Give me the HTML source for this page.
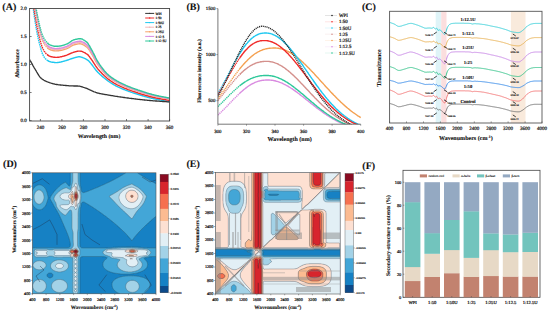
<!DOCTYPE html><html><head><meta charset="utf-8"><style>html,body{margin:0;padding:0;background:#fff;}svg{display:block;}</style></head><body>
<svg width="550" height="313" viewBox="0 0 550 313" text-rendering="geometricPrecision" font-family='"Liberation Serif", serif'>
<rect width="550" height="313" fill="#fff"/>
<svg x="0" y="0" width="550" height="313" overflow="visible">
<defs><clipPath id="clipA"><rect x="29.6" y="8.5" width="140.0" height="112.5"/></clipPath></defs>
<g clip-path="url(#clipA)" fill="none" stroke-width="1.4" stroke-linejoin="round">
<path d="M29.6 -16.7L30.1 -12.6L30.7 -8.7L31.2 -5.1L31.8 -1.5L32.3 2L32.8 5.5L33.4 9.3L33.9 13.2L34.4 17.2L35 20.8L35.5 24.2L36.1 27.4L36.6 30.4L37.1 33.3L37.7 36L38.2 38.5L38.8 40.9L39.3 43.1L39.8 45.2L40.4 47.1L40.9 49L41.4 50.9L42 52.6L42.5 54L43.1 55.2L43.6 56.1L44.1 57L44.7 57.8L45.2 58.5L45.8 59.1L46.3 59.6L46.8 60L47.4 60.4L47.9 60.7" stroke="#1ec8f0" stroke-dasharray="1.5 0.7"/>
<path d="M47.4 60.4L47.9 60.7L48.4 61L49 61.3L49.5 61.5L50.1 61.7L50.6 61.9L51.1 62L51.7 62.1L52.2 62.2L52.8 62.3L53.3 62.3L53.8 62.4L54.4 62.5L54.9 62.5L55.4 62.6L56 62.6L56.5 62.6L57.1 62.6L57.6 62.5L58.1 62.5L58.7 62.4L59.2 62.3L59.8 62.2L60.3 62.1L60.8 62L61.4 61.8L61.9 61.7L62.4 61.6L63 61.4L63.5 61.3L64.1 61.1L64.6 61L65.1 60.9L65.7 60.7L66.2 60.5L66.8 60.3L67.3 60.2L67.8 60L68.4 59.8L68.9 59.6L69.4 59.4L70 59.2L70.5 59L71.1 58.8L71.6 58.7L72.1 58.5L72.7 58.3L73.2 58.2L73.8 58L74.3 57.9L74.8 57.7L75.4 57.5L75.9 57.4L76.4 57.2L77 57.1L77.5 57L78.1 56.9L78.6 56.8L79.1 56.8L79.7 56.8L80.2 56.9L80.8 57L81.3 57.1L81.8 57.3L82.4 57.5L82.9 57.7L83.4 57.9L84 58.1L84.5 58.4L85.1 58.6L85.6 58.9L86.1 59.2L86.7 59.5L87.2 59.8L87.8 60.2L88.3 60.6L88.8 61.1L89.4 61.7L89.9 62.3L90.4 62.9L91 63.6L91.5 64.3L92.1 65L92.6 65.7L93.1 66.4L93.7 67.2L94.2 67.9L94.8 68.6L95.3 69.4L95.8 70L96.4 70.7L96.9 71.3L97.4 71.9L98 72.4L98.5 73L99.1 73.5L99.6 74L100.1 74.5L100.7 75L101.2 75.4L101.8 75.9L102.3 76.4L102.8 76.9L103.4 77.3L103.9 77.8L104.4 78.2L105 78.6L105.5 79.1L106.1 79.5L106.6 79.9L107.1 80.3L107.7 80.7L108.2 81.1L108.8 81.5L109.3 81.8L109.8 82.2L110.4 82.6L110.9 82.9L111.4 83.3L112 83.6L112.5 83.9L113.1 84.3L113.6 84.6L114.1 84.9L114.7 85.2L115.2 85.5L115.8 85.8L116.3 86.1L116.8 86.3L117.4 86.6L117.9 86.9L118.4 87.1L119 87.4L119.5 87.6L120.1 87.9L120.6 88.1L121.1 88.4L121.7 88.6L122.2 88.8L122.8 89L123.3 89.3L123.8 89.5L124.4 89.7L124.9 89.9L125.4 90.1L126 90.3L126.5 90.5L127.1 90.7L127.6 90.9L128.1 91.1L128.7 91.3L129.2 91.5L129.8 91.7L130.3 91.9L130.8 92.1L131.4 92.3L131.9 92.4L132.4 92.6L133 92.8L133.5 93L134.1 93.2L134.6 93.3L135.1 93.5L135.7 93.7L136.2 93.8L136.8 94L137.3 94.2L137.8 94.3L138.4 94.5L138.9 94.7L139.4 94.8L140 95L140.5 95.2L141.1 95.3L141.6 95.5L142.1 95.7L142.7 95.8L143.2 96L143.8 96.1L144.3 96.3L144.8 96.5L145.4 96.6L145.9 96.8L146.4 96.9L147 97.1L147.5 97.2L148.1 97.4L148.6 97.5L149.1 97.6L149.7 97.8L150.2 97.9L150.8 98L151.3 98.2L151.8 98.3L152.4 98.4L152.9 98.5L153.4 98.7L154 98.8L154.5 98.9L155.1 99L155.6 99.1L156.1 99.2L156.7 99.3L157.2 99.4L157.8 99.5L158.3 99.6L158.8 99.7L159.4 99.8L159.9 99.9L160.4 100L161 100.1L161.5 100.2L162.1 100.3L162.6 100.4L163.1 100.5L163.7 100.6L164.2 100.7L164.8 100.8L165.3 100.9L165.8 100.9L166.4 101L166.9 101.1L167.4 101.2L168 101.2L168.5 101.3L169.1 101.4L169.6 101.5" stroke="#1ec8f0"/>
<path d="M29.6 -22.1L30.1 -17.7L30.7 -13.6L31.2 -9.8L31.8 -6.1L32.3 -2.4L32.8 1.1L33.4 4.7L33.9 8.3L34.4 11.9L35 15.2L35.5 18.3L36.1 21.3L36.6 24.3L37.1 27.1L37.7 29.8L38.2 32.3L38.8 34.8L39.3 37.1L39.8 39.2L40.4 41.2L40.9 43.1L41.4 44.9L42 46.6L42.5 48.1L43.1 49.2L43.6 50.2L44.1 51.1L44.7 51.9L45.2 52.7L45.8 53.3L46.3 53.9L46.8 54.3L47.4 54.8L47.9 55.2" stroke="#f02a2a" stroke-dasharray="1.5 0.7"/>
<path d="M47.4 54.8L47.9 55.2L48.4 55.5L49 55.8L49.5 56.1L50.1 56.3L50.6 56.5L51.1 56.7L51.7 56.8L52.2 56.9L52.8 57L53.3 57.1L53.8 57.2L54.4 57.3L54.9 57.3L55.4 57.4L56 57.4L56.5 57.4L57.1 57.4L57.6 57.3L58.1 57.3L58.7 57.2L59.2 57.1L59.8 57L60.3 56.9L60.8 56.8L61.4 56.7L61.9 56.6L62.4 56.4L63 56.3L63.5 56.1L64.1 56L64.6 55.8L65.1 55.7L65.7 55.5L66.2 55.3L66.8 55.1L67.3 54.9L67.8 54.7L68.4 54.5L68.9 54.2L69.4 54L70 53.7L70.5 53.5L71.1 53.2L71.6 53L72.1 52.8L72.7 52.6L73.2 52.4L73.8 52.2L74.3 52.1L74.8 51.9L75.4 51.7L75.9 51.6L76.4 51.5L77 51.3L77.5 51.2L78.1 51.1L78.6 51.1L79.1 51.1L79.7 51.1L80.2 51.1L80.8 51.2L81.3 51.3L81.8 51.4L82.4 51.6L82.9 51.8L83.4 52.1L84 52.4L84.5 52.6L85.1 52.9L85.6 53.3L86.1 53.6L86.7 53.9L87.2 54.3L87.8 54.7L88.3 55.3L88.8 55.9L89.4 56.5L89.9 57.3L90.4 58L91 58.8L91.5 59.6L92.1 60.3L92.6 61.1L93.1 62L93.7 62.8L94.2 63.7L94.8 64.5L95.3 65.4L95.8 66.2L96.4 67L96.9 67.7L97.4 68.4L98 69.1L98.5 69.7L99.1 70.3L99.6 70.9L100.1 71.5L100.7 72.1L101.2 72.6L101.8 73.2L102.3 73.7L102.8 74.3L103.4 74.8L103.9 75.3L104.4 75.8L105 76.3L105.5 76.8L106.1 77.3L106.6 77.8L107.1 78.2L107.7 78.7L108.2 79.1L108.8 79.5L109.3 79.9L109.8 80.3L110.4 80.7L110.9 81L111.4 81.4L112 81.7L112.5 82.1L113.1 82.4L113.6 82.8L114.1 83.1L114.7 83.4L115.2 83.7L115.8 84L116.3 84.3L116.8 84.6L117.4 84.9L117.9 85.1L118.4 85.4L119 85.7L119.5 85.9L120.1 86.2L120.6 86.4L121.1 86.7L121.7 86.9L122.2 87.2L122.8 87.4L123.3 87.6L123.8 87.9L124.4 88.1L124.9 88.3L125.4 88.5L126 88.7L126.5 89L127.1 89.2L127.6 89.4L128.1 89.6L128.7 89.8L129.2 90L129.8 90.2L130.3 90.4L130.8 90.6L131.4 90.8L131.9 90.9L132.4 91.1L133 91.3L133.5 91.5L134.1 91.7L134.6 91.9L135.1 92L135.7 92.2L136.2 92.4L136.8 92.6L137.3 92.7L137.8 92.9L138.4 93.1L138.9 93.3L139.4 93.4L140 93.6L140.5 93.8L141.1 94L141.6 94.1L142.1 94.3L142.7 94.5L143.2 94.6L143.8 94.8L144.3 94.9L144.8 95.1L145.4 95.3L145.9 95.4L146.4 95.6L147 95.7L147.5 95.9L148.1 96L148.6 96.2L149.1 96.3L149.7 96.5L150.2 96.6L150.8 96.8L151.3 96.9L151.8 97L152.4 97.2L152.9 97.3L153.4 97.4L154 97.5L154.5 97.6L155.1 97.8L155.6 97.9L156.1 98L156.7 98.1L157.2 98.2L157.8 98.3L158.3 98.4L158.8 98.5L159.4 98.6L159.9 98.7L160.4 98.8L161 98.9L161.5 99L162.1 99.1L162.6 99.2L163.1 99.3L163.7 99.4L164.2 99.5L164.8 99.6L165.3 99.7L165.8 99.8L166.4 99.9L166.9 100L167.4 100.1L168 100.1L168.5 100.2L169.1 100.3L169.6 100.4" stroke="#f02a2a"/>
<path d="M29.6 -28.8L30.1 -24.2L30.7 -19.8L31.2 -15.6L31.8 -11.7L32.3 -8L32.8 -4.4L33.4 -1.1L33.9 2.2L34.4 5.2L35 8.2L35.5 11L36.1 13.8L36.6 16.6L37.1 19.4L37.7 22.1L38.2 24.7L38.8 27.2L39.3 29.5L39.8 31.7L40.4 33.7L40.9 35.7L41.4 37.5L42 39.2L42.5 40.6L43.1 41.8L43.6 42.8L44.1 43.8L44.7 44.6L45.2 45.4L45.8 46.1L46.3 46.7L46.8 47.2L47.4 47.7L47.9 48.2" stroke="#f7a36a" stroke-dasharray="1.5 0.7"/>
<path d="M47.4 47.7L47.9 48.2L48.4 48.7L49 49L49.5 49.4L50.1 49.6L50.6 49.8L51.1 50L51.7 50.2L52.2 50.3L52.8 50.5L53.3 50.6L53.8 50.7L54.4 50.8L54.9 50.8L55.4 50.9L56 50.9L56.5 50.8L57.1 50.8L57.6 50.8L58.1 50.7L58.7 50.7L59.2 50.6L59.8 50.6L60.3 50.5L60.8 50.4L61.4 50.3L61.9 50.1L62.4 50L63 49.8L63.5 49.7L64.1 49.5L64.6 49.4L65.1 49.2L65.7 49L66.2 48.8L66.8 48.6L67.3 48.4L67.8 48.1L68.4 47.9L68.9 47.6L69.4 47.2L70 46.9L70.5 46.6L71.1 46.2L71.6 45.9L72.1 45.6L72.7 45.3L73.2 45.1L73.8 44.9L74.3 44.8L74.8 44.6L75.4 44.5L75.9 44.4L76.4 44.2L77 44.1L77.5 44L78.1 43.9L78.6 43.9L79.1 43.8L79.7 43.8L80.2 43.8L80.8 43.9L81.3 44L81.8 44.1L82.4 44.3L82.9 44.6L83.4 44.8L84 45.2L84.5 45.5L85.1 45.8L85.6 46.2L86.1 46.6L86.7 47L87.2 47.4L87.8 48L88.3 48.6L88.8 49.4L89.4 50.2L89.9 51L90.4 51.9L91 52.8L91.5 53.7L92.1 54.6L92.6 55.5L93.1 56.4L93.7 57.4L94.2 58.4L94.8 59.4L95.3 60.4L95.8 61.4L96.4 62.3L96.9 63.2L97.4 64.1L98 64.8L98.5 65.6L99.1 66.3L99.6 67L100.1 67.7L100.7 68.4L101.2 69.1L101.8 69.8L102.3 70.4L102.8 71.1L103.4 71.7L103.9 72.3L104.4 72.9L105 73.5L105.5 74.1L106.1 74.6L106.6 75.1L107.1 75.6L107.7 76.1L108.2 76.6L108.8 77L109.3 77.5L109.8 77.9L110.4 78.3L110.9 78.7L111.4 79.1L112 79.4L112.5 79.8L113.1 80.1L113.6 80.5L114.1 80.8L114.7 81.1L115.2 81.4L115.8 81.7L116.3 82.1L116.8 82.4L117.4 82.7L117.9 82.9L118.4 83.2L119 83.5L119.5 83.8L120.1 84.1L120.6 84.3L121.1 84.6L121.7 84.8L122.2 85.1L122.8 85.4L123.3 85.6L123.8 85.8L124.4 86.1L124.9 86.3L125.4 86.5L126 86.8L126.5 87L127.1 87.2L127.6 87.4L128.1 87.6L128.7 87.8L129.2 88.1L129.8 88.3L130.3 88.5L130.8 88.7L131.4 88.9L131.9 89.1L132.4 89.3L133 89.5L133.5 89.7L134.1 89.8L134.6 90L135.1 90.2L135.7 90.4L136.2 90.6L136.8 90.8L137.3 91L137.8 91.1L138.4 91.3L138.9 91.5L139.4 91.7L140 91.9L140.5 92L141.1 92.2L141.6 92.4L142.1 92.6L142.7 92.7L143.2 92.9L143.8 93.1L144.3 93.3L144.8 93.4L145.4 93.6L145.9 93.8L146.4 93.9L147 94.1L147.5 94.2L148.1 94.4L148.6 94.6L149.1 94.7L149.7 94.9L150.2 95L150.8 95.2L151.3 95.3L151.8 95.4L152.4 95.6L152.9 95.7L153.4 95.8L154 96L154.5 96.1L155.1 96.2L155.6 96.3L156.1 96.5L156.7 96.6L157.2 96.7L157.8 96.8L158.3 96.9L158.8 97L159.4 97.1L159.9 97.2L160.4 97.3L161 97.4L161.5 97.5L162.1 97.7L162.6 97.8L163.1 97.9L163.7 98L164.2 98.1L164.8 98.2L165.3 98.3L165.8 98.4L166.4 98.4L166.9 98.5L167.4 98.6L168 98.7L168.5 98.8L169.1 98.9L169.6 99" stroke="#f7a36a"/>
<path d="M29.6 -30L30.1 -25.3L30.7 -20.9L31.2 -16.7L31.8 -12.7L32.3 -8.9L32.8 -5.4L33.4 -2.1L33.9 1.1L34.4 4.1L35 6.9L35.5 9.7L36.1 12.5L36.6 15.2L37.1 18L37.7 20.7L38.2 23.3L38.8 25.8L39.3 28.2L39.8 30.4L40.4 32.4L40.9 34.4L41.4 36.2L42 37.9L42.5 39.3L43.1 40.5L43.6 41.5L44.1 42.5L44.7 43.3L45.2 44.1L45.8 44.8L46.3 45.4L46.8 46L47.4 46.5L47.9 47" stroke="#f3b9b9" stroke-dasharray="1.5 0.7"/>
<path d="M47.4 46.5L47.9 47L48.4 47.5L49 47.8L49.5 48.2L50.1 48.4L50.6 48.6L51.1 48.8L51.7 49L52.2 49.2L52.8 49.3L53.3 49.4L53.8 49.6L54.4 49.6L54.9 49.7L55.4 49.7L56 49.7L56.5 49.7L57.1 49.7L57.6 49.6L58.1 49.6L58.7 49.5L59.2 49.5L59.8 49.4L60.3 49.3L60.8 49.2L61.4 49.1L61.9 49L62.4 48.9L63 48.7L63.5 48.6L64.1 48.4L64.6 48.2L65.1 48L65.7 47.8L66.2 47.6L66.8 47.4L67.3 47.2L67.8 47L68.4 46.7L68.9 46.4L69.4 46.1L70 45.7L70.5 45.3L71.1 45L71.6 44.7L72.1 44.4L72.7 44.1L73.2 43.9L73.8 43.7L74.3 43.5L74.8 43.4L75.4 43.2L75.9 43.1L76.4 43L77 42.9L77.5 42.8L78.1 42.7L78.6 42.6L79.1 42.6L79.7 42.6L80.2 42.6L80.8 42.6L81.3 42.7L81.8 42.9L82.4 43.1L82.9 43.3L83.4 43.6L84 43.9L84.5 44.2L85.1 44.6L85.6 45L86.1 45.4L86.7 45.7L87.2 46.2L87.8 46.8L88.3 47.5L88.8 48.2L89.4 49L89.9 49.9L90.4 50.8L91 51.7L91.5 52.6L92.1 53.5L92.6 54.5L93.1 55.4L93.7 56.4L94.2 57.4L94.8 58.5L95.3 59.5L95.8 60.5L96.4 61.5L96.9 62.4L97.4 63.3L98 64.1L98.5 64.9L99.1 65.6L99.6 66.3L100.1 67.1L100.7 67.8L101.2 68.5L101.8 69.2L102.3 69.9L102.8 70.5L103.4 71.2L103.9 71.8L104.4 72.4L105 73L105.5 73.6L106.1 74.1L106.6 74.7L107.1 75.2L107.7 75.7L108.2 76.2L108.8 76.6L109.3 77.1L109.8 77.5L110.4 77.9L110.9 78.3L111.4 78.7L112 79L112.5 79.4L113.1 79.7L113.6 80.1L114.1 80.4L114.7 80.7L115.2 81L115.8 81.4L116.3 81.7L116.8 82L117.4 82.3L117.9 82.6L118.4 82.9L119 83.1L119.5 83.4L120.1 83.7L120.6 84L121.1 84.2L121.7 84.5L122.2 84.7L122.8 85L123.3 85.2L123.8 85.5L124.4 85.7L124.9 86L125.4 86.2L126 86.4L126.5 86.6L127.1 86.9L127.6 87.1L128.1 87.3L128.7 87.5L129.2 87.7L129.8 87.9L130.3 88.1L130.8 88.3L131.4 88.5L131.9 88.7L132.4 88.9L133 89.1L133.5 89.3L134.1 89.5L134.6 89.7L135.1 89.9L135.7 90.1L136.2 90.3L136.8 90.5L137.3 90.6L137.8 90.8L138.4 91L138.9 91.2L139.4 91.4L140 91.6L140.5 91.7L141.1 91.9L141.6 92.1L142.1 92.3L142.7 92.4L143.2 92.6L143.8 92.8L144.3 93L144.8 93.1L145.4 93.3L145.9 93.5L146.4 93.6L147 93.8L147.5 94L148.1 94.1L148.6 94.3L149.1 94.4L149.7 94.6L150.2 94.7L150.8 94.9L151.3 95L151.8 95.2L152.4 95.3L152.9 95.4L153.4 95.6L154 95.7L154.5 95.8L155.1 95.9L155.6 96.1L156.1 96.2L156.7 96.3L157.2 96.4L157.8 96.5L158.3 96.6L158.8 96.8L159.4 96.9L159.9 97L160.4 97.1L161 97.2L161.5 97.3L162.1 97.4L162.6 97.5L163.1 97.6L163.7 97.7L164.2 97.8L164.8 97.9L165.3 98L165.8 98.1L166.4 98.2L166.9 98.3L167.4 98.4L168 98.5L168.5 98.6L169.1 98.7L169.6 98.8" stroke="#f3b9b9"/>
<path d="M29.6 -31.1L30.1 -26.4L30.7 -22L31.2 -17.7L31.8 -13.7L32.3 -9.9L32.8 -6.4L33.4 -3.1L33.9 0L34.4 2.9L35 5.7L35.5 8.4L36.1 11.1L36.6 13.9L37.1 16.6L37.7 19.4L38.2 22L38.8 24.5L39.3 26.9L39.8 29L40.4 31.1L40.9 33.1L41.4 34.9L42 36.6L42.5 38L43.1 39.2L43.6 40.2L44.1 41.2L44.7 42.1L45.2 42.8L45.8 43.5L46.3 44.1L46.8 44.7L47.4 45.3L47.9 45.8" stroke="#d98be0" stroke-dasharray="1.5 0.7"/>
<path d="M47.4 45.3L47.9 45.8L48.4 46.3L49 46.7L49.5 47L50.1 47.3L50.6 47.5L51.1 47.7L51.7 47.8L52.2 48L52.8 48.2L53.3 48.3L53.8 48.4L54.4 48.5L54.9 48.6L55.4 48.6L56 48.6L56.5 48.6L57.1 48.5L57.6 48.5L58.1 48.5L58.7 48.4L59.2 48.3L59.8 48.3L60.3 48.2L60.8 48.1L61.4 48L61.9 47.9L62.4 47.8L63 47.6L63.5 47.4L64.1 47.3L64.6 47.1L65.1 46.9L65.7 46.7L66.2 46.5L66.8 46.3L67.3 46.1L67.8 45.8L68.4 45.5L68.9 45.2L69.4 44.9L70 44.5L70.5 44.1L71.1 43.8L71.6 43.4L72.1 43.1L72.7 42.8L73.2 42.6L73.8 42.4L74.3 42.3L74.8 42.1L75.4 42L75.9 41.8L76.4 41.7L77 41.6L77.5 41.5L78.1 41.4L78.6 41.4L79.1 41.3L79.7 41.3L80.2 41.3L80.8 41.3L81.3 41.4L81.8 41.6L82.4 41.8L82.9 42L83.4 42.3L84 42.6L84.5 43L85.1 43.3L85.6 43.7L86.1 44.1L86.7 44.5L87.2 45L87.8 45.6L88.3 46.3L88.8 47.1L89.4 47.9L89.9 48.8L90.4 49.7L91 50.7L91.5 51.6L92.1 52.5L92.6 53.5L93.1 54.4L93.7 55.5L94.2 56.5L94.8 57.6L95.3 58.6L95.8 59.7L96.4 60.7L96.9 61.6L97.4 62.5L98 63.3L98.5 64.1L99.1 64.9L99.6 65.7L100.1 66.4L100.7 67.2L101.2 67.9L101.8 68.6L102.3 69.3L102.8 70L103.4 70.6L103.9 71.3L104.4 71.9L105 72.5L105.5 73.1L106.1 73.6L106.6 74.2L107.1 74.7L107.7 75.2L108.2 75.7L108.8 76.2L109.3 76.6L109.8 77.1L110.4 77.5L110.9 77.9L111.4 78.2L112 78.6L112.5 79L113.1 79.3L113.6 79.7L114.1 80L114.7 80.3L115.2 80.6L115.8 81L116.3 81.3L116.8 81.6L117.4 81.9L117.9 82.2L118.4 82.5L119 82.8L119.5 83L120.1 83.3L120.6 83.6L121.1 83.9L121.7 84.1L122.2 84.4L122.8 84.6L123.3 84.9L123.8 85.1L124.4 85.4L124.9 85.6L125.4 85.8L126 86.1L126.5 86.3L127.1 86.5L127.6 86.7L128.1 87L128.7 87.2L129.2 87.4L129.8 87.6L130.3 87.8L130.8 88L131.4 88.2L131.9 88.4L132.4 88.6L133 88.8L133.5 89L134.1 89.2L134.6 89.4L135.1 89.6L135.7 89.8L136.2 90L136.8 90.1L137.3 90.3L137.8 90.5L138.4 90.7L138.9 90.9L139.4 91.1L140 91.2L140.5 91.4L141.1 91.6L141.6 91.8L142.1 92L142.7 92.1L143.2 92.3L143.8 92.5L144.3 92.7L144.8 92.8L145.4 93L145.9 93.2L146.4 93.3L147 93.5L147.5 93.7L148.1 93.8L148.6 94L149.1 94.1L149.7 94.3L150.2 94.4L150.8 94.6L151.3 94.7L151.8 94.9L152.4 95L152.9 95.2L153.4 95.3L154 95.4L154.5 95.5L155.1 95.7L155.6 95.8L156.1 95.9L156.7 96L157.2 96.2L157.8 96.3L158.3 96.4L158.8 96.5L159.4 96.6L159.9 96.7L160.4 96.8L161 96.9L161.5 97L162.1 97.1L162.6 97.2L163.1 97.3L163.7 97.4L164.2 97.5L164.8 97.6L165.3 97.7L165.8 97.8L166.4 97.9L166.9 98.1L167.4 98.2L168 98.3L168.5 98.4L169.1 98.5L169.6 98.6" stroke="#d98be0"/>
<path d="M29.6 -33.5L30.1 -28.7L30.7 -24.1L31.2 -19.8L31.8 -15.6L32.3 -11.8L32.8 -8.3L33.4 -5.1L33.9 -2.1L34.4 0.6L35 3.3L35.5 5.9L36.1 8.5L36.6 11.2L37.1 13.9L37.7 16.6L38.2 19.3L38.8 21.8L39.3 24.2L39.8 26.4L40.4 28.5L40.9 30.5L41.4 32.3L42 34L42.5 35.4L43.1 36.6L43.6 37.6L44.1 38.6L44.7 39.5L45.2 40.3L45.8 41L46.3 41.6L46.8 42.2L47.4 42.8L47.9 43.4" stroke="#2ec89a" stroke-dasharray="1.5 0.7"/>
<path d="M47.4 42.8L47.9 43.4L48.4 43.9L49 44.3L49.5 44.6L50.1 44.9L50.6 45.1L51.1 45.3L51.7 45.5L52.2 45.7L52.8 45.9L53.3 46L53.8 46.1L54.4 46.2L54.9 46.3L55.4 46.3L56 46.3L56.5 46.3L57.1 46.2L57.6 46.2L58.1 46.2L58.7 46.1L59.2 46.1L59.8 46L60.3 46L60.8 45.9L61.4 45.8L61.9 45.6L62.4 45.5L63 45.4L63.5 45.2L64.1 45L64.6 44.8L65.1 44.6L65.7 44.4L66.2 44.2L66.8 44L67.3 43.8L67.8 43.5L68.4 43.2L68.9 42.9L69.4 42.5L70 42.1L70.5 41.7L71.1 41.3L71.6 40.9L72.1 40.6L72.7 40.3L73.2 40L73.8 39.9L74.3 39.7L74.8 39.6L75.4 39.4L75.9 39.3L76.4 39.2L77 39.1L77.5 39L78.1 38.9L78.6 38.8L79.1 38.8L79.7 38.8L80.2 38.7L80.8 38.8L81.3 38.9L81.8 39L82.4 39.2L82.9 39.5L83.4 39.8L84 40.1L84.5 40.5L85.1 40.9L85.6 41.3L86.1 41.7L86.7 42.1L87.2 42.6L87.8 43.2L88.3 44L88.8 44.8L89.4 45.7L89.9 46.6L90.4 47.6L91 48.6L91.5 49.6L92.1 50.5L92.6 51.5L93.1 52.5L93.7 53.6L94.2 54.7L94.8 55.8L95.3 56.9L95.8 58L96.4 59L96.9 60.1L97.4 61L98 61.9L98.5 62.7L99.1 63.5L99.6 64.3L100.1 65.1L100.7 65.9L101.2 66.6L101.8 67.4L102.3 68.1L102.8 68.8L103.4 69.5L103.9 70.2L104.4 70.9L105 71.5L105.5 72.1L106.1 72.7L106.6 73.3L107.1 73.8L107.7 74.3L108.2 74.9L108.8 75.3L109.3 75.8L109.8 76.2L110.4 76.6L110.9 77L111.4 77.4L112 77.8L112.5 78.2L113.1 78.5L113.6 78.9L114.1 79.2L114.7 79.5L115.2 79.9L115.8 80.2L116.3 80.5L116.8 80.8L117.4 81.1L117.9 81.4L118.4 81.7L119 82L119.5 82.3L120.1 82.6L120.6 82.9L121.1 83.1L121.7 83.4L122.2 83.7L122.8 83.9L123.3 84.2L123.8 84.4L124.4 84.7L124.9 84.9L125.4 85.1L126 85.4L126.5 85.6L127.1 85.8L127.6 86.1L128.1 86.3L128.7 86.5L129.2 86.7L129.8 86.9L130.3 87.1L130.8 87.3L131.4 87.6L131.9 87.8L132.4 88L133 88.2L133.5 88.4L134.1 88.6L134.6 88.7L135.1 88.9L135.7 89.1L136.2 89.3L136.8 89.5L137.3 89.7L137.8 89.9L138.4 90.1L138.9 90.3L139.4 90.4L140 90.6L140.5 90.8L141.1 91L141.6 91.2L142.1 91.4L142.7 91.5L143.2 91.7L143.8 91.9L144.3 92.1L144.8 92.2L145.4 92.4L145.9 92.6L146.4 92.8L147 92.9L147.5 93.1L148.1 93.3L148.6 93.4L149.1 93.6L149.7 93.7L150.2 93.9L150.8 94L151.3 94.2L151.8 94.3L152.4 94.5L152.9 94.6L153.4 94.7L154 94.9L154.5 95L155.1 95.1L155.6 95.3L156.1 95.4L156.7 95.5L157.2 95.6L157.8 95.7L158.3 95.8L158.8 96L159.4 96.1L159.9 96.2L160.4 96.3L161 96.4L161.5 96.5L162.1 96.6L162.6 96.7L163.1 96.8L163.7 96.9L164.2 97L164.8 97.1L165.3 97.2L165.8 97.3L166.4 97.4L166.9 97.6L167.4 97.7L168 97.8L168.5 97.9L169.1 98L169.6 98.1" stroke="#2ec89a"/>
<path d="M29.6 59.6L30.1 60.5L30.7 61.4L31.2 62.4L31.8 63.4L32.3 64.3L32.8 65.3L33.4 66.3L33.9 67.2L34.4 68.1L35 69L35.5 69.9L36.1 70.8L36.6 71.8L37.1 72.7L37.7 73.6L38.2 74.5L38.8 75.3L39.3 76.1L39.8 76.8L40.4 77.5L40.9 78L41.4 78.5L42 78.9L42.5 79.3L43.1 79.6L43.6 80L44.1 80.3L44.7 80.6L45.2 80.9L45.8 81.2L46.3 81.4L46.8 81.6L47.4 81.8L47.9 82L48.4 82.3L49 82.4L49.5 82.6L50.1 82.8L50.6 83L51.1 83.2L51.7 83.3L52.2 83.5L52.8 83.6L53.3 83.8L53.8 83.9L54.4 84L54.9 84.2L55.4 84.3L56 84.4L56.5 84.5L57.1 84.5L57.6 84.6L58.1 84.7L58.7 84.8L59.2 84.8L59.8 84.9L60.3 85L60.8 85L61.4 85.1L61.9 85.1L62.4 85.2L63 85.2L63.5 85.3L64.1 85.3L64.6 85.4L65.1 85.4L65.7 85.5L66.2 85.5L66.8 85.6L67.3 85.6L67.8 85.7L68.4 85.7L68.9 85.8L69.4 85.8L70 85.8L70.5 85.9L71.1 85.9L71.6 85.9L72.1 85.9L72.7 85.9L73.2 85.9L73.8 86L74.3 86L74.8 86L75.4 86L75.9 86L76.4 86L77 86L77.5 86L78.1 86.1L78.6 86.1L79.1 86.1L79.7 86.2L80.2 86.3L80.8 86.5L81.3 86.6L81.8 86.8L82.4 86.9L82.9 87.1L83.4 87.3L84 87.5L84.5 87.7L85.1 87.9L85.6 88.1L86.1 88.2L86.7 88.4L87.2 88.6L87.8 88.9L88.3 89.1L88.8 89.3L89.4 89.6L89.9 89.8L90.4 90.1L91 90.3L91.5 90.6L92.1 90.8L92.6 91.1L93.1 91.3L93.7 91.6L94.2 91.8L94.8 92L95.3 92.2L95.8 92.4L96.4 92.6L96.9 92.8L97.4 93L98 93.1L98.5 93.2L99.1 93.4L99.6 93.5L100.1 93.6L100.7 93.7L101.2 93.8L101.8 93.9L102.3 94L102.8 94.1L103.4 94.2L103.9 94.3L104.4 94.4L105 94.5L105.5 94.6L106.1 94.6L106.6 94.7L107.1 94.8L107.7 94.9L108.2 95L108.8 95.1L109.3 95.2L109.8 95.3L110.4 95.4L110.9 95.5L111.4 95.6L112 95.7L112.5 95.7L113.1 95.8L113.6 95.9L114.1 96L114.7 96.1L115.2 96.2L115.8 96.3L116.3 96.4L116.8 96.4L117.4 96.5L117.9 96.6L118.4 96.7L119 96.8L119.5 96.8L120.1 96.9L120.6 97L121.1 97.1L121.7 97.2L122.2 97.2L122.8 97.3L123.3 97.4L123.8 97.5L124.4 97.5L124.9 97.6L125.4 97.7L126 97.8L126.5 97.8L127.1 97.9L127.6 98L128.1 98L128.7 98.1L129.2 98.2L129.8 98.3L130.3 98.3L130.8 98.4L131.4 98.5L131.9 98.5L132.4 98.6L133 98.7L133.5 98.7L134.1 98.8L134.6 98.9L135.1 98.9L135.7 99L136.2 99.1L136.8 99.1L137.3 99.2L137.8 99.3L138.4 99.3L138.9 99.4L139.4 99.4L140 99.5L140.5 99.6L141.1 99.6L141.6 99.7L142.1 99.7L142.7 99.8L143.2 99.9L143.8 99.9L144.3 100L144.8 100L145.4 100.1L145.9 100.1L146.4 100.2L147 100.2L147.5 100.3L148.1 100.3L148.6 100.4L149.1 100.4L149.7 100.5L150.2 100.5L150.8 100.6L151.3 100.6L151.8 100.7L152.4 100.7L152.9 100.8L153.4 100.8L154 100.8L154.5 100.9L155.1 100.9L155.6 101L156.1 101L156.7 101L157.2 101.1L157.8 101.1L158.3 101.1L158.8 101.2L159.4 101.2L159.9 101.3L160.4 101.3L161 101.3L161.5 101.4L162.1 101.4L162.6 101.5L163.1 101.5L163.7 101.5L164.2 101.6L164.8 101.6L165.3 101.7L165.8 101.7L166.4 101.7L166.9 101.8L167.4 101.8L168 101.9L168.5 101.9L169.1 102L169.6 102" stroke="#333" stroke-width="1.3"/>
</g>
<rect x="29.6" y="8.5" width="140.0" height="112.5" fill="none" stroke="#444" stroke-width="0.9"/>
<line x1="40.4" y1="121.0" x2="40.4" y2="119.0" stroke="#444" stroke-width="0.7"/>
<text x="40.4" y="128.6" font-size="5.0" text-anchor="middle" stroke="#111" stroke-width="0.2" fill="#111" >240</text>
<line x1="61.9" y1="121.0" x2="61.9" y2="119.0" stroke="#444" stroke-width="0.7"/>
<text x="61.9" y="128.6" font-size="5.0" text-anchor="middle" stroke="#111" stroke-width="0.2" fill="#111" >260</text>
<line x1="83.4" y1="121.0" x2="83.4" y2="119.0" stroke="#444" stroke-width="0.7"/>
<text x="83.4" y="128.6" font-size="5.0" text-anchor="middle" stroke="#111" stroke-width="0.2" fill="#111" >280</text>
<line x1="105" y1="121.0" x2="105" y2="119.0" stroke="#444" stroke-width="0.7"/>
<text x="105" y="128.6" font-size="5.0" text-anchor="middle" stroke="#111" stroke-width="0.2" fill="#111" >300</text>
<line x1="126.5" y1="121.0" x2="126.5" y2="119.0" stroke="#444" stroke-width="0.7"/>
<text x="126.5" y="128.6" font-size="5.0" text-anchor="middle" stroke="#111" stroke-width="0.2" fill="#111" >320</text>
<line x1="148.1" y1="121.0" x2="148.1" y2="119.0" stroke="#444" stroke-width="0.7"/>
<text x="148.1" y="128.6" font-size="5.0" text-anchor="middle" stroke="#111" stroke-width="0.2" fill="#111" >340</text>
<line x1="169.6" y1="121.0" x2="169.6" y2="119.0" stroke="#444" stroke-width="0.7"/>
<text x="169.6" y="128.6" font-size="5.0" text-anchor="middle" stroke="#111" stroke-width="0.2" fill="#111" >360</text>
<line x1="29.6" y1="120.5" x2="31.6" y2="120.5" stroke="#444" stroke-width="0.7"/>
<text x="26.8" y="122.2" font-size="5.0" text-anchor="end" stroke="#111" stroke-width="0.2" fill="#111" >0.0</text>
<line x1="29.6" y1="92.5" x2="31.6" y2="92.5" stroke="#444" stroke-width="0.7"/>
<text x="26.8" y="94.2" font-size="5.0" text-anchor="end" stroke="#111" stroke-width="0.2" fill="#111" >0.5</text>
<line x1="29.6" y1="64.5" x2="31.6" y2="64.5" stroke="#444" stroke-width="0.7"/>
<text x="26.8" y="66.2" font-size="5.0" text-anchor="end" stroke="#111" stroke-width="0.2" fill="#111" >1.0</text>
<line x1="29.6" y1="36.5" x2="31.6" y2="36.5" stroke="#444" stroke-width="0.7"/>
<text x="26.8" y="38.2" font-size="5.0" text-anchor="end" stroke="#111" stroke-width="0.2" fill="#111" >1.5</text>
<line x1="29.6" y1="8.5" x2="31.6" y2="8.5" stroke="#444" stroke-width="0.7"/>
<text x="26.8" y="10.2" font-size="5.0" text-anchor="end" stroke="#111" stroke-width="0.2" fill="#111" >2.0</text>
<text x="99" y="138.3" font-size="5.8" text-anchor="middle" font-weight="bold" stroke="#111" stroke-width="0.12" fill="#111" >Wavelength (nm)</text>
<text x="19.3" y="63.5" font-size="5.6" text-anchor="middle" font-weight="bold" stroke="#111" stroke-width="0.12" transform="rotate(-90 19.3 63.5)" fill="#111" >Absorbance</text>
<text x="9.3" y="10.4" font-size="10.0" text-anchor="middle" font-weight="bold" stroke="#111" stroke-width="0.12" fill="#111" >(A)</text>
<line x1="145.2" y1="13.4" x2="154.2" y2="13.4" stroke="#333" stroke-width="1.0"/>
<circle cx="149.7" cy="13.4" r="0.7" fill="#333"/>
<text x="155.5" y="14.6" font-size="3.4" text-anchor="start" stroke="#111" stroke-width="0.2" fill="#111" >WPI</text>
<line x1="145.2" y1="18" x2="154.2" y2="18" stroke="#f02a2a" stroke-width="1.0"/>
<circle cx="149.7" cy="18" r="0.7" fill="#f02a2a"/>
<text x="155.5" y="19.2" font-size="3.4" text-anchor="start" stroke="#111" stroke-width="0.2" fill="#111" >1:50</text>
<line x1="145.2" y1="22.6" x2="154.2" y2="22.6" stroke="#1ec8f0" stroke-width="1.0"/>
<circle cx="149.7" cy="22.6" r="0.7" fill="#1ec8f0"/>
<text x="155.5" y="23.8" font-size="3.4" text-anchor="start" stroke="#111" stroke-width="0.2" fill="#111" >1:50U</text>
<line x1="145.2" y1="27.2" x2="154.2" y2="27.2" stroke="#f3b9b9" stroke-width="1.0"/>
<circle cx="149.7" cy="27.2" r="0.7" fill="#f3b9b9"/>
<text x="155.5" y="28.4" font-size="3.4" text-anchor="start" stroke="#111" stroke-width="0.2" fill="#111" >1:25</text>
<line x1="145.2" y1="31.8" x2="154.2" y2="31.8" stroke="#f7a36a" stroke-width="1.0"/>
<circle cx="149.7" cy="31.8" r="0.7" fill="#f7a36a"/>
<text x="155.5" y="33" font-size="3.4" text-anchor="start" stroke="#111" stroke-width="0.2" fill="#111" >1:25U</text>
<line x1="145.2" y1="36.4" x2="154.2" y2="36.4" stroke="#d98be0" stroke-width="1.0"/>
<circle cx="149.7" cy="36.4" r="0.7" fill="#d98be0"/>
<text x="155.5" y="37.6" font-size="3.4" text-anchor="start" stroke="#111" stroke-width="0.2" fill="#111" >1:12.5</text>
<line x1="145.2" y1="41" x2="154.2" y2="41" stroke="#2ec89a" stroke-width="1.0"/>
<circle cx="149.7" cy="41" r="0.7" fill="#2ec89a"/>
<text x="155.5" y="42.2" font-size="3.4" text-anchor="start" stroke="#111" stroke-width="0.2" fill="#111" >1:12.5U</text>
</svg>
<defs><clipPath id="clipB"><rect x="217.9" y="0" width="144.79999999999998" height="124.2"/></clipPath></defs>
<g clip-path="url(#clipB)" fill="none" stroke-width="1.4">
<path d="M217.9 98.6L218.6 97.6L219.3 96.7L220 95.7L220.8 94.8L221.5 93.8L222.2 92.8L222.9 91.8L223.6 90.8L224.3 89.8L225 88.8L225.8 87.8L226.5 86.8L227.2 85.8L227.9 84.8L228.6 83.8L229.3 82.8L230 81.8L230.8 80.8L231.5 79.8L232.2 78.9L232.9 77.9L233.6 76.9L234.3 75.9L235 75L235.8 74L236.5 73.1L237.2 72.1L237.9 71.2L238.6 70.3L239.3 69.4L240 68.5L240.7 67.6" stroke="#f4a050" stroke-dasharray="1.3 0.7"/>
<path d="M240 68.5L240.7 67.6L241.5 66.8L242.2 65.9L242.9 65.1L243.6 64.3L244.3 63.5L245 62.7L245.7 61.9L246.5 61.2L247.2 60.5L247.9 59.7L248.6 59.1L249.3 58.4L250 57.7L250.7 57.1L251.5 56.5L252.2 55.9L252.9 55.4L253.6 54.8L254.3 54.3L255 53.8L255.7 53.3L256.5 52.9L257.2 52.4L257.9 52L258.6 51.6L259.3 51.3L260 50.9L260.7 50.6L261.5 50.3L262.2 50L262.9 49.7L263.6 49.5L264.3 49.3L265 49.1L265.7 48.9L266.5 48.7L267.2 48.6L267.9 48.5L268.6 48.4L269.3 48.3L270 48.2L270.7 48.1L271.4 48.1L272.2 48.1L272.9 48L273.6 48L274.3 48L275 48L275.7 48L276.4 48.1L277.2 48.1L277.9 48.2L278.6 48.3L279.3 48.5L280 48.6L280.7 48.8L281.4 48.9L282.2 49.1L282.9 49.4L283.6 49.6L284.3 49.8L285 50.1L285.7 50.4L286.4 50.7L287.2 51.1L287.9 51.4L288.6 51.8L289.3 52.2L290 52.6L290.7 53L291.4 53.4L292.2 53.9L292.9 54.3L293.6 54.8L294.3 55.3L295 55.8L295.7 56.3L296.4 56.9L297.2 57.4L297.9 58L298.6 58.6L299.3 59.2L300 59.8L300.7 60.4L301.4 61L302.2 61.7L302.9 62.3L303.6 63L304.3 63.7L305 64.3L305.7 65L306.4 65.7L307.1 66.4L307.9 67.2L308.6 67.9L309.3 68.6L310 69.4L310.7 70.1L311.4 70.9L312.1 71.6L312.9 72.4L313.6 73.1L314.3 73.9L315 74.7L315.7 75.5L316.4 76.2L317.1 77L317.9 77.8L318.6 78.6L319.3 79.4L320 80.2L320.7 81L321.4 81.7L322.1 82.5L322.9 83.3L323.6 84.1L324.3 84.9L325 85.7L325.7 86.5L326.4 87.3L327.1 88L327.9 88.8L328.6 89.6L329.3 90.3L330 91.1L330.7 91.9L331.4 92.6L332.1 93.4L332.9 94.1L333.6 94.9L334.3 95.6L335 96.3L335.7 97.1L336.4 97.8L337.1 98.5L337.9 99.2L338.6 99.9L339.3 100.6L340 101.3L340.7 102L341.4 102.6L342.1 103.3L342.9 104L343.6 104.6L344.3 105.2L345 105.9L345.7 106.5L346.4 107.1L347.1 107.7L347.8 108.3L348.6 108.9L349.3 109.5L350 110.1L350.7 110.6L351.4 111.2L352.1 111.7L352.8 112.3L353.6 112.8L354.3 113.3L355 113.8L355.7 114.3L356.4 114.8L357.1 115.3L357.8 115.8L358.6 116.2L359.3 116.7L360 117.1L360.7 117.6" stroke="#f4a050"/>
<path d="M217.9 93.8L218.6 92.5L219.3 91.2L220 89.9L220.8 88.6L221.5 87.3L222.2 86L222.9 84.6L223.6 83.3L224.3 81.9L225 80.5L225.8 79.2L226.5 77.8L227.2 76.4L227.9 75.1L228.6 73.7L229.3 72.3L230 71L230.8 69.6L231.5 68.2L232.2 66.9L232.9 65.6L233.6 64.3L234.3 62.9L235 61.6L235.8 60.4L236.5 59.1L237.2 57.9L237.9 56.6L238.6 55.4L239.3 54.3L240 53.1L240.7 52" stroke="#1ec8f0" stroke-dasharray="1.3 0.7"/>
<path d="M240 53.1L240.7 52L241.5 50.9L242.2 49.8L242.9 48.7L243.6 47.7L244.3 46.7L245 45.8L245.7 44.8L246.5 43.9L247.2 43.1L247.9 42.2L248.6 41.5L249.3 40.7L250 40L250.7 39.3L251.5 38.6L252.2 38L252.9 37.5L253.6 36.9L254.3 36.4L255 36L255.7 35.5L256.5 35.1L257.2 34.8L257.9 34.5L258.6 34.2L259.3 33.9L260 33.7L260.7 33.5L261.5 33.4L262.2 33.2L262.9 33.1L263.6 33.1L264.3 33L265 33L265.7 33L266.5 33L267.2 33.1L267.9 33.1L268.6 33.2L269.3 33.4L270 33.5L270.7 33.7L271.4 33.9L272.2 34.2L272.9 34.5L273.6 34.8L274.3 35.1L275 35.4L275.7 35.8L276.4 36.2L277.2 36.7L277.9 37.1L278.6 37.6L279.3 38.1L280 38.7L280.7 39.2L281.4 39.8L282.2 40.4L282.9 41L283.6 41.7L284.3 42.4L285 43.1L285.7 43.8L286.4 44.5L287.2 45.3L287.9 46.1L288.6 46.8L289.3 47.7L290 48.5L290.7 49.3L291.4 50.2L292.2 51.1L292.9 52L293.6 52.9L294.3 53.8L295 54.7L295.7 55.6L296.4 56.6L297.2 57.6L297.9 58.5L298.6 59.5L299.3 60.5L300 61.5L300.7 62.5L301.4 63.5L302.2 64.5L302.9 65.5L303.6 66.6L304.3 67.6L305 68.6L305.7 69.6L306.4 70.7L307.1 71.7L307.9 72.7L308.6 73.8L309.3 74.8L310 75.8L310.7 76.9L311.4 77.9L312.1 78.9L312.9 79.9L313.6 81L314.3 82L315 83L315.7 84L316.4 85L317.1 86L317.9 86.9L318.6 87.9L319.3 88.9L320 89.8L320.7 90.8L321.4 91.7L322.1 92.7L322.9 93.6L323.6 94.5L324.3 95.4L325 96.3L325.7 97.2L326.4 98L327.1 98.9L327.9 99.7L328.6 100.6L329.3 101.4L330 102.2L330.7 103L331.4 103.8L332.1 104.6L332.9 105.3L333.6 106.1L334.3 106.8L335 107.5L335.7 108.3L336.4 109L337.1 109.6L337.9 110.3L338.6 111L339.3 111.6L340 112.2L340.7 112.9L341.4 113.5L342.1 114.1L342.9 114.6L343.6 115.2L344.3 115.8L345 116.3L345.7 116.8L346.4 117.4L347.1 117.9L347.8 118.4L348.6 118.8L349.3 119.3L350 119.8L350.7 120.2L351.4 120.7L352.1 121.1L352.8 121.5L353.6 121.9L354.3 122.3L355 122.7L355.7 123L356.4 123.4L357.1 123.7L357.8 124.1L358.6 124.4L359.3 124.7L360 125L360.7 125.3" stroke="#1ec8f0"/>
<path d="M217.9 94.8L218.6 93.7L219.3 92.4L220 91.2L220.8 90L221.5 88.8L222.2 87.5L222.9 86.3L223.6 85L224.3 83.7L225 82.5L225.8 81.2L226.5 79.9L227.2 78.7L227.9 77.4L228.6 76.1L229.3 74.9L230 73.6L230.8 72.4L231.5 71.2L232.2 69.9L232.9 68.7L233.6 67.5L234.3 66.3L235 65.1L235.8 64L236.5 62.9L237.2 61.7L237.9 60.6L238.6 59.6L239.3 58.5L240 57.5L240.7 56.5" stroke="#f02a2a" stroke-dasharray="1.3 0.7"/>
<path d="M240 57.5L240.7 56.5L241.5 55.5L242.2 54.5L242.9 53.6L243.6 52.7L244.3 51.8L245 51L245.7 50.2L246.5 49.4L247.2 48.7L247.9 47.9L248.6 47.3L249.3 46.6L250 46L250.7 45.4L251.5 44.9L252.2 44.4L252.9 43.9L253.6 43.5L254.3 43L255 42.7L255.7 42.3L256.5 42L257.2 41.7L257.9 41.5L258.6 41.3L259.3 41.1L260 40.9L260.7 40.8L261.5 40.7L262.2 40.6L262.9 40.6L263.6 40.6L264.3 40.6L265 40.6L265.7 40.6L266.5 40.6L267.2 40.7L267.9 40.8L268.6 41L269.3 41.1L270 41.3L270.7 41.5L271.4 41.8L272.2 42L272.9 42.3L273.6 42.6L274.3 43L275 43.3L275.7 43.7L276.4 44.1L277.2 44.6L277.9 45L278.6 45.5L279.3 46L280 46.5L280.7 47.1L281.4 47.7L282.2 48.2L282.9 48.9L283.6 49.5L284.3 50.1L285 50.8L285.7 51.5L286.4 52.2L287.2 52.9L287.9 53.6L288.6 54.4L289.3 55.2L290 55.9L290.7 56.7L291.4 57.5L292.2 58.4L292.9 59.2L293.6 60L294.3 60.9L295 61.8L295.7 62.6L296.4 63.5L297.2 64.4L297.9 65.3L298.6 66.2L299.3 67.1L300 68.1L300.7 69L301.4 69.9L302.2 70.9L302.9 71.8L303.6 72.7L304.3 73.7L305 74.6L305.7 75.6L306.4 76.5L307.1 77.5L307.9 78.4L308.6 79.4L309.3 80.3L310 81.3L310.7 82.2L311.4 83.1L312.1 84.1L312.9 85L313.6 85.9L314.3 86.9L315 87.8L315.7 88.7L316.4 89.6L317.1 90.5L317.9 91.4L318.6 92.3L319.3 93.2L320 94L320.7 94.9L321.4 95.8L322.1 96.6L322.9 97.4L323.6 98.3L324.3 99.1L325 99.9L325.7 100.7L326.4 101.5L327.1 102.3L327.9 103L328.6 103.8L329.3 104.5L330 105.3L330.7 106L331.4 106.7L332.1 107.4L332.9 108.1L333.6 108.8L334.3 109.4L335 110.1L335.7 110.7L336.4 111.3L337.1 112L337.9 112.6L338.6 113.2L339.3 113.7L340 114.3L340.7 114.9L341.4 115.4L342.1 116L342.9 116.5L343.6 117L344.3 117.5L345 118L345.7 118.5L346.4 118.9L347.1 119.4L347.8 119.8L348.6 120.3L349.3 120.7L350 121.1L350.7 121.5L351.4 121.9L352.1 122.3L352.8 122.6L353.6 123L354.3 123.4L355 123.7L355.7 124L356.4 124.3L357.1 124.7L357.8 125L358.6 125.3L359.3 125.5L360 125.8L360.7 126.1" stroke="#f02a2a"/>
<path d="M217.9 100.5L218.6 99.7L219.3 98.8L220 97.9L220.8 97L221.5 96.1L222.2 95.3L222.9 94.4L223.6 93.5L224.3 92.6L225 91.7L225.8 90.8L226.5 89.9L227.2 89L227.9 88.1L228.6 87.2L229.3 86.3L230 85.5L230.8 84.6L231.5 83.7L232.2 82.9L232.9 82L233.6 81.2L234.3 80.4L235 79.6L235.8 78.8L236.5 78L237.2 77.2L237.9 76.4L238.6 75.7L239.3 74.9L240 74.2L240.7 73.5" stroke="#d4908c" stroke-dasharray="1.3 0.7"/>
<path d="M240 74.2L240.7 73.5L241.5 72.8L242.2 72.1L242.9 71.5L243.6 70.8L244.3 70.2L245 69.6L245.7 69.1L246.5 68.5L247.2 68L247.9 67.4L248.6 67L249.3 66.5L250 66L250.7 65.6L251.5 65.2L252.2 64.8L252.9 64.4L253.6 64.1L254.3 63.8L255 63.5L255.7 63.2L256.5 62.9L257.2 62.7L257.9 62.5L258.6 62.3L259.3 62.1L260 62L260.7 61.8L261.5 61.7L262.2 61.6L262.9 61.5L263.6 61.5L264.3 61.4L265 61.4L265.7 61.4L266.5 61.4L267.2 61.4L267.9 61.4L268.6 61.4L269.3 61.5L270 61.6L270.7 61.7L271.4 61.9L272.2 62L272.9 62.2L273.6 62.4L274.3 62.6L275 62.9L275.7 63.1L276.4 63.4L277.2 63.7L277.9 64L278.6 64.4L279.3 64.8L280 65.1L280.7 65.5L281.4 66L282.2 66.4L282.9 66.9L283.6 67.3L284.3 67.8L285 68.3L285.7 68.9L286.4 69.4L287.2 70L287.9 70.5L288.6 71.1L289.3 71.7L290 72.3L290.7 72.9L291.4 73.6L292.2 74.2L292.9 74.9L293.6 75.5L294.3 76.2L295 76.9L295.7 77.6L296.4 78.3L297.2 79L297.9 79.7L298.6 80.5L299.3 81.2L300 81.9L300.7 82.7L301.4 83.4L302.2 84.2L302.9 84.9L303.6 85.7L304.3 86.5L305 87.2L305.7 88L306.4 88.8L307.1 89.5L307.9 90.3L308.6 91.1L309.3 91.8L310 92.6L310.7 93.4L311.4 94.1L312.1 94.9L312.9 95.6L313.6 96.4L314.3 97.1L315 97.9L315.7 98.6L316.4 99.3L317.1 100.1L317.9 100.8L318.6 101.5L319.3 102.2L320 102.9L320.7 103.6L321.4 104.3L322.1 105L322.9 105.7L323.6 106.3L324.3 107L325 107.6L325.7 108.3L326.4 108.9L327.1 109.5L327.9 110.1L328.6 110.7L329.3 111.3L330 111.9L330.7 112.5L331.4 113.1L332.1 113.6L332.9 114.2L333.6 114.7L334.3 115.2L335 115.7L335.7 116.3L336.4 116.8L337.1 117.2L337.9 117.7L338.6 118.2L339.3 118.6L340 119.1L340.7 119.5L341.4 120L342.1 120.4L342.9 120.8L343.6 121.2L344.3 121.6L345 122L345.7 122.3L346.4 122.7L347.1 123L347.8 123.4L348.6 123.7L349.3 124L350 124.4L350.7 124.7L351.4 125L352.1 125.3L352.8 125.5L353.6 125.8L354.3 126.1L355 126.3L355.7 126.6L356.4 126.8L357.1 127.1L357.8 127.3L358.6 127.5L359.3 127.7L360 127.9L360.7 128.1" stroke="#d4908c"/>
<path d="M217.9 115L218.6 114.4L219.3 113.7L220 113.1L220.8 112.4L221.5 111.7L222.2 111L222.9 110.3L223.6 109.6L224.3 108.9L225 108.2L225.8 107.5L226.5 106.7L227.2 106L227.9 105.3L228.6 104.5L229.3 103.8L230 103L230.8 102.3L231.5 101.6L232.2 100.8L232.9 100.1L233.6 99.3L234.3 98.6L235 97.9L235.8 97.2L236.5 96.5L237.2 95.7L237.9 95L238.6 94.4L239.3 93.7L240 93L240.7 92.3" stroke="#d98be0" stroke-dasharray="1.3 0.7"/>
<path d="M240 93L240.7 92.3L241.5 91.7L242.2 91.1L242.9 90.4L243.6 89.8L244.3 89.2L245 88.7L245.7 88.1L246.5 87.6L247.2 87L247.9 86.5L248.6 86L249.3 85.5L250 85.1L250.7 84.7L251.5 84.2L252.2 83.8L252.9 83.5L253.6 83.1L254.3 82.8L255 82.4L255.7 82.1L256.5 81.9L257.2 81.6L257.9 81.4L258.6 81.2L259.3 81L260 80.8L260.7 80.6L261.5 80.5L262.2 80.4L262.9 80.3L263.6 80.2L264.3 80.1L265 80.1L265.7 80L266.5 80L267.2 80L267.9 80L268.6 80L269.3 80L270 80.1L270.7 80.1L271.4 80.2L272.2 80.3L272.9 80.4L273.6 80.5L274.3 80.7L275 80.8L275.7 81L276.4 81.2L277.2 81.4L277.9 81.6L278.6 81.8L279.3 82.1L280 82.4L280.7 82.6L281.4 82.9L282.2 83.2L282.9 83.6L283.6 83.9L284.3 84.3L285 84.6L285.7 85L286.4 85.4L287.2 85.8L287.9 86.2L288.6 86.6L289.3 87.1L290 87.5L290.7 88L291.4 88.4L292.2 88.9L292.9 89.4L293.6 89.9L294.3 90.4L295 90.9L295.7 91.4L296.4 91.9L297.2 92.4L297.9 93L298.6 93.5L299.3 94L300 94.6L300.7 95.1L301.4 95.7L302.2 96.3L302.9 96.8L303.6 97.4L304.3 98L305 98.5L305.7 99.1L306.4 99.7L307.1 100.2L307.9 100.8L308.6 101.4L309.3 102L310 102.5L310.7 103.1L311.4 103.7L312.1 104.2L312.9 104.8L313.6 105.4L314.3 105.9L315 106.5L315.7 107L316.4 107.6L317.1 108.1L317.9 108.7L318.6 109.2L319.3 109.8L320 110.3L320.7 110.8L321.4 111.3L322.1 111.8L322.9 112.4L323.6 112.9L324.3 113.4L325 113.8L325.7 114.3L326.4 114.8L327.1 115.3L327.9 115.7L328.6 116.2L329.3 116.6L330 117.1L330.7 117.5L331.4 118L332.1 118.4L332.9 118.8L333.6 119.2L334.3 119.6L335 120L335.7 120.4L336.4 120.8L337.1 121.1L337.9 121.5L338.6 121.8L339.3 122.2L340 122.5L340.7 122.9L341.4 123.2L342.1 123.5L342.9 123.8L343.6 124.1L344.3 124.4L345 124.7L345.7 125L346.4 125.2L347.1 125.5L347.8 125.8L348.6 126L349.3 126.3L350 126.5L350.7 126.7L351.4 127L352.1 127.2L352.8 127.4L353.6 127.6L354.3 127.8L355 128L355.7 128.2L356.4 128.4L357.1 128.5L357.8 128.7L358.6 128.9L359.3 129L360 129.2L360.7 129.4" stroke="#d98be0"/>
<path d="M217.9 106.6L218.6 105.9L219.3 105.2L220 104.5L220.8 103.8L221.5 103.1L222.2 102.4L222.9 101.7L223.6 100.9L224.3 100.2L225 99.5L225.8 98.8L226.5 98.1L227.2 97.4L227.9 96.7L228.6 95.9L229.3 95.2L230 94.5L230.8 93.8L231.5 93.2L232.2 92.5L232.9 91.8L233.6 91.1L234.3 90.5L235 89.8L235.8 89.2L236.5 88.5L237.2 87.9L237.9 87.3L238.6 86.7L239.3 86.1L240 85.5L240.7 85" stroke="#2ec89a" stroke-dasharray="1.3 0.7"/>
<path d="M240 85.5L240.7 85L241.5 84.4L242.2 83.9L242.9 83.4L243.6 82.9L244.3 82.4L245 81.9L245.7 81.5L246.5 81L247.2 80.6L247.9 80.2L248.6 79.8L249.3 79.4L250 79.1L250.7 78.7L251.5 78.4L252.2 78.1L252.9 77.8L253.6 77.5L254.3 77.3L255 77.1L255.7 76.8L256.5 76.6L257.2 76.5L257.9 76.3L258.6 76.1L259.3 76L260 75.9L260.7 75.8L261.5 75.7L262.2 75.6L262.9 75.6L263.6 75.5L264.3 75.5L265 75.5L265.7 75.5L266.5 75.5L267.2 75.5L267.9 75.5L268.6 75.5L269.3 75.6L270 75.7L270.7 75.8L271.4 75.9L272.2 76L272.9 76.2L273.6 76.3L274.3 76.5L275 76.7L275.7 76.9L276.4 77.2L277.2 77.4L277.9 77.7L278.6 78L279.3 78.3L280 78.6L280.7 78.9L281.4 79.2L282.2 79.6L282.9 80L283.6 80.3L284.3 80.7L285 81.1L285.7 81.6L286.4 82L287.2 82.4L287.9 82.9L288.6 83.4L289.3 83.8L290 84.3L290.7 84.8L291.4 85.3L292.2 85.9L292.9 86.4L293.6 86.9L294.3 87.5L295 88L295.7 88.6L296.4 89.1L297.2 89.7L297.9 90.3L298.6 90.9L299.3 91.4L300 92L300.7 92.6L301.4 93.2L302.2 93.8L302.9 94.4L303.6 95L304.3 95.6L305 96.2L305.7 96.9L306.4 97.5L307.1 98.1L307.9 98.7L308.6 99.3L309.3 99.9L310 100.5L310.7 101.1L311.4 101.7L312.1 102.3L312.9 102.9L313.6 103.5L314.3 104.1L315 104.7L315.7 105.3L316.4 105.9L317.1 106.5L317.9 107.1L318.6 107.6L319.3 108.2L320 108.8L320.7 109.3L321.4 109.9L322.1 110.4L322.9 110.9L323.6 111.5L324.3 112L325 112.5L325.7 113L326.4 113.5L327.1 114L327.9 114.5L328.6 115L329.3 115.5L330 116L330.7 116.4L331.4 116.9L332.1 117.3L332.9 117.8L333.6 118.2L334.3 118.6L335 119L335.7 119.4L336.4 119.8L337.1 120.2L337.9 120.6L338.6 121L339.3 121.3L340 121.7L340.7 122.1L341.4 122.4L342.1 122.7L342.9 123.1L343.6 123.4L344.3 123.7L345 124L345.7 124.3L346.4 124.6L347.1 124.9L347.8 125.2L348.6 125.4L349.3 125.7L350 125.9L350.7 126.2L351.4 126.4L352.1 126.7L352.8 126.9L353.6 127.1L354.3 127.3L355 127.5L355.7 127.7L356.4 127.9L357.1 128.1L357.8 128.3L358.6 128.5L359.3 128.7L360 128.8L360.7 129" stroke="#2ec89a"/>
<path d="M217.9 96.3L218.6 95L219.3 93.7L220 92.4L220.8 91.1L221.5 89.7L222.2 88.4L222.9 87L223.6 85.5L224.3 84.1L225 82.7L225.8 81.2L226.5 79.7L227.2 78.2L227.9 76.7L228.6 75.2L229.3 73.7L230 72.2L230.8 70.7L231.5 69.2L232.2 67.6L232.9 66.1L233.6 64.6L234.3 63.1L235 61.6L235.8 60.1L236.5 58.6L237.2 57.1L237.9 55.6L238.6 54.2L239.3 52.7L240 51.3L240.7 49.9L241.5 48.5L242.2 47.2L242.9 45.9L243.6 44.6L244.3 43.3L245 42.1L245.7 40.9L246.5 39.7L247.2 38.6L247.9 37.5L248.6 36.5L249.3 35.5L250 34.5L250.7 33.6L251.5 32.8L252.2 31.9L252.9 31.2L253.6 30.5L254.3 29.8L255 29.2L255.7 28.7L256.5 28.2L257.2 27.7L257.9 27.3L258.6 27L259.3 26.8L260 26.5L260.7 26.4L261.5 26.3L262.2 26.3L262.9 26.3L263.6 26.4L264.3 26.4L265 26.6L265.7 26.7L266.5 26.9L267.2 27.1L267.9 27.4L268.6 27.7L269.3 28L270 28.4L270.7 28.8L271.4 29.2L272.2 29.6L272.9 30.1L273.6 30.6L274.3 31.2L275 31.8L275.7 32.4L276.4 33L277.2 33.7L277.9 34.4L278.6 35.1L279.3 35.8L280 36.6L280.7 37.4L281.4 38.2L282.2 39.1L282.9 39.9L283.6 40.8L284.3 41.7L285 42.7L285.7 43.6L286.4 44.6L287.2 45.6L287.9 46.6L288.6 47.6L289.3 48.6L290 49.7L290.7 50.8L291.4 51.8L292.2 52.9L292.9 54L293.6 55.1L294.3 56.3L295 57.4L295.7 58.5L296.4 59.7L297.2 60.8L297.9 62L298.6 63.1L299.3 64.3L300 65.4L300.7 66.6L301.4 67.8L302.2 68.9L302.9 70.1L303.6 71.3L304.3 72.4L305 73.6L305.7 74.8L306.4 75.9L307.1 77.1L307.9 78.2L308.6 79.3L309.3 80.5L310 81.6L310.7 82.7L311.4 83.8L312.1 84.9L312.9 86L313.6 87.1L314.3 88.2L315 89.2L315.7 90.3L316.4 91.3L317.1 92.3L317.9 93.4L318.6 94.4L319.3 95.3L320 96.3L320.7 97.3L321.4 98.2L322.1 99.1L322.9 100.1L323.6 101L324.3 101.9L325 102.7L325.7 103.6L326.4 104.4L327.1 105.3L327.9 106.1L328.6 106.9L329.3 107.7L330 108.4L330.7 109.2L331.4 109.9L332.1 110.6L332.9 111.3L333.6 112L334.3 112.7L335 113.4L335.7 114L336.4 114.6L337.1 115.2L337.9 115.8L338.6 116.4L339.3 117L340 117.5L340.7 118.1L341.4 118.6L342.1 119.1L342.9 119.6L343.6 120.1L344.3 120.6L345 121L345.7 121.5L346.4 121.9L347.1 122.3L347.8 122.7L348.6 123.1L349.3 123.5L350 123.9L350.7 124.2L351.4 124.6L352.1 124.9L352.8 125.2L353.6 125.5L354.3 125.8L355 126.1L355.7 126.4L356.4 126.7L357.1 127L357.8 127.2L358.6 127.5L359.3 127.7L360 127.9L360.7 128.1" stroke="#222" stroke-dasharray="1.1 0.8"/>
</g>
<path d="M217.9 8.6 L217.9 124.2 L360.7 124.2" fill="none" stroke="#555" stroke-width="0.8"/>
<line x1="217.9" y1="124.2" x2="217.9" y2="125.7" stroke="#555" stroke-width="0.6"/>
<text x="217.9" y="132.6" font-size="4.8" text-anchor="middle" stroke="#111" stroke-width="0.2" fill="#111" >300</text>
<line x1="246.5" y1="124.2" x2="246.5" y2="125.7" stroke="#555" stroke-width="0.6"/>
<text x="246.5" y="132.6" font-size="4.8" text-anchor="middle" stroke="#111" stroke-width="0.2" fill="#111" >320</text>
<line x1="275" y1="124.2" x2="275" y2="125.7" stroke="#555" stroke-width="0.6"/>
<text x="275" y="132.6" font-size="4.8" text-anchor="middle" stroke="#111" stroke-width="0.2" fill="#111" >340</text>
<line x1="303.6" y1="124.2" x2="303.6" y2="125.7" stroke="#555" stroke-width="0.6"/>
<text x="303.6" y="132.6" font-size="4.8" text-anchor="middle" stroke="#111" stroke-width="0.2" fill="#111" >360</text>
<line x1="332.1" y1="124.2" x2="332.1" y2="125.7" stroke="#555" stroke-width="0.6"/>
<text x="332.1" y="132.6" font-size="4.8" text-anchor="middle" stroke="#111" stroke-width="0.2" fill="#111" >380</text>
<line x1="360.7" y1="124.2" x2="360.7" y2="125.7" stroke="#555" stroke-width="0.6"/>
<text x="360.7" y="132.6" font-size="4.8" text-anchor="middle" stroke="#111" stroke-width="0.2" fill="#111" >400</text>
<line x1="216.4" y1="100.7" x2="217.9" y2="100.7" stroke="#555" stroke-width="0.6"/>
<text x="215.4" y="102.4" font-size="4.8" text-anchor="end" stroke="#111" stroke-width="0.2" fill="#111" >500</text>
<line x1="216.4" y1="54.6" x2="217.9" y2="54.6" stroke="#555" stroke-width="0.6"/>
<text x="215.4" y="56.4" font-size="4.8" text-anchor="end" stroke="#111" stroke-width="0.2" fill="#111" >1000</text>
<line x1="216.4" y1="8.6" x2="217.9" y2="8.6" stroke="#555" stroke-width="0.6"/>
<text x="215.4" y="10.3" font-size="4.8" text-anchor="end" stroke="#111" stroke-width="0.2" fill="#111" >1500</text>
<text x="289.6" y="140.6" font-size="6.0" text-anchor="middle" font-weight="bold" stroke="#111" stroke-width="0.12" fill="#111" >Wavelength (nm)</text>
<text x="201.4" y="71" font-size="5.35" text-anchor="middle" font-weight="bold" stroke="#111" stroke-width="0.12" transform="rotate(-90 201.4 71)" fill="#111" >Fluorescence intensity (a.u.)</text>
<text x="193.2" y="10.4" font-size="10.0" text-anchor="middle" font-weight="bold" stroke="#111" stroke-width="0.12" fill="#111" >(B)</text>
<line x1="325" y1="15.5" x2="337" y2="15.5" stroke="#222" stroke-width="0.5" stroke-opacity="0.25"/>
<circle cx="332" cy="15.5" r="0.8" fill="#222"/>
<text x="339" y="17.1" font-size="4.9" text-anchor="start" stroke="#111" stroke-width="0.2" fill="#111" >WPI</text>
<line x1="325" y1="21.8" x2="337" y2="21.8" stroke="#f02a2a" stroke-width="0.5" stroke-opacity="0.25"/>
<circle cx="332" cy="21.8" r="0.8" fill="#f02a2a"/>
<text x="339" y="23.4" font-size="4.9" text-anchor="start" stroke="#111" stroke-width="0.2" fill="#111" >1:50</text>
<line x1="325" y1="28" x2="337" y2="28" stroke="#1ec8f0" stroke-width="0.5" stroke-opacity="0.25"/>
<circle cx="332" cy="28" r="0.8" fill="#1ec8f0"/>
<text x="339" y="29.6" font-size="4.9" text-anchor="start" stroke="#111" stroke-width="0.2" fill="#111" >1:50U</text>
<line x1="325" y1="34.2" x2="337" y2="34.2" stroke="#d4908c" stroke-width="0.5" stroke-opacity="0.25"/>
<circle cx="332" cy="34.2" r="0.8" fill="#d4908c"/>
<text x="339" y="35.9" font-size="4.9" text-anchor="start" stroke="#111" stroke-width="0.2" fill="#111" >1:25</text>
<line x1="325" y1="40.5" x2="337" y2="40.5" stroke="#f4a050" stroke-width="0.5" stroke-opacity="0.25"/>
<circle cx="332" cy="40.5" r="0.8" fill="#f4a050"/>
<text x="339" y="42.1" font-size="4.9" text-anchor="start" stroke="#111" stroke-width="0.2" fill="#111" >1:25U</text>
<line x1="325" y1="46.8" x2="337" y2="46.8" stroke="#d98be0" stroke-width="0.5" stroke-opacity="0.25"/>
<circle cx="332" cy="46.8" r="0.8" fill="#d98be0"/>
<text x="339" y="48.4" font-size="4.9" text-anchor="start" stroke="#111" stroke-width="0.2" fill="#111" >1:12.5</text>
<line x1="325" y1="53" x2="337" y2="53" stroke="#2ec89a" stroke-width="0.5" stroke-opacity="0.25"/>
<circle cx="332" cy="53" r="0.8" fill="#2ec89a"/>
<text x="339" y="54.6" font-size="4.9" text-anchor="start" stroke="#111" stroke-width="0.2" fill="#111" >1:12.5U</text>
<defs><clipPath id="clipC"><rect x="389.6" y="11.3" width="152.39999999999998" height="111.7"/></clipPath></defs>
<rect x="435.7" y="11.3" width="5.3" height="111.7" fill="#dff4f8"/>
<rect x="441.2" y="11.3" width="5.3" height="111.7" fill="#fbdede"/>
<rect x="510.9" y="11.3" width="14.6" height="111.7" fill="#f9eadc"/>
<g clip-path="url(#clipC)" fill="none" stroke-width="1.0">
<path d="M389.6 22.4L389.9 22.5L390.3 22.6L390.6 22.7L391 22.8L391.3 22.9L391.6 23.1L392 23.2L392.3 23.3L392.6 23.4L393 23.6L393.3 23.7L393.7 23.8L394 24L394.3 24.1L394.7 24.3L395 24.5L395.4 24.7L395.7 25L396 25.2L396.4 25.4L396.7 25.6L397.1 25.8L397.4 26L397.7 26.1L398.1 26.3L398.4 26.3L398.7 26.4L399.1 26.4L399.4 26.4L399.8 26.3L400.1 26.3L400.4 26.2L400.8 26.2L401.1 26.1L401.5 26L401.8 25.9L402.1 25.8L402.5 25.6L402.8 25.5L403.1 25.4L403.5 25.3L403.8 25.2L404.2 25.1L404.5 25L404.8 24.9L405.2 24.8L405.5 24.7L405.9 24.6L406.2 24.5L406.5 24.4L406.9 24.3L407.2 24.2L407.5 24L407.9 23.9L408.2 23.8L408.6 23.7L408.9 23.6L409.2 23.6L409.6 23.5L409.9 23.5L410.3 23.4L410.6 23.4L410.9 23.4L411.3 23.4L411.6 23.4L412 23.5L412.3 23.5L412.6 23.6L413 23.7L413.3 23.8L413.6 23.9L414 24L414.3 24.1L414.7 24.2L415 24.3L415.3 24.4L415.7 24.5L416 24.6L416.4 24.8L416.7 24.9L417 25L417.4 25.1L417.7 25.2L418 25.3L418.4 25.4L418.7 25.6L419.1 25.7L419.4 25.9L419.7 26L420.1 26.2L420.4 26.3L420.8 26.4L421.1 26.6L421.4 26.7L421.8 26.9L422.1 27L422.5 27.1L422.8 27.3L423.1 27.4L423.5 27.6L423.8 27.7L424.1 27.9L424.5 28L424.8 28.1L425.2 28.2L425.5 28.2L425.8 28.2L426.2 28.2L426.5 28.2L426.9 28.2L427.2 28.1L427.5 28.1L427.9 28.1L428.2 28.1L428.5 28L428.9 28L429.2 28L429.6 28L429.9 28L430.2 28L430.6 28.1L430.9 28.1L431.3 28.2L431.6 28.2L431.9 28.2L432.3 28.1L432.6 27.9L432.9 27.7L433.3 27.5L433.6 27.4L434 27.6L434.3 27.9L434.6 28.4L435 28.7L435.3 28.9L435.7 28.8L436 28.5L436.3 28.3L436.7 28.2L437 28.6L437.4 29.3L437.7 30L438 30.4L438.4 30.3L438.7 30.2L439 30L439.4 29.9L439.7 29.9L440.1 30L440.4 30.2L440.7 30.5L441.1 30.8L441.4 31L441.8 31.4L442.1 31.9L442.4 32.3L442.8 32.7L443.1 33.1L443.4 33.5L443.8 33.9L444.1 34.2L444.5 34.4L444.8 34.3L445.1 33.8L445.5 33L445.8 32.1L446.2 31.2L446.5 30.1L446.8 29L447.2 27.9L447.5 27.1L447.9 26.5L448.2 26L448.5 25.5L448.9 25.1L449.2 24.8L449.5 24.5L449.9 24.3L450.2 24.1L450.6 24L450.9 23.8L451.2 23.7L451.6 23.6L451.9 23.5L452.3 23.5L452.6 23.4L452.9 23.4L453.3 23.4L453.6 23.3L453.9 23.3L454.3 23.3L454.6 23.3L455 23.3L455.3 23.2L455.6 23.2L456 23.2L456.3 23.2L456.7 23.2L457 23.2L457.3 23.2L457.7 23.2L458 23.2L458.3 23.2L458.7 23.2L459 23.2L459.4 23.2L459.7 23.2L460 23.2L460.4 23.2L460.7 23.2L461.1 23.2L461.4 23.2L461.7 23.2L462.1 23.2L462.4 23.2L462.8 23.2L463.1 23.2L463.4 23.2L463.8 23.2L464.1 23.2L464.4 23.3L464.8 23.3L465.1 23.3L465.5 23.3L465.8 23.3L466.1 23.3L466.5 23.3L466.8 23.3L467.2 23.3L467.5 23.3L467.8 23.3L468.2 23.3L468.5 23.3L468.8 23.4L469.2 23.4L469.5 23.4L469.9 23.4L470.2 23.4L470.5 23.5L470.9 23.6L471.2 23.7L471.6 23.8L471.9 23.9L472.2 24L472.6 24L472.9 24L473.3 23.9L473.6 23.8L473.9 23.7L474.3 23.7L474.6 23.7L474.9 23.7L475.3 23.7L475.6 23.7L476 23.7L476.3 23.8L476.6 23.8L477 23.8L477.3 23.8L477.7 23.9L478 23.9L478.3 23.9L478.7 23.9L479 24L479.3 24L479.7 24L480 24.1L480.4 24.1L480.7 24.2L481 24.2L481.4 24.2L481.7 24.3L482.1 24.3L482.4 24.4L482.7 24.4L483.1 24.4L483.4 24.5L483.7 24.5L484.1 24.6L484.4 24.6L484.8 24.7L485.1 24.8L485.4 24.8L485.8 24.9L486.1 24.9L486.5 25L486.8 25.1L487.1 25.1L487.5 25.2L487.8 25.3L488.2 25.4L488.5 25.4L488.8 25.5L489.2 25.6L489.5 25.6L489.8 25.7L490.2 25.8L490.5 25.9L490.9 25.9L491.2 26L491.5 26.1L491.9 26.1L492.2 26.2L492.6 26.3L492.9 26.3L493.2 26.4L493.6 26.5L493.9 26.5L494.2 26.6L494.6 26.7L494.9 26.7L495.3 26.8L495.6 26.9L495.9 27L496.3 27L496.6 27.1L497 27.2L497.3 27.2L497.6 27.3L498 27.4L498.3 27.5L498.7 27.6L499 27.6L499.3 27.7L499.7 27.8L500 27.9L500.3 28L500.7 28.1L501 28.2L501.4 28.3L501.7 28.4L502 28.5L502.4 28.6L502.7 28.7L503.1 28.8L503.4 28.9L503.7 29L504.1 29.1L504.4 29.2L504.7 29.3L505.1 29.4L505.4 29.5L505.8 29.6L506.1 29.7L506.4 29.8L506.8 30L507.1 30.1L507.5 30.2L507.8 30.4L508.1 30.5L508.5 30.6L508.8 30.8L509.1 30.9L509.5 31L509.8 31.2L510.2 31.3L510.5 31.4L510.8 31.5L511.2 31.6L511.5 31.7L511.9 31.8L512.2 31.9L512.5 31.9L512.9 32L513.2 32L513.6 32.1L513.9 32.1L514.2 32.2L514.6 32.3L514.9 32.3L515.2 32.3L515.6 32.4L515.9 32.4L516.3 32.5L516.6 32.5L516.9 32.5L517.3 32.6L517.6 32.6L518 32.6L518.3 32.6L518.6 32.6L519 32.6L519.3 32.5L519.6 32.4L520 32.3L520.3 32.1L520.7 31.9L521 31.7L521.3 31.5L521.7 31.2L522 31L522.4 30.7L522.7 30.4L523 30.2L523.4 29.9L523.7 29.6L524.1 29.3L524.4 29L524.7 28.6L525.1 28.3L525.4 27.9L525.7 27.5L526.1 27.2L526.4 26.8L526.8 26.5L527.1 26.3L527.4 26L527.8 25.8L528.1 25.6L528.5 25.4L528.8 25.2L529.1 25L529.5 24.8L529.8 24.6L530.1 24.4L530.5 24.3L530.8 24.2L531.2 24.1L531.5 24L531.8 23.9L532.2 23.8L532.5 23.8L532.9 23.7L533.2 23.6L533.5 23.6L533.9 23.5L534.2 23.5L534.5 23.5L534.9 23.4L535.2 23.4L535.6 23.4L535.9 23.4L536.2 23.4L536.6 23.4L536.9 23.4L537.3 23.4L537.6 23.4L537.9 23.4L538.3 23.4L538.6 23.4L539 23.4L539.3 23.4L539.6 23.4L540 23.4L540.3 23.4L540.6 23.4L541 23.4L541.3 23.4L541.7 23.4L542 23.4" stroke="#3ccfd8"/>
<path d="M389.6 36.7L389.9 36.8L390.3 36.9L390.6 37L391 37.1L391.3 37.2L391.6 37.3L392 37.4L392.3 37.5L392.6 37.6L393 37.7L393.3 37.9L393.7 38L394 38.1L394.3 38.3L394.7 38.4L395 38.6L395.4 38.8L395.7 39L396 39.2L396.4 39.4L396.7 39.6L397.1 39.8L397.4 39.9L397.7 40.1L398.1 40.2L398.4 40.3L398.7 40.3L399.1 40.3L399.4 40.3L399.8 40.2L400.1 40.2L400.4 40.1L400.8 40.1L401.1 40L401.5 39.9L401.8 39.8L402.1 39.7L402.5 39.6L402.8 39.5L403.1 39.4L403.5 39.3L403.8 39.2L404.2 39.1L404.5 39L404.8 39L405.2 38.9L405.5 38.8L405.9 38.7L406.2 38.6L406.5 38.5L406.9 38.4L407.2 38.3L407.5 38.2L407.9 38.1L408.2 38L408.6 37.9L408.9 37.8L409.2 37.8L409.6 37.7L409.9 37.7L410.3 37.6L410.6 37.6L410.9 37.6L411.3 37.6L411.6 37.6L412 37.7L412.3 37.7L412.6 37.8L413 37.9L413.3 37.9L413.6 38L414 38.1L414.3 38.2L414.7 38.3L415 38.4L415.3 38.5L415.7 38.6L416 38.7L416.4 38.8L416.7 38.9L417 39L417.4 39.1L417.7 39.2L418 39.3L418.4 39.4L418.7 39.6L419.1 39.7L419.4 39.8L419.7 39.9L420.1 40.1L420.4 40.2L420.8 40.3L421.1 40.5L421.4 40.6L421.8 40.7L422.1 40.8L422.5 41L422.8 41.1L423.1 41.2L423.5 41.3L423.8 41.5L424.1 41.6L424.5 41.7L424.8 41.8L425.2 41.9L425.5 41.9L425.8 41.9L426.2 41.9L426.5 41.9L426.9 41.9L427.2 41.9L427.5 41.8L427.9 41.8L428.2 41.8L428.5 41.8L428.9 41.8L429.2 41.7L429.6 41.7L429.9 41.7L430.2 41.8L430.6 41.8L430.9 41.8L431.3 41.9L431.6 41.9L431.9 41.9L432.3 41.8L432.6 41.7L432.9 41.5L433.3 41.3L433.6 41.2L434 41.3L434.3 41.7L434.6 42.1L435 42.4L435.3 42.6L435.7 42.4L436 42.2L436.3 42L436.7 41.9L437 42.3L437.4 43L437.7 43.6L438 43.9L438.4 43.9L438.7 43.7L439 43.6L439.4 43.5L439.7 43.5L440.1 43.6L440.4 43.8L440.7 44L441.1 44.2L441.4 44.5L441.8 44.8L442.1 45.2L442.4 45.6L442.8 46L443.1 46.3L443.4 46.7L443.8 47L444.1 47.3L444.5 47.5L444.8 47.4L445.1 47L445.5 46.2L445.8 45.4L446.2 44.6L446.5 43.7L446.8 42.6L447.2 41.7L447.5 40.9L447.9 40.4L448.2 39.9L448.5 39.5L448.9 39.1L449.2 38.8L449.5 38.6L449.9 38.4L450.2 38.3L450.6 38.1L450.9 38L451.2 37.9L451.6 37.8L451.9 37.7L452.3 37.6L452.6 37.6L452.9 37.6L453.3 37.6L453.6 37.5L453.9 37.5L454.3 37.5L454.6 37.5L455 37.5L455.3 37.5L455.6 37.4L456 37.4L456.3 37.4L456.7 37.4L457 37.4L457.3 37.4L457.7 37.4L458 37.4L458.3 37.4L458.7 37.4L459 37.4L459.4 37.4L459.7 37.4L460 37.4L460.4 37.4L460.7 37.4L461.1 37.4L461.4 37.4L461.7 37.4L462.1 37.4L462.4 37.4L462.8 37.4L463.1 37.5L463.4 37.5L463.8 37.5L464.1 37.5L464.4 37.5L464.8 37.5L465.1 37.5L465.5 37.5L465.8 37.5L466.1 37.5L466.5 37.5L466.8 37.5L467.2 37.5L467.5 37.5L467.8 37.5L468.2 37.5L468.5 37.6L468.8 37.6L469.2 37.6L469.5 37.6L469.9 37.6L470.2 37.6L470.5 37.7L470.9 37.8L471.2 37.9L471.6 38L471.9 38L472.2 38.1L472.6 38.1L472.9 38.1L473.3 38L473.6 38L473.9 37.9L474.3 37.9L474.6 37.9L474.9 37.9L475.3 37.9L475.6 37.9L476 37.9L476.3 37.9L476.6 37.9L477 38L477.3 38L477.7 38L478 38L478.3 38.1L478.7 38.1L479 38.1L479.3 38.2L479.7 38.2L480 38.2L480.4 38.3L480.7 38.3L481 38.3L481.4 38.4L481.7 38.4L482.1 38.4L482.4 38.5L482.7 38.5L483.1 38.5L483.4 38.6L483.7 38.6L484.1 38.7L484.4 38.7L484.8 38.8L485.1 38.8L485.4 38.9L485.8 38.9L486.1 39L486.5 39L486.8 39.1L487.1 39.2L487.5 39.2L487.8 39.3L488.2 39.4L488.5 39.4L488.8 39.5L489.2 39.6L489.5 39.6L489.8 39.7L490.2 39.8L490.5 39.8L490.9 39.9L491.2 39.9L491.5 40L491.9 40.1L492.2 40.1L492.6 40.2L492.9 40.2L493.2 40.3L493.6 40.4L493.9 40.4L494.2 40.5L494.6 40.5L494.9 40.6L495.3 40.7L495.6 40.7L495.9 40.8L496.3 40.9L496.6 40.9L497 41L497.3 41.1L497.6 41.1L498 41.2L498.3 41.3L498.7 41.3L499 41.4L499.3 41.5L499.7 41.6L500 41.6L500.3 41.7L500.7 41.8L501 41.9L501.4 42L501.7 42.1L502 42.1L502.4 42.2L502.7 42.3L503.1 42.4L503.4 42.5L503.7 42.6L504.1 42.7L504.4 42.8L504.7 42.9L505.1 43L505.4 43.1L505.8 43.2L506.1 43.3L506.4 43.4L506.8 43.5L507.1 43.6L507.5 43.7L507.8 43.9L508.1 44L508.5 44.1L508.8 44.2L509.1 44.4L509.5 44.5L509.8 44.6L510.2 44.7L510.5 44.8L510.8 44.9L511.2 45L511.5 45.1L511.9 45.2L512.2 45.2L512.5 45.3L512.9 45.3L513.2 45.4L513.6 45.4L513.9 45.5L514.2 45.5L514.6 45.6L514.9 45.6L515.2 45.7L515.6 45.7L515.9 45.7L516.3 45.8L516.6 45.8L516.9 45.8L517.3 45.8L517.6 45.9L518 45.9L518.3 45.9L518.6 45.9L519 45.9L519.3 45.8L519.6 45.7L520 45.6L520.3 45.5L520.7 45.3L521 45.1L521.3 44.9L521.7 44.6L522 44.4L522.4 44.2L522.7 43.9L523 43.7L523.4 43.5L523.7 43.2L524.1 42.9L524.4 42.6L524.7 42.3L525.1 42L525.4 41.6L525.7 41.3L526.1 41L526.4 40.7L526.8 40.4L527.1 40.2L527.4 40L527.8 39.8L528.1 39.6L528.5 39.4L528.8 39.2L529.1 39L529.5 38.8L529.8 38.7L530.1 38.5L530.5 38.4L530.8 38.3L531.2 38.2L531.5 38.1L531.8 38.1L532.2 38L532.5 37.9L532.9 37.9L533.2 37.8L533.5 37.8L533.9 37.7L534.2 37.7L534.5 37.6L534.9 37.6L535.2 37.6L535.6 37.6L535.9 37.6L536.2 37.6L536.6 37.6L536.9 37.6L537.3 37.6L537.6 37.6L537.9 37.6L538.3 37.6L538.6 37.6L539 37.6L539.3 37.6L539.6 37.6L540 37.6L540.3 37.6L540.6 37.6L541 37.6L541.3 37.6L541.7 37.6L542 37.6" stroke="#e8b45a"/>
<path d="M389.6 50.9L389.9 51L390.3 51.1L390.6 51.3L391 51.4L391.3 51.5L391.6 51.6L392 51.8L392.3 51.9L392.6 52L393 52.2L393.3 52.3L393.7 52.5L394 52.6L394.3 52.8L394.7 53L395 53.2L395.4 53.5L395.7 53.7L396 53.9L396.4 54.2L396.7 54.4L397.1 54.6L397.4 54.8L397.7 55L398.1 55.1L398.4 55.2L398.7 55.2L399.1 55.2L399.4 55.2L399.8 55.2L400.1 55.1L400.4 55.1L400.8 55L401.1 54.9L401.5 54.8L401.8 54.7L402.1 54.5L402.5 54.4L402.8 54.3L403.1 54.2L403.5 54.1L403.8 53.9L404.2 53.8L404.5 53.7L404.8 53.6L405.2 53.5L405.5 53.4L405.9 53.3L406.2 53.2L406.5 53.1L406.9 52.9L407.2 52.8L407.5 52.7L407.9 52.6L408.2 52.5L408.6 52.4L408.9 52.3L409.2 52.2L409.6 52.1L409.9 52.1L410.3 52L410.6 52L410.9 52L411.3 52L411.6 52.1L412 52.1L412.3 52.2L412.6 52.2L413 52.3L413.3 52.4L413.6 52.5L414 52.6L414.3 52.7L414.7 52.8L415 53L415.3 53.1L415.7 53.2L416 53.3L416.4 53.5L416.7 53.6L417 53.7L417.4 53.8L417.7 53.9L418 54.1L418.4 54.2L418.7 54.4L419.1 54.5L419.4 54.7L419.7 54.8L420.1 55L420.4 55.1L420.8 55.3L421.1 55.4L421.4 55.6L421.8 55.8L422.1 55.9L422.5 56L422.8 56.2L423.1 56.3L423.5 56.5L423.8 56.7L424.1 56.8L424.5 56.9L424.8 57.1L425.2 57.1L425.5 57.2L425.8 57.2L426.2 57.2L426.5 57.2L426.9 57.1L427.2 57.1L427.5 57.1L427.9 57.1L428.2 57L428.5 57L428.9 57L429.2 57L429.6 57L429.9 57L430.2 57L430.6 57L430.9 57.1L431.3 57.1L431.6 57.2L431.9 57.2L432.3 57.1L432.6 56.9L432.9 56.6L433.3 56.4L433.6 56.3L434 56.5L434.3 56.9L434.6 57.4L435 57.8L435.3 57.9L435.7 57.8L436 57.5L436.3 57.3L436.7 57.2L437 57.7L437.4 58.4L437.7 59.2L438 59.6L438.4 59.5L438.7 59.3L439 59.2L439.4 59L439.7 59L440.1 59.2L440.4 59.4L440.7 59.7L441.1 60L441.4 60.3L441.8 60.7L442.1 61.1L442.4 61.6L442.8 62.1L443.1 62.5L443.4 62.9L443.8 63.3L444.1 63.6L444.5 63.9L444.8 63.8L445.1 63.2L445.5 62.4L445.8 61.4L446.2 60.4L446.5 59.3L446.8 58L447.2 56.9L447.5 56L447.9 55.3L448.2 54.8L448.5 54.3L448.9 53.8L449.2 53.5L449.5 53.2L449.9 53L450.2 52.8L450.6 52.6L450.9 52.5L451.2 52.3L451.6 52.2L451.9 52.1L452.3 52.1L452.6 52L452.9 52L453.3 52L453.6 51.9L453.9 51.9L454.3 51.9L454.6 51.9L455 51.8L455.3 51.8L455.6 51.8L456 51.8L456.3 51.8L456.7 51.8L457 51.8L457.3 51.8L457.7 51.8L458 51.8L458.3 51.8L458.7 51.8L459 51.8L459.4 51.8L459.7 51.8L460 51.8L460.4 51.8L460.7 51.8L461.1 51.8L461.4 51.8L461.7 51.8L462.1 51.8L462.4 51.8L462.8 51.8L463.1 51.8L463.4 51.8L463.8 51.8L464.1 51.8L464.4 51.8L464.8 51.8L465.1 51.9L465.5 51.9L465.8 51.9L466.1 51.9L466.5 51.9L466.8 51.9L467.2 51.9L467.5 51.9L467.8 51.9L468.2 51.9L468.5 51.9L468.8 52L469.2 52L469.5 52L469.9 52L470.2 52L470.5 52.1L470.9 52.2L471.2 52.3L471.6 52.4L471.9 52.5L472.2 52.6L472.6 52.6L472.9 52.6L473.3 52.5L473.6 52.4L473.9 52.4L474.3 52.3L474.6 52.3L474.9 52.3L475.3 52.3L475.6 52.4L476 52.4L476.3 52.4L476.6 52.4L477 52.4L477.3 52.5L477.7 52.5L478 52.5L478.3 52.6L478.7 52.6L479 52.6L479.3 52.7L479.7 52.7L480 52.7L480.4 52.8L480.7 52.8L481 52.9L481.4 52.9L481.7 53L482.1 53L482.4 53L482.7 53.1L483.1 53.1L483.4 53.2L483.7 53.2L484.1 53.3L484.4 53.3L484.8 53.4L485.1 53.5L485.4 53.5L485.8 53.6L486.1 53.7L486.5 53.7L486.8 53.8L487.1 53.9L487.5 54L487.8 54L488.2 54.1L488.5 54.2L488.8 54.3L489.2 54.3L489.5 54.4L489.8 54.5L490.2 54.6L490.5 54.7L490.9 54.7L491.2 54.8L491.5 54.9L491.9 55L492.2 55L492.6 55.1L492.9 55.2L493.2 55.2L493.6 55.3L493.9 55.4L494.2 55.5L494.6 55.5L494.9 55.6L495.3 55.7L495.6 55.8L495.9 55.8L496.3 55.9L496.6 56L497 56.1L497.3 56.2L497.6 56.2L498 56.3L498.3 56.4L498.7 56.5L499 56.6L499.3 56.7L499.7 56.8L500 56.8L500.3 56.9L500.7 57L501 57.1L501.4 57.2L501.7 57.3L502 57.5L502.4 57.6L502.7 57.7L503.1 57.8L503.4 57.9L503.7 58L504.1 58.1L504.4 58.2L504.7 58.4L505.1 58.5L505.4 58.6L505.8 58.7L506.1 58.8L506.4 59L506.8 59.1L507.1 59.2L507.5 59.4L507.8 59.5L508.1 59.7L508.5 59.8L508.8 60L509.1 60.1L509.5 60.2L509.8 60.4L510.2 60.5L510.5 60.7L510.8 60.8L511.2 60.9L511.5 61L511.9 61.1L512.2 61.1L512.5 61.2L512.9 61.3L513.2 61.3L513.6 61.4L513.9 61.4L514.2 61.5L514.6 61.6L514.9 61.6L515.2 61.7L515.6 61.7L515.9 61.8L516.3 61.8L516.6 61.8L516.9 61.9L517.3 61.9L517.6 61.9L518 61.9L518.3 61.9L518.6 61.9L519 61.9L519.3 61.9L519.6 61.8L520 61.6L520.3 61.4L520.7 61.2L521 61L521.3 60.7L521.7 60.4L522 60.2L522.4 59.9L522.7 59.6L523 59.3L523.4 59L523.7 58.7L524.1 58.4L524.4 58L524.7 57.6L525.1 57.2L525.4 56.8L525.7 56.4L526.1 56.1L526.4 55.7L526.8 55.4L527.1 55.1L527.4 54.8L527.8 54.6L528.1 54.4L528.5 54.1L528.8 53.9L529.1 53.7L529.5 53.5L529.8 53.3L530.1 53.1L530.5 53L530.8 52.8L531.2 52.7L531.5 52.6L531.8 52.5L532.2 52.5L532.5 52.4L532.9 52.3L533.2 52.3L533.5 52.2L533.9 52.1L534.2 52.1L534.5 52.1L534.9 52L535.2 52L535.6 52L535.9 52L536.2 52L536.6 52L536.9 52L537.3 52L537.6 52L537.9 52L538.3 52L538.6 52L539 52L539.3 52L539.6 52L540 52L540.3 52L540.6 52L541 52L541.3 52L541.7 52L542 52" stroke="#c98ae6"/>
<path d="M389.6 66.5L389.9 66.6L390.3 66.7L390.6 66.8L391 66.9L391.3 67L391.6 67.2L392 67.3L392.3 67.4L392.6 67.5L393 67.7L393.3 67.8L393.7 67.9L394 68.1L394.3 68.2L394.7 68.4L395 68.6L395.4 68.8L395.7 69L396 69.3L396.4 69.5L396.7 69.7L397.1 69.9L397.4 70L397.7 70.2L398.1 70.3L398.4 70.4L398.7 70.4L399.1 70.4L399.4 70.4L399.8 70.4L400.1 70.3L400.4 70.3L400.8 70.2L401.1 70.1L401.5 70L401.8 69.9L402.1 69.8L402.5 69.7L402.8 69.6L403.1 69.5L403.5 69.4L403.8 69.3L404.2 69.2L404.5 69.1L404.8 69L405.2 68.9L405.5 68.8L405.9 68.7L406.2 68.6L406.5 68.5L406.9 68.4L407.2 68.2L407.5 68.1L407.9 68L408.2 67.9L408.6 67.8L408.9 67.7L409.2 67.7L409.6 67.6L409.9 67.6L410.3 67.5L410.6 67.5L410.9 67.5L411.3 67.5L411.6 67.5L412 67.6L412.3 67.6L412.6 67.7L413 67.8L413.3 67.9L413.6 68L414 68.1L414.3 68.2L414.7 68.3L415 68.4L415.3 68.5L415.7 68.6L416 68.7L416.4 68.8L416.7 68.9L417 69L417.4 69.1L417.7 69.3L418 69.4L418.4 69.5L418.7 69.6L419.1 69.8L419.4 69.9L419.7 70.1L420.1 70.2L420.4 70.3L420.8 70.5L421.1 70.6L421.4 70.8L421.8 70.9L422.1 71L422.5 71.2L422.8 71.3L423.1 71.4L423.5 71.6L423.8 71.7L424.1 71.9L424.5 72L424.8 72.1L425.2 72.2L425.5 72.2L425.8 72.2L426.2 72.2L426.5 72.2L426.9 72.2L427.2 72.1L427.5 72.1L427.9 72.1L428.2 72.1L428.5 72.1L428.9 72L429.2 72L429.6 72L429.9 72L430.2 72L430.6 72.1L430.9 72.1L431.3 72.2L431.6 72.2L431.9 72.2L432.3 72.1L432.6 71.9L432.9 71.7L433.3 71.5L433.6 71.4L434 71.6L434.3 71.9L434.6 72.4L435 72.7L435.3 72.9L435.7 72.8L436 72.5L436.3 72.3L436.7 72.2L437 72.6L437.4 73.3L437.7 74L438 74.4L438.4 74.3L438.7 74.2L439 74L439.4 73.9L439.7 73.9L440.1 74L440.4 74.2L440.7 74.4L441.1 74.7L441.4 75L441.8 75.4L442.1 75.8L442.4 76.2L442.8 76.6L443.1 77L443.4 77.4L443.8 77.8L444.1 78.1L444.5 78.3L444.8 78.2L445.1 77.7L445.5 76.9L445.8 76L446.2 75.2L446.5 74.1L446.8 73L447.2 71.9L447.5 71.1L447.9 70.5L448.2 70L448.5 69.6L448.9 69.2L449.2 68.8L449.5 68.6L449.9 68.4L450.2 68.2L450.6 68.1L450.9 67.9L451.2 67.8L451.6 67.7L451.9 67.6L452.3 67.6L452.6 67.5L452.9 67.5L453.3 67.5L453.6 67.4L453.9 67.4L454.3 67.4L454.6 67.4L455 67.4L455.3 67.3L455.6 67.3L456 67.3L456.3 67.3L456.7 67.3L457 67.3L457.3 67.3L457.7 67.3L458 67.3L458.3 67.3L458.7 67.3L459 67.3L459.4 67.3L459.7 67.3L460 67.3L460.4 67.3L460.7 67.3L461.1 67.3L461.4 67.3L461.7 67.3L462.1 67.3L462.4 67.3L462.8 67.3L463.1 67.3L463.4 67.3L463.8 67.3L464.1 67.4L464.4 67.4L464.8 67.4L465.1 67.4L465.5 67.4L465.8 67.4L466.1 67.4L466.5 67.4L466.8 67.4L467.2 67.4L467.5 67.4L467.8 67.4L468.2 67.4L468.5 67.4L468.8 67.5L469.2 67.5L469.5 67.5L469.9 67.5L470.2 67.5L470.5 67.6L470.9 67.7L471.2 67.8L471.6 67.9L471.9 68L472.2 68.1L472.6 68.1L472.9 68.1L473.3 68L473.6 67.9L473.9 67.8L474.3 67.8L474.6 67.8L474.9 67.8L475.3 67.8L475.6 67.8L476 67.8L476.3 67.9L476.6 67.9L477 67.9L477.3 67.9L477.7 67.9L478 68L478.3 68L478.7 68L479 68.1L479.3 68.1L479.7 68.1L480 68.2L480.4 68.2L480.7 68.2L481 68.3L481.4 68.3L481.7 68.4L482.1 68.4L482.4 68.4L482.7 68.5L483.1 68.5L483.4 68.6L483.7 68.6L484.1 68.7L484.4 68.7L484.8 68.8L485.1 68.8L485.4 68.9L485.8 68.9L486.1 69L486.5 69.1L486.8 69.1L487.1 69.2L487.5 69.3L487.8 69.3L488.2 69.4L488.5 69.5L488.8 69.6L489.2 69.6L489.5 69.7L489.8 69.8L490.2 69.8L490.5 69.9L490.9 70L491.2 70L491.5 70.1L491.9 70.2L492.2 70.2L492.6 70.3L492.9 70.4L493.2 70.4L493.6 70.5L493.9 70.6L494.2 70.6L494.6 70.7L494.9 70.8L495.3 70.8L495.6 70.9L495.9 71L496.3 71.1L496.6 71.1L497 71.2L497.3 71.3L497.6 71.3L498 71.4L498.3 71.5L498.7 71.6L499 71.6L499.3 71.7L499.7 71.8L500 71.9L500.3 72L500.7 72.1L501 72.2L501.4 72.3L501.7 72.4L502 72.5L502.4 72.5L502.7 72.7L503.1 72.8L503.4 72.9L503.7 73L504.1 73.1L504.4 73.2L504.7 73.3L505.1 73.4L505.4 73.5L505.8 73.6L506.1 73.7L506.4 73.8L506.8 73.9L507.1 74.1L507.5 74.2L507.8 74.3L508.1 74.5L508.5 74.6L508.8 74.7L509.1 74.9L509.5 75L509.8 75.1L510.2 75.2L510.5 75.4L510.8 75.5L511.2 75.6L511.5 75.7L511.9 75.7L512.2 75.8L512.5 75.9L512.9 75.9L513.2 76L513.6 76L513.9 76.1L514.2 76.1L514.6 76.2L514.9 76.2L515.2 76.3L515.6 76.3L515.9 76.3L516.3 76.4L516.6 76.4L516.9 76.4L517.3 76.5L517.6 76.5L518 76.5L518.3 76.5L518.6 76.5L519 76.5L519.3 76.4L519.6 76.3L520 76.2L520.3 76L520.7 75.9L521 75.6L521.3 75.4L521.7 75.2L522 74.9L522.4 74.6L522.7 74.4L523 74.1L523.4 73.9L523.7 73.6L524.1 73.3L524.4 73L524.7 72.6L525.1 72.3L525.4 71.9L525.7 71.5L526.1 71.2L526.4 70.9L526.8 70.6L527.1 70.3L527.4 70.1L527.8 69.9L528.1 69.6L528.5 69.4L528.8 69.2L529.1 69L529.5 68.8L529.8 68.7L530.1 68.5L530.5 68.4L530.8 68.3L531.2 68.1L531.5 68.1L531.8 68L532.2 67.9L532.5 67.9L532.9 67.8L533.2 67.7L533.5 67.7L533.9 67.6L534.2 67.6L534.5 67.6L534.9 67.5L535.2 67.5L535.6 67.5L535.9 67.5L536.2 67.5L536.6 67.5L536.9 67.5L537.3 67.5L537.6 67.5L537.9 67.5L538.3 67.5L538.6 67.5L539 67.5L539.3 67.5L539.6 67.5L540 67.5L540.3 67.5L540.6 67.5L541 67.5L541.3 67.5L541.7 67.5L542 67.5" stroke="#3cc48e"/>
<path d="M389.6 80.3L389.9 80.4L390.3 80.4L390.6 80.5L391 80.6L391.3 80.7L391.6 80.8L392 80.8L392.3 80.9L392.6 81L393 81.1L393.3 81.2L393.7 81.3L394 81.4L394.3 81.5L394.7 81.7L395 81.8L395.4 82L395.7 82.1L396 82.3L396.4 82.4L396.7 82.6L397.1 82.7L397.4 82.9L397.7 83L398.1 83.1L398.4 83.1L398.7 83.2L399.1 83.2L399.4 83.1L399.8 83.1L400.1 83.1L400.4 83L400.8 83L401.1 82.9L401.5 82.8L401.8 82.8L402.1 82.7L402.5 82.6L402.8 82.5L403.1 82.5L403.5 82.4L403.8 82.3L404.2 82.2L404.5 82.1L404.8 82.1L405.2 82L405.5 81.9L405.9 81.9L406.2 81.8L406.5 81.7L406.9 81.6L407.2 81.5L407.5 81.5L407.9 81.4L408.2 81.3L408.6 81.2L408.9 81.2L409.2 81.1L409.6 81.1L409.9 81L410.3 81L410.6 81L410.9 81L411.3 81L411.6 81L412 81.1L412.3 81.1L412.6 81.2L413 81.2L413.3 81.3L413.6 81.3L414 81.4L414.3 81.5L414.7 81.6L415 81.6L415.3 81.7L415.7 81.8L416 81.9L416.4 82L416.7 82.1L417 82.1L417.4 82.2L417.7 82.3L418 82.4L418.4 82.5L418.7 82.6L419.1 82.7L419.4 82.8L419.7 82.9L420.1 83L420.4 83.1L420.8 83.2L421.1 83.3L421.4 83.4L421.8 83.5L422.1 83.6L422.5 83.7L422.8 83.8L423.1 83.9L423.5 84L423.8 84.1L424.1 84.2L424.5 84.3L424.8 84.4L425.2 84.4L425.5 84.5L425.8 84.5L426.2 84.4L426.5 84.4L426.9 84.4L427.2 84.4L427.5 84.4L427.9 84.4L428.2 84.4L428.5 84.3L428.9 84.3L429.2 84.3L429.6 84.3L429.9 84.3L430.2 84.3L430.6 84.4L430.9 84.4L431.3 84.4L431.6 84.4L431.9 84.5L432.3 84.4L432.6 84.3L432.9 84.1L433.3 83.9L433.6 83.9L434 84L434.3 84.3L434.6 84.6L435 84.8L435.3 85L435.7 84.9L436 84.7L436.3 84.5L436.7 84.5L437 84.8L437.4 85.3L437.7 85.8L438 86L438.4 86L438.7 85.9L439 85.8L439.4 85.7L439.7 85.7L440.1 85.8L440.4 85.9L440.7 86.1L441.1 86.3L441.4 86.5L441.8 86.8L442.1 87.1L442.4 87.4L442.8 87.7L443.1 88L443.4 88.3L443.8 88.5L444.1 88.8L444.5 88.9L444.8 88.9L445.1 88.5L445.5 87.9L445.8 87.3L446.2 86.6L446.5 85.9L446.8 85L447.2 84.2L447.5 83.6L447.9 83.2L448.2 82.8L448.5 82.5L448.9 82.2L449.2 82L449.5 81.8L449.9 81.7L450.2 81.5L450.6 81.4L450.9 81.3L451.2 81.2L451.6 81.1L451.9 81.1L452.3 81L452.6 81L452.9 81L453.3 81L453.6 81L453.9 80.9L454.3 80.9L454.6 80.9L455 80.9L455.3 80.9L455.6 80.9L456 80.9L456.3 80.9L456.7 80.9L457 80.9L457.3 80.9L457.7 80.9L458 80.9L458.3 80.9L458.7 80.9L459 80.9L459.4 80.9L459.7 80.9L460 80.9L460.4 80.9L460.7 80.9L461.1 80.9L461.4 80.9L461.7 80.9L462.1 80.9L462.4 80.9L462.8 80.9L463.1 80.9L463.4 80.9L463.8 80.9L464.1 80.9L464.4 80.9L464.8 80.9L465.1 80.9L465.5 80.9L465.8 80.9L466.1 80.9L466.5 80.9L466.8 80.9L467.2 80.9L467.5 80.9L467.8 80.9L468.2 81L468.5 81L468.8 81L469.2 81L469.5 81L469.9 81L470.2 81L470.5 81.1L470.9 81.1L471.2 81.2L471.6 81.3L471.9 81.4L472.2 81.4L472.6 81.4L472.9 81.4L473.3 81.4L473.6 81.3L473.9 81.2L474.3 81.2L474.6 81.2L474.9 81.2L475.3 81.2L475.6 81.2L476 81.2L476.3 81.3L476.6 81.3L477 81.3L477.3 81.3L477.7 81.3L478 81.3L478.3 81.4L478.7 81.4L479 81.4L479.3 81.4L479.7 81.5L480 81.5L480.4 81.5L480.7 81.5L481 81.6L481.4 81.6L481.7 81.6L482.1 81.7L482.4 81.7L482.7 81.7L483.1 81.7L483.4 81.8L483.7 81.8L484.1 81.9L484.4 81.9L484.8 81.9L485.1 82L485.4 82L485.8 82.1L486.1 82.1L486.5 82.2L486.8 82.2L487.1 82.3L487.5 82.3L487.8 82.4L488.2 82.4L488.5 82.5L488.8 82.5L489.2 82.6L489.5 82.6L489.8 82.7L490.2 82.7L490.5 82.8L490.9 82.8L491.2 82.9L491.5 82.9L491.9 83L492.2 83L492.6 83.1L492.9 83.1L493.2 83.2L493.6 83.2L493.9 83.3L494.2 83.3L494.6 83.4L494.9 83.4L495.3 83.5L495.6 83.5L495.9 83.6L496.3 83.6L496.6 83.7L497 83.7L497.3 83.8L497.6 83.8L498 83.9L498.3 83.9L498.7 84L499 84L499.3 84.1L499.7 84.2L500 84.2L500.3 84.3L500.7 84.4L501 84.4L501.4 84.5L501.7 84.6L502 84.6L502.4 84.7L502.7 84.8L503.1 84.9L503.4 84.9L503.7 85L504.1 85.1L504.4 85.2L504.7 85.2L505.1 85.3L505.4 85.4L505.8 85.5L506.1 85.6L506.4 85.6L506.8 85.7L507.1 85.8L507.5 85.9L507.8 86L508.1 86.1L508.5 86.2L508.8 86.3L509.1 86.4L509.5 86.5L509.8 86.6L510.2 86.7L510.5 86.8L510.8 86.8L511.2 86.9L511.5 87L511.9 87L512.2 87.1L512.5 87.1L512.9 87.2L513.2 87.2L513.6 87.3L513.9 87.3L514.2 87.3L514.6 87.4L514.9 87.4L515.2 87.4L515.6 87.5L515.9 87.5L516.3 87.5L516.6 87.5L516.9 87.6L517.3 87.6L517.6 87.6L518 87.6L518.3 87.6L518.6 87.6L519 87.6L519.3 87.6L519.6 87.5L520 87.4L520.3 87.3L520.7 87.1L521 87L521.3 86.8L521.7 86.6L522 86.4L522.4 86.2L522.7 86.1L523 85.9L523.4 85.7L523.7 85.5L524.1 85.3L524.4 85L524.7 84.8L525.1 84.5L525.4 84.2L525.7 84L526.1 83.7L526.4 83.5L526.8 83.2L527.1 83.1L527.4 82.9L527.8 82.7L528.1 82.6L528.5 82.4L528.8 82.3L529.1 82.1L529.5 82L529.8 81.9L530.1 81.7L530.5 81.6L530.8 81.6L531.2 81.5L531.5 81.4L531.8 81.4L532.2 81.3L532.5 81.3L532.9 81.2L533.2 81.2L533.5 81.1L533.9 81.1L534.2 81.1L534.5 81L534.9 81L535.2 81L535.6 81L535.9 81L536.2 81L536.6 81L536.9 81L537.3 81L537.6 81L537.9 81L538.3 81L538.6 81L539 81L539.3 81L539.6 81L540 81L540.3 81L540.6 81L541 81L541.3 81L541.7 81L542 81" stroke="#3f8fe8"/>
<path d="M389.6 89.9L389.9 90L390.3 90.1L390.6 90.2L391 90.4L391.3 90.5L391.6 90.6L392 90.8L392.3 90.9L392.6 91L393 91.2L393.3 91.3L393.7 91.5L394 91.6L394.3 91.8L394.7 92L395 92.2L395.4 92.5L395.7 92.7L396 93L396.4 93.2L396.7 93.4L397.1 93.7L397.4 93.9L397.7 94L398.1 94.1L398.4 94.2L398.7 94.3L399.1 94.3L399.4 94.3L399.8 94.2L400.1 94.2L400.4 94.1L400.8 94L401.1 93.9L401.5 93.8L401.8 93.7L402.1 93.6L402.5 93.5L402.8 93.3L403.1 93.2L403.5 93.1L403.8 93L404.2 92.9L404.5 92.7L404.8 92.7L405.2 92.6L405.5 92.4L405.9 92.3L406.2 92.2L406.5 92.1L406.9 92L407.2 91.8L407.5 91.7L407.9 91.6L408.2 91.5L408.6 91.4L408.9 91.3L409.2 91.2L409.6 91.1L409.9 91.1L410.3 91L410.6 91L410.9 91L411.3 91L411.6 91.1L412 91.1L412.3 91.2L412.6 91.2L413 91.3L413.3 91.4L413.6 91.5L414 91.6L414.3 91.7L414.7 91.9L415 92L415.3 92.1L415.7 92.2L416 92.4L416.4 92.5L416.7 92.6L417 92.7L417.4 92.8L417.7 93L418 93.1L418.4 93.3L418.7 93.4L419.1 93.6L419.4 93.7L419.7 93.9L420.1 94L420.4 94.2L420.8 94.4L421.1 94.5L421.4 94.7L421.8 94.8L422.1 95L422.5 95.1L422.8 95.3L423.1 95.4L423.5 95.6L423.8 95.7L424.1 95.9L424.5 96L424.8 96.2L425.2 96.2L425.5 96.3L425.8 96.3L426.2 96.3L426.5 96.3L426.9 96.2L427.2 96.2L427.5 96.2L427.9 96.2L428.2 96.1L428.5 96.1L428.9 96.1L429.2 96.1L429.6 96.1L429.9 96.1L430.2 96.1L430.6 96.1L430.9 96.2L431.3 96.2L431.6 96.3L431.9 96.3L432.3 96.2L432.6 96L432.9 95.7L433.3 95.5L433.6 95.4L434 95.6L434.3 96L434.6 96.5L435 96.9L435.3 97L435.7 96.9L436 96.6L436.3 96.4L436.7 96.3L437 96.8L437.4 97.5L437.7 98.3L438 98.7L438.4 98.6L438.7 98.5L439 98.3L439.4 98.2L439.7 98.2L440.1 98.3L440.4 98.5L440.7 98.8L441.1 99.1L441.4 99.4L441.8 99.8L442.1 100.3L442.4 100.8L442.8 101.2L443.1 101.6L443.4 102.1L443.8 102.5L444.1 102.9L444.5 103.1L444.8 103L445.1 102.4L445.5 101.5L445.8 100.6L446.2 99.6L446.5 98.4L446.8 97.1L447.2 96L447.5 95L447.9 94.4L448.2 93.8L448.5 93.3L448.9 92.9L449.2 92.5L449.5 92.2L449.9 92L450.2 91.8L450.6 91.6L450.9 91.5L451.2 91.3L451.6 91.2L451.9 91.1L452.3 91.1L452.6 91L452.9 91L453.3 91L453.6 90.9L453.9 90.9L454.3 90.9L454.6 90.9L455 90.8L455.3 90.8L455.6 90.8L456 90.8L456.3 90.8L456.7 90.8L457 90.8L457.3 90.8L457.7 90.8L458 90.8L458.3 90.8L458.7 90.8L459 90.8L459.4 90.8L459.7 90.8L460 90.8L460.4 90.8L460.7 90.8L461.1 90.8L461.4 90.8L461.7 90.8L462.1 90.8L462.4 90.8L462.8 90.8L463.1 90.8L463.4 90.8L463.8 90.8L464.1 90.8L464.4 90.8L464.8 90.8L465.1 90.9L465.5 90.9L465.8 90.9L466.1 90.9L466.5 90.9L466.8 90.9L467.2 90.9L467.5 90.9L467.8 90.9L468.2 90.9L468.5 90.9L468.8 91L469.2 91L469.5 91L469.9 91L470.2 91L470.5 91.1L470.9 91.2L471.2 91.3L471.6 91.4L471.9 91.5L472.2 91.6L472.6 91.7L472.9 91.6L473.3 91.5L473.6 91.4L473.9 91.4L474.3 91.3L474.6 91.3L474.9 91.3L475.3 91.3L475.6 91.4L476 91.4L476.3 91.4L476.6 91.4L477 91.4L477.3 91.5L477.7 91.5L478 91.5L478.3 91.6L478.7 91.6L479 91.6L479.3 91.7L479.7 91.7L480 91.8L480.4 91.8L480.7 91.8L481 91.9L481.4 91.9L481.7 92L482.1 92L482.4 92.1L482.7 92.1L483.1 92.1L483.4 92.2L483.7 92.2L484.1 92.3L484.4 92.4L484.8 92.4L485.1 92.5L485.4 92.6L485.8 92.6L486.1 92.7L486.5 92.8L486.8 92.8L487.1 92.9L487.5 93L487.8 93.1L488.2 93.2L488.5 93.2L488.8 93.3L489.2 93.4L489.5 93.5L489.8 93.6L490.2 93.6L490.5 93.7L490.9 93.8L491.2 93.9L491.5 93.9L491.9 94L492.2 94.1L492.6 94.2L492.9 94.2L493.2 94.3L493.6 94.4L493.9 94.5L494.2 94.5L494.6 94.6L494.9 94.7L495.3 94.8L495.6 94.8L495.9 94.9L496.3 95L496.6 95.1L497 95.1L497.3 95.2L497.6 95.3L498 95.4L498.3 95.5L498.7 95.6L499 95.7L499.3 95.7L499.7 95.8L500 95.9L500.3 96L500.7 96.1L501 96.2L501.4 96.3L501.7 96.4L502 96.6L502.4 96.7L502.7 96.8L503.1 96.9L503.4 97L503.7 97.1L504.1 97.2L504.4 97.4L504.7 97.5L505.1 97.6L505.4 97.7L505.8 97.8L506.1 98L506.4 98.1L506.8 98.2L507.1 98.4L507.5 98.5L507.8 98.7L508.1 98.8L508.5 99L508.8 99.1L509.1 99.3L509.5 99.4L509.8 99.5L510.2 99.7L510.5 99.8L510.8 99.9L511.2 100L511.5 100.1L511.9 100.2L512.2 100.3L512.5 100.4L512.9 100.4L513.2 100.5L513.6 100.6L513.9 100.6L514.2 100.7L514.6 100.7L514.9 100.8L515.2 100.8L515.6 100.9L515.9 100.9L516.3 101L516.6 101L516.9 101L517.3 101.1L517.6 101.1L518 101.1L518.3 101.1L518.6 101.1L519 101.1L519.3 101L519.6 100.9L520 100.8L520.3 100.6L520.7 100.4L521 100.1L521.3 99.9L521.7 99.6L522 99.3L522.4 99L522.7 98.7L523 98.4L523.4 98.2L523.7 97.9L524.1 97.5L524.4 97.1L524.7 96.8L525.1 96.3L525.4 95.9L525.7 95.5L526.1 95.1L526.4 94.8L526.8 94.4L527.1 94.1L527.4 93.9L527.8 93.6L528.1 93.4L528.5 93.2L528.8 92.9L529.1 92.7L529.5 92.5L529.8 92.3L530.1 92.1L530.5 92L530.8 91.8L531.2 91.7L531.5 91.6L531.8 91.6L532.2 91.5L532.5 91.4L532.9 91.3L533.2 91.3L533.5 91.2L533.9 91.1L534.2 91.1L534.5 91.1L534.9 91L535.2 91L535.6 91L535.9 91L536.2 91L536.6 91L536.9 91L537.3 91L537.6 91L537.9 91L538.3 91L538.6 91L539 91L539.3 91L539.6 91L540 91L540.3 91L540.6 91L541 91L541.3 91L541.7 91L542 91" stroke="#f27a7a"/>
<path d="M389.6 103.5L389.9 103.6L390.3 103.6L390.6 103.7L391 103.8L391.3 103.9L391.6 104L392 104.1L392.3 104.2L392.6 104.3L393 104.4L393.3 104.5L393.7 104.7L394 104.8L394.3 104.9L394.7 105.1L395 105.2L395.4 105.4L395.7 105.6L396 105.8L396.4 105.9L396.7 106.1L397.1 106.3L397.4 106.4L397.7 106.5L398.1 106.6L398.4 106.7L398.7 106.8L399.1 106.8L399.4 106.7L399.8 106.7L400.1 106.7L400.4 106.6L400.8 106.6L401.1 106.5L401.5 106.4L401.8 106.3L402.1 106.2L402.5 106.1L402.8 106L403.1 106L403.5 105.9L403.8 105.8L404.2 105.7L404.5 105.6L404.8 105.5L405.2 105.5L405.5 105.4L405.9 105.3L406.2 105.2L406.5 105.1L406.9 105L407.2 104.9L407.5 104.8L407.9 104.7L408.2 104.7L408.6 104.6L408.9 104.5L409.2 104.4L409.6 104.4L409.9 104.3L410.3 104.3L410.6 104.3L410.9 104.3L411.3 104.3L411.6 104.3L412 104.4L412.3 104.4L412.6 104.5L413 104.5L413.3 104.6L413.6 104.7L414 104.8L414.3 104.9L414.7 104.9L415 105L415.3 105.1L415.7 105.2L416 105.3L416.4 105.4L416.7 105.5L417 105.6L417.4 105.7L417.7 105.8L418 105.9L418.4 106L418.7 106.1L419.1 106.2L419.4 106.3L419.7 106.4L420.1 106.6L420.4 106.7L420.8 106.8L421.1 106.9L421.4 107L421.8 107.1L422.1 107.3L422.5 107.4L422.8 107.5L423.1 107.6L423.5 107.7L423.8 107.8L424.1 108L424.5 108.1L424.8 108.1L425.2 108.2L425.5 108.2L425.8 108.2L426.2 108.2L426.5 108.2L426.9 108.2L427.2 108.2L427.5 108.2L427.9 108.1L428.2 108.1L428.5 108.1L428.9 108.1L429.2 108.1L429.6 108.1L429.9 108.1L430.2 108.1L430.6 108.1L430.9 108.2L431.3 108.2L431.6 108.2L431.9 108.2L432.3 108.2L432.6 108L432.9 107.8L433.3 107.6L433.6 107.6L434 107.7L434.3 108L434.6 108.4L435 108.7L435.3 108.8L435.7 108.7L436 108.5L436.3 108.3L436.7 108.3L437 108.6L437.4 109.2L437.7 109.7L438 110L438.4 110L438.7 109.9L439 109.7L439.4 109.6L439.7 109.6L440.1 109.7L440.4 109.9L440.7 110.1L441.1 110.3L441.4 110.6L441.8 110.9L442.1 111.2L442.4 111.6L442.8 111.9L443.1 112.2L443.4 112.6L443.8 112.9L444.1 113.1L444.5 113.3L444.8 113.3L445.1 112.8L445.5 112.2L445.8 111.4L446.2 110.7L446.5 109.8L446.8 108.9L447.2 108L447.5 107.3L447.9 106.8L448.2 106.4L448.5 106L448.9 105.7L449.2 105.4L449.5 105.2L449.9 105L450.2 104.9L450.6 104.8L450.9 104.7L451.2 104.6L451.6 104.5L451.9 104.4L452.3 104.3L452.6 104.3L452.9 104.3L453.3 104.3L453.6 104.2L453.9 104.2L454.3 104.2L454.6 104.2L455 104.2L455.3 104.2L455.6 104.2L456 104.2L456.3 104.1L456.7 104.1L457 104.1L457.3 104.1L457.7 104.1L458 104.1L458.3 104.1L458.7 104.1L459 104.1L459.4 104.1L459.7 104.1L460 104.1L460.4 104.1L460.7 104.1L461.1 104.1L461.4 104.1L461.7 104.2L462.1 104.2L462.4 104.2L462.8 104.2L463.1 104.2L463.4 104.2L463.8 104.2L464.1 104.2L464.4 104.2L464.8 104.2L465.1 104.2L465.5 104.2L465.8 104.2L466.1 104.2L466.5 104.2L466.8 104.2L467.2 104.2L467.5 104.2L467.8 104.2L468.2 104.2L468.5 104.3L468.8 104.3L469.2 104.3L469.5 104.3L469.9 104.3L470.2 104.3L470.5 104.4L470.9 104.4L471.2 104.5L471.6 104.6L471.9 104.7L472.2 104.8L472.6 104.8L472.9 104.8L473.3 104.7L473.6 104.6L473.9 104.6L474.3 104.5L474.6 104.5L474.9 104.6L475.3 104.6L475.6 104.6L476 104.6L476.3 104.6L476.6 104.6L477 104.6L477.3 104.6L477.7 104.7L478 104.7L478.3 104.7L478.7 104.7L479 104.8L479.3 104.8L479.7 104.8L480 104.9L480.4 104.9L480.7 104.9L481 105L481.4 105L481.7 105L482.1 105.1L482.4 105.1L482.7 105.1L483.1 105.2L483.4 105.2L483.7 105.2L484.1 105.3L484.4 105.3L484.8 105.4L485.1 105.4L485.4 105.5L485.8 105.5L486.1 105.6L486.5 105.6L486.8 105.7L487.1 105.7L487.5 105.8L487.8 105.8L488.2 105.9L488.5 106L488.8 106L489.2 106.1L489.5 106.1L489.8 106.2L490.2 106.3L490.5 106.3L490.9 106.4L491.2 106.4L491.5 106.5L491.9 106.5L492.2 106.6L492.6 106.7L492.9 106.7L493.2 106.8L493.6 106.8L493.9 106.9L494.2 106.9L494.6 107L494.9 107L495.3 107.1L495.6 107.2L495.9 107.2L496.3 107.3L496.6 107.3L497 107.4L497.3 107.5L497.6 107.5L498 107.6L498.3 107.6L498.7 107.7L499 107.8L499.3 107.8L499.7 107.9L500 108L500.3 108.1L500.7 108.1L501 108.2L501.4 108.3L501.7 108.4L502 108.4L502.4 108.5L502.7 108.6L503.1 108.7L503.4 108.8L503.7 108.9L504.1 109L504.4 109L504.7 109.1L505.1 109.2L505.4 109.3L505.8 109.4L506.1 109.5L506.4 109.6L506.8 109.7L507.1 109.8L507.5 109.9L507.8 110L508.1 110.1L508.5 110.2L508.8 110.3L509.1 110.5L509.5 110.6L509.8 110.7L510.2 110.8L510.5 110.9L510.8 111L511.2 111L511.5 111.1L511.9 111.2L512.2 111.2L512.5 111.3L512.9 111.3L513.2 111.4L513.6 111.4L513.9 111.5L514.2 111.5L514.6 111.6L514.9 111.6L515.2 111.6L515.6 111.7L515.9 111.7L516.3 111.7L516.6 111.8L516.9 111.8L517.3 111.8L517.6 111.8L518 111.8L518.3 111.8L518.6 111.8L519 111.8L519.3 111.8L519.6 111.7L520 111.6L520.3 111.5L520.7 111.3L521 111.1L521.3 110.9L521.7 110.7L522 110.5L522.4 110.3L522.7 110.1L523 109.8L523.4 109.6L523.7 109.4L524.1 109.2L524.4 108.9L524.7 108.6L525.1 108.3L525.4 108L525.7 107.7L526.1 107.4L526.4 107.1L526.8 106.9L527.1 106.6L527.4 106.5L527.8 106.3L528.1 106.1L528.5 105.9L528.8 105.7L529.1 105.6L529.5 105.4L529.8 105.3L530.1 105.1L530.5 105L530.8 104.9L531.2 104.8L531.5 104.8L531.8 104.7L532.2 104.7L532.5 104.6L532.9 104.5L533.2 104.5L533.5 104.4L533.9 104.4L534.2 104.4L534.5 104.3L534.9 104.3L535.2 104.3L535.6 104.3L535.9 104.3L536.2 104.3L536.6 104.3L536.9 104.3L537.3 104.3L537.6 104.3L537.9 104.3L538.3 104.3L538.6 104.3L539 104.3L539.3 104.3L539.6 104.3L540 104.3L540.3 104.3L540.6 104.3L541 104.3L541.3 104.3L541.7 104.3L542 104.3" stroke="#7a7a7a"/>
</g>
<rect x="389.6" y="11.3" width="152.39999999999998" height="111.7" fill="none" stroke="#555" stroke-width="0.9"/>
<line x1="389.6" y1="123.0" x2="389.6" y2="121.4" stroke="#555" stroke-width="0.6"/>
<text x="389.6" y="129.9" font-size="5.0" text-anchor="middle" stroke="#111" stroke-width="0.2" fill="#111" >400</text>
<line x1="406.5" y1="123.0" x2="406.5" y2="121.4" stroke="#555" stroke-width="0.6"/>
<text x="406.5" y="129.9" font-size="5.0" text-anchor="middle" stroke="#111" stroke-width="0.2" fill="#111" >800</text>
<line x1="423.5" y1="123.0" x2="423.5" y2="121.4" stroke="#555" stroke-width="0.6"/>
<text x="423.5" y="129.9" font-size="5.0" text-anchor="middle" stroke="#111" stroke-width="0.2" fill="#111" >1200</text>
<line x1="440.4" y1="123.0" x2="440.4" y2="121.4" stroke="#555" stroke-width="0.6"/>
<text x="440.4" y="129.9" font-size="5.0" text-anchor="middle" stroke="#111" stroke-width="0.2" fill="#111" >1600</text>
<line x1="457.3" y1="123.0" x2="457.3" y2="121.4" stroke="#555" stroke-width="0.6"/>
<text x="457.3" y="129.9" font-size="5.0" text-anchor="middle" stroke="#111" stroke-width="0.2" fill="#111" >2000</text>
<line x1="474.3" y1="123.0" x2="474.3" y2="121.4" stroke="#555" stroke-width="0.6"/>
<text x="474.3" y="129.9" font-size="5.0" text-anchor="middle" stroke="#111" stroke-width="0.2" fill="#111" >2400</text>
<line x1="491.2" y1="123.0" x2="491.2" y2="121.4" stroke="#555" stroke-width="0.6"/>
<text x="491.2" y="129.9" font-size="5.0" text-anchor="middle" stroke="#111" stroke-width="0.2" fill="#111" >2800</text>
<line x1="508.1" y1="123.0" x2="508.1" y2="121.4" stroke="#555" stroke-width="0.6"/>
<text x="508.1" y="129.9" font-size="5.0" text-anchor="middle" stroke="#111" stroke-width="0.2" fill="#111" >3200</text>
<line x1="525.1" y1="123.0" x2="525.1" y2="121.4" stroke="#555" stroke-width="0.6"/>
<text x="525.1" y="129.9" font-size="5.0" text-anchor="middle" stroke="#111" stroke-width="0.2" fill="#111" >3600</text>
<line x1="542" y1="123.0" x2="542" y2="121.4" stroke="#555" stroke-width="0.6"/>
<text x="542" y="129.9" font-size="5.0" text-anchor="middle" stroke="#111" stroke-width="0.2" fill="#111" >4000</text>
<text x="465.8" y="140.4" font-size="6.05" text-anchor="middle" font-weight="bold" stroke="#111" stroke-width="0.12" fill="#111" >Wavenumbers (cm<tspan font-size="3.8" dy="-2">-1</tspan><tspan dy="2">)</tspan></text>
<text x="380.6" y="68" font-size="6.0" text-anchor="middle" font-weight="bold" stroke="#111" stroke-width="0.12" transform="rotate(-90 380.6 68)" fill="#111" >Transmittance</text>
<text x="368.9" y="10.4" font-size="10.0" text-anchor="middle" font-weight="bold" stroke="#111" stroke-width="0.12" fill="#111" >(C)</text>
<text x="468" y="21.4" font-size="4.6" text-anchor="middle" font-weight="bold" stroke="#111" stroke-width="0.12" fill="#111" >1:12.5U</text>
<text x="468" y="35.4" font-size="4.6" text-anchor="middle" font-weight="bold" stroke="#111" stroke-width="0.12" fill="#111" >1:12.5</text>
<text x="468" y="49.4" font-size="4.6" text-anchor="middle" font-weight="bold" stroke="#111" stroke-width="0.12" fill="#111" >1:25U</text>
<text x="468" y="64.4" font-size="4.6" text-anchor="middle" font-weight="bold" stroke="#111" stroke-width="0.12" fill="#111" >1:25</text>
<text x="468" y="79.2" font-size="4.6" text-anchor="middle" font-weight="bold" stroke="#111" stroke-width="0.12" fill="#111" >1:50U</text>
<text x="468" y="87.6" font-size="4.6" text-anchor="middle" font-weight="bold" stroke="#111" stroke-width="0.12" fill="#111" >1:50</text>
<text x="468" y="103.4" font-size="4.6" text-anchor="middle" font-weight="bold" stroke="#111" stroke-width="0.12" fill="#111" >Control</text>
<text x="433.4" y="36.3" font-size="2.6" fill="#111" stroke="#111" stroke-width="0.12" text-anchor="end">1538.11</text>
<line x1="433.6" y1="34.2" x2="436.8" y2="32" stroke="#111" stroke-width="0.8"/>
<text x="447.2" y="36.1" font-size="2.6" fill="#111" stroke="#111" stroke-width="0.12" text-anchor="start">1654.72</text>
<line x1="447.2" y1="34.2" x2="444.0" y2="32.2" stroke="#111" stroke-width="0.8"/>
<text x="514.6" y="38.7" font-size="2.6" fill="#111" stroke="#111" stroke-width="0.12" text-anchor="middle">3276.87</text>
<line x1="512.8" y1="34" x2="515.8" y2="36" stroke="#111" stroke-width="0.8"/>
<text x="433.4" y="50.5" font-size="2.6" fill="#111" stroke="#111" stroke-width="0.12" text-anchor="end">1538.11</text>
<line x1="433.6" y1="48.4" x2="436.8" y2="46.2" stroke="#111" stroke-width="0.8"/>
<text x="447.2" y="50.3" font-size="2.6" fill="#111" stroke="#111" stroke-width="0.12" text-anchor="start">1658.72</text>
<line x1="447.2" y1="48.4" x2="444.0" y2="46.4" stroke="#111" stroke-width="0.8"/>
<text x="514.6" y="52.9" font-size="2.6" fill="#111" stroke="#111" stroke-width="0.12" text-anchor="middle">3295.36</text>
<line x1="512.8" y1="48.2" x2="515.8" y2="50.2" stroke="#111" stroke-width="0.8"/>
<text x="433.4" y="64.9" font-size="2.6" fill="#111" stroke="#111" stroke-width="0.12" text-anchor="end">1535.08</text>
<line x1="433.6" y1="62.8" x2="436.8" y2="60.6" stroke="#111" stroke-width="0.8"/>
<text x="447.2" y="64.7" font-size="2.6" fill="#111" stroke="#111" stroke-width="0.12" text-anchor="start">1654.72</text>
<line x1="447.2" y1="62.8" x2="444.0" y2="60.8" stroke="#111" stroke-width="0.8"/>
<text x="514.6" y="67.3" font-size="2.6" fill="#111" stroke="#111" stroke-width="0.12" text-anchor="middle">3290.62</text>
<line x1="512.8" y1="62.6" x2="515.8" y2="64.6" stroke="#111" stroke-width="0.8"/>
<text x="433.4" y="80.4" font-size="2.6" fill="#111" stroke="#111" stroke-width="0.12" text-anchor="end">1537.32</text>
<line x1="433.6" y1="78.3" x2="436.8" y2="76.1" stroke="#111" stroke-width="0.8"/>
<text x="447.2" y="80.2" font-size="2.6" fill="#111" stroke="#111" stroke-width="0.12" text-anchor="start">1657.47</text>
<line x1="447.2" y1="78.3" x2="444.0" y2="76.3" stroke="#111" stroke-width="0.8"/>
<text x="514.6" y="82.8" font-size="2.6" fill="#111" stroke="#111" stroke-width="0.12" text-anchor="middle">3290.39</text>
<line x1="512.8" y1="78.1" x2="515.8" y2="80.1" stroke="#111" stroke-width="0.8"/>
<text x="433.4" y="93.9" font-size="2.6" fill="#111" stroke="#111" stroke-width="0.12" text-anchor="end">1535.84</text>
<line x1="433.6" y1="91.8" x2="436.8" y2="89.6" stroke="#111" stroke-width="0.8"/>
<text x="447.2" y="93.7" font-size="2.6" fill="#111" stroke="#111" stroke-width="0.12" text-anchor="start">1655.39</text>
<line x1="447.2" y1="91.8" x2="444.0" y2="89.8" stroke="#111" stroke-width="0.8"/>
<text x="514.6" y="96.3" font-size="2.6" fill="#111" stroke="#111" stroke-width="0.12" text-anchor="middle">3258.92</text>
<line x1="512.8" y1="91.6" x2="515.8" y2="93.6" stroke="#111" stroke-width="0.8"/>
<text x="433.4" y="103.9" font-size="2.6" fill="#111" stroke="#111" stroke-width="0.12" text-anchor="end">1538.86</text>
<line x1="433.6" y1="101.8" x2="436.8" y2="99.6" stroke="#111" stroke-width="0.8"/>
<text x="447.2" y="103.7" font-size="2.6" fill="#111" stroke="#111" stroke-width="0.12" text-anchor="start">1656.72</text>
<line x1="447.2" y1="101.8" x2="444.0" y2="99.8" stroke="#111" stroke-width="0.8"/>
<text x="514.6" y="106.3" font-size="2.6" fill="#111" stroke="#111" stroke-width="0.12" text-anchor="middle">3300.34</text>
<line x1="512.8" y1="101.6" x2="515.8" y2="103.6" stroke="#111" stroke-width="0.8"/>
<text x="433.4" y="117.2" font-size="2.6" fill="#111" stroke="#111" stroke-width="0.12" text-anchor="end">1537.03</text>
<line x1="433.6" y1="115.1" x2="436.8" y2="112.9" stroke="#111" stroke-width="0.8"/>
<text x="447.2" y="117" font-size="2.6" fill="#111" stroke="#111" stroke-width="0.12" text-anchor="start">1648.65</text>
<line x1="447.2" y1="115.1" x2="444.0" y2="113.1" stroke="#111" stroke-width="0.8"/>
<text x="514.6" y="119.6" font-size="2.6" fill="#111" stroke="#111" stroke-width="0.12" text-anchor="middle">3305.21</text>
<line x1="512.8" y1="114.9" x2="515.8" y2="116.9" stroke="#111" stroke-width="0.8"/>
<defs><clipPath id="clipD"><rect x="32.4" y="172.8" width="123.6" height="121.0"/></clipPath></defs>
<g clip-path="url(#clipD)">
<rect x="32.4" y="172.8" width="123.6" height="121.0" fill="#1681c4"/>
<path d="M33.4 172.8L34.4 172.8L35.4 172.8L36.4 172.8L37.4 172.8L38.4 172.8L39.4 172.8L40.4 172.8L41.4 172.8L42.4 172.8L43.4 172.8L44.4 172.8L45.4 172.8L46.4 172.8L47.4 172.8L48.4 172.8L49.4 172.8L50.4 172.8L51.4 172.8L52.4 172.8L53.4 172.8L54.4 172.8L55.4 172.8L56.4 172.8L57.4 172.8L58.4 172.8L59.4 172.8L60.4 172.8L61.4 172.8L62.4 172.8L63.4 172.8L64.4 172.8L65.4 172.8L66.4 172.8L67.4 172.8L68.4 172.8L69.4 172.8L70.4 172.8L70.4 173.8L70.4 174.8L70.4 175.8L70.4 176.8L70.4 177.8L70.4 178.8L70.4 179.8L70.4 180.8L70.4 181.8L70.3 182.8L70.3 183.8L70.2 184.8L69.8 185.8L69.4 186.2L68.9 185.8L68.4 185.5L67.9 184.8L67.4 184.3L67 183.8L66.4 183.1L66 182.8L65.4 182.3L64.4 182.7L64.1 182.8L63.4 183.2L62.4 183.8L62.4 183.8L61.4 184.5L61.1 184.8L60.4 185.3L59.8 185.8L59.4 186.2L58.7 186.8L58.4 187.1L57.6 187.8L57.4 188L56.7 188.8L56.4 189.1L55.7 189.8L55.4 190.2L54.9 190.8L54.4 191.3L54 191.8L53.4 192.6L53.3 192.8L52.5 193.8L52.4 194L51.8 194.8L51.4 195.4L51.1 195.8L50.6 196.8L50.4 197.3L50.1 197.8L50.2 198.8L50.4 199.2L50.6 199.8L51.2 200.8L51.4 201.2L51.7 201.8L52.3 202.8L52.4 202.9L52.9 203.8L53.4 204.7L53.4 204.8L53.9 205.8L54.4 206.6L54.5 206.8L55.1 207.8L55.4 208.3L55.7 208.8L56.3 209.8L56.4 209.9L56.9 210.8L57.4 211.6L57.5 211.8L58 212.8L58.4 213.4L58.6 213.8L59.1 214.8L59.4 215.4L59.6 215.8L60.1 216.8L60.4 217.5L60.5 217.8L61 218.8L61.4 219.7L61.4 219.8L61.9 220.8L62.3 221.8L62.4 222L62.7 222.8L63.2 223.8L63.4 224.3L63.6 224.8L64 225.8L64.4 226.7L64.5 226.8L64.9 227.8L65.3 228.8L65.4 229L65.8 229.8L66.2 230.8L66.4 231.3L66.6 231.8L67 232.8L67.4 233.7L67.4 233.8L67.8 234.8L68.2 235.8L68.4 236.2L68.6 236.8L68.9 237.8L69.2 238.8L69.4 239.4L69.5 239.8L69.7 240.8L70 241.8L70.2 242.8L70.4 243.8L70.4 244.3L70.4 244.8L70.4 245L70.3 245.8L69.9 246.8L69.4 247.3L68.4 247.6L67.4 247.7L66.4 247.8L65.4 247.8L64.4 247.8L63.4 247.8L62.4 247.8L61.4 247.8L60.4 247.8L59.4 247.8L58.4 247.8L57.4 247.8L56.4 247.8L55.4 247.8L54.4 247.8L54 247.8L53.4 247.8L52.4 247.8L51.4 247.8L50.4 247.8L49.4 247.8L48.4 247.8L47.4 247.8L47.4 247.8L46.4 247.8L45.4 247.8L44.4 247.8L43.4 247.8L42.4 247.8L41.4 247.8L40.4 247.8L39.4 247.8L38.4 247.8L37.4 247.8L36.4 247.8L36.2 247.8L35.4 247.8L34.4 247.9L33.4 248L32.4 248L32.4 247.8L32.4 246.8L32.4 245.8L32.4 244.8L32.4 243.8L32.4 242.8L32.4 241.8L32.4 240.8L32.4 239.8L32.4 238.8L32.4 237.8L32.4 236.8L32.4 235.8L32.4 234.8L32.4 233.8L32.4 232.8L32.4 231.8L32.4 230.8L32.4 229.8L32.4 228.8L32.4 227.8L32.4 226.8L32.4 225.8L32.4 224.8L32.4 223.8L32.4 222.8L32.4 221.8L32.4 220.8L32.4 219.8L32.4 218.8L32.4 217.8L32.4 216.8L32.4 215.8L32.4 214.8L32.4 213.8L32.4 212.8L32.4 211.8L32.4 210.8L32.4 209.8L32.4 208.8L32.4 207.8L32.4 206.8L32.4 205.8L32.4 204.8L32.4 203.8L32.8 204.8L33.4 205.8L33.4 205.8L34.1 206.8L34.4 207.2L35 207.8L35.4 208.2L36.2 208.8L36.4 208.9L37.4 209.4L38.4 209.7L39.4 209.8L39.4 209.8L39.4 209.8L40.4 209.7L41.4 209.4L42.4 208.9L42.6 208.8L43.4 208.2L43.8 207.8L44.4 207.2L44.7 206.8L45.4 205.8L45.4 205.8L46 204.8L46.4 203.9L46.4 203.8L46.8 202.8L47.1 201.8L47.4 200.8L47.4 200.8L47.7 199.8L48 198.8L48.1 197.8L48 196.8L47.8 195.8L47.6 194.8L47.4 194.1L47.3 193.8L47.1 192.8L46.8 191.8L46.4 190.8L46.4 190.8L46 189.8L45.4 188.8L45.4 188.8L44.7 187.8L44.4 187.4L43.8 186.8L43.4 186.4L42.6 185.8L42.4 185.7L41.4 185.2L40.4 184.9L39.4 184.8L39.4 184.8L39.4 184.8L38.4 184.9L37.4 185.2L36.4 185.7L36.2 185.8L35.4 186.4L35 186.8L34.4 187.4L34.1 187.8L33.4 188.8L33.4 188.8L32.8 189.8L32.4 190.8L32.4 189.8L32.4 188.8L32.4 187.8L32.4 186.8L32.4 185.8L32.4 184.8L32.4 183.8L32.4 182.8L32.4 181.8L32.4 180.8L32.4 179.8L32.4 178.8L32.4 177.8L32.4 176.8L32.4 175.8L32.4 174.8L32.4 173.8L32.4 172.8ZM80.4 172.8L81.4 172.8L82.4 172.8L83.4 172.8L84.4 172.8L85.4 172.8L86.4 172.8L87.4 172.8L88.4 172.8L89.4 172.8L90.4 172.8L91.4 172.8L92.4 172.8L93.4 172.8L94.4 172.8L95.4 172.8L96.4 172.8L97.4 172.8L98.4 172.8L99.4 172.8L100.4 172.8L101.4 172.8L102.4 172.8L103.4 172.8L104.4 172.8L105.4 172.8L106.4 172.8L107.4 172.8L108.4 172.8L109.4 172.8L110.4 172.8L111.4 172.8L112.4 172.8L113.4 172.8L114.4 172.8L115.4 172.8L116.4 172.8L117.4 172.8L118.4 172.8L119.4 172.8L120.4 172.8L121.4 172.8L122.4 172.8L123.4 172.8L124.4 172.8L125.4 172.8L125.9 172.8L125.4 173.1L124.4 173.7L124.3 173.8L123.4 174.3L122.6 174.8L122.4 174.9L121.4 175.5L120.9 175.8L120.4 176.1L119.4 176.7L119.2 176.8L118.4 177.2L117.4 177.8L117.3 177.8L116.4 178.3L115.5 178.8L115.4 178.8L114.4 179.4L113.5 179.8L113.4 179.9L112.4 180.4L111.6 180.8L111.4 180.9L110.4 181.4L109.6 181.8L109.4 181.9L108.4 182.4L107.5 182.8L107.4 182.8L106.4 183.3L105.4 183.8L105.4 183.8L104.4 184.3L103.4 184.7L103.2 184.8L102.4 185.2L101.4 185.6L101 185.8L100.4 186.1L99.4 186.5L98.7 186.8L98.4 186.9L97.4 187.4L96.4 187.8L96.4 187.8L95.4 188.2L94.4 188.6L94 188.8L93.4 189L92.4 189.4L91.5 189.8L91.4 189.8L90.4 190.2L89.4 190.6L88.9 190.8L88.4 191L87.4 191.4L86.4 191.7L86.3 191.8L85.4 192.1L84.4 192.4L83.4 192.6L82.4 192.2L82 191.8L81.4 191.1L81.4 190.8L81.2 189.8L81.1 188.8L80.9 187.8L80.7 186.8L80.4 185.8L80.4 185.6L80.3 184.8L80.2 183.8L80.2 182.8L80.1 181.8L80.1 180.8L80.1 179.8L80.1 178.8L80.1 177.8L80.1 176.8L80.1 175.8L80.1 174.8L80.1 173.8L80.1 172.8ZM138.4 172.8L139.4 172.8L140.4 172.8L141.4 172.8L142.4 172.8L143.4 172.8L144.4 172.8L145.4 172.8L146.4 172.8L147.4 172.8L148.4 172.8L149.4 172.8L150.4 172.8L151.4 172.8L152.4 172.8L153.4 172.8L154.4 172.8L155.4 172.8L156.4 172.8L156.4 173.8L156.4 174.8L156.4 175.8L156.4 176.8L156.4 177.8L156.4 178.8L156.4 179.8L156.4 180.8L156.4 181.8L156.4 182.8L156.4 183.8L156.4 183.9L156.2 183.8L155.4 183.4L154.4 182.9L154.3 182.8L153.4 182.3L152.4 181.8L152.4 181.8L151.4 181.3L150.5 180.8L150.4 180.7L149.4 180.2L148.7 179.8L148.4 179.6L147.4 179.1L147 178.8L146.4 178.5L145.4 177.9L145.2 177.8L144.4 177.3L143.6 176.8L143.4 176.7L142.4 176.1L142 175.8L141.4 175.4L140.4 174.8L140.4 174.8L139.4 174.2L138.9 173.8L138.4 173.5L137.4 172.8ZM82.4 202.2L83.4 201.9L84.4 202.2L85.4 202.8L85.4 202.8L86.4 203.4L87.1 203.8L87.4 204L88.4 204.6L88.8 204.8L89.4 205.2L90.4 205.8L90.4 205.8L91.4 206.4L92 206.8L92.4 207.1L93.4 207.7L93.5 207.8L94.4 208.4L95 208.8L95.4 209L96.4 209.7L96.5 209.8L97.4 210.4L98 210.8L98.4 211.1L99.4 211.8L99.4 211.8L100.4 212.5L100.8 212.8L101.4 213.2L102.2 213.8L102.4 213.9L103.4 214.7L103.6 214.8L104.4 215.4L104.9 215.8L105.4 216.1L106.3 216.8L106.4 216.9L107.4 217.7L107.6 217.8L108.4 218.4L108.9 218.8L109.4 219.2L110.1 219.8L110.4 220L111.4 220.8L111.4 220.8L112.4 221.6L112.6 221.8L113.4 222.4L113.8 222.8L114.4 223.3L115 223.8L115.4 224.1L116.2 224.8L116.4 225L117.4 225.8L117.4 225.8L118.4 226.7L118.5 226.8L119.4 227.6L119.6 227.8L120.4 228.5L120.7 228.8L121.4 229.4L121.8 229.8L122.4 230.4L122.9 230.8L123.4 231.3L123.9 231.8L124.4 232.3L124.9 232.8L125.4 233.3L125.9 233.8L126.4 234.3L126.8 234.8L127.4 235.4L127.8 235.8L128.4 236.5L128.6 236.8L129.4 237.7L129.5 237.8L130.3 238.8L130.4 238.9L131 239.8L131.4 240.3L132.4 240.2L132.7 239.8L133.4 238.8L133.4 238.7L134.1 237.8L134.4 237.4L134.9 236.8L135.4 236.2L135.7 235.8L136.4 235L136.5 234.8L137.4 233.8L137.4 233.8L138.3 232.8L138.4 232.7L139.2 231.8L139.4 231.6L140.2 230.8L140.4 230.6L141.2 229.8L141.4 229.6L142.1 228.8L142.4 228.5L143.2 227.8L143.4 227.6L144.2 226.8L144.4 226.6L145.2 225.8L145.4 225.6L146.3 224.8L146.4 224.7L147.4 223.8L147.4 223.8L148.4 222.8L148.5 222.8L149.4 222L149.6 221.8L150.4 221.1L150.7 220.8L151.4 220.2L151.8 219.8L152.4 219.3L153 218.8L153.4 218.5L154.2 217.8L154.4 217.6L155.4 216.8L155.4 216.8L156.4 216L156.4 216.8L156.4 217.8L156.4 218.8L156.4 219.8L156.4 220.8L156.4 221.8L156.4 222.8L156.4 223.8L156.4 224.8L156.4 225.8L156.4 226.8L156.4 227.8L156.4 228.8L156.4 229.8L156.4 230.8L156.4 231.8L156.4 232.8L156.4 233.8L156.4 234.8L156.4 235.8L156.4 236.8L156.4 237.8L156.4 238.8L156.4 239.8L156.4 240.8L156.4 241.8L156.4 242.8L156.4 243.8L156.4 244.8L156.4 245.8L156.4 246.8L156.4 247.8L156.4 248L155.4 248L154.4 248L153.4 248L152.4 248L151.4 248L150.4 248L149.4 248L148.4 247.9L147.4 247.9L146.4 247.8L145.4 247.8L144.6 247.8L144.4 247.8L143.4 247.7L142.4 247.6L141.4 247.5L140.4 247.4L139.4 247.3L138.4 247.2L137.4 247.1L136.4 247.1L135.4 247L134.4 247L133.4 246.9L132.4 246.9L131.4 246.8L130.4 246.9L129.4 246.9L128.4 246.9L127.4 246.9L126.4 246.9L125.4 247L124.4 247L123.4 247L122.4 247L121.4 247L120.4 247.1L119.4 247.1L118.4 247.1L117.4 247.2L116.4 247.2L115.4 247.3L114.4 247.3L113.4 247.4L112.4 247.6L111.4 247.7L110.4 247.8L109.8 247.8L109.4 247.8L108.4 247.8L107.4 247.9L106.4 247.9L105.4 247.9L104.4 248L103.4 248L102.4 248L101.4 248L100.4 248L99.4 248L98.4 248L97.4 248L96.4 248L95.4 248L94.4 248L93.4 248L92.4 248L91.4 248L90.4 248L89.4 248L88.4 248L87.4 248L86.4 248L85.4 248L84.4 248L83.4 248L82.4 247.9L81.8 247.8L81.4 247.7L80.4 246.9L80.3 246.8L80 245.8L80 244.8L79.9 243.8L79.9 242.8L79.9 241.8L79.9 240.8L79.9 239.8L79.9 238.8L79.9 237.8L79.9 236.8L79.9 235.8L79.9 234.8L79.9 233.8L79.9 232.8L80 231.8L80 230.8L80 229.8L80.1 228.8L80.1 227.8L80.1 226.8L80.1 225.8L80.1 224.8L80.1 223.8L80.1 222.8L80.1 221.8L80.1 220.8L80.1 219.8L80.1 218.8L80.1 217.8L80.1 216.8L80.1 215.8L80.1 214.8L80.1 213.8L80.2 212.8L80.2 211.8L80.2 210.8L80.3 209.8L80.4 208.8L80.4 208.6L80.5 207.8L80.8 206.8L81 205.8L81.2 204.8L81.3 203.8L81.4 203.3L81.9 202.8ZM81.4 256.8L82.4 256.6L83.4 256.5L84.4 256.5L85.4 256.5L86.4 256.5L87.4 256.5L88.4 256.5L89.4 256.5L90.4 256.5L91.4 256.5L92.4 256.5L93.4 256.5L94.4 256.5L95.4 256.5L96.4 256.5L97.4 256.5L98.4 256.5L99.4 256.5L100.4 256.5L101.4 256.5L102.4 256.6L103.4 256.6L104.4 256.7L105.1 256.8L105.4 256.9L106.4 257.3L107.3 257.8L106.4 258.7L106.4 258.8L105.4 259.6L105.2 259.8L104.4 260.6L104.2 260.8L103.6 261.8L103.4 262.1L103.1 262.8L102.9 263.8L102.9 264.8L103 265.8L103.4 266.8L103.4 266.9L103.9 267.8L104.4 268.4L104.8 268.8L105.4 269.3L106 269.8L106.4 270.1L107.4 270.7L107.6 270.8L108.4 271.2L109.4 271.6L109.9 271.8L110.4 272L111.4 272.3L112.4 272.6L113.2 272.8L113.4 272.9L114.4 273.1L115.4 273.3L116.4 273.4L117.4 273.5L118.4 273.7L119.4 273.8L119.6 273.8L120.4 273.9L121.4 274L122.4 274L123.4 274.1L124.4 274.1L125.4 274.1L126.4 274.1L127.4 274.1L128.4 274.1L129.4 274.1L130.4 274L131.4 273.9L132 273.8L132.4 273.8L133.4 273.6L134.4 273.5L135.4 273.4L136.4 273.2L137.4 272.9L137.7 272.8L138.4 272.6L139.4 272.3L140.4 272L140.8 271.8L141.4 271.5L142.4 271.1L143 270.8L143.4 270.5L144.4 269.9L144.6 269.8L145.4 269.1L145.7 268.8L146.4 268L146.6 267.8L147.1 266.8L147.4 265.9L147.4 265.8L147.6 264.8L147.5 263.8L147.4 263.2L147.3 262.8L146.9 261.8L146.4 261L146.2 260.8L145.4 259.9L145.3 259.8L144.4 258.9L144.3 258.8L144.4 258.5L144.8 257.8L145.4 257.7L146.4 257.6L147.4 257.5L148.4 257.2L149.3 256.8L149.4 256.8L150.4 256.6L151.4 256.6L152.4 256.5L153.4 256.5L154.4 256.5L155.4 256.5L156.4 256.5L156.4 256.8L156.4 257.8L156.4 258.8L156.4 259.8L156.4 260.8L156.4 261.8L156.4 262.8L156.4 263.8L156.4 264.8L156.4 265.8L156.4 266.8L156.4 267.8L156.4 268.8L156.4 269.8L156.4 270.8L156.4 271.8L156.4 272.8L156.4 273.8L156.4 274.8L156.4 275.8L156.4 276.8L156.4 277.8L156.4 278.8L156.4 279.8L156.4 280.8L156.4 281.8L156.4 282.8L156.4 283.8L156.4 284.8L156.4 285.8L156.4 286.8L156.4 287.8L156.4 288.8L156.4 289.8L156.4 290.8L156.4 291.8L156.4 292.8L156.4 293.8L155.4 293.8L154.4 293.8L153.4 293.8L152.4 293.8L151.4 293.8L150.4 293.8L149.4 293.8L148.4 293.8L147.4 293.8L146.4 293.8L145.4 293.8L144.4 293.8L143.4 293.8L142.4 293.8L142.1 293.8L142.4 293.7L143.4 293.3L144.4 292.8L144.4 292.8L145.4 292.2L146 291.8L146.4 291.5L147.2 290.8L147.4 290.6L148.1 289.8L148.4 289.5L148.9 288.8L149.4 287.8L149.4 287.7L149.7 286.8L149.9 285.8L150 284.8L150 283.8L149.8 282.8L149.4 282L149.3 281.8L148.6 280.8L148.4 280.6L147.6 279.8L147.4 279.7L146.4 279L146.1 278.8L145.4 278.4L144.4 278L144 277.8L143.4 277.5L142.4 277.3L141.4 277L140.8 276.8L140.4 276.7L139.4 276.5L138.4 276.3L137.4 276.2L136.4 276.1L135.4 276L134.4 275.9L133.4 275.8L132.5 275.8L132.4 275.8L131.4 275.8L130.4 275.8L129.4 275.8L129.3 275.8L128.4 275.8L127.4 275.9L126.4 276L125.4 276.1L124.4 276.2L123.4 276.3L122.4 276.5L121.4 276.7L121.2 276.8L120.4 277L119.4 277.3L118.4 277.6L118 277.8L117.4 278.1L116.4 278.5L115.9 278.8L115.4 279.1L114.4 279.8L114.4 279.8L113.4 280.8L113.4 280.8L112.7 281.8L112.4 282.4L112.2 282.8L112 283.8L112 284.8L112.1 285.8L112.3 286.8L112.4 287.2L112.6 287.8L113.1 288.8L113.4 289.2L113.8 289.8L114.4 290.4L114.8 290.8L115.4 291.3L116 291.8L116.4 292.1L117.4 292.7L117.6 292.8L118.4 293.2L119.4 293.6L119.9 293.8L119.4 293.8L118.4 293.8L117.4 293.8L116.4 293.8L115.4 293.8L114.4 293.8L113.4 293.8L112.4 293.8L111.4 293.8L110.4 293.8L109.4 293.8L108.4 293.8L107.4 293.8L106.4 293.8L105.4 293.8L104.4 293.8L103.4 293.8L102.4 293.8L101.4 293.8L100.4 293.8L99.4 293.8L98.4 293.8L97.4 293.8L96.4 293.8L95.4 293.8L94.4 293.8L93.4 293.8L92.4 293.8L91.4 293.8L90.4 293.8L89.4 293.8L88.4 293.8L87.4 293.8L86.4 293.8L85.4 293.8L84.4 293.8L83.4 293.8L82.4 293.8L81.4 293.8L80.4 293.8L79.9 293.8L79.9 292.8L80 291.8L80 290.8L80 289.8L80 288.8L80 287.8L80 286.8L80 285.8L80 284.8L80 283.8L80 282.8L80 281.8L80 280.8L80 279.8L80 278.8L80 277.8L80 276.8L80 275.8L80 274.8L80 273.8L80 272.8L80 271.8L80 270.8L80 269.8L80 268.8L80 267.8L80 266.8L80 265.8L80 264.8L80 263.8L80 262.8L80 261.8L80 260.8L80 259.8L80.1 258.8L80.3 257.8L80.4 257.6L81.4 256.8ZM48.4 273.3L49.4 273L50.4 273L51.4 273.2L52.3 273.8L52.4 274L52.9 274.8L52.9 275.8L52.5 276.8L52.4 276.9L51.4 277.5L50.7 277.8L50.4 277.9L49.4 277.9L49.2 277.8L48.4 277.4L47.6 276.8L47.4 276.6L47 275.8L47 274.8L47.4 274.2L47.8 273.8Z" fill="#1681c4" stroke="#1681c4" stroke-width="0.25" fill-rule="evenodd"/>
<path d="M70.4 172.8L71.4 172.8L72.4 172.8L72.8 172.8L72.8 173.8L72.8 174.8L72.8 175.8L72.8 176.8L72.8 177.8L72.8 178.8L72.8 179.8L72.8 180.8L72.7 181.8L72.5 182.8L72.4 183.1L72.2 183.8L72 184.8L71.7 185.8L71.5 186.8L71.4 187.4L71.3 187.8L70.9 188.8L70.4 189.7L69.4 189.3L68.4 188.8L68.4 188.8L67.4 188.2L66.4 187.8L65.4 188L64.4 188.3L63.4 188.7L63.2 188.8L62.4 189.2L61.4 189.8L61.4 189.8L60.4 190.4L59.9 190.8L59.4 191.2L58.7 191.8L58.4 192.1L57.6 192.8L57.4 193L56.7 193.8L56.4 194.1L55.8 194.8L55.4 195.3L55.1 195.8L54.5 196.8L54.4 197.1L54.1 197.8L54 198.8L54.2 199.8L54.4 200.2L54.7 200.8L55.2 201.8L55.4 202.1L55.8 202.8L56.1 203.8L56.3 204.8L56.4 205.8L56.4 205.8L56.8 206.8L57.3 207.8L57.4 207.9L58 208.8L58.4 209.4L58.7 209.8L59.4 210.7L59.5 210.8L60.4 211.8L60.4 211.8L61.4 212.8L61.4 212.8L62.4 213.6L62.7 213.8L63.4 214.3L64.2 214.8L64.4 214.9L65.4 215.3L66 214.8L66.4 214.4L66.9 213.8L67.4 213.2L67.7 212.8L68.4 211.8L68.4 211.8L69.3 210.8L69.4 210.6L70.4 210L71.4 210.5L71.5 210.8L71.7 211.8L71.8 212.8L71.9 213.8L71.9 214.8L71.9 215.8L72 216.8L72 217.8L72 218.8L72 219.8L72 220.8L72 221.8L72 222.8L72 223.8L72 224.8L72 225.8L72 226.8L72 227.8L72.1 228.8L72.3 229.8L72.4 230.1L72.6 230.8L72.9 231.8L73.1 232.8L73.1 233.8L73.1 234.8L73.1 235.8L73.1 236.8L73.1 237.8L73.1 238.8L73.1 239.8L73.2 240.8L73.2 241.8L73.3 242.8L73.4 243.8L73.4 244L73.4 244.8L73.4 244.9L73.3 245.8L73 246.8L72.4 247.6L72.2 247.8L71.4 248.4L70.7 248.8L70.4 248.9L69.4 249.1L68.4 249.2L67.4 249.2L66.4 249.2L65.4 249.2L64.4 249.2L63.4 249.2L62.4 249.2L61.4 249.2L60.4 249.2L59.4 249.2L58.4 249.2L57.4 249.2L56.4 249.2L55.4 249.2L54.4 249.3L53.4 249.6L52.6 249.8L52.4 249.9L51.4 250L50.4 250L49.4 249.9L48.9 249.8L48.4 249.7L47.4 249.4L46.4 249.2L45.4 249.2L44.4 249.2L43.4 249.2L42.4 249.2L41.4 249.2L40.4 249.2L39.4 249.2L38.4 249.2L37.4 249.2L36.4 249.3L35.4 249.5L34.9 249.8L34.4 250.7L34.3 250.8L34.2 251.8L34.4 252.7L34.4 252.8L34.4 253.1L34.3 253.8L34.2 254.8L34.4 255.6L34.4 255.8L35.4 256.8L35.4 256.8L36.4 257.1L37.4 257.1L38.4 257.1L39.4 257.1L40.4 257.1L41.4 257.1L42.4 257.1L43.4 257.1L44.4 257.1L45.4 257.1L46.4 257.1L47.4 256.8L47.5 256.8L48.4 256.4L49.4 256.1L50.4 256.1L51.4 256.1L52.4 256.2L53.4 256.6L53.9 256.8L54.4 257L55.4 257.1L56.4 257.1L57.4 257.2L58.4 257.2L59.4 257.2L60.4 257.2L61.4 257.2L62.4 257.2L63.4 257.1L64.4 257.1L65.4 257.1L66.4 257.1L67.4 257.1L68.4 257.1L69.4 257.1L70.4 257.2L71.4 257.6L72.4 257.7L72.6 257.8L72.8 258.8L72.9 259.8L72.8 260.8L72.7 261.8L72.7 262.8L72.9 263.8L72.8 264.8L72.7 265.8L72.7 266.8L72.9 267.8L72.9 268.8L72.7 269.8L72.7 270.8L72.9 271.8L72.9 272.8L72.7 273.8L72.7 274.8L72.8 275.8L73 276.8L72.8 277.8L72.7 278.8L72.8 279.8L73 280.8L72.8 281.8L72.7 282.8L72.7 283.8L72.9 284.8L72.8 285.8L72.7 286.8L72.7 287.8L72.9 288.8L72.9 289.8L72.8 290.8L72.9 291.8L73.3 292.8L73.3 293.8L72.4 293.8L71.4 293.8L70.4 293.8L69.4 293.8L68.4 293.8L67.4 293.8L66.4 293.8L65.4 293.8L64.4 293.8L63.4 293.8L62.4 293.8L61.4 293.8L60.4 293.8L59.4 293.8L58.4 293.8L57.4 293.8L56.4 293.8L55.4 293.8L54.4 293.8L53.4 293.8L52.4 293.8L51.4 293.8L50.4 293.8L49.4 293.8L48.4 293.8L47.4 293.8L46.4 293.8L45.4 293.8L44.4 293.8L43.4 293.8L42.4 293.8L41.4 293.8L40.4 293.8L39.4 293.8L38.4 293.8L37.4 293.8L36.4 293.8L35.4 293.8L34.4 293.8L33.4 293.8L32.4 293.8L32.4 292.8L32.4 291.8L32.4 290.8L32.4 289.8L32.4 288.8L32.4 287.8L32.4 286.8L32.4 285.8L32.4 284.8L32.4 283.8L32.4 282.8L32.4 281.8L32.4 280.8L32.4 279.8L32.4 278.8L32.4 277.8L32.4 276.8L32.4 275.8L32.4 274.8L32.4 273.8L32.4 272.8L32.4 271.8L32.4 270.8L32.4 269.8L32.4 268.8L32.4 267.8L32.4 266.8L32.4 265.8L32.4 264.8L32.4 263.8L32.4 262.8L32.4 261.8L32.4 260.8L32.4 259.8L32.4 258.8L32.4 257.8L32.4 256.8L32.4 255.8L32.4 254.8L32.4 253.8L32.4 252.8L32.4 251.8L32.4 250.8L32.4 249.8L32.4 248.8L32.4 248L33.4 248L34.4 247.9L35.4 247.8L36.2 247.8L36.4 247.8L37.4 247.8L38.4 247.8L39.4 247.8L40.4 247.8L41.4 247.8L42.4 247.8L43.4 247.8L44.4 247.8L45.4 247.8L46.4 247.8L47.4 247.8L47.4 247.8L48.4 247.8L49.4 247.8L50.4 247.8L51.4 247.8L52.4 247.8L53.4 247.8L54 247.8L54.4 247.8L55.4 247.8L56.4 247.8L57.4 247.8L58.4 247.8L59.4 247.8L60.4 247.8L61.4 247.8L62.4 247.8L63.4 247.8L64.4 247.8L65.4 247.8L66.4 247.8L67.4 247.7L68.4 247.6L69.4 247.3L69.9 246.8L70.3 245.8L70.4 245L70.4 244.8L70.4 244.3L70.4 243.8L70.2 242.8L70 241.8L69.7 240.8L69.5 239.8L69.4 239.4L69.2 238.8L68.9 237.8L68.6 236.8L68.4 236.2L68.2 235.8L67.8 234.8L67.4 233.8L67.4 233.7L67 232.8L66.6 231.8L66.4 231.3L66.2 230.8L65.8 229.8L65.4 229L65.3 228.8L64.9 227.8L64.5 226.8L64.4 226.7L64 225.8L63.6 224.8L63.4 224.3L63.2 223.8L62.7 222.8L62.4 222L62.3 221.8L61.9 220.8L61.4 219.8L61.4 219.7L61 218.8L60.5 217.8L60.4 217.5L60.1 216.8L59.6 215.8L59.4 215.4L59.1 214.8L58.6 213.8L58.4 213.4L58 212.8L57.5 211.8L57.4 211.6L56.9 210.8L56.4 209.9L56.3 209.8L55.7 208.8L55.4 208.3L55.1 207.8L54.5 206.8L54.4 206.6L53.9 205.8L53.4 204.8L53.4 204.7L52.9 203.8L52.4 202.9L52.3 202.8L51.7 201.8L51.4 201.2L51.2 200.8L50.6 199.8L50.4 199.2L50.2 198.8L50.1 197.8L50.4 197.3L50.6 196.8L51.1 195.8L51.4 195.4L51.8 194.8L52.4 194L52.5 193.8L53.3 192.8L53.4 192.6L54 191.8L54.4 191.3L54.9 190.8L55.4 190.2L55.7 189.8L56.4 189.1L56.7 188.8L57.4 188L57.6 187.8L58.4 187.1L58.7 186.8L59.4 186.2L59.8 185.8L60.4 185.3L61.1 184.8L61.4 184.5L62.4 183.8L62.4 183.8L63.4 183.2L64.1 182.8L64.4 182.7L65.4 182.3L66 182.8L66.4 183.1L67 183.8L67.4 184.3L67.9 184.8L68.4 185.5L68.9 185.8L69.4 186.2L69.8 185.8L70.2 184.8L70.3 183.8L70.3 182.8L70.4 181.8L70.4 180.8L70.4 179.8L70.4 178.8L70.4 177.8L70.4 176.8L70.4 175.8L70.4 174.8L70.4 173.8L70.4 172.8ZM54.8 260.8L54.4 261L53.4 261.5L52.9 261.8L52.4 262.2L51.8 262.8L51.4 263.3L51.1 263.8L50.7 264.8L50.5 265.8L50.6 266.8L51 267.8L51.4 268.5L51.6 268.8L52.4 269.6L52.7 269.8L53.4 270.3L54.3 270.8L54.4 270.8L55.4 271.2L56.4 271.5L57.4 271.7L57.9 271.8L58.4 271.9L59.4 271.9L60.4 271.9L61.1 271.8L61.4 271.8L62.4 271.6L63.4 271.3L64.4 270.9L64.7 270.8L65.4 270.4L66.3 269.8L66.4 269.7L67.3 268.8L67.4 268.7L68 267.8L68.3 266.8L68.4 266.1L68.4 265.8L68.4 265.6L68.3 264.8L67.9 263.8L67.4 263.1L67.2 262.8L66.4 262.1L66 261.8L65.4 261.4L64.4 260.9L64.2 260.8L63.4 260.5L62.4 260.2L61.4 260.1L60.4 260L59.4 259.9L58.4 260L57.4 260.1L56.4 260.3L55.4 260.5ZM35.4 261.8L35.4 261.8L34.4 262.5L34.1 262.8L33.4 263.8L33.4 263.8L33 264.8L33 265.8L33.4 266.8L33.4 266.8L34.1 267.8L34.4 268.1L35.4 268.8L35.4 268.8L36.4 269.3L37.4 269.5L38.4 269.7L39.4 269.8L40.4 269.7L41.4 269.6L42.4 269.3L43.4 268.9L43.6 268.8L44.4 268.2L44.9 267.8L45.4 267.2L45.7 266.8L46 265.8L46 264.8L45.7 263.8L45.4 263.4L44.9 262.8L44.4 262.4L43.6 261.8L43.4 261.7L42.4 261.3L41.4 261L40.4 260.9L39.4 260.8L38.4 260.9L37.4 261.1L36.4 261.3ZM47.8 273.8L47.4 274.2L47 274.8L47 275.8L47.4 276.6L47.6 276.8L48.4 277.4L49.2 277.8L49.4 277.9L50.4 277.9L50.7 277.8L51.4 277.5L52.4 276.9L52.5 276.8L52.9 275.8L52.9 274.8L52.4 274L52.3 273.8L51.4 273.2L50.4 273L49.4 273L48.4 273.3ZM37.5 279.8L37.4 279.8L36.4 280.2L35.4 280.8L35.4 280.8L34.4 281.7L34.3 281.8L33.6 282.8L33.4 283.2L33.1 283.8L32.8 284.8L32.7 285.8L32.8 286.8L33 287.8L33.4 288.8L33.4 288.9L34 289.8L34.4 290.3L34.9 290.8L35.4 291.2L36.4 291.8L36.4 291.8L37.4 292.2L38.4 292.4L39.4 292.5L40.4 292.4L41.4 292.2L42.4 291.9L42.6 291.8L43.4 291.3L44.1 290.8L44.4 290.5L45 289.8L45.4 289.2L45.6 288.8L46 287.8L46.2 286.8L46.3 285.8L46.2 284.8L45.9 283.8L45.4 282.8L45.4 282.8L44.7 281.8L44.4 281.5L43.6 280.8L43.4 280.7L42.4 280.1L41.5 279.8L41.4 279.8L40.4 279.5L39.4 279.5L38.4 279.6ZM57.1 279.8L56.4 280L55.4 280.4L54.7 280.8L54.4 281L53.4 281.8L53.4 281.8L52.5 282.8L52.4 283L52 283.8L51.6 284.8L51.5 285.8L51.6 286.8L51.8 287.8L52.3 288.8L52.4 289L53 289.8L53.4 290.2L54.1 290.8L54.4 291L55.4 291.6L55.9 291.8L56.4 292L57.4 292.3L58.4 292.4L59.4 292.5L60.4 292.4L61.4 292.3L62.4 292.1L63.1 291.8L63.4 291.7L64.4 291.1L64.9 290.8L65.4 290.4L66 289.8L66.4 289.2L66.7 288.8L67.2 287.8L67.4 286.9L67.4 286.8L67.5 285.8L67.4 285.3L67.3 284.8L67 283.8L66.5 282.8L66.4 282.7L65.6 281.8L65.4 281.6L64.4 280.9L64.3 280.8L63.4 280.3L62.4 280L61.9 279.8L61.4 279.7L60.4 279.5L59.4 279.5L58.4 279.5L57.4 279.7ZM78.4 172.8L79.4 172.8L80.1 172.8L80.1 173.8L80.1 174.8L80.1 175.8L80.1 176.8L80.1 177.8L80.1 178.8L80.1 179.8L80.1 180.8L80.1 181.8L80.2 182.8L80.2 183.8L80.3 184.8L80.4 185.6L80.4 185.8L80.7 186.8L80.9 187.8L81.1 188.8L81.2 189.8L81.4 190.8L81.4 191.1L82 191.8L82.4 192.2L83.4 192.6L84.4 192.4L85.4 192.1L86.3 191.8L86.4 191.7L87.4 191.4L88.4 191L88.9 190.8L89.4 190.6L90.4 190.2L91.4 189.8L91.5 189.8L92.4 189.4L93.4 189L94 188.8L94.4 188.6L95.4 188.2L96.4 187.8L96.4 187.8L97.4 187.4L98.4 186.9L98.7 186.8L99.4 186.5L100.4 186.1L101 185.8L101.4 185.6L102.4 185.2L103.2 184.8L103.4 184.7L104.4 184.3L105.4 183.8L105.4 183.8L106.4 183.3L107.4 182.8L107.5 182.8L108.4 182.4L109.4 181.9L109.6 181.8L110.4 181.4L111.4 180.9L111.6 180.8L112.4 180.4L113.4 179.9L113.5 179.8L114.4 179.4L115.4 178.8L115.5 178.8L116.4 178.3L117.3 177.8L117.4 177.8L118.4 177.2L119.2 176.8L119.4 176.7L120.4 176.1L120.9 175.8L121.4 175.5L122.4 174.9L122.6 174.8L123.4 174.3L124.3 173.8L124.4 173.7L125.4 173.1L125.9 172.8L126.4 172.8L127.4 172.8L128.4 172.8L129.4 172.8L130.4 172.8L131.4 172.8L132.4 172.8L133.4 172.8L134.4 172.8L135.4 172.8L136.4 172.8L137.4 172.8L137.4 172.8L138.4 173.5L138.9 173.8L139.4 174.2L140.4 174.8L140.4 174.8L141.4 175.4L142 175.8L142.4 176.1L143.4 176.7L143.6 176.8L144.4 177.3L145.2 177.8L145.4 177.9L146.4 178.5L147 178.8L147.4 179.1L148.4 179.6L148.7 179.8L149.4 180.2L150.4 180.7L150.5 180.8L151.4 181.3L152.4 181.8L152.4 181.8L153.4 182.3L154.3 182.8L154.4 182.9L155.4 183.4L156.2 183.8L156.4 183.9L156.4 184.8L156.4 185.8L156.4 186.8L156.4 187.8L156.4 188.8L156.4 189.8L156.4 190.8L156.4 191.8L156.4 192.8L156.4 193.8L156.4 194.8L156.4 195.8L156.4 196.8L156.4 197.8L156.4 198.8L156.4 199.8L156.4 200.8L156.4 201.8L156.4 202.8L156.4 203.8L156.4 204.8L156.4 205.8L156.4 206.8L156.4 207.8L156.4 208.8L156.4 209.8L156.4 210.8L156.4 211.8L156.4 212.8L156.4 213.8L156.4 214.8L156.4 215.8L156.4 216L155.4 216.8L155.4 216.8L154.4 217.6L154.2 217.8L153.4 218.5L153 218.8L152.4 219.3L151.8 219.8L151.4 220.2L150.7 220.8L150.4 221.1L149.6 221.8L149.4 222L148.5 222.8L148.4 222.8L147.4 223.8L147.4 223.8L146.4 224.7L146.3 224.8L145.4 225.6L145.2 225.8L144.4 226.6L144.2 226.8L143.4 227.6L143.2 227.8L142.4 228.5L142.1 228.8L141.4 229.6L141.2 229.8L140.4 230.6L140.2 230.8L139.4 231.6L139.2 231.8L138.4 232.7L138.3 232.8L137.4 233.8L137.4 233.8L136.5 234.8L136.4 235L135.7 235.8L135.4 236.2L134.9 236.8L134.4 237.4L134.1 237.8L133.4 238.7L133.4 238.8L132.7 239.8L132.4 240.2L131.4 240.3L131 239.8L130.4 238.9L130.3 238.8L129.5 237.8L129.4 237.7L128.6 236.8L128.4 236.5L127.8 235.8L127.4 235.4L126.8 234.8L126.4 234.3L125.9 233.8L125.4 233.3L124.9 232.8L124.4 232.3L123.9 231.8L123.4 231.3L122.9 230.8L122.4 230.4L121.8 229.8L121.4 229.4L120.7 228.8L120.4 228.5L119.6 227.8L119.4 227.6L118.5 226.8L118.4 226.7L117.4 225.8L117.4 225.8L116.4 225L116.2 224.8L115.4 224.1L115 223.8L114.4 223.3L113.8 222.8L113.4 222.4L112.6 221.8L112.4 221.6L111.4 220.8L111.4 220.8L110.4 220L110.1 219.8L109.4 219.2L108.9 218.8L108.4 218.4L107.6 217.8L107.4 217.7L106.4 216.9L106.3 216.8L105.4 216.1L104.9 215.8L104.4 215.4L103.6 214.8L103.4 214.7L102.4 213.9L102.2 213.8L101.4 213.2L100.8 212.8L100.4 212.5L99.4 211.8L99.4 211.8L98.4 211.1L98 210.8L97.4 210.4L96.5 209.8L96.4 209.7L95.4 209L95 208.8L94.4 208.4L93.5 207.8L93.4 207.7L92.4 207.1L92 206.8L91.4 206.4L90.4 205.8L90.4 205.8L89.4 205.2L88.8 204.8L88.4 204.6L87.4 204L87.1 203.8L86.4 203.4L85.4 202.8L85.4 202.8L84.4 202.2L83.4 201.9L82.4 202.2L81.9 202.8L81.4 203.3L81.3 203.8L81.2 204.8L81 205.8L80.8 206.8L80.5 207.8L80.4 208.6L80.4 208.8L80.3 209.8L80.2 210.8L80.2 211.8L80.2 212.8L80.1 213.8L80.1 214.8L80.1 215.8L80.1 216.8L80.1 217.8L80.1 218.8L80.1 219.8L80.1 220.8L80.1 221.8L80.1 222.8L80.1 223.8L80.1 224.8L80.1 225.8L80.1 226.8L80.1 227.8L80.1 228.8L80 229.8L80 230.8L80 231.8L79.9 232.8L79.9 233.8L79.9 234.8L79.9 235.8L79.9 236.8L79.9 237.8L79.9 238.8L79.9 239.8L79.9 240.8L79.9 241.8L79.9 242.8L79.9 243.8L80 244.8L80 245.8L80.3 246.8L80.4 246.9L81.4 247.7L81.8 247.8L82.4 247.9L83.4 248L84.4 248L85.4 248L86.4 248L87.4 248L88.4 248L89.4 248L90.4 248L91.4 248L92.4 248L93.4 248L94.4 248L95.4 248L96.4 248L97.4 248L98.4 248L99.4 248L100.4 248L101.4 248L102.4 248L103.4 248L104.4 248L105.4 247.9L106.4 247.9L107.4 247.9L108.4 247.8L109.4 247.8L109.8 247.8L110.4 247.8L111.4 247.7L112.4 247.6L113.4 247.4L114.4 247.3L115.4 247.3L116.4 247.2L117.4 247.2L118.4 247.1L119.4 247.1L120.4 247.1L121.4 247L122.4 247L123.4 247L124.4 247L125.4 247L126.4 246.9L127.4 246.9L128.4 246.9L129.4 246.9L130.4 246.9L131.4 246.8L132.4 246.9L133.4 246.9L134.4 247L135.4 247L136.4 247.1L137.4 247.1L138.4 247.2L139.4 247.3L140.4 247.4L141.4 247.5L142.4 247.6L143.4 247.7L144.4 247.8L144.6 247.8L145.4 247.8L146.4 247.8L147.4 247.9L148.4 247.9L149.4 248L150.4 248L151.4 248L152.4 248L153.4 248L154.4 248L155.4 248L156.4 248L156.4 248.8L156.4 249.8L156.4 250.8L156.4 251.8L156.4 252.8L156.4 253.8L156.4 254.8L156.4 255.8L156.4 256.5L155.4 256.5L154.4 256.5L153.4 256.5L152.4 256.5L151.4 256.6L150.4 256.6L149.4 256.8L149.3 256.8L148.4 257.2L147.4 257.5L146.4 257.6L145.4 257.7L144.8 257.8L144.4 258.5L144.3 258.8L144.4 258.9L145.3 259.8L145.4 259.9L146.2 260.8L146.4 261L146.9 261.8L147.3 262.8L147.4 263.2L147.5 263.8L147.6 264.8L147.4 265.8L147.4 265.9L147.1 266.8L146.6 267.8L146.4 268L145.7 268.8L145.4 269.1L144.6 269.8L144.4 269.9L143.4 270.5L143 270.8L142.4 271.1L141.4 271.5L140.8 271.8L140.4 272L139.4 272.3L138.4 272.6L137.7 272.8L137.4 272.9L136.4 273.2L135.4 273.4L134.4 273.5L133.4 273.6L132.4 273.8L132 273.8L131.4 273.9L130.4 274L129.4 274.1L128.4 274.1L127.4 274.1L126.4 274.1L125.4 274.1L124.4 274.1L123.4 274.1L122.4 274L121.4 274L120.4 273.9L119.6 273.8L119.4 273.8L118.4 273.7L117.4 273.5L116.4 273.4L115.4 273.3L114.4 273.1L113.4 272.9L113.2 272.8L112.4 272.6L111.4 272.3L110.4 272L109.9 271.8L109.4 271.6L108.4 271.2L107.6 270.8L107.4 270.7L106.4 270.1L106 269.8L105.4 269.3L104.8 268.8L104.4 268.4L103.9 267.8L103.4 266.9L103.4 266.8L103 265.8L102.9 264.8L102.9 263.8L103.1 262.8L103.4 262.1L103.6 261.8L104.2 260.8L104.4 260.6L105.2 259.8L105.4 259.6L106.4 258.8L106.4 258.7L107.3 257.8L106.4 257.3L105.4 256.9L105.1 256.8L104.4 256.7L103.4 256.6L102.4 256.6L101.4 256.5L100.4 256.5L99.4 256.5L98.4 256.5L97.4 256.5L96.4 256.5L95.4 256.5L94.4 256.5L93.4 256.5L92.4 256.5L91.4 256.5L90.4 256.5L89.4 256.5L88.4 256.5L87.4 256.5L86.4 256.5L85.4 256.5L84.4 256.5L83.4 256.5L82.4 256.6L81.4 256.8L81.4 256.8L80.4 257.6L80.3 257.8L80.1 258.8L80 259.8L80 260.8L80 261.8L80 262.8L80 263.8L80 264.8L80 265.8L80 266.8L80 267.8L80 268.8L80 269.8L80 270.8L80 271.8L80 272.8L80 273.8L80 274.8L80 275.8L80 276.8L80 277.8L80 278.8L80 279.8L80 280.8L80 281.8L80 282.8L80 283.8L80 284.8L80 285.8L80 286.8L80 287.8L80 288.8L80 289.8L80 290.8L80 291.8L79.9 292.8L79.9 293.8L79.4 293.8L78.4 293.8L77.5 293.8L77.6 292.8L77.9 291.8L78.1 290.8L77.9 289.8L77.9 288.8L78.1 287.8L78.2 286.8L78 285.8L77.9 284.8L78.1 283.8L78.2 282.8L78 281.8L77.9 280.8L78.1 279.8L78.2 278.8L78.1 277.8L77.9 276.8L78 275.8L78.2 274.8L78.1 273.8L77.9 272.8L78 271.8L78.1 270.8L78.1 269.8L77.9 268.8L77.9 267.8L78.1 266.8L78.2 265.8L78 264.8L77.9 263.8L78.1 262.8L78.2 261.8L78 260.8L77.9 259.8L78.1 258.8L78.2 257.8L78.4 257L78.5 256.8L79.3 255.8L79.4 255.5L79.7 254.8L79.9 253.8L79.9 252.8L79.9 251.8L79.9 250.8L79.8 249.8L79.4 249L79.3 248.8L78.5 247.8L78.4 247.6L77.9 246.8L77.6 245.8L77.5 244.8L77.5 243.8L77.5 242.8L77.5 241.8L77.5 240.8L77.5 239.8L77.5 238.8L77.5 237.8L77.5 236.8L77.5 235.8L77.5 234.8L77.5 233.8L77.5 232.8L77.6 231.8L77.8 230.8L77.9 229.8L78 228.8L78 227.8L78 226.8L78 225.8L78 224.8L78 223.8L78 222.8L78 221.8L78 220.8L78 219.8L78 218.8L78 217.8L78.1 216.8L78.1 215.8L78.1 214.8L78.1 213.8L78.1 212.8L78.2 211.8L78.3 210.8L78.4 209.8L78.4 209.7L78.6 208.8L78.8 207.8L79.2 206.8L79.4 206.5L79.6 205.8L79.9 204.8L80.1 203.8L80.2 202.8L80.4 201.8L80.4 201.8L80.6 200.8L80.7 199.8L80.9 198.8L80.9 197.8L81 196.8L81 195.8L80.9 194.8L80.8 193.8L80.6 192.8L80.4 191.8L80.4 191.6L80.3 190.8L80.1 189.8L80 188.8L79.8 187.8L79.5 186.8L79.4 186.4L79.1 185.8L78.7 184.8L78.5 183.8L78.4 183.5L78.3 182.8L78.1 181.8L78.1 180.8L78.1 179.8L78 178.8L78 177.8L78 176.8L78 175.8L78 174.8L78 173.8L78 172.8ZM129.6 184.8L129.4 184.9L128.4 185.2L127.4 185.6L127.1 185.8L126.4 186.1L125.4 186.5L124.9 186.8L124.4 187L123.4 187.5L123 187.8L122.4 188.1L121.4 188.8L121.4 188.8L120.4 189.4L119.8 189.8L119.4 190.1L118.4 190.8L118.4 190.8L117.4 191.5L116.9 191.8L116.4 192.1L115.4 192.7L115.2 192.8L114.4 193.3L113.5 193.8L113.4 193.8L112.4 194.4L111.6 194.8L111.4 194.9L110.4 195.4L109.7 195.8L109.5 196.8L110.4 197.7L110.5 197.8L111.4 198.7L111.5 198.8L112.4 199.7L112.5 199.8L113.4 200.7L113.5 200.8L114.4 201.8L114.4 201.8L115.3 202.8L115.4 202.9L116.2 203.8L116.4 204L117.2 204.8L117.4 205L118.1 205.8L118.4 206.1L119.1 206.8L119.4 207.1L120.1 207.8L120.4 208.1L121.1 208.8L121.4 209L122.2 209.8L122.4 210L123.3 210.8L123.4 210.8L124.4 211.8L124.4 211.8L125.4 212.7L125.5 212.8L126.4 213.6L126.6 213.8L127.4 214.6L127.6 214.8L128.4 215.6L128.6 215.8L129.4 216.6L129.6 216.8L130.4 217.6L130.6 217.8L131.4 218.6L132.4 218.3L132.7 217.8L133.3 216.8L133.4 216.6L133.9 215.8L134.4 215L134.5 214.8L135.2 213.8L135.4 213.5L135.8 212.8L136.4 212L136.5 211.8L137.3 210.8L137.4 210.7L138.2 209.8L138.4 209.6L139.1 208.8L139.4 208.5L140 207.8L140.4 207.4L140.9 206.8L141.4 206.2L141.7 205.8L142.4 204.9L142.5 204.8L143.2 203.8L143.4 203.4L143.8 202.8L144.3 201.8L144.4 201.5L144.8 200.8L145.2 199.8L145.4 199.2L145.6 198.8L145.9 197.8L146.3 196.8L146.2 195.8L145.4 194.9L145.3 194.8L144.6 193.8L144.4 193.6L143.8 192.8L143.4 192.3L143 191.8L142.4 191.2L142 190.8L141.4 190.2L141 189.8L140.4 189.3L139.8 188.8L139.4 188.5L138.4 187.8L138.4 187.8L137.4 187.1L136.8 186.8L136.4 186.6L135.4 186L135 185.8L134.4 185.4L133.4 184.9L133.3 184.8L132.4 184.2L131.4 184.1L130.4 184.5ZM110.2 248.8L109.4 248.9L108.4 249L107.4 249.2L106.4 249.3L105.4 249.7L105.3 249.8L104.4 250.5L103.9 250.8L103.4 251.4L103 251.8L103 252.8L103.4 253.5L103.6 253.8L104.4 254.4L104.9 254.8L105.4 255L106.4 255.3L107.4 255.7L107.7 255.8L108.4 256L109.4 256.3L110 256.8L110.4 257.1L111.4 257.7L111.5 257.8L112.4 258.1L113.4 258.3L114.4 258.5L115.4 258.6L116.4 258.7L116.9 258.8L117.4 258.9L118.4 259.2L119.4 259.5L120.1 259.8L119.4 260.7L119.4 260.8L118.4 261.8L118.4 261.8L117.8 262.8L117.4 263.8L117.4 263.9L117.3 264.8L117.4 265.6L117.4 265.8L117.8 266.8L118.4 267.7L118.4 267.8L119.4 268.8L119.4 268.8L120.4 269.5L120.8 269.8L121.4 270.1L122.4 270.6L122.9 270.8L123.4 271L124.4 271.3L125.4 271.5L126.4 271.7L127.2 271.8L127.4 271.8L128.4 271.9L129.4 271.9L130.4 271.9L131.4 271.9L132.2 271.8L132.4 271.8L133.4 271.6L134.4 271.4L135.4 271.1L136.4 270.8L136.5 270.8L137.4 270.4L138.4 269.9L138.7 269.8L139.4 269.3L140.1 268.8L140.4 268.5L141.1 267.8L141.4 267.3L141.7 266.8L142.1 265.8L142.2 264.8L142.1 263.8L141.8 262.8L141.4 262.2L141.2 261.8L140.4 260.9L140.3 260.8L139.4 259.9L139.3 259.8L139.2 258.8L139.4 258.7L140.4 258.2L141.1 257.8L141.4 257.7L142.4 257.2L143.4 257L144.4 256.8L144.5 256.8L145.4 256.7L146.4 256.5L147.4 256.3L148.3 255.8L148.4 255.7L149.4 254.8L149.4 254.7L150.3 253.8L150.4 253.6L150.8 252.8L150.8 251.8L150.4 251.4L149.9 250.8L149.4 250.5L148.5 249.8L148.4 249.7L147.4 249.3L146.4 249.1L145.4 249L144.4 248.9L143.6 248.8L143.4 248.8L142.4 248.6L141.4 248.6L140.4 248.5L139.4 248.4L138.4 248.4L137.4 248.3L136.4 248.2L135.4 248.2L134.4 248.1L133.4 248L132.4 247.9L131.4 247.8L130.4 247.9L129.4 247.9L128.4 247.9L127.4 247.9L126.4 248L125.4 248L124.4 248L123.4 248.1L122.4 248.1L121.4 248.1L120.4 248.2L119.4 248.2L118.4 248.3L117.4 248.3L116.4 248.4L115.4 248.4L114.4 248.5L113.4 248.5L112.4 248.6L111.4 248.7L110.4 248.8ZM39.4 184.8L39.4 184.8L40.4 184.9L41.4 185.2L42.4 185.7L42.6 185.8L43.4 186.4L43.8 186.8L44.4 187.4L44.7 187.8L45.4 188.8L45.4 188.8L46 189.8L46.4 190.8L46.4 190.8L46.8 191.8L47.1 192.8L47.3 193.8L47.4 194.1L47.6 194.8L47.8 195.8L48 196.8L48.1 197.8L48 198.8L47.7 199.8L47.4 200.8L47.4 200.8L47.1 201.8L46.8 202.8L46.4 203.8L46.4 203.9L46 204.8L45.4 205.8L45.4 205.8L44.7 206.8L44.4 207.2L43.8 207.8L43.4 208.2L42.6 208.8L42.4 208.9L41.4 209.4L40.4 209.7L39.4 209.8L39.4 209.8L39.4 209.8L38.4 209.7L37.4 209.4L36.4 208.9L36.2 208.8L35.4 208.2L35 207.8L34.4 207.2L34.1 206.8L33.4 205.8L33.4 205.8L32.8 204.8L32.4 203.8L32.4 203.8L32.4 202.8L32.4 201.8L32.4 200.8L32.4 199.8L32.4 198.8L32.4 197.8L32.4 196.8L32.4 195.8L32.4 194.8L32.4 193.8L32.4 192.8L32.4 191.8L32.4 190.8L32.4 190.8L32.8 189.8L33.4 188.8L33.4 188.8L34.1 187.8L34.4 187.4L35 186.8L35.4 186.4L36.2 185.8L36.4 185.7L37.4 185.2L38.4 184.9L39.4 184.8ZM36.8 190.8L36.4 191.1L35.8 191.8L35.4 192.3L35.1 192.8L34.7 193.8L34.4 194.5L34.3 194.8L34.1 195.8L34.1 196.8L34.1 197.8L34.2 198.8L34.4 199.7L34.4 199.8L34.8 200.8L35.3 201.8L35.4 201.9L36.1 202.8L36.4 203.1L37.4 203.8L37.4 203.8L38.4 204.1L39.4 204.2L40.4 203.9L40.6 203.8L41.4 203.3L41.9 202.8L42.4 202.3L42.7 201.8L43.2 200.8L43.4 200.4L43.6 199.8L43.9 198.8L44 197.8L44 196.8L43.9 195.8L43.7 194.8L43.4 193.8L43.4 193.8L42.9 192.8L42.4 191.9L42.3 191.8L41.4 190.9L41.2 190.8L40.4 190.3L39.4 190.1L38.4 190.1L37.4 190.4ZM129.4 275.8L130.4 275.8L131.4 275.8L132.4 275.8L132.5 275.8L133.4 275.8L134.4 275.9L135.4 276L136.4 276.1L137.4 276.2L138.4 276.3L139.4 276.5L140.4 276.7L140.8 276.8L141.4 277L142.4 277.3L143.4 277.5L144 277.8L144.4 278L145.4 278.4L146.1 278.8L146.4 279L147.4 279.7L147.6 279.8L148.4 280.6L148.6 280.8L149.3 281.8L149.4 282L149.8 282.8L150 283.8L150 284.8L149.9 285.8L149.7 286.8L149.4 287.7L149.4 287.8L148.9 288.8L148.4 289.5L148.1 289.8L147.4 290.6L147.2 290.8L146.4 291.5L146 291.8L145.4 292.2L144.4 292.8L144.4 292.8L143.4 293.3L142.4 293.7L142.1 293.8L141.4 293.8L140.4 293.8L139.4 293.8L138.4 293.8L137.4 293.8L136.4 293.8L135.4 293.8L134.4 293.8L133.4 293.8L132.4 293.8L131.4 293.8L130.4 293.8L129.4 293.8L128.4 293.8L127.4 293.8L126.4 293.8L125.4 293.8L124.4 293.8L123.4 293.8L122.4 293.8L121.4 293.8L120.4 293.8L119.9 293.8L119.4 293.6L118.4 293.2L117.6 292.8L117.4 292.7L116.4 292.1L116 291.8L115.4 291.3L114.8 290.8L114.4 290.4L113.8 289.8L113.4 289.2L113.1 288.8L112.6 287.8L112.4 287.2L112.3 286.8L112.1 285.8L112 284.8L112 283.8L112.2 282.8L112.4 282.4L112.7 281.8L113.4 280.8L113.4 280.8L114.4 279.8L114.4 279.8L115.4 279.1L115.9 278.8L116.4 278.5L117.4 278.1L118 277.8L118.4 277.6L119.4 277.3L120.4 277L121.2 276.8L121.4 276.7L122.4 276.5L123.4 276.3L124.4 276.2L125.4 276.1L126.4 276L127.4 275.9L128.4 275.8L129.3 275.8ZM130 280.8L129.4 281L128.4 281.5L128 281.8L127.4 282.3L127 282.8L126.4 283.6L126.3 283.8L125.9 284.8L125.7 285.8L125.6 286.8L125.8 287.8L126.2 288.8L126.4 289.2L126.8 289.8L127.4 290.4L127.8 290.8L128.4 291.2L129.4 291.8L129.5 291.8L130.4 292.1L131.4 292.3L132.4 292.4L133.4 292.3L134.4 292.1L135.3 291.8L135.4 291.8L136.4 291.2L137 290.8L137.4 290.4L138 289.8L138.4 289.2L138.6 288.8L139 287.8L139.2 286.8L139.1 285.8L138.9 284.8L138.5 283.8L138.4 283.6L137.8 282.8L137.4 282.3L136.8 281.8L136.4 281.5L135.4 281L134.8 280.8L134.4 280.6L133.4 280.4L132.4 280.4L131.4 280.4L130.4 280.6Z" fill="#43a6d7" stroke="#43a6d7" stroke-width="0.25" fill-rule="evenodd"/>
<path d="M73.4 172.8L74.4 172.8L75.4 172.8L76.4 172.8L77.4 172.8L78 172.8L78 173.8L78 174.8L78 175.8L78 176.8L78 177.8L78 178.8L78.1 179.8L78.1 180.8L78.1 181.8L78.3 182.8L78.4 183.5L78.5 183.8L78.7 184.8L79.1 185.8L79.4 186.4L79.5 186.8L79.8 187.8L80 188.8L80.1 189.8L80.3 190.8L80.4 191.6L80.4 191.8L80.6 192.8L80.8 193.8L80.9 194.8L81 195.8L81 196.8L80.9 197.8L80.9 198.8L80.7 199.8L80.6 200.8L80.4 201.8L80.4 201.8L80.2 202.8L80.1 203.8L79.9 204.8L79.6 205.8L79.4 206.5L79.2 206.8L78.8 207.8L78.6 208.8L78.4 209.7L78.4 209.8L78.3 210.8L78.2 211.8L78.1 212.8L78.1 213.8L78.1 214.8L78.1 215.8L78.1 216.8L78 217.8L78 218.8L78 219.8L78 220.8L78 221.8L78 222.8L78 223.8L78 224.8L78 225.8L78 226.8L78 227.8L78 228.8L77.9 229.8L77.8 230.8L77.6 231.8L77.5 232.8L77.5 233.8L77.5 234.8L77.5 235.8L77.5 236.8L77.5 237.8L77.5 238.8L77.5 239.8L77.5 240.8L77.5 241.8L77.5 242.8L77.5 243.8L77.5 244.8L77.6 245.8L77.9 246.8L78.4 247.6L78.5 247.8L79.3 248.8L79.4 249L79.8 249.8L79.9 250.8L79.9 251.8L79.9 252.8L79.9 253.8L79.7 254.8L79.4 255.5L79.3 255.8L78.5 256.8L78.4 257L78.2 257.8L78.1 258.8L77.9 259.8L78 260.8L78.2 261.8L78.1 262.8L77.9 263.8L78 264.8L78.2 265.8L78.1 266.8L77.9 267.8L77.9 268.8L78.1 269.8L78.1 270.8L78 271.8L77.9 272.8L78.1 273.8L78.2 274.8L78 275.8L77.9 276.8L78.1 277.8L78.2 278.8L78.1 279.8L77.9 280.8L78 281.8L78.2 282.8L78.1 283.8L77.9 284.8L78 285.8L78.2 286.8L78.1 287.8L77.9 288.8L77.9 289.8L78.1 290.8L77.9 291.8L77.6 292.8L77.5 293.8L77.4 293.8L76.4 293.8L75.4 293.8L74.4 293.8L73.4 293.8L73.3 293.8L73.3 292.8L72.9 291.8L72.8 290.8L72.9 289.8L72.9 288.8L72.7 287.8L72.7 286.8L72.8 285.8L72.9 284.8L72.7 283.8L72.7 282.8L72.8 281.8L73 280.8L72.8 279.8L72.7 278.8L72.8 277.8L73 276.8L72.8 275.8L72.7 274.8L72.7 273.8L72.9 272.8L72.9 271.8L72.7 270.8L72.7 269.8L72.9 268.8L72.9 267.8L72.7 266.8L72.7 265.8L72.8 264.8L72.9 263.8L72.7 262.8L72.7 261.8L72.8 260.8L72.9 259.8L72.8 258.8L72.6 257.8L72.4 257.7L71.4 257.6L70.4 257.2L69.4 257.1L68.4 257.1L67.4 257.1L66.4 257.1L65.4 257.1L64.4 257.1L63.4 257.1L62.4 257.2L61.4 257.2L60.4 257.2L59.4 257.2L58.4 257.2L57.4 257.2L56.4 257.1L55.4 257.1L54.4 257L53.9 256.8L53.4 256.6L52.4 256.2L51.4 256.1L50.4 256.1L49.4 256.1L48.4 256.4L47.5 256.8L47.4 256.8L46.4 257.1L45.4 257.1L44.4 257.1L43.4 257.1L42.4 257.1L41.4 257.1L40.4 257.1L39.4 257.1L38.4 257.1L37.4 257.1L36.4 257.1L35.4 256.8L35.4 256.8L34.4 255.8L34.4 255.6L34.2 254.8L34.3 253.8L34.4 253.1L34.4 252.8L34.4 252.7L34.2 251.8L34.3 250.8L34.4 250.7L34.9 249.8L35.4 249.5L36.4 249.3L37.4 249.2L38.4 249.2L39.4 249.2L40.4 249.2L41.4 249.2L42.4 249.2L43.4 249.2L44.4 249.2L45.4 249.2L46.4 249.2L47.4 249.4L48.4 249.7L48.9 249.8L49.4 249.9L50.4 250L51.4 250L52.4 249.9L52.6 249.8L53.4 249.6L54.4 249.3L55.4 249.2L56.4 249.2L57.4 249.2L58.4 249.2L59.4 249.2L60.4 249.2L61.4 249.2L62.4 249.2L63.4 249.2L64.4 249.2L65.4 249.2L66.4 249.2L67.4 249.2L68.4 249.2L69.4 249.1L70.4 248.9L70.7 248.8L71.4 248.4L72.2 247.8L72.4 247.6L73 246.8L73.3 245.8L73.4 244.9L73.4 244.8L73.4 244L73.4 243.8L73.3 242.8L73.2 241.8L73.2 240.8L73.1 239.8L73.1 238.8L73.1 237.8L73.1 236.8L73.1 235.8L73.1 234.8L73.1 233.8L73.1 232.8L72.9 231.8L72.6 230.8L72.4 230.1L72.3 229.8L72.1 228.8L72 227.8L72 226.8L72 225.8L72 224.8L72 223.8L72 222.8L72 221.8L72 220.8L72 219.8L72 218.8L72 217.8L72 216.8L71.9 215.8L71.9 214.8L71.9 213.8L71.8 212.8L71.7 211.8L71.5 210.8L71.4 210.5L70.4 210L69.4 210.6L69.3 210.8L68.4 211.8L68.4 211.8L67.7 212.8L67.4 213.2L66.9 213.8L66.4 214.4L66 214.8L65.4 215.3L64.4 214.9L64.2 214.8L63.4 214.3L62.7 213.8L62.4 213.6L61.4 212.8L61.4 212.8L60.4 211.8L60.4 211.8L59.5 210.8L59.4 210.7L58.7 209.8L58.4 209.4L58 208.8L57.4 207.9L57.3 207.8L56.8 206.8L56.4 205.8L56.4 205.8L56.3 204.8L56.1 203.8L55.8 202.8L55.4 202.1L55.2 201.8L54.7 200.8L54.4 200.2L54.2 199.8L54 198.8L54.1 197.8L54.4 197.1L54.5 196.8L55.1 195.8L55.4 195.3L55.8 194.8L56.4 194.1L56.7 193.8L57.4 193L57.6 192.8L58.4 192.1L58.7 191.8L59.4 191.2L59.9 190.8L60.4 190.4L61.4 189.8L61.4 189.8L62.4 189.2L63.2 188.8L63.4 188.7L64.4 188.3L65.4 188L66.4 187.8L67.4 188.2L68.4 188.8L68.4 188.8L69.4 189.3L70.4 189.7L70.9 188.8L71.3 187.8L71.4 187.4L71.5 186.8L71.7 185.8L72 184.8L72.2 183.8L72.4 183.1L72.5 182.8L72.7 181.8L72.8 180.8L72.8 179.8L72.8 178.8L72.8 177.8L72.8 176.8L72.8 175.8L72.8 174.8L72.8 173.8L72.8 172.8ZM75.1 183.8L74.7 184.8L74.5 185.8L74.4 186.3L73.6 186.8L73.4 186.9L72.4 187L72.2 187.8L72 188.8L71.7 189.8L71.4 190.4L71.1 190.8L70.4 191.8L70.4 191.9L69.4 192.6L69.2 192.8L68.4 193L67.4 193L66.4 192.9L65.4 192.9L64.4 193L63.4 193.2L62.4 193.6L62 193.8L61.4 194.2L60.7 194.8L60.4 195.3L60.1 195.8L60 196.8L60.4 197.5L60.5 197.8L61.4 198.6L61.6 198.8L62.4 199.3L63.4 199.6L64.3 199.8L64.4 199.9L65.4 200L66.4 200.1L67.4 200L68.4 199.9L69.4 200.8L69.4 201L69.5 201.8L69.6 202.8L69.4 203.8L69.4 203.8L68.4 204.5L67.4 204.6L66.4 204.7L65.4 204.7L64.4 204.7L63.4 204.7L62.4 204.8L62.2 204.8L61.4 204.9L60.4 205.2L59.8 205.8L60.3 206.8L60.4 206.9L61.4 207.7L61.5 207.8L62.4 208.3L63.3 208.8L63.4 208.9L64.4 209.3L65.4 209.6L66.4 209.7L67.4 209.3L68.1 208.8L68.4 208.6L69.3 207.8L69.4 207.7L70.3 206.8L70.4 206.7L71.4 206.2L72.4 206.7L73.4 206.6L73.9 206.8L74.4 207L74.6 207.8L75 208.8L75.4 209.5L76.4 209.3L76.6 208.8L77 207.8L77.2 206.8L77.4 205.8L77.4 205.4L77.6 204.8L78 203.8L78.4 203.1L79.4 203.3L79.5 202.8L79.6 201.8L79.8 200.8L79.9 199.8L80 198.8L80.1 197.8L80.1 196.8L80.1 195.8L80 194.8L79.9 193.8L79.8 192.8L79.7 191.8L79.5 190.8L79.4 189.9L78.6 190.8L78.4 191.2L78.2 190.8L77.8 189.8L77.5 188.8L77.4 188.6L77.4 187.8L77.3 186.8L77.2 185.8L76.9 184.8L76.6 183.8L76.4 183.5L75.4 183.3ZM74.2 248.8L73.4 249.3L72.4 249.1L71.4 249.3L70.7 249.8L70.4 249.9L69.4 250.6L68.4 250.5L67.4 250.5L66.4 250.5L65.4 250.5L64.4 250.5L63.4 250.5L62.4 250.5L61.4 250.5L60.4 250.5L59.4 250.5L58.4 250.5L57.4 250.5L56.4 250.5L55.4 250.6L54.4 250.8L54.4 250.8L54.1 251.8L54.4 252.4L55.3 252.8L54.6 253.8L54.4 254L54.2 254.8L54.4 255.1L55.4 255.5L56.4 255.6L57.4 255.6L58.4 255.6L59.4 255.6L60.4 255.6L61.4 255.6L62.4 255.6L63.4 255.6L64.4 255.6L65.4 255.6L66.4 255.6L67.4 255.6L68.4 255.6L69.4 255.4L69.5 255.8L70.4 256.3L71.2 256.8L71.4 256.9L72.4 257.1L73.1 256.8L73.4 256.7L73.7 256.8L74.4 257.7L74.5 257.8L74.5 258.8L75.4 259.6L76.4 259.1L76.5 258.8L76.5 257.8L77.4 256.8L77.4 256.8L78.2 255.8L78.3 254.8L77.9 253.8L78.1 252.8L78.3 251.8L78.3 250.8L77.7 249.8L77.4 249.3L76.7 248.8L76.4 248.5L75.4 248.3L74.4 248.6ZM36.2 250.8L36 251.8L36.4 252.4L37.4 252.8L37.7 252.8L37.4 252.9L36.7 253.8L36.4 254L36 254.8L36.4 255.3L37.4 255.6L38.4 255.6L39.4 255.6L40.4 255.6L41.4 255.6L42.4 255.6L43.4 255.6L44.4 255.6L45.4 255.6L46.4 255.4L47.2 254.8L46.7 253.8L46.4 253L45.9 252.8L46.4 252.7L47.3 251.8L46.9 250.8L46.4 250.6L45.4 250.5L44.4 250.5L43.4 250.5L42.4 250.5L41.4 250.5L40.4 250.5L39.4 250.5L38.4 250.5L37.4 250.6L36.4 250.7ZM74.5 260.8L74.4 260.9L74 261.8L74.2 262.8L74.4 263.1L75.4 263.7L76.4 263.4L76.8 262.8L77 261.8L76.5 260.8L76.4 260.5L75.4 260ZM74.9 264.8L74.4 265.1L74.1 265.8L74.1 266.8L74.4 267.3L75.3 267.8L75.2 268.8L74.4 269.3L74.1 269.8L74.1 270.8L74.4 271.5L75 271.8L75.4 272.7L76.1 271.8L76.4 271.7L76.9 270.8L76.9 269.8L76.4 269L75.7 268.8L75.6 267.8L76.4 267.5L76.9 266.8L76.9 265.8L76.4 264.8L76.3 264.8L75.4 264ZM74.2 273.8L74 274.8L74.4 275.6L74.6 275.8L75.4 276.6L76.4 276L76.5 275.8L77 274.8L76.8 273.8L76.4 273.2L75.4 272.8L74.4 273.4ZM74.3 277.8L74 278.8L74.4 279.8L74.4 279.9L75.4 280.6L76.4 280.2L76.6 279.8L77 278.8L76.7 277.8L76.4 277.3L75.4 276.9L74.4 277.6ZM74.4 281.8L74.4 281.8L74 282.8L74.3 283.8L74.4 284.1L75.4 284.7L76.4 284.4L76.7 283.8L77 282.8L76.6 281.8L76.4 281.5L75.4 281ZM74.8 285.8L74.4 286L74 286.8L74.2 287.8L74.4 288.3L75.4 288.8L75.2 289.8L74.4 290.5L74.3 290.8L74.4 291.1L75.3 291.8L75.4 291.8L75.5 291.8L76.4 291.4L76.7 290.8L76.4 290.1L75.8 289.8L75.4 288.8L76.4 288.5L76.8 287.8L77 286.8L76.4 285.8L76.4 285.8L75.4 285ZM130.4 184.5L131.4 184.1L132.4 184.2L133.3 184.8L133.4 184.9L134.4 185.4L135 185.8L135.4 186L136.4 186.6L136.8 186.8L137.4 187.1L138.4 187.8L138.4 187.8L139.4 188.5L139.8 188.8L140.4 189.3L141 189.8L141.4 190.2L142 190.8L142.4 191.2L143 191.8L143.4 192.3L143.8 192.8L144.4 193.6L144.6 193.8L145.3 194.8L145.4 194.9L146.2 195.8L146.3 196.8L145.9 197.8L145.6 198.8L145.4 199.2L145.2 199.8L144.8 200.8L144.4 201.5L144.3 201.8L143.8 202.8L143.4 203.4L143.2 203.8L142.5 204.8L142.4 204.9L141.7 205.8L141.4 206.2L140.9 206.8L140.4 207.4L140 207.8L139.4 208.5L139.1 208.8L138.4 209.6L138.2 209.8L137.4 210.7L137.3 210.8L136.5 211.8L136.4 212L135.8 212.8L135.4 213.5L135.2 213.8L134.5 214.8L134.4 215L133.9 215.8L133.4 216.6L133.3 216.8L132.7 217.8L132.4 218.3L131.4 218.6L130.6 217.8L130.4 217.6L129.6 216.8L129.4 216.6L128.6 215.8L128.4 215.6L127.6 214.8L127.4 214.6L126.6 213.8L126.4 213.6L125.5 212.8L125.4 212.7L124.4 211.8L124.4 211.8L123.4 210.8L123.3 210.8L122.4 210L122.2 209.8L121.4 209L121.1 208.8L120.4 208.1L120.1 207.8L119.4 207.1L119.1 206.8L118.4 206.1L118.1 205.8L117.4 205L117.2 204.8L116.4 204L116.2 203.8L115.4 202.9L115.3 202.8L114.4 201.8L114.4 201.8L113.5 200.8L113.4 200.7L112.5 199.8L112.4 199.7L111.5 198.8L111.4 198.7L110.5 197.8L110.4 197.7L109.5 196.8L109.7 195.8L110.4 195.4L111.4 194.9L111.6 194.8L112.4 194.4L113.4 193.8L113.5 193.8L114.4 193.3L115.2 192.8L115.4 192.7L116.4 192.1L116.9 191.8L117.4 191.5L118.4 190.8L118.4 190.8L119.4 190.1L119.8 189.8L120.4 189.4L121.4 188.8L121.4 188.8L122.4 188.1L123 187.8L123.4 187.5L124.4 187L124.9 186.8L125.4 186.5L126.4 186.1L127.1 185.8L127.4 185.6L128.4 185.2L129.4 184.9L129.6 184.8ZM128.7 187.8L128.4 187.9L127.4 188.3L126.4 188.7L126.3 188.8L125.4 189.3L124.4 189.8L124.4 189.8L123.4 190.5L123 190.8L122.4 191.3L121.8 191.8L121.4 192.2L120.8 192.8L120.4 193.3L120.1 193.8L119.5 194.8L119.4 195.2L119.2 195.8L119 196.8L119 197.8L119.1 198.8L119.4 199.8L119.4 199.9L119.7 200.8L120.2 201.8L120.4 202.1L120.8 202.8L121.4 203.6L121.6 203.8L122.4 204.7L122.5 204.8L123.4 205.6L123.6 205.8L124.4 206.4L125 206.8L125.4 207L126.4 207.5L127 207.8L127.4 208L128.4 208.3L129.4 208.5L130.4 208.7L131.4 208.7L132.4 208.7L133.4 208.5L134.4 208.2L135.4 207.8L135.5 207.8L136.4 207.2L137 206.8L137.4 206.5L138.2 205.8L138.4 205.6L139.1 204.8L139.4 204.4L139.9 203.8L140.4 203.1L140.6 202.8L141.2 201.8L141.4 201.5L141.7 200.8L142.2 199.8L142.4 199.3L142.6 198.8L142.9 197.8L143 196.8L142.9 195.8L142.4 194.9L142.3 194.8L141.5 193.8L141.4 193.6L140.6 192.8L140.4 192.5L139.7 191.8L139.4 191.6L138.6 190.8L138.4 190.7L137.4 189.9L137.3 189.8L136.4 189.2L135.8 188.8L135.4 188.5L134.4 188L133.9 187.8L133.4 187.6L132.4 187.3L131.4 187.2L130.4 187.4L129.4 187.6ZM37.4 190.4L38.4 190.1L39.4 190.1L40.4 190.3L41.2 190.8L41.4 190.9L42.3 191.8L42.4 191.9L42.9 192.8L43.4 193.8L43.4 193.8L43.7 194.8L43.9 195.8L44 196.8L44 197.8L43.9 198.8L43.6 199.8L43.4 200.4L43.2 200.8L42.7 201.8L42.4 202.3L41.9 202.8L41.4 203.3L40.6 203.8L40.4 203.9L39.4 204.2L38.4 204.1L37.4 203.8L37.4 203.8L36.4 203.1L36.1 202.8L35.4 201.9L35.3 201.8L34.8 200.8L34.4 199.8L34.4 199.7L34.2 198.8L34.1 197.8L34.1 196.8L34.1 195.8L34.3 194.8L34.4 194.5L34.7 193.8L35.1 192.8L35.4 192.3L35.8 191.8L36.4 191.1L36.8 190.8ZM110.4 248.8L111.4 248.7L112.4 248.6L113.4 248.5L114.4 248.5L115.4 248.4L116.4 248.4L117.4 248.3L118.4 248.3L119.4 248.2L120.4 248.2L121.4 248.1L122.4 248.1L123.4 248.1L124.4 248L125.4 248L126.4 248L127.4 247.9L128.4 247.9L129.4 247.9L130.4 247.9L131.4 247.8L132.4 247.9L133.4 248L134.4 248.1L135.4 248.2L136.4 248.2L137.4 248.3L138.4 248.4L139.4 248.4L140.4 248.5L141.4 248.6L142.4 248.6L143.4 248.8L143.6 248.8L144.4 248.9L145.4 249L146.4 249.1L147.4 249.3L148.4 249.7L148.5 249.8L149.4 250.5L149.9 250.8L150.4 251.4L150.8 251.8L150.8 252.8L150.4 253.6L150.3 253.8L149.4 254.7L149.4 254.8L148.4 255.7L148.3 255.8L147.4 256.3L146.4 256.5L145.4 256.7L144.5 256.8L144.4 256.8L143.4 257L142.4 257.2L141.4 257.7L141.1 257.8L140.4 258.2L139.4 258.7L139.2 258.8L139.3 259.8L139.4 259.9L140.3 260.8L140.4 260.9L141.2 261.8L141.4 262.2L141.8 262.8L142.1 263.8L142.2 264.8L142.1 265.8L141.7 266.8L141.4 267.3L141.1 267.8L140.4 268.5L140.1 268.8L139.4 269.3L138.7 269.8L138.4 269.9L137.4 270.4L136.5 270.8L136.4 270.8L135.4 271.1L134.4 271.4L133.4 271.6L132.4 271.8L132.2 271.8L131.4 271.9L130.4 271.9L129.4 271.9L128.4 271.9L127.4 271.8L127.2 271.8L126.4 271.7L125.4 271.5L124.4 271.3L123.4 271L122.9 270.8L122.4 270.6L121.4 270.1L120.8 269.8L120.4 269.5L119.4 268.8L119.4 268.8L118.4 267.8L118.4 267.7L117.8 266.8L117.4 265.8L117.4 265.6L117.3 264.8L117.4 263.9L117.4 263.8L117.8 262.8L118.4 261.8L118.4 261.8L119.4 260.8L119.4 260.7L120.1 259.8L119.4 259.5L118.4 259.2L117.4 258.9L116.9 258.8L116.4 258.7L115.4 258.6L114.4 258.5L113.4 258.3L112.4 258.1L111.5 257.8L111.4 257.7L110.4 257.1L110 256.8L109.4 256.3L108.4 256L107.7 255.8L107.4 255.7L106.4 255.3L105.4 255L104.9 254.8L104.4 254.4L103.6 253.8L103.4 253.5L103 252.8L103 251.8L103.4 251.4L103.9 250.8L104.4 250.5L105.3 249.8L105.4 249.7L106.4 249.3L107.4 249.2L108.4 249L109.4 248.9L110.2 248.8ZM111.8 249.8L111.4 249.8L110.4 249.9L109.4 250L108.4 250.1L107.4 250.3L106.4 250.7L106.2 250.8L106.1 251.8L106.4 252.1L107.4 252.4L108.4 252.5L109.4 252.5L110.4 252.6L111.4 252.7L112 252.8L112.2 253.8L111.7 254.8L111.9 255.8L112.4 256.4L113.1 256.8L113.4 256.9L114.4 257L115.4 257.1L116.4 257.2L117.4 257.2L118.4 257.3L119.4 257.3L120.4 257.4L121.4 257.5L122.4 257.6L123.4 257.8L123.6 257.8L124.4 258.7L124.5 258.8L125.4 259L126.4 259.4L126.8 259.8L126.7 260.8L126.4 261.8L126.5 262.8L126.8 263.8L127.4 264.8L127.4 264.8L128.4 265.6L128.6 265.8L129.4 266.2L130.4 266.5L131.4 266.7L132.2 266.8L132.4 266.8L132.5 266.8L133.4 266.7L134.4 266.5L135.4 266.1L135.9 265.8L136.4 265.5L137.1 264.8L137.4 264.4L137.8 263.8L138 262.8L137.9 261.8L137.5 260.8L137.4 260.6L136.7 259.8L136.4 258.8L136.4 257.8L137.4 257.2L138.4 256.8L138.5 256.8L139.4 256.4L140.4 256.1L141.4 256L142.4 255.9L143.4 255.8L144.1 255.8L144.4 255.8L145.4 255.5L146.4 255.2L147.3 254.8L146.7 253.8L146.4 252.9L146.1 252.8L146.4 252.8L147.4 252.3L147.7 251.8L147.6 250.8L147.4 250.7L146.4 250.3L145.4 250.1L144.4 249.9L143.4 249.8L142.7 249.8L142.4 249.8L141.4 249.8L140.4 249.7L139.4 249.7L138.4 249.7L137.4 249.5L136.4 249.4L135.4 249.2L134.4 249.1L133.4 249L132.4 248.9L131.4 249L130.4 249L129.4 249.1L128.4 249.1L127.4 249.2L126.4 249.4L125.4 249.5L124.4 249.6L123.4 249.7L122.4 249.7L121.4 249.7L120.4 249.7L119.4 249.7L118.4 249.7L117.4 249.7L116.4 249.8L115.4 249.8L114.4 249.8L113.4 249.8L112.4 249.8ZM69.4 252.7L69.5 252.8L69.4 253.6L68.5 252.8ZM70.4 253.7L70.4 253.8L70.4 253.8L69.6 253.8ZM55.4 260.5L56.4 260.3L57.4 260.1L58.4 260L59.4 259.9L60.4 260L61.4 260.1L62.4 260.2L63.4 260.5L64.2 260.8L64.4 260.9L65.4 261.4L66 261.8L66.4 262.1L67.2 262.8L67.4 263.1L67.9 263.8L68.3 264.8L68.4 265.6L68.4 265.8L68.4 266.1L68.3 266.8L68 267.8L67.4 268.7L67.3 268.8L66.4 269.7L66.3 269.8L65.4 270.4L64.7 270.8L64.4 270.9L63.4 271.3L62.4 271.6L61.4 271.8L61.1 271.8L60.4 271.9L59.4 271.9L58.4 271.9L57.9 271.8L57.4 271.7L56.4 271.5L55.4 271.2L54.4 270.8L54.3 270.8L53.4 270.3L52.7 269.8L52.4 269.6L51.6 268.8L51.4 268.5L51 267.8L50.6 266.8L50.5 265.8L50.7 264.8L51.1 263.8L51.4 263.3L51.8 262.8L52.4 262.2L52.9 261.8L53.4 261.5L54.4 261L54.8 260.8ZM57.3 263.8L56.4 264.4L55.9 264.8L55.5 265.8L55.8 266.8L56.4 267.4L56.9 267.8L57.4 268.1L58.4 268.3L59.4 268.4L60.4 268.3L61.4 268.2L62 267.8L62.4 267.5L63.2 266.8L63.4 266.2L63.5 265.8L63.4 265.6L63 264.8L62.4 264.2L61.6 263.8L61.4 263.7L60.4 263.4L59.4 263.4L58.4 263.4L57.4 263.8ZM36.4 261.3L37.4 261.1L38.4 260.9L39.4 260.8L40.4 260.9L41.4 261L42.4 261.3L43.4 261.7L43.6 261.8L44.4 262.4L44.9 262.8L45.4 263.4L45.7 263.8L46 264.8L46 265.8L45.7 266.8L45.4 267.2L44.9 267.8L44.4 268.2L43.6 268.8L43.4 268.9L42.4 269.3L41.4 269.6L40.4 269.7L39.4 269.8L38.4 269.7L37.4 269.5L36.4 269.3L35.4 268.8L35.4 268.8L34.4 268.1L34.1 267.8L33.4 266.8L33.4 266.8L33 265.8L33 264.8L33.4 263.8L33.4 263.8L34.1 262.8L34.4 262.5L35.4 261.8L35.4 261.8ZM38.4 279.6L39.4 279.5L40.4 279.5L41.4 279.8L41.5 279.8L42.4 280.1L43.4 280.7L43.6 280.8L44.4 281.5L44.7 281.8L45.4 282.8L45.4 282.8L45.9 283.8L46.2 284.8L46.3 285.8L46.2 286.8L46 287.8L45.6 288.8L45.4 289.2L45 289.8L44.4 290.5L44.1 290.8L43.4 291.3L42.6 291.8L42.4 291.9L41.4 292.2L40.4 292.4L39.4 292.5L38.4 292.4L37.4 292.2L36.4 291.8L36.4 291.8L35.4 291.2L34.9 290.8L34.4 290.3L34 289.8L33.4 288.9L33.4 288.8L33 287.8L32.8 286.8L32.7 285.8L32.8 284.8L33.1 283.8L33.4 283.2L33.6 282.8L34.3 281.8L34.4 281.7L35.4 280.8L35.4 280.8L36.4 280.2L37.4 279.8L37.5 279.8ZM57.4 279.7L58.4 279.5L59.4 279.5L60.4 279.5L61.4 279.7L61.9 279.8L62.4 280L63.4 280.3L64.3 280.8L64.4 280.9L65.4 281.6L65.6 281.8L66.4 282.7L66.5 282.8L67 283.8L67.3 284.8L67.4 285.3L67.5 285.8L67.4 286.8L67.4 286.9L67.2 287.8L66.7 288.8L66.4 289.2L66 289.8L65.4 290.4L64.9 290.8L64.4 291.1L63.4 291.7L63.1 291.8L62.4 292.1L61.4 292.3L60.4 292.4L59.4 292.5L58.4 292.4L57.4 292.3L56.4 292L55.9 291.8L55.4 291.6L54.4 291L54.1 290.8L53.4 290.2L53 289.8L52.4 289L52.3 288.8L51.8 287.8L51.6 286.8L51.5 285.8L51.6 284.8L52 283.8L52.4 283L52.5 282.8L53.4 281.8L53.4 281.8L54.4 281L54.7 280.8L55.4 280.4L56.4 280L57.1 279.8ZM130.4 280.6L131.4 280.4L132.4 280.4L133.4 280.4L134.4 280.6L134.8 280.8L135.4 281L136.4 281.5L136.8 281.8L137.4 282.3L137.8 282.8L138.4 283.6L138.5 283.8L138.9 284.8L139.1 285.8L139.2 286.8L139 287.8L138.6 288.8L138.4 289.2L138 289.8L137.4 290.4L137 290.8L136.4 291.2L135.4 291.8L135.3 291.8L134.4 292.1L133.4 292.3L132.4 292.4L131.4 292.3L130.4 292.1L129.5 291.8L129.4 291.8L128.4 291.2L127.8 290.8L127.4 290.4L126.8 289.8L126.4 289.2L126.2 288.8L125.8 287.8L125.6 286.8L125.7 285.8L125.9 284.8L126.3 283.8L126.4 283.6L127 282.8L127.4 282.3L128 281.8L128.4 281.5L129.4 281L130 280.8Z" fill="#a3d2e7" stroke="#a3d2e7" stroke-width="0.25" fill-rule="evenodd"/>
<path d="M75.4 183.3L76.4 183.5L76.6 183.8L76.9 184.8L77.2 185.8L77.3 186.8L77.4 187.8L77.4 188.6L77.5 188.8L77.8 189.8L78.2 190.8L78.4 191.2L78.6 190.8L79.4 189.9L79.5 190.8L79.7 191.8L79.8 192.8L79.9 193.8L80 194.8L80.1 195.8L80.1 196.8L80.1 197.8L80 198.8L79.9 199.8L79.8 200.8L79.6 201.8L79.5 202.8L79.4 203.3L78.4 203.1L78 203.8L77.6 204.8L77.4 205.4L77.4 205.8L77.2 206.8L77 207.8L76.6 208.8L76.4 209.3L75.4 209.5L75 208.8L74.6 207.8L74.4 207L73.9 206.8L73.4 206.6L72.4 206.7L71.4 206.2L70.4 206.7L70.3 206.8L69.4 207.7L69.3 207.8L68.4 208.6L68.1 208.8L67.4 209.3L66.4 209.7L65.4 209.6L64.4 209.3L63.4 208.9L63.3 208.8L62.4 208.3L61.5 207.8L61.4 207.7L60.4 206.9L60.3 206.8L59.8 205.8L60.4 205.2L61.4 204.9L62.2 204.8L62.4 204.8L63.4 204.7L64.4 204.7L65.4 204.7L66.4 204.7L67.4 204.6L68.4 204.5L69.4 203.8L69.4 203.8L69.6 202.8L69.5 201.8L69.4 201L69.4 200.8L68.4 199.9L67.4 200L66.4 200.1L65.4 200L64.4 199.9L64.3 199.8L63.4 199.6L62.4 199.3L61.6 198.8L61.4 198.6L60.5 197.8L60.4 197.5L60 196.8L60.1 195.8L60.4 195.3L60.7 194.8L61.4 194.2L62 193.8L62.4 193.6L63.4 193.2L64.4 193L65.4 192.9L66.4 192.9L67.4 193L68.4 193L69.2 192.8L69.4 192.6L70.4 191.9L70.4 191.8L71.1 190.8L71.4 190.4L71.7 189.8L72 188.8L72.2 187.8L72.4 187L73.4 186.9L73.6 186.8L74.4 186.3L74.5 185.8L74.7 184.8L75.1 183.8ZM75.3 186.8L75.2 187.8L75.2 188.8L75.1 189.8L75.1 190.8L74.8 191.8L74.6 192.8L74.5 193.8L74.4 194.8L73.4 194.3L73.2 193.8L73 192.8L72.6 191.8L72.4 191.1L72 191.8L71.4 192.4L71.2 192.8L70.8 193.8L70.4 194.5L69.4 194.7L69.2 194.8L68.6 195.8L68.6 196.8L68.9 197.8L69.4 198.2L70.4 198.5L70.5 198.8L70.8 199.8L70.9 200.8L71 201.8L71.1 202.8L71.4 203.7L71.5 203.8L72.4 204.8L73 203.8L73.3 202.8L73.4 202.4L73.7 201.8L74.1 200.8L74.4 199.8L74.6 200.8L74.9 201.8L75 202.8L75.1 203.8L75.1 204.8L75.3 205.8L75.4 206.4L76.4 206.2L76.5 205.8L76.6 204.8L76.7 203.8L76.7 202.8L76.8 201.8L77 200.8L77.3 199.8L77.4 199.4L77.8 198.8L78.1 197.8L78.2 196.8L78.2 195.8L78.1 194.8L77.9 193.8L77.4 192.9L77.4 192.8L77.1 191.8L76.8 190.8L76.6 189.8L76.6 188.8L76.5 187.8L76.4 186.8L76.4 186.8L75.4 186.5ZM129.4 187.6L130.4 187.4L131.4 187.2L132.4 187.3L133.4 187.6L133.9 187.8L134.4 188L135.4 188.5L135.8 188.8L136.4 189.2L137.3 189.8L137.4 189.9L138.4 190.7L138.6 190.8L139.4 191.6L139.7 191.8L140.4 192.5L140.6 192.8L141.4 193.6L141.5 193.8L142.3 194.8L142.4 194.9L142.9 195.8L143 196.8L142.9 197.8L142.6 198.8L142.4 199.3L142.2 199.8L141.7 200.8L141.4 201.5L141.2 201.8L140.6 202.8L140.4 203.1L139.9 203.8L139.4 204.4L139.1 204.8L138.4 205.6L138.2 205.8L137.4 206.5L137 206.8L136.4 207.2L135.5 207.8L135.4 207.8L134.4 208.2L133.4 208.5L132.4 208.7L131.4 208.7L130.4 208.7L129.4 208.5L128.4 208.3L127.4 208L127 207.8L126.4 207.5L125.4 207L125 206.8L124.4 206.4L123.6 205.8L123.4 205.6L122.5 204.8L122.4 204.7L121.6 203.8L121.4 203.6L120.8 202.8L120.4 202.1L120.2 201.8L119.7 200.8L119.4 199.9L119.4 199.8L119.1 198.8L119 197.8L119 196.8L119.2 195.8L119.4 195.2L119.5 194.8L120.1 193.8L120.4 193.3L120.8 192.8L121.4 192.2L121.8 191.8L122.4 191.3L123 190.8L123.4 190.5L124.4 189.8L124.4 189.8L125.4 189.3L126.3 188.8L126.4 188.7L127.4 188.3L128.4 187.9L128.7 187.8ZM129.1 190.8L128.4 191.2L127.7 191.8L127.4 192.1L126.8 192.8L126.4 193.5L126.2 193.8L125.9 194.8L125.7 195.8L125.8 196.8L125.9 197.8L126.3 198.8L126.4 199L126.9 199.8L127.4 200.4L127.8 200.8L128.4 201.3L129.3 201.8L129.4 201.9L130.4 202.2L131.4 202.4L132.4 202.4L133.4 202.2L134.4 201.9L134.5 201.8L135.4 201.3L136 200.8L136.4 200.4L136.9 199.8L137.4 199L137.5 198.8L137.8 197.8L138 196.8L138 195.8L137.9 194.8L137.5 193.8L137.4 193.6L136.9 192.8L136.4 192.2L136 191.8L135.4 191.3L134.6 190.8L134.4 190.7L133.4 190.4L132.4 190.2L131.4 190.2L130.4 190.3L129.4 190.7ZM74.4 248.6L75.4 248.3L76.4 248.5L76.7 248.8L77.4 249.3L77.7 249.8L78.3 250.8L78.3 251.8L78.1 252.8L77.9 253.8L78.3 254.8L78.2 255.8L77.4 256.8L77.4 256.8L76.5 257.8L76.5 258.8L76.4 259.1L75.4 259.6L74.5 258.8L74.5 257.8L74.4 257.7L73.7 256.8L73.4 256.7L73.1 256.8L72.4 257.1L71.4 256.9L71.2 256.8L70.4 256.3L69.5 255.8L69.4 255.4L68.4 255.6L67.4 255.6L66.4 255.6L65.4 255.6L64.4 255.6L63.4 255.6L62.4 255.6L61.4 255.6L60.4 255.6L59.4 255.6L58.4 255.6L57.4 255.6L56.4 255.6L55.4 255.5L54.4 255.1L54.2 254.8L54.4 254L54.6 253.8L55.3 252.8L54.4 252.4L54.1 251.8L54.4 250.8L54.4 250.8L55.4 250.6L56.4 250.5L57.4 250.5L58.4 250.5L59.4 250.5L60.4 250.5L61.4 250.5L62.4 250.5L63.4 250.5L64.4 250.5L65.4 250.5L66.4 250.5L67.4 250.5L68.4 250.5L69.4 250.6L70.4 249.9L70.7 249.8L71.4 249.3L72.4 249.1L73.4 249.3L74.2 248.8ZM71.7 249.8L71.4 249.8L70.4 250.3L69.8 250.8L69.7 251.8L70.4 252.6L70.6 252.8L71.4 253.7L72.1 253.8L71.4 254.1L70.4 254.7L70.2 254.8L70.4 255.5L70.8 255.8L71.4 255.9L72.4 256.1L73.4 256.1L74.4 256.6L74.6 256.8L75.4 257.5L76.4 257.4L76.9 256.8L77.4 256.4L77.9 255.8L78 254.8L77.4 254L77.2 253.8L77.4 252.8L77.4 252.8L78.1 251.8L78 250.8L77.4 250.1L77 249.8L76.4 249.3L75.4 249.2L74.6 249.8L74.4 249.9L73.4 250L72.7 249.8L72.4 249.6ZM68.5 252.8L69.4 253.6L69.5 252.8L69.4 252.7ZM69.6 253.8L70.4 253.8L70.4 253.8L70.4 253.7ZM112.4 249.8L113.4 249.8L114.4 249.8L115.4 249.8L116.4 249.8L117.4 249.7L118.4 249.7L119.4 249.7L120.4 249.7L121.4 249.7L122.4 249.7L123.4 249.7L124.4 249.6L125.4 249.5L126.4 249.4L127.4 249.2L128.4 249.1L129.4 249.1L130.4 249L131.4 249L132.4 248.9L133.4 249L134.4 249.1L135.4 249.2L136.4 249.4L137.4 249.5L138.4 249.7L139.4 249.7L140.4 249.7L141.4 249.8L142.4 249.8L142.7 249.8L143.4 249.8L144.4 249.9L145.4 250.1L146.4 250.3L147.4 250.7L147.6 250.8L147.7 251.8L147.4 252.3L146.4 252.8L146.1 252.8L146.4 252.9L146.7 253.8L147.3 254.8L146.4 255.2L145.4 255.5L144.4 255.8L144.1 255.8L143.4 255.8L142.4 255.9L141.4 256L140.4 256.1L139.4 256.4L138.5 256.8L138.4 256.8L137.4 257.2L136.4 257.8L136.4 258.8L136.7 259.8L137.4 260.6L137.5 260.8L137.9 261.8L138 262.8L137.8 263.8L137.4 264.4L137.1 264.8L136.4 265.5L135.9 265.8L135.4 266.1L134.4 266.5L133.4 266.7L132.5 266.8L132.4 266.8L132.2 266.8L131.4 266.7L130.4 266.5L129.4 266.2L128.6 265.8L128.4 265.6L127.4 264.8L127.4 264.8L126.8 263.8L126.5 262.8L126.4 261.8L126.7 260.8L126.8 259.8L126.4 259.4L125.4 259L124.5 258.8L124.4 258.7L123.6 257.8L123.4 257.8L122.4 257.6L121.4 257.5L120.4 257.4L119.4 257.3L118.4 257.3L117.4 257.2L116.4 257.2L115.4 257.1L114.4 257L113.4 256.9L113.1 256.8L112.4 256.4L111.9 255.8L111.7 254.8L112.2 253.8L112 252.8L111.4 252.7L110.4 252.6L109.4 252.5L108.4 252.5L107.4 252.4L106.4 252.1L106.1 251.8L106.2 250.8L106.4 250.7L107.4 250.3L108.4 250.1L109.4 250L110.4 249.9L111.4 249.8L111.8 249.8ZM128.6 249.8L128.4 249.9L127.4 250.1L126.4 250.3L125.4 250.6L124.9 250.8L125.4 251.6L125.5 251.8L126.4 252.1L127.4 252.2L128.4 252.3L129.4 252.4L130.4 252.6L131.4 252.7L132.4 252.7L133.4 252.6L134.4 252.5L135.4 252.3L136.4 252.1L137.3 251.8L137.4 251.6L137.9 250.8L137.4 250.6L136.4 250.3L135.4 250L134.8 249.8L134.4 249.7L133.4 249.4L132.4 249.3L131.4 249.4L130.4 249.6L129.4 249.7ZM126.8 254.8L126.4 255.5L125.4 255.8L125.2 255.8L125.4 255.8L126.4 255.9L127.4 256.3L128.4 256.5L129.4 256.6L130.4 256.7L131.4 256.7L132.4 256.7L133.4 256.7L134.4 256.5L135.4 256.4L136.4 256.2L137 255.8L137.1 254.8L136.4 254.5L135.4 254.3L134.4 254.2L133.4 254.1L132.4 254L131.4 254L130.4 254.1L129.4 254.2L128.4 254.3L127.4 254.6ZM129.9 258.8L130.4 258.9L131.4 258.9L132.4 258.8L132.5 258.8L132.4 258.7L131.4 258.5L130.4 258.6ZM36.4 250.7L37.4 250.6L38.4 250.5L39.4 250.5L40.4 250.5L41.4 250.5L42.4 250.5L43.4 250.5L44.4 250.5L45.4 250.5L46.4 250.6L46.9 250.8L47.3 251.8L46.4 252.7L45.9 252.8L46.4 253L46.7 253.8L47.2 254.8L46.4 255.4L45.4 255.6L44.4 255.6L43.4 255.6L42.4 255.6L41.4 255.6L40.4 255.6L39.4 255.6L38.4 255.6L37.4 255.6L36.4 255.3L36 254.8L36.4 254L36.7 253.8L37.4 252.9L37.7 252.8L37.4 252.8L36.4 252.4L36 251.8L36.2 250.8ZM73.4 253.2L74.4 253.8L73.4 254.3L72.5 253.8ZM75.4 260L76.4 260.5L76.5 260.8L77 261.8L76.8 262.8L76.4 263.4L75.4 263.7L74.4 263.1L74.2 262.8L74 261.8L74.4 260.9L74.5 260.8ZM57.4 263.8L58.4 263.4L59.4 263.4L60.4 263.4L61.4 263.7L61.6 263.8L62.4 264.2L63 264.8L63.4 265.6L63.5 265.8L63.4 266.2L63.2 266.8L62.4 267.5L62 267.8L61.4 268.2L60.4 268.3L59.4 268.4L58.4 268.3L57.4 268.1L56.9 267.8L56.4 267.4L55.8 266.8L55.5 265.8L55.9 264.8L56.4 264.4L57.3 263.8ZM75.4 264L76.3 264.8L76.4 264.8L76.9 265.8L76.9 266.8L76.4 267.5L75.6 267.8L75.7 268.8L76.4 269L76.9 269.8L76.9 270.8L76.4 271.7L76.1 271.8L75.4 272.7L75 271.8L74.4 271.5L74.1 270.8L74.1 269.8L74.4 269.3L75.2 268.8L75.3 267.8L74.4 267.3L74.1 266.8L74.1 265.8L74.4 265.1L74.9 264.8ZM74.4 273.4L75.4 272.8L76.4 273.2L76.8 273.8L77 274.8L76.5 275.8L76.4 276L75.4 276.6L74.6 275.8L74.4 275.6L74 274.8L74.2 273.8ZM74.4 277.6L75.4 276.9L76.4 277.3L76.7 277.8L77 278.8L76.6 279.8L76.4 280.2L75.4 280.6L74.4 279.9L74.4 279.8L74 278.8L74.3 277.8ZM75.4 281L76.4 281.5L76.6 281.8L77 282.8L76.7 283.8L76.4 284.4L75.4 284.7L74.4 284.1L74.3 283.8L74 282.8L74.4 281.8L74.4 281.8ZM75.4 285L76.4 285.8L76.4 285.8L77 286.8L76.8 287.8L76.4 288.5L75.4 288.8L75.8 289.8L76.4 290.1L76.7 290.8L76.4 291.4L75.5 291.8L75.4 291.8L75.3 291.8L74.4 291.1L74.3 290.8L74.4 290.5L75.2 289.8L75.4 288.8L74.4 288.3L74.2 287.8L74 286.8L74.4 286L74.8 285.8Z" fill="#e2eff5" stroke="#e2eff5" stroke-width="0.25" fill-rule="evenodd"/>
<path d="M75.4 186.5L76.4 186.8L76.4 186.8L76.5 187.8L76.6 188.8L76.6 189.8L76.8 190.8L77.1 191.8L77.4 192.8L77.4 192.9L77.9 193.8L78.1 194.8L78.2 195.8L78.2 196.8L78.1 197.8L77.8 198.8L77.4 199.4L77.3 199.8L77 200.8L76.8 201.8L76.7 202.8L76.7 203.8L76.6 204.8L76.5 205.8L76.4 206.2L75.4 206.4L75.3 205.8L75.1 204.8L75.1 203.8L75 202.8L74.9 201.8L74.6 200.8L74.4 199.8L74.1 200.8L73.7 201.8L73.4 202.4L73.3 202.8L73 203.8L72.4 204.8L71.5 203.8L71.4 203.7L71.1 202.8L71 201.8L70.9 200.8L70.8 199.8L70.5 198.8L70.4 198.5L69.4 198.2L68.9 197.8L68.6 196.8L68.6 195.8L69.2 194.8L69.4 194.7L70.4 194.5L70.8 193.8L71.2 192.8L71.4 192.4L72 191.8L72.4 191.1L72.6 191.8L73 192.8L73.2 193.8L73.4 194.3L74.4 194.8L74.5 193.8L74.6 192.8L74.8 191.8L75.1 190.8L75.1 189.8L75.2 188.8L75.2 187.8L75.3 186.8ZM75.7 191.8L75.4 191.9L75 192.8L74.9 193.8L74.7 194.8L74.6 195.8L74.6 196.8L74.6 197.8L74.7 198.8L75.1 199.8L75.4 200.5L76.4 200.7L76.8 199.8L77.1 198.8L77.4 198L77.5 197.8L77.6 196.8L77.7 195.8L77.5 194.8L77.4 194.3L77.3 193.8L76.9 192.8L76.6 191.8L76.4 191.4ZM72.3 193.8L71.4 194.7L71.3 194.8L70.9 195.8L70.9 196.8L71.1 197.8L71.4 198.8L71.4 198.9L71.6 199.8L71.8 200.8L72 201.8L72.4 202.7L72.7 201.8L72.9 200.8L73.1 199.8L73.3 198.8L73.3 197.8L73.3 196.8L73.1 195.8L72.8 194.8L72.4 193.8L72.4 193.7ZM129.4 190.7L130.4 190.3L131.4 190.2L132.4 190.2L133.4 190.4L134.4 190.7L134.6 190.8L135.4 191.3L136 191.8L136.4 192.2L136.9 192.8L137.4 193.6L137.5 193.8L137.9 194.8L138 195.8L138 196.8L137.8 197.8L137.5 198.8L137.4 199L136.9 199.8L136.4 200.4L136 200.8L135.4 201.3L134.5 201.8L134.4 201.9L133.4 202.2L132.4 202.4L131.4 202.4L130.4 202.2L129.4 201.9L129.3 201.8L128.4 201.3L127.8 200.8L127.4 200.4L126.9 199.8L126.4 199L126.3 198.8L125.9 197.8L125.8 196.8L125.7 195.8L125.9 194.8L126.2 193.8L126.4 193.5L126.8 192.8L127.4 192.1L127.7 191.8L128.4 191.2L129.1 190.8ZM130.7 195.8L130.7 196.8L131.4 197.5L132.4 197.5L133.1 196.8L133.1 195.8L132.4 195.1L131.4 195.1ZM72.4 249.6L72.7 249.8L73.4 250L74.4 249.9L74.6 249.8L75.4 249.2L76.4 249.3L77 249.8L77.4 250.1L78 250.8L78.1 251.8L77.4 252.8L77.4 252.8L77.2 253.8L77.4 254L78 254.8L77.9 255.8L77.4 256.4L76.9 256.8L76.4 257.4L75.4 257.5L74.6 256.8L74.4 256.6L73.4 256.1L72.4 256.1L71.4 255.9L70.8 255.8L70.4 255.5L70.2 254.8L70.4 254.7L71.4 254.1L72.1 253.8L71.4 253.7L70.6 252.8L70.4 252.6L69.7 251.8L69.8 250.8L70.4 250.3L71.4 249.8L71.7 249.8ZM75.1 249.8L74.4 250.2L73.4 250.4L72.4 250.1L71.4 250.3L70.4 250.7L70.3 250.8L70.1 251.8L70.4 252.2L71 252.8L71.4 253.2L72.4 253.3L73 252.8L73.4 252.5L74.4 252.8L74.4 252.8L74.8 253.8L74.4 254.2L73.5 254.8L73.6 255.8L74.4 256.3L75.1 256.8L75.4 257.1L76.4 256.9L76.5 256.8L77.4 256L77.6 255.8L77.6 254.8L77.4 254.5L76.8 253.8L77.1 252.8L77.4 252.5L77.9 251.8L77.7 250.8L77.4 250.4L76.4 249.8L76.4 249.8L75.4 249.6ZM72.5 253.8L73.4 254.3L74.4 253.8L73.4 253.2ZM129.4 249.7L130.4 249.6L131.4 249.4L132.4 249.3L133.4 249.4L134.4 249.7L134.8 249.8L135.4 250L136.4 250.3L137.4 250.6L137.9 250.8L137.4 251.6L137.3 251.8L136.4 252.1L135.4 252.3L134.4 252.5L133.4 252.6L132.4 252.7L131.4 252.7L130.4 252.6L129.4 252.4L128.4 252.3L127.4 252.2L126.4 252.1L125.5 251.8L125.4 251.6L124.9 250.8L125.4 250.6L126.4 250.3L127.4 250.1L128.4 249.9L128.6 249.8ZM131.3 249.8L130.4 250.1L129.4 250.6L129 250.8L129.4 251.4L129.5 251.8L130.4 252.2L131.4 252.3L132.4 252.3L133.4 252.2L134.4 252.1L135.2 251.8L135.4 251.2L135.6 250.8L135.4 250.7L134.4 250.2L133.4 249.9L133.2 249.8L132.4 249.7L131.4 249.8ZM127.4 254.6L128.4 254.3L129.4 254.2L130.4 254.1L131.4 254L132.4 254L133.4 254.1L134.4 254.2L135.4 254.3L136.4 254.5L137.1 254.8L137 255.8L136.4 256.2L135.4 256.4L134.4 256.5L133.4 256.7L132.4 256.7L131.4 256.7L130.4 256.7L129.4 256.6L128.4 256.5L127.4 256.3L126.4 255.9L125.4 255.8L125.2 255.8L125.4 255.8L126.4 255.5L126.8 254.8ZM128.9 255.8L129.4 255.9L130.4 255.9L131.4 255.9L132.4 255.9L133.4 255.8L133.8 255.8L133.4 255.7L132.4 255.4L131.4 255.3L130.4 255.2L129.4 255.3ZM130.4 258.6L131.4 258.5L132.4 258.7L132.5 258.8L132.4 258.8L131.4 258.9L130.4 258.9L129.9 258.8Z" fill="#fde0d2" stroke="#fde0d2" stroke-width="0.25" fill-rule="evenodd"/>
<path d="M76.4 191.4L76.6 191.8L76.9 192.8L77.3 193.8L77.4 194.3L77.5 194.8L77.7 195.8L77.6 196.8L77.5 197.8L77.4 198L77.1 198.8L76.8 199.8L76.4 200.7L75.4 200.5L75.1 199.8L74.7 198.8L74.6 197.8L74.6 196.8L74.6 195.8L74.7 194.8L74.9 193.8L75 192.8L75.4 191.9L75.7 191.8ZM75.7 192.8L75.4 193L75.2 193.8L75 194.8L74.9 195.8L74.9 196.8L75 197.8L75.2 198.8L75.4 199.3L76.4 199.8L76.7 198.8L77 197.8L77.2 196.8L77.2 195.8L77.1 194.8L76.8 193.8L76.5 192.8L76.4 192.5ZM72.4 193.7L72.4 193.8L72.8 194.8L73.1 195.8L73.3 196.8L73.3 197.8L73.3 198.8L73.1 199.8L72.9 200.8L72.7 201.8L72.4 202.7L72 201.8L71.8 200.8L71.6 199.8L71.4 198.9L71.4 198.8L71.1 197.8L70.9 196.8L70.9 195.8L71.3 194.8L71.4 194.7L72.3 193.8ZM72.3 196.8L72.4 197.3L72.4 196.8L72.4 196.6ZM131.4 195.1L132.4 195.1L133.1 195.8L133.1 196.8L132.4 197.5L131.4 197.5L130.7 196.8L130.7 195.8ZM131.3 195.8L131.4 196.8L131.4 196.8L132.4 196.8L132.4 196.8L132.5 195.8L132.4 195.7L131.4 195.7ZM75.4 249.6L76.4 249.8L76.4 249.8L77.4 250.4L77.7 250.8L77.9 251.8L77.4 252.5L77.1 252.8L76.8 253.8L77.4 254.5L77.6 254.8L77.6 255.8L77.4 256L76.5 256.8L76.4 256.9L75.4 257.1L75.1 256.8L74.4 256.3L73.6 255.8L73.5 254.8L74.4 254.2L74.8 253.8L74.4 252.8L74.4 252.8L73.4 252.5L73 252.8L72.4 253.3L71.4 253.2L71 252.8L70.4 252.2L70.1 251.8L70.3 250.8L70.4 250.7L71.4 250.3L72.4 250.1L73.4 250.4L74.4 250.2L75.1 249.8ZM71.1 250.8L70.6 251.8L71.4 252.5L72.1 252.8L72.4 252.8L72.4 252.8L73.4 252.1L74.4 252.5L74.8 252.8L75.3 253.8L74.4 254.5L74.1 254.8L74.1 255.8L74.4 256L75.4 256.5L76.4 256.4L77.1 255.8L77.2 254.8L76.4 253.9L76.1 253.8L76.4 253.7L76.8 252.8L77.4 252.1L77.6 251.8L77.4 250.8L77.4 250.8L76.4 250.1L75.4 250L74.4 250.4L73.4 250.7L72.4 250.6L71.4 250.7ZM131.4 249.8L132.4 249.7L133.2 249.8L133.4 249.9L134.4 250.2L135.4 250.7L135.6 250.8L135.4 251.2L135.2 251.8L134.4 252.1L133.4 252.2L132.4 252.3L131.4 252.3L130.4 252.2L129.5 251.8L129.4 251.4L129 250.8L129.4 250.6L130.4 250.1L131.3 249.8ZM130.2 250.8L130.4 251.4L130.7 251.8L131.4 251.9L132.4 251.9L133.4 251.9L133.9 251.8L134.4 251.3L134.5 250.8L134.4 250.7L133.4 250.6L132.4 250.5L131.4 250.6L130.4 250.7ZM129.4 255.3L130.4 255.2L131.4 255.3L132.4 255.4L133.4 255.7L133.8 255.8L133.4 255.8L132.4 255.9L131.4 255.9L130.4 255.9L129.4 255.9L128.9 255.8Z" fill="#fcbb91" stroke="#fcbb91" stroke-width="0.25" fill-rule="evenodd"/>
<path d="M76.4 192.5L76.5 192.8L76.8 193.8L77.1 194.8L77.2 195.8L77.2 196.8L77 197.8L76.7 198.8L76.4 199.8L75.4 199.3L75.2 198.8L75 197.8L74.9 196.8L74.9 195.8L75 194.8L75.2 193.8L75.4 193L75.7 192.8ZM75.4 194.8L75.2 195.8L75.2 196.8L75.4 197.6L75.6 197.8L76.4 198.3L76.6 197.8L76.7 196.8L76.8 195.8L76.7 194.8L76.4 194.1L75.4 194.6ZM131.4 195.7L132.4 195.7L132.5 195.8L132.4 196.8L132.4 196.8L131.4 196.8L131.4 196.8L131.3 195.8ZM72.4 196.6L72.4 196.8L72.4 197.3L72.3 196.8ZM71.4 250.7L72.4 250.6L73.4 250.7L74.4 250.4L75.4 250L76.4 250.1L77.4 250.8L77.4 250.8L77.6 251.8L77.4 252.1L76.8 252.8L76.4 253.7L76.1 253.8L76.4 253.9L77.2 254.8L77.1 255.8L76.4 256.4L75.4 256.5L74.4 256L74.1 255.8L74.1 254.8L74.4 254.5L75.3 253.8L74.8 252.8L74.4 252.5L73.4 252.1L72.4 252.8L72.4 252.8L72.1 252.8L71.4 252.5L70.6 251.8L71.1 250.8ZM74.1 250.8L73.6 251.8L74.4 252.1L75.1 252.8L75.4 253.3L76.4 253.1L76.5 252.8L77.3 251.8L77 250.8L76.4 250.4L75.4 250.4L74.4 250.7ZM75.1 254.8L75.4 255.5L76.4 255L76.4 254.8L76.4 254.8L75.4 254.7ZM130.4 250.7L131.4 250.6L132.4 250.5L133.4 250.6L134.4 250.7L134.5 250.8L134.4 251.3L133.9 251.8L133.4 251.9L132.4 251.9L131.4 251.9L130.7 251.8L130.4 251.4L130.2 250.8Z" fill="#f6704f" stroke="#f6704f" stroke-width="0.25" fill-rule="evenodd"/>
<path d="M75.4 194.6L76.4 194.1L76.7 194.8L76.8 195.8L76.7 196.8L76.6 197.8L76.4 198.3L75.6 197.8L75.4 197.6L75.2 196.8L75.2 195.8L75.4 194.8ZM74.4 250.7L75.4 250.4L76.4 250.4L77 250.8L77.3 251.8L76.5 252.8L76.4 253.1L75.4 253.3L75.1 252.8L74.4 252.1L73.6 251.8L74.1 250.8ZM75.2 250.8L74.7 251.8L75.4 252.2L76.4 252L76.5 251.8L76.4 250.8L76.4 250.8L75.4 250.7ZM75.4 254.7L76.4 254.8L76.4 254.8L76.4 255L75.4 255.5L75.1 254.8Z" fill="#d7252d" stroke="#d7252d" stroke-width="0.25" fill-rule="evenodd"/>
<path d="M75.4 250.7L76.4 250.8L76.4 250.8L76.5 251.8L76.4 252L75.4 252.2L74.7 251.8L75.2 250.8Z" fill="#8a0b22" stroke="#8a0b22" stroke-width="0.25" fill-rule="evenodd"/>
<path d="M80.1 172.8L80.1 173.8L80.1 174.8L80.1 175.8L80.1 176.8L80.1 177.8L80.1 178.8L80.1 179.8L80.1 180.8L80.1 181.8L80.2 182.8L80.2 183.8L80.3 184.8L80.4 185.6L80.4 185.8L80.7 186.8L80.9 187.8L81.1 188.8L81.2 189.8L81.4 190.8L81.4 191.1L82 191.8L82.4 192.2L83.4 192.6L84.4 192.4L85.4 192.1L86.3 191.8L86.4 191.7L87.4 191.4L88.4 191L88.9 190.8L89.4 190.6L90.4 190.2L91.4 189.8L91.5 189.8L92.4 189.4L93.4 189L94 188.8L94.4 188.6L95.4 188.2L96.4 187.8L96.4 187.8L97.4 187.4L98.4 186.9L98.7 186.8L99.4 186.5L100.4 186.1L101 185.8L101.4 185.6L102.4 185.2L103.2 184.8L103.4 184.7L104.4 184.3L105.4 183.8L105.4 183.8L106.4 183.3L107.4 182.8L107.5 182.8L108.4 182.4L109.4 181.9L109.6 181.8L110.4 181.4L111.4 180.9L111.6 180.8L112.4 180.4L113.4 179.9L113.5 179.8L114.4 179.4L115.4 178.8L115.5 178.8L116.4 178.3L117.3 177.8L117.4 177.8L118.4 177.2L119.2 176.8L119.4 176.7L120.4 176.1L120.9 175.8L121.4 175.5L122.4 174.9L122.6 174.8L123.4 174.3L124.3 173.8L124.4 173.7L125.4 173.1L125.9 172.8M137.4 172.8L138.4 173.5L138.9 173.8L139.4 174.2L140.4 174.8L140.4 174.8L141.4 175.4L142 175.8L142.4 176.1L143.4 176.7L143.6 176.8L144.4 177.3L145.2 177.8L145.4 177.9L146.4 178.5L147 178.8L147.4 179.1L148.4 179.6L148.7 179.8L149.4 180.2L150.4 180.7L150.5 180.8L151.4 181.3L152.4 181.8L152.4 181.8L153.4 182.3L154.3 182.8L154.4 182.9L155.4 183.4L156.2 183.8L156.4 183.9M32.4 190.8L32.8 189.8L33.4 188.8L33.4 188.8L34.1 187.8L34.4 187.4L35 186.8L35.4 186.4L36.2 185.8L36.4 185.7L37.4 185.2L38.4 184.9L39.4 184.8L39.4 184.8L39.4 184.8L40.4 184.9L41.4 185.2L42.4 185.7L42.6 185.8L43.4 186.4L43.8 186.8L44.4 187.4L44.7 187.8L45.4 188.8L45.4 188.8L46 189.8L46.4 190.8L46.4 190.8L46.8 191.8L47.1 192.8L47.3 193.8L47.4 194.1L47.6 194.8L47.8 195.8L48 196.8L48.1 197.8L48 198.8L47.7 199.8L47.4 200.8L47.4 200.8L47.1 201.8L46.8 202.8L46.4 203.8L46.4 203.9L46 204.8L45.4 205.8L45.4 205.8L44.7 206.8L44.4 207.2L43.8 207.8L43.4 208.2L42.6 208.8L42.4 208.9L41.4 209.4L40.4 209.7L39.4 209.8L39.4 209.8L39.4 209.8L38.4 209.7L37.4 209.4L36.4 208.9L36.2 208.8L35.4 208.2L35 207.8L34.4 207.2L34.1 206.8L33.4 205.8L33.4 205.8L32.8 204.8L32.4 203.8M156.4 216L155.4 216.8L155.4 216.8L154.4 217.6L154.2 217.8L153.4 218.5L153 218.8L152.4 219.3L151.8 219.8L151.4 220.2L150.7 220.8L150.4 221.1L149.6 221.8L149.4 222L148.5 222.8L148.4 222.8L147.4 223.8L147.4 223.8L146.4 224.7L146.3 224.8L145.4 225.6L145.2 225.8L144.4 226.6L144.2 226.8L143.4 227.6L143.2 227.8L142.4 228.5L142.1 228.8L141.4 229.6L141.2 229.8L140.4 230.6L140.2 230.8L139.4 231.6L139.2 231.8L138.4 232.7L138.3 232.8L137.4 233.8L137.4 233.8L136.5 234.8L136.4 235L135.7 235.8L135.4 236.2L134.9 236.8L134.4 237.4L134.1 237.8L133.4 238.7L133.4 238.8L132.7 239.8L132.4 240.2L131.4 240.3L131 239.8L130.4 238.9L130.3 238.8L129.5 237.8L129.4 237.7L128.6 236.8L128.4 236.5L127.8 235.8L127.4 235.4L126.8 234.8L126.4 234.3L125.9 233.8L125.4 233.3L124.9 232.8L124.4 232.3L123.9 231.8L123.4 231.3L122.9 230.8L122.4 230.4L121.8 229.8L121.4 229.4L120.7 228.8L120.4 228.5L119.6 227.8L119.4 227.6L118.5 226.8L118.4 226.7L117.4 225.8L117.4 225.8L116.4 225L116.2 224.8L115.4 224.1L115 223.8L114.4 223.3L113.8 222.8L113.4 222.4L112.6 221.8L112.4 221.6L111.4 220.8L111.4 220.8L110.4 220L110.1 219.8L109.4 219.2L108.9 218.8L108.4 218.4L107.6 217.8L107.4 217.7L106.4 216.9L106.3 216.8L105.4 216.1L104.9 215.8L104.4 215.4L103.6 214.8L103.4 214.7L102.4 213.9L102.2 213.8L101.4 213.2L100.8 212.8L100.4 212.5L99.4 211.8L99.4 211.8L98.4 211.1L98 210.8L97.4 210.4L96.5 209.8L96.4 209.7L95.4 209L95 208.8L94.4 208.4L93.5 207.8L93.4 207.7L92.4 207.1L92 206.8L91.4 206.4L90.4 205.8L90.4 205.8L89.4 205.2L88.8 204.8L88.4 204.6L87.4 204L87.1 203.8L86.4 203.4L85.4 202.8L85.4 202.8L84.4 202.2L83.4 201.9L82.4 202.2L81.9 202.8L81.4 203.3L81.3 203.8L81.2 204.8L81 205.8L80.8 206.8L80.5 207.8L80.4 208.6L80.4 208.8L80.3 209.8L80.2 210.8L80.2 211.8L80.2 212.8L80.1 213.8L80.1 214.8L80.1 215.8L80.1 216.8L80.1 217.8L80.1 218.8L80.1 219.8L80.1 220.8L80.1 221.8L80.1 222.8L80.1 223.8L80.1 224.8L80.1 225.8L80.1 226.8L80.1 227.8L80.1 228.8L80 229.8L80 230.8L80 231.8L79.9 232.8L79.9 233.8L79.9 234.8L79.9 235.8L79.9 236.8L79.9 237.8L79.9 238.8L79.9 239.8L79.9 240.8L79.9 241.8L79.9 242.8L79.9 243.8L80 244.8L80 245.8L80.3 246.8L80.4 246.9L81.4 247.7L81.8 247.8L82.4 247.9L83.4 248L84.4 248L85.4 248L86.4 248L87.4 248L88.4 248L89.4 248L90.4 248L91.4 248L92.4 248L93.4 248L94.4 248L95.4 248L96.4 248L97.4 248L98.4 248L99.4 248L100.4 248L101.4 248L102.4 248L103.4 248L104.4 248L105.4 247.9L106.4 247.9L107.4 247.9L108.4 247.8L109.4 247.8L109.8 247.8L110.4 247.8L111.4 247.7L112.4 247.6L113.4 247.4L114.4 247.3L115.4 247.3L116.4 247.2L117.4 247.2L118.4 247.1L119.4 247.1L120.4 247.1L121.4 247L122.4 247L123.4 247L124.4 247L125.4 247L126.4 246.9L127.4 246.9L128.4 246.9L129.4 246.9L130.4 246.9L131.4 246.8L132.4 246.9L133.4 246.9L134.4 247L135.4 247L136.4 247.1L137.4 247.1L138.4 247.2L139.4 247.3L140.4 247.4L141.4 247.5L142.4 247.6L143.4 247.7L144.4 247.8L144.6 247.8L145.4 247.8L146.4 247.8L147.4 247.9L148.4 247.9L149.4 248L150.4 248L151.4 248L152.4 248L153.4 248L154.4 248L155.4 248L156.4 248M32.4 248L33.4 248L34.4 247.9L35.4 247.8L36.2 247.8L36.4 247.8L37.4 247.8L38.4 247.8L39.4 247.8L40.4 247.8L41.4 247.8L42.4 247.8L43.4 247.8L44.4 247.8L45.4 247.8L46.4 247.8L47.4 247.8L47.4 247.8L48.4 247.8L49.4 247.8L50.4 247.8L51.4 247.8L52.4 247.8L53.4 247.8L54 247.8L54.4 247.8L55.4 247.8L56.4 247.8L57.4 247.8L58.4 247.8L59.4 247.8L60.4 247.8L61.4 247.8L62.4 247.8L63.4 247.8L64.4 247.8L65.4 247.8L66.4 247.8L67.4 247.7L68.4 247.6L69.4 247.3L69.9 246.8L70.3 245.8L70.4 245L70.4 244.8L70.4 244.3L70.4 243.8L70.2 242.8L70 241.8L69.7 240.8L69.5 239.8L69.4 239.4L69.2 238.8L68.9 237.8L68.6 236.8L68.4 236.2L68.2 235.8L67.8 234.8L67.4 233.8L67.4 233.7L67 232.8L66.6 231.8L66.4 231.3L66.2 230.8L65.8 229.8L65.4 229L65.3 228.8L64.9 227.8L64.5 226.8L64.4 226.7L64 225.8L63.6 224.8L63.4 224.3L63.2 223.8L62.7 222.8L62.4 222L62.3 221.8L61.9 220.8L61.4 219.8L61.4 219.7L61 218.8L60.5 217.8L60.4 217.5L60.1 216.8L59.6 215.8L59.4 215.4L59.1 214.8L58.6 213.8L58.4 213.4L58 212.8L57.5 211.8L57.4 211.6L56.9 210.8L56.4 209.9L56.3 209.8L55.7 208.8L55.4 208.3L55.1 207.8L54.5 206.8L54.4 206.6L53.9 205.8L53.4 204.8L53.4 204.7L52.9 203.8L52.4 202.9L52.3 202.8L51.7 201.8L51.4 201.2L51.2 200.8L50.6 199.8L50.4 199.2L50.2 198.8L50.1 197.8L50.4 197.3L50.6 196.8L51.1 195.8L51.4 195.4L51.8 194.8L52.4 194L52.5 193.8L53.3 192.8L53.4 192.6L54 191.8L54.4 191.3L54.9 190.8L55.4 190.2L55.7 189.8L56.4 189.1L56.7 188.8L57.4 188L57.6 187.8L58.4 187.1L58.7 186.8L59.4 186.2L59.8 185.8L60.4 185.3L61.1 184.8L61.4 184.5L62.4 183.8L62.4 183.8L63.4 183.2L64.1 182.8L64.4 182.7L65.4 182.3L66 182.8L66.4 183.1L67 183.8L67.4 184.3L67.9 184.8L68.4 185.5L68.9 185.8L69.4 186.2L69.8 185.8L70.2 184.8L70.3 183.8L70.3 182.8L70.4 181.8L70.4 180.8L70.4 179.8L70.4 178.8L70.4 177.8L70.4 176.8L70.4 175.8L70.4 174.8L70.4 173.8L70.4 172.8M156.4 256.5L155.4 256.5L154.4 256.5L153.4 256.5L152.4 256.5L151.4 256.6L150.4 256.6L149.4 256.8L149.3 256.8L148.4 257.2L147.4 257.5L146.4 257.6L145.4 257.7L144.8 257.8L144.4 258.5L144.3 258.8L144.4 258.9L145.3 259.8L145.4 259.9L146.2 260.8L146.4 261L146.9 261.8L147.3 262.8L147.4 263.2L147.5 263.8L147.6 264.8L147.4 265.8L147.4 265.9L147.1 266.8L146.6 267.8L146.4 268L145.7 268.8L145.4 269.1L144.6 269.8L144.4 269.9L143.4 270.5L143 270.8L142.4 271.1L141.4 271.5L140.8 271.8L140.4 272L139.4 272.3L138.4 272.6L137.7 272.8L137.4 272.9L136.4 273.2L135.4 273.4L134.4 273.5L133.4 273.6L132.4 273.8L132 273.8L131.4 273.9L130.4 274L129.4 274.1L128.4 274.1L127.4 274.1L126.4 274.1L125.4 274.1L124.4 274.1L123.4 274.1L122.4 274L121.4 274L120.4 273.9L119.6 273.8L119.4 273.8L118.4 273.7L117.4 273.5L116.4 273.4L115.4 273.3L114.4 273.1L113.4 272.9L113.2 272.8L112.4 272.6L111.4 272.3L110.4 272L109.9 271.8L109.4 271.6L108.4 271.2L107.6 270.8L107.4 270.7L106.4 270.1L106 269.8L105.4 269.3L104.8 268.8L104.4 268.4L103.9 267.8L103.4 266.9L103.4 266.8L103 265.8L102.9 264.8L102.9 263.8L103.1 262.8L103.4 262.1L103.6 261.8L104.2 260.8L104.4 260.6L105.2 259.8L105.4 259.6L106.4 258.8L106.4 258.7L107.3 257.8L106.4 257.3L105.4 256.9L105.1 256.8L104.4 256.7L103.4 256.6L102.4 256.6L101.4 256.5L100.4 256.5L99.4 256.5L98.4 256.5L97.4 256.5L96.4 256.5L95.4 256.5L94.4 256.5L93.4 256.5L92.4 256.5L91.4 256.5L90.4 256.5L89.4 256.5L88.4 256.5L87.4 256.5L86.4 256.5L85.4 256.5L84.4 256.5L83.4 256.5L82.4 256.6L81.4 256.8L81.4 256.8L80.4 257.6L80.3 257.8L80.1 258.8L80 259.8L80 260.8L80 261.8L80 262.8L80 263.8L80 264.8L80 265.8L80 266.8L80 267.8L80 268.8L80 269.8L80 270.8L80 271.8L80 272.8L80 273.8L80 274.8L80 275.8L80 276.8L80 277.8L80 278.8L80 279.8L80 280.8L80 281.8L80 282.8L80 283.8L80 284.8L80 285.8L80 286.8L80 287.8L80 288.8L80 289.8L80 290.8L80 291.8L79.9 292.8L79.9 293.8M119.9 293.8L119.4 293.6L118.4 293.2L117.6 292.8L117.4 292.7L116.4 292.1L116 291.8L115.4 291.3L114.8 290.8L114.4 290.4L113.8 289.8L113.4 289.2L113.1 288.8L112.6 287.8L112.4 287.2L112.3 286.8L112.1 285.8L112 284.8L112 283.8L112.2 282.8L112.4 282.4L112.7 281.8L113.4 280.8L113.4 280.8L114.4 279.8L114.4 279.8L115.4 279.1L115.9 278.8L116.4 278.5L117.4 278.1L118 277.8L118.4 277.6L119.4 277.3L120.4 277L121.2 276.8L121.4 276.7L122.4 276.5L123.4 276.3L124.4 276.2L125.4 276.1L126.4 276L127.4 275.9L128.4 275.8L129.3 275.8L129.4 275.8L130.4 275.8L131.4 275.8L132.4 275.8L132.5 275.8L133.4 275.8L134.4 275.9L135.4 276L136.4 276.1L137.4 276.2L138.4 276.3L139.4 276.5L140.4 276.7L140.8 276.8L141.4 277L142.4 277.3L143.4 277.5L144 277.8L144.4 278L145.4 278.4L146.1 278.8L146.4 279L147.4 279.7L147.6 279.8L148.4 280.6L148.6 280.8L149.3 281.8L149.4 282L149.8 282.8L150 283.8L150 284.8L149.9 285.8L149.7 286.8L149.4 287.7L149.4 287.8L148.9 288.8L148.4 289.5L148.1 289.8L147.4 290.6L147.2 290.8L146.4 291.5L146 291.8L145.4 292.2L144.4 292.8L144.4 292.8L143.4 293.3L142.4 293.7L142.1 293.8M48.4 273.3L47.8 273.8L47.4 274.2L47 274.8L47 275.8L47.4 276.6L47.6 276.8L48.4 277.4L49.2 277.8L49.4 277.9L50.4 277.9L50.7 277.8L51.4 277.5L52.4 276.9L52.5 276.8L52.9 275.8L52.9 274.8L52.4 274L52.3 273.8L51.4 273.2L50.4 273L49.4 273Z" fill="none" stroke="#333" stroke-width="0.35" stroke-opacity="0.7"/>
<path d="M78 172.8L78 173.8L78 174.8L78 175.8L78 176.8L78 177.8L78 178.8L78.1 179.8L78.1 180.8L78.1 181.8L78.3 182.8L78.4 183.5L78.5 183.8L78.7 184.8L79.1 185.8L79.4 186.4L79.5 186.8L79.8 187.8L80 188.8L80.1 189.8L80.3 190.8L80.4 191.6L80.4 191.8L80.6 192.8L80.8 193.8L80.9 194.8L81 195.8L81 196.8L80.9 197.8L80.9 198.8L80.7 199.8L80.6 200.8L80.4 201.8L80.4 201.8L80.2 202.8L80.1 203.8L79.9 204.8L79.6 205.8L79.4 206.5L79.2 206.8L78.8 207.8L78.6 208.8L78.4 209.7L78.4 209.8L78.3 210.8L78.2 211.8L78.1 212.8L78.1 213.8L78.1 214.8L78.1 215.8L78.1 216.8L78 217.8L78 218.8L78 219.8L78 220.8L78 221.8L78 222.8L78 223.8L78 224.8L78 225.8L78 226.8L78 227.8L78 228.8L77.9 229.8L77.8 230.8L77.6 231.8L77.5 232.8L77.5 233.8L77.5 234.8L77.5 235.8L77.5 236.8L77.5 237.8L77.5 238.8L77.5 239.8L77.5 240.8L77.5 241.8L77.5 242.8L77.5 243.8L77.5 244.8L77.6 245.8L77.9 246.8L78.4 247.6L78.5 247.8L79.3 248.8L79.4 249L79.8 249.8L79.9 250.8L79.9 251.8L79.9 252.8L79.9 253.8L79.7 254.8L79.4 255.5L79.3 255.8L78.5 256.8L78.4 257L78.2 257.8L78.1 258.8L77.9 259.8L78 260.8L78.2 261.8L78.1 262.8L77.9 263.8L78 264.8L78.2 265.8L78.1 266.8L77.9 267.8L77.9 268.8L78.1 269.8L78.1 270.8L78 271.8L77.9 272.8L78.1 273.8L78.2 274.8L78 275.8L77.9 276.8L78.1 277.8L78.2 278.8L78.1 279.8L77.9 280.8L78 281.8L78.2 282.8L78.1 283.8L77.9 284.8L78 285.8L78.2 286.8L78.1 287.8L77.9 288.8L77.9 289.8L78.1 290.8L77.9 291.8L77.6 292.8L77.5 293.8M73.3 293.8L73.3 292.8L72.9 291.8L72.8 290.8L72.9 289.8L72.9 288.8L72.7 287.8L72.7 286.8L72.8 285.8L72.9 284.8L72.7 283.8L72.7 282.8L72.8 281.8L73 280.8L72.8 279.8L72.7 278.8L72.8 277.8L73 276.8L72.8 275.8L72.7 274.8L72.7 273.8L72.9 272.8L72.9 271.8L72.7 270.8L72.7 269.8L72.9 268.8L72.9 267.8L72.7 266.8L72.7 265.8L72.8 264.8L72.9 263.8L72.7 262.8L72.7 261.8L72.8 260.8L72.9 259.8L72.8 258.8L72.6 257.8L72.4 257.7L71.4 257.6L70.4 257.2L69.4 257.1L68.4 257.1L67.4 257.1L66.4 257.1L65.4 257.1L64.4 257.1L63.4 257.1L62.4 257.2L61.4 257.2L60.4 257.2L59.4 257.2L58.4 257.2L57.4 257.2L56.4 257.1L55.4 257.1L54.4 257L53.9 256.8L53.4 256.6L52.4 256.2L51.4 256.1L50.4 256.1L49.4 256.1L48.4 256.4L47.5 256.8L47.4 256.8L46.4 257.1L45.4 257.1L44.4 257.1L43.4 257.1L42.4 257.1L41.4 257.1L40.4 257.1L39.4 257.1L38.4 257.1L37.4 257.1L36.4 257.1L35.4 256.8L35.4 256.8L34.4 255.8L34.4 255.6L34.2 254.8L34.3 253.8L34.4 253.1L34.4 252.8L34.4 252.7L34.2 251.8L34.3 250.8L34.4 250.7L34.9 249.8L35.4 249.5L36.4 249.3L37.4 249.2L38.4 249.2L39.4 249.2L40.4 249.2L41.4 249.2L42.4 249.2L43.4 249.2L44.4 249.2L45.4 249.2L46.4 249.2L47.4 249.4L48.4 249.7L48.9 249.8L49.4 249.9L50.4 250L51.4 250L52.4 249.9L52.6 249.8L53.4 249.6L54.4 249.3L55.4 249.2L56.4 249.2L57.4 249.2L58.4 249.2L59.4 249.2L60.4 249.2L61.4 249.2L62.4 249.2L63.4 249.2L64.4 249.2L65.4 249.2L66.4 249.2L67.4 249.2L68.4 249.2L69.4 249.1L70.4 248.9L70.7 248.8L71.4 248.4L72.2 247.8L72.4 247.6L73 246.8L73.3 245.8L73.4 244.9L73.4 244.8L73.4 244L73.4 243.8L73.3 242.8L73.2 241.8L73.2 240.8L73.1 239.8L73.1 238.8L73.1 237.8L73.1 236.8L73.1 235.8L73.1 234.8L73.1 233.8L73.1 232.8L72.9 231.8L72.6 230.8L72.4 230.1L72.3 229.8L72.1 228.8L72 227.8L72 226.8L72 225.8L72 224.8L72 223.8L72 222.8L72 221.8L72 220.8L72 219.8L72 218.8L72 217.8L72 216.8L71.9 215.8L71.9 214.8L71.9 213.8L71.8 212.8L71.7 211.8L71.5 210.8L71.4 210.5L70.4 210L69.4 210.6L69.3 210.8L68.4 211.8L68.4 211.8L67.7 212.8L67.4 213.2L66.9 213.8L66.4 214.4L66 214.8L65.4 215.3L64.4 214.9L64.2 214.8L63.4 214.3L62.7 213.8L62.4 213.6L61.4 212.8L61.4 212.8L60.4 211.8L60.4 211.8L59.5 210.8L59.4 210.7L58.7 209.8L58.4 209.4L58 208.8L57.4 207.9L57.3 207.8L56.8 206.8L56.4 205.8L56.4 205.8L56.3 204.8L56.1 203.8L55.8 202.8L55.4 202.1L55.2 201.8L54.7 200.8L54.4 200.2L54.2 199.8L54 198.8L54.1 197.8L54.4 197.1L54.5 196.8L55.1 195.8L55.4 195.3L55.8 194.8L56.4 194.1L56.7 193.8L57.4 193L57.6 192.8L58.4 192.1L58.7 191.8L59.4 191.2L59.9 190.8L60.4 190.4L61.4 189.8L61.4 189.8L62.4 189.2L63.2 188.8L63.4 188.7L64.4 188.3L65.4 188L66.4 187.8L67.4 188.2L68.4 188.8L68.4 188.8L69.4 189.3L70.4 189.7L70.9 188.8L71.3 187.8L71.4 187.4L71.5 186.8L71.7 185.8L72 184.8L72.2 183.8L72.4 183.1L72.5 182.8L72.7 181.8L72.8 180.8L72.8 179.8L72.8 178.8L72.8 177.8L72.8 176.8L72.8 175.8L72.8 174.8L72.8 173.8L72.8 172.8M130.4 184.5L131.4 184.1L132.4 184.2L133.3 184.8L133.4 184.9L134.4 185.4L135 185.8L135.4 186L136.4 186.6L136.8 186.8L137.4 187.1L138.4 187.8L138.4 187.8L139.4 188.5L139.8 188.8L140.4 189.3L141 189.8L141.4 190.2L142 190.8L142.4 191.2L143 191.8L143.4 192.3L143.8 192.8L144.4 193.6L144.6 193.8L145.3 194.8L145.4 194.9L146.2 195.8L146.3 196.8L145.9 197.8L145.6 198.8L145.4 199.2L145.2 199.8L144.8 200.8L144.4 201.5L144.3 201.8L143.8 202.8L143.4 203.4L143.2 203.8L142.5 204.8L142.4 204.9L141.7 205.8L141.4 206.2L140.9 206.8L140.4 207.4L140 207.8L139.4 208.5L139.1 208.8L138.4 209.6L138.2 209.8L137.4 210.7L137.3 210.8L136.5 211.8L136.4 212L135.8 212.8L135.4 213.5L135.2 213.8L134.5 214.8L134.4 215L133.9 215.8L133.4 216.6L133.3 216.8L132.7 217.8L132.4 218.3L131.4 218.6L130.6 217.8L130.4 217.6L129.6 216.8L129.4 216.6L128.6 215.8L128.4 215.6L127.6 214.8L127.4 214.6L126.6 213.8L126.4 213.6L125.5 212.8L125.4 212.7L124.4 211.8L124.4 211.8L123.4 210.8L123.3 210.8L122.4 210L122.2 209.8L121.4 209L121.1 208.8L120.4 208.1L120.1 207.8L119.4 207.1L119.1 206.8L118.4 206.1L118.1 205.8L117.4 205L117.2 204.8L116.4 204L116.2 203.8L115.4 202.9L115.3 202.8L114.4 201.8L114.4 201.8L113.5 200.8L113.4 200.7L112.5 199.8L112.4 199.7L111.5 198.8L111.4 198.7L110.5 197.8L110.4 197.7L109.5 196.8L109.7 195.8L110.4 195.4L111.4 194.9L111.6 194.8L112.4 194.4L113.4 193.8L113.5 193.8L114.4 193.3L115.2 192.8L115.4 192.7L116.4 192.1L116.9 191.8L117.4 191.5L118.4 190.8L118.4 190.8L119.4 190.1L119.8 189.8L120.4 189.4L121.4 188.8L121.4 188.8L122.4 188.1L123 187.8L123.4 187.5L124.4 187L124.9 186.8L125.4 186.5L126.4 186.1L127.1 185.8L127.4 185.6L128.4 185.2L129.4 184.9L129.6 184.8ZM37.4 190.4L38.4 190.1L39.4 190.1L40.4 190.3L41.2 190.8L41.4 190.9L42.3 191.8L42.4 191.9L42.9 192.8L43.4 193.8L43.4 193.8L43.7 194.8L43.9 195.8L44 196.8L44 197.8L43.9 198.8L43.6 199.8L43.4 200.4L43.2 200.8L42.7 201.8L42.4 202.3L41.9 202.8L41.4 203.3L40.6 203.8L40.4 203.9L39.4 204.2L38.4 204.1L37.4 203.8L37.4 203.8L36.4 203.1L36.1 202.8L35.4 201.9L35.3 201.8L34.8 200.8L34.4 199.8L34.4 199.7L34.2 198.8L34.1 197.8L34.1 196.8L34.1 195.8L34.3 194.8L34.4 194.5L34.7 193.8L35.1 192.8L35.4 192.3L35.8 191.8L36.4 191.1L36.8 190.8ZM110.4 248.8L111.4 248.7L112.4 248.6L113.4 248.5L114.4 248.5L115.4 248.4L116.4 248.4L117.4 248.3L118.4 248.3L119.4 248.2L120.4 248.2L121.4 248.1L122.4 248.1L123.4 248.1L124.4 248L125.4 248L126.4 248L127.4 247.9L128.4 247.9L129.4 247.9L130.4 247.9L131.4 247.8L132.4 247.9L133.4 248L134.4 248.1L135.4 248.2L136.4 248.2L137.4 248.3L138.4 248.4L139.4 248.4L140.4 248.5L141.4 248.6L142.4 248.6L143.4 248.8L143.6 248.8L144.4 248.9L145.4 249L146.4 249.1L147.4 249.3L148.4 249.7L148.5 249.8L149.4 250.5L149.9 250.8L150.4 251.4L150.8 251.8L150.8 252.8L150.4 253.6L150.3 253.8L149.4 254.7L149.4 254.8L148.4 255.7L148.3 255.8L147.4 256.3L146.4 256.5L145.4 256.7L144.5 256.8L144.4 256.8L143.4 257L142.4 257.2L141.4 257.7L141.1 257.8L140.4 258.2L139.4 258.7L139.2 258.8L139.3 259.8L139.4 259.9L140.3 260.8L140.4 260.9L141.2 261.8L141.4 262.2L141.8 262.8L142.1 263.8L142.2 264.8L142.1 265.8L141.7 266.8L141.4 267.3L141.1 267.8L140.4 268.5L140.1 268.8L139.4 269.3L138.7 269.8L138.4 269.9L137.4 270.4L136.5 270.8L136.4 270.8L135.4 271.1L134.4 271.4L133.4 271.6L132.4 271.8L132.2 271.8L131.4 271.9L130.4 271.9L129.4 271.9L128.4 271.9L127.4 271.8L127.2 271.8L126.4 271.7L125.4 271.5L124.4 271.3L123.4 271L122.9 270.8L122.4 270.6L121.4 270.1L120.8 269.8L120.4 269.5L119.4 268.8L119.4 268.8L118.4 267.8L118.4 267.7L117.8 266.8L117.4 265.8L117.4 265.6L117.3 264.8L117.4 263.9L117.4 263.8L117.8 262.8L118.4 261.8L118.4 261.8L119.4 260.8L119.4 260.7L120.1 259.8L119.4 259.5L118.4 259.2L117.4 258.9L116.9 258.8L116.4 258.7L115.4 258.6L114.4 258.5L113.4 258.3L112.4 258.1L111.5 257.8L111.4 257.7L110.4 257.1L110 256.8L109.4 256.3L108.4 256L107.7 255.8L107.4 255.7L106.4 255.3L105.4 255L104.9 254.8L104.4 254.4L103.6 253.8L103.4 253.5L103 252.8L103 251.8L103.4 251.4L103.9 250.8L104.4 250.5L105.3 249.8L105.4 249.7L106.4 249.3L107.4 249.2L108.4 249L109.4 248.9L110.2 248.8ZM55.4 260.5L56.4 260.3L57.4 260.1L58.4 260L59.4 259.9L60.4 260L61.4 260.1L62.4 260.2L63.4 260.5L64.2 260.8L64.4 260.9L65.4 261.4L66 261.8L66.4 262.1L67.2 262.8L67.4 263.1L67.9 263.8L68.3 264.8L68.4 265.6L68.4 265.8L68.4 266.1L68.3 266.8L68 267.8L67.4 268.7L67.3 268.8L66.4 269.7L66.3 269.8L65.4 270.4L64.7 270.8L64.4 270.9L63.4 271.3L62.4 271.6L61.4 271.8L61.1 271.8L60.4 271.9L59.4 271.9L58.4 271.9L57.9 271.8L57.4 271.7L56.4 271.5L55.4 271.2L54.4 270.8L54.3 270.8L53.4 270.3L52.7 269.8L52.4 269.6L51.6 268.8L51.4 268.5L51 267.8L50.6 266.8L50.5 265.8L50.7 264.8L51.1 263.8L51.4 263.3L51.8 262.8L52.4 262.2L52.9 261.8L53.4 261.5L54.4 261L54.8 260.8ZM36.4 261.3L37.4 261.1L38.4 260.9L39.4 260.8L40.4 260.9L41.4 261L42.4 261.3L43.4 261.7L43.6 261.8L44.4 262.4L44.9 262.8L45.4 263.4L45.7 263.8L46 264.8L46 265.8L45.7 266.8L45.4 267.2L44.9 267.8L44.4 268.2L43.6 268.8L43.4 268.9L42.4 269.3L41.4 269.6L40.4 269.7L39.4 269.8L38.4 269.7L37.4 269.5L36.4 269.3L35.4 268.8L35.4 268.8L34.4 268.1L34.1 267.8L33.4 266.8L33.4 266.8L33 265.8L33 264.8L33.4 263.8L33.4 263.8L34.1 262.8L34.4 262.5L35.4 261.8L35.4 261.8ZM38.4 279.6L39.4 279.5L40.4 279.5L41.4 279.8L41.5 279.8L42.4 280.1L43.4 280.7L43.6 280.8L44.4 281.5L44.7 281.8L45.4 282.8L45.4 282.8L45.9 283.8L46.2 284.8L46.3 285.8L46.2 286.8L46 287.8L45.6 288.8L45.4 289.2L45 289.8L44.4 290.5L44.1 290.8L43.4 291.3L42.6 291.8L42.4 291.9L41.4 292.2L40.4 292.4L39.4 292.5L38.4 292.4L37.4 292.2L36.4 291.8L36.4 291.8L35.4 291.2L34.9 290.8L34.4 290.3L34 289.8L33.4 288.9L33.4 288.8L33 287.8L32.8 286.8L32.7 285.8L32.8 284.8L33.1 283.8L33.4 283.2L33.6 282.8L34.3 281.8L34.4 281.7L35.4 280.8L35.4 280.8L36.4 280.2L37.4 279.8L37.5 279.8ZM57.4 279.7L58.4 279.5L59.4 279.5L60.4 279.5L61.4 279.7L61.9 279.8L62.4 280L63.4 280.3L64.3 280.8L64.4 280.9L65.4 281.6L65.6 281.8L66.4 282.7L66.5 282.8L67 283.8L67.3 284.8L67.4 285.3L67.5 285.8L67.4 286.8L67.4 286.9L67.2 287.8L66.7 288.8L66.4 289.2L66 289.8L65.4 290.4L64.9 290.8L64.4 291.1L63.4 291.7L63.1 291.8L62.4 292.1L61.4 292.3L60.4 292.4L59.4 292.5L58.4 292.4L57.4 292.3L56.4 292L55.9 291.8L55.4 291.6L54.4 291L54.1 290.8L53.4 290.2L53 289.8L52.4 289L52.3 288.8L51.8 287.8L51.6 286.8L51.5 285.8L51.6 284.8L52 283.8L52.4 283L52.5 282.8L53.4 281.8L53.4 281.8L54.4 281L54.7 280.8L55.4 280.4L56.4 280L57.1 279.8ZM130.4 280.6L131.4 280.4L132.4 280.4L133.4 280.4L134.4 280.6L134.8 280.8L135.4 281L136.4 281.5L136.8 281.8L137.4 282.3L137.8 282.8L138.4 283.6L138.5 283.8L138.9 284.8L139.1 285.8L139.2 286.8L139 287.8L138.6 288.8L138.4 289.2L138 289.8L137.4 290.4L137 290.8L136.4 291.2L135.4 291.8L135.3 291.8L134.4 292.1L133.4 292.3L132.4 292.4L131.4 292.3L130.4 292.1L129.5 291.8L129.4 291.8L128.4 291.2L127.8 290.8L127.4 290.4L126.8 289.8L126.4 289.2L126.2 288.8L125.8 287.8L125.6 286.8L125.7 285.8L125.9 284.8L126.3 283.8L126.4 283.6L127 282.8L127.4 282.3L128 281.8L128.4 281.5L129.4 281L130 280.8Z" fill="none" stroke="#333" stroke-width="0.35" stroke-opacity="0.7"/>
<path d="M75.4 183.3L76.4 183.5L76.6 183.8L76.9 184.8L77.2 185.8L77.3 186.8L77.4 187.8L77.4 188.6L77.5 188.8L77.8 189.8L78.2 190.8L78.4 191.2L78.6 190.8L79.4 189.9L79.5 190.8L79.7 191.8L79.8 192.8L79.9 193.8L80 194.8L80.1 195.8L80.1 196.8L80.1 197.8L80 198.8L79.9 199.8L79.8 200.8L79.6 201.8L79.5 202.8L79.4 203.3L78.4 203.1L78 203.8L77.6 204.8L77.4 205.4L77.4 205.8L77.2 206.8L77 207.8L76.6 208.8L76.4 209.3L75.4 209.5L75 208.8L74.6 207.8L74.4 207L73.9 206.8L73.4 206.6L72.4 206.7L71.4 206.2L70.4 206.7L70.3 206.8L69.4 207.7L69.3 207.8L68.4 208.6L68.1 208.8L67.4 209.3L66.4 209.7L65.4 209.6L64.4 209.3L63.4 208.9L63.3 208.8L62.4 208.3L61.5 207.8L61.4 207.7L60.4 206.9L60.3 206.8L59.8 205.8L60.4 205.2L61.4 204.9L62.2 204.8L62.4 204.8L63.4 204.7L64.4 204.7L65.4 204.7L66.4 204.7L67.4 204.6L68.4 204.5L69.4 203.8L69.4 203.8L69.6 202.8L69.5 201.8L69.4 201L69.4 200.8L68.4 199.9L67.4 200L66.4 200.1L65.4 200L64.4 199.9L64.3 199.8L63.4 199.6L62.4 199.3L61.6 198.8L61.4 198.6L60.5 197.8L60.4 197.5L60 196.8L60.1 195.8L60.4 195.3L60.7 194.8L61.4 194.2L62 193.8L62.4 193.6L63.4 193.2L64.4 193L65.4 192.9L66.4 192.9L67.4 193L68.4 193L69.2 192.8L69.4 192.6L70.4 191.9L70.4 191.8L71.1 190.8L71.4 190.4L71.7 189.8L72 188.8L72.2 187.8L72.4 187L73.4 186.9L73.6 186.8L74.4 186.3L74.5 185.8L74.7 184.8L75.1 183.8ZM129.4 187.6L130.4 187.4L131.4 187.2L132.4 187.3L133.4 187.6L133.9 187.8L134.4 188L135.4 188.5L135.8 188.8L136.4 189.2L137.3 189.8L137.4 189.9L138.4 190.7L138.6 190.8L139.4 191.6L139.7 191.8L140.4 192.5L140.6 192.8L141.4 193.6L141.5 193.8L142.3 194.8L142.4 194.9L142.9 195.8L143 196.8L142.9 197.8L142.6 198.8L142.4 199.3L142.2 199.8L141.7 200.8L141.4 201.5L141.2 201.8L140.6 202.8L140.4 203.1L139.9 203.8L139.4 204.4L139.1 204.8L138.4 205.6L138.2 205.8L137.4 206.5L137 206.8L136.4 207.2L135.5 207.8L135.4 207.8L134.4 208.2L133.4 208.5L132.4 208.7L131.4 208.7L130.4 208.7L129.4 208.5L128.4 208.3L127.4 208L127 207.8L126.4 207.5L125.4 207L125 206.8L124.4 206.4L123.6 205.8L123.4 205.6L122.5 204.8L122.4 204.7L121.6 203.8L121.4 203.6L120.8 202.8L120.4 202.1L120.2 201.8L119.7 200.8L119.4 199.9L119.4 199.8L119.1 198.8L119 197.8L119 196.8L119.2 195.8L119.4 195.2L119.5 194.8L120.1 193.8L120.4 193.3L120.8 192.8L121.4 192.2L121.8 191.8L122.4 191.3L123 190.8L123.4 190.5L124.4 189.8L124.4 189.8L125.4 189.3L126.3 188.8L126.4 188.7L127.4 188.3L128.4 187.9L128.7 187.8ZM74.4 248.6L75.4 248.3L76.4 248.5L76.7 248.8L77.4 249.3L77.7 249.8L78.3 250.8L78.3 251.8L78.1 252.8L77.9 253.8L78.3 254.8L78.2 255.8L77.4 256.8L77.4 256.8L76.5 257.8L76.5 258.8L76.4 259.1L75.4 259.6L74.5 258.8L74.5 257.8L74.4 257.7L73.7 256.8L73.4 256.7L73.1 256.8L72.4 257.1L71.4 256.9L71.2 256.8L70.4 256.3L69.5 255.8L69.4 255.4L68.4 255.6L67.4 255.6L66.4 255.6L65.4 255.6L64.4 255.6L63.4 255.6L62.4 255.6L61.4 255.6L60.4 255.6L59.4 255.6L58.4 255.6L57.4 255.6L56.4 255.6L55.4 255.5L54.4 255.1L54.2 254.8L54.4 254L54.6 253.8L55.3 252.8L54.4 252.4L54.1 251.8L54.4 250.8L54.4 250.8L55.4 250.6L56.4 250.5L57.4 250.5L58.4 250.5L59.4 250.5L60.4 250.5L61.4 250.5L62.4 250.5L63.4 250.5L64.4 250.5L65.4 250.5L66.4 250.5L67.4 250.5L68.4 250.5L69.4 250.6L70.4 249.9L70.7 249.8L71.4 249.3L72.4 249.1L73.4 249.3L74.2 248.8ZM112.4 249.8L113.4 249.8L114.4 249.8L115.4 249.8L116.4 249.8L117.4 249.7L118.4 249.7L119.4 249.7L120.4 249.7L121.4 249.7L122.4 249.7L123.4 249.7L124.4 249.6L125.4 249.5L126.4 249.4L127.4 249.2L128.4 249.1L129.4 249.1L130.4 249L131.4 249L132.4 248.9L133.4 249L134.4 249.1L135.4 249.2L136.4 249.4L137.4 249.5L138.4 249.7L139.4 249.7L140.4 249.7L141.4 249.8L142.4 249.8L142.7 249.8L143.4 249.8L144.4 249.9L145.4 250.1L146.4 250.3L147.4 250.7L147.6 250.8L147.7 251.8L147.4 252.3L146.4 252.8L146.1 252.8L146.4 252.9L146.7 253.8L147.3 254.8L146.4 255.2L145.4 255.5L144.4 255.8L144.1 255.8L143.4 255.8L142.4 255.9L141.4 256L140.4 256.1L139.4 256.4L138.5 256.8L138.4 256.8L137.4 257.2L136.4 257.8L136.4 258.8L136.7 259.8L137.4 260.6L137.5 260.8L137.9 261.8L138 262.8L137.8 263.8L137.4 264.4L137.1 264.8L136.4 265.5L135.9 265.8L135.4 266.1L134.4 266.5L133.4 266.7L132.5 266.8L132.4 266.8L132.2 266.8L131.4 266.7L130.4 266.5L129.4 266.2L128.6 265.8L128.4 265.6L127.4 264.8L127.4 264.8L126.8 263.8L126.5 262.8L126.4 261.8L126.7 260.8L126.8 259.8L126.4 259.4L125.4 259L124.5 258.8L124.4 258.7L123.6 257.8L123.4 257.8L122.4 257.6L121.4 257.5L120.4 257.4L119.4 257.3L118.4 257.3L117.4 257.2L116.4 257.2L115.4 257.1L114.4 257L113.4 256.9L113.1 256.8L112.4 256.4L111.9 255.8L111.7 254.8L112.2 253.8L112 252.8L111.4 252.7L110.4 252.6L109.4 252.5L108.4 252.5L107.4 252.4L106.4 252.1L106.1 251.8L106.2 250.8L106.4 250.7L107.4 250.3L108.4 250.1L109.4 250L110.4 249.9L111.4 249.8L111.8 249.8ZM36.4 250.7L37.4 250.6L38.4 250.5L39.4 250.5L40.4 250.5L41.4 250.5L42.4 250.5L43.4 250.5L44.4 250.5L45.4 250.5L46.4 250.6L46.9 250.8L47.3 251.8L46.4 252.7L45.9 252.8L46.4 253L46.7 253.8L47.2 254.8L46.4 255.4L45.4 255.6L44.4 255.6L43.4 255.6L42.4 255.6L41.4 255.6L40.4 255.6L39.4 255.6L38.4 255.6L37.4 255.6L36.4 255.3L36 254.8L36.4 254L36.7 253.8L37.4 252.9L37.7 252.8L37.4 252.8L36.4 252.4L36 251.8L36.2 250.8ZM69.4 252.7L68.5 252.8L69.4 253.6L69.5 252.8ZM70.4 253.7L69.6 253.8L70.4 253.8L70.4 253.8ZM75.4 260L76.4 260.5L76.5 260.8L77 261.8L76.8 262.8L76.4 263.4L75.4 263.7L74.4 263.1L74.2 262.8L74 261.8L74.4 260.9L74.5 260.8ZM57.4 263.8L58.4 263.4L59.4 263.4L60.4 263.4L61.4 263.7L61.6 263.8L62.4 264.2L63 264.8L63.4 265.6L63.5 265.8L63.4 266.2L63.2 266.8L62.4 267.5L62 267.8L61.4 268.2L60.4 268.3L59.4 268.4L58.4 268.3L57.4 268.1L56.9 267.8L56.4 267.4L55.8 266.8L55.5 265.8L55.9 264.8L56.4 264.4L57.3 263.8ZM75.4 264L76.3 264.8L76.4 264.8L76.9 265.8L76.9 266.8L76.4 267.5L75.6 267.8L75.7 268.8L76.4 269L76.9 269.8L76.9 270.8L76.4 271.7L76.1 271.8L75.4 272.7L75 271.8L74.4 271.5L74.1 270.8L74.1 269.8L74.4 269.3L75.2 268.8L75.3 267.8L74.4 267.3L74.1 266.8L74.1 265.8L74.4 265.1L74.9 264.8ZM74.4 273.4L75.4 272.8L76.4 273.2L76.8 273.8L77 274.8L76.5 275.8L76.4 276L75.4 276.6L74.6 275.8L74.4 275.6L74 274.8L74.2 273.8ZM74.4 277.6L75.4 276.9L76.4 277.3L76.7 277.8L77 278.8L76.6 279.8L76.4 280.2L75.4 280.6L74.4 279.9L74.4 279.8L74 278.8L74.3 277.8ZM75.4 281L76.4 281.5L76.6 281.8L77 282.8L76.7 283.8L76.4 284.4L75.4 284.7L74.4 284.1L74.3 283.8L74 282.8L74.4 281.8L74.4 281.8ZM75.4 285L76.4 285.8L76.4 285.8L77 286.8L76.8 287.8L76.4 288.5L75.4 288.8L75.8 289.8L76.4 290.1L76.7 290.8L76.4 291.4L75.5 291.8L75.4 291.8L75.3 291.8L74.4 291.1L74.3 290.8L74.4 290.5L75.2 289.8L75.4 288.8L74.4 288.3L74.2 287.8L74 286.8L74.4 286L74.8 285.8Z" fill="none" stroke="#333" stroke-width="0.35" stroke-opacity="0.7"/>
<path d="M75.4 186.5L76.4 186.8L76.4 186.8L76.5 187.8L76.6 188.8L76.6 189.8L76.8 190.8L77.1 191.8L77.4 192.8L77.4 192.9L77.9 193.8L78.1 194.8L78.2 195.8L78.2 196.8L78.1 197.8L77.8 198.8L77.4 199.4L77.3 199.8L77 200.8L76.8 201.8L76.7 202.8L76.7 203.8L76.6 204.8L76.5 205.8L76.4 206.2L75.4 206.4L75.3 205.8L75.1 204.8L75.1 203.8L75 202.8L74.9 201.8L74.6 200.8L74.4 199.8L74.1 200.8L73.7 201.8L73.4 202.4L73.3 202.8L73 203.8L72.4 204.8L71.5 203.8L71.4 203.7L71.1 202.8L71 201.8L70.9 200.8L70.8 199.8L70.5 198.8L70.4 198.5L69.4 198.2L68.9 197.8L68.6 196.8L68.6 195.8L69.2 194.8L69.4 194.7L70.4 194.5L70.8 193.8L71.2 192.8L71.4 192.4L72 191.8L72.4 191.1L72.6 191.8L73 192.8L73.2 193.8L73.4 194.3L74.4 194.8L74.5 193.8L74.6 192.8L74.8 191.8L75.1 190.8L75.1 189.8L75.2 188.8L75.2 187.8L75.3 186.8ZM129.4 190.7L130.4 190.3L131.4 190.2L132.4 190.2L133.4 190.4L134.4 190.7L134.6 190.8L135.4 191.3L136 191.8L136.4 192.2L136.9 192.8L137.4 193.6L137.5 193.8L137.9 194.8L138 195.8L138 196.8L137.8 197.8L137.5 198.8L137.4 199L136.9 199.8L136.4 200.4L136 200.8L135.4 201.3L134.5 201.8L134.4 201.9L133.4 202.2L132.4 202.4L131.4 202.4L130.4 202.2L129.4 201.9L129.3 201.8L128.4 201.3L127.8 200.8L127.4 200.4L126.9 199.8L126.4 199L126.3 198.8L125.9 197.8L125.8 196.8L125.7 195.8L125.9 194.8L126.2 193.8L126.4 193.5L126.8 192.8L127.4 192.1L127.7 191.8L128.4 191.2L129.1 190.8ZM72.4 249.6L72.7 249.8L73.4 250L74.4 249.9L74.6 249.8L75.4 249.2L76.4 249.3L77 249.8L77.4 250.1L78 250.8L78.1 251.8L77.4 252.8L77.4 252.8L77.2 253.8L77.4 254L78 254.8L77.9 255.8L77.4 256.4L76.9 256.8L76.4 257.4L75.4 257.5L74.6 256.8L74.4 256.6L73.4 256.1L72.4 256.1L71.4 255.9L70.8 255.8L70.4 255.5L70.2 254.8L70.4 254.7L71.4 254.1L72.1 253.8L71.4 253.7L70.6 252.8L70.4 252.6L69.7 251.8L69.8 250.8L70.4 250.3L71.4 249.8L71.7 249.8ZM129.4 249.7L130.4 249.6L131.4 249.4L132.4 249.3L133.4 249.4L134.4 249.7L134.8 249.8L135.4 250L136.4 250.3L137.4 250.6L137.9 250.8L137.4 251.6L137.3 251.8L136.4 252.1L135.4 252.3L134.4 252.5L133.4 252.6L132.4 252.7L131.4 252.7L130.4 252.6L129.4 252.4L128.4 252.3L127.4 252.2L126.4 252.1L125.5 251.8L125.4 251.6L124.9 250.8L125.4 250.6L126.4 250.3L127.4 250.1L128.4 249.9L128.6 249.8ZM73.4 253.2L72.5 253.8L73.4 254.3L74.4 253.8ZM127.4 254.6L128.4 254.3L129.4 254.2L130.4 254.1L131.4 254L132.4 254L133.4 254.1L134.4 254.2L135.4 254.3L136.4 254.5L137.1 254.8L137 255.8L136.4 256.2L135.4 256.4L134.4 256.5L133.4 256.7L132.4 256.7L131.4 256.7L130.4 256.7L129.4 256.6L128.4 256.5L127.4 256.3L126.4 255.9L125.4 255.8L125.2 255.8L125.4 255.8L126.4 255.5L126.8 254.8ZM130.4 258.6L131.4 258.5L132.4 258.7L132.5 258.8L132.4 258.8L131.4 258.9L130.4 258.9L129.9 258.8Z" fill="none" stroke="#333" stroke-width="0.35" stroke-opacity="0.7"/>
<path d="M76.4 191.4L76.6 191.8L76.9 192.8L77.3 193.8L77.4 194.3L77.5 194.8L77.7 195.8L77.6 196.8L77.5 197.8L77.4 198L77.1 198.8L76.8 199.8L76.4 200.7L75.4 200.5L75.1 199.8L74.7 198.8L74.6 197.8L74.6 196.8L74.6 195.8L74.7 194.8L74.9 193.8L75 192.8L75.4 191.9L75.7 191.8ZM72.4 193.7L72.4 193.8L72.8 194.8L73.1 195.8L73.3 196.8L73.3 197.8L73.3 198.8L73.1 199.8L72.9 200.8L72.7 201.8L72.4 202.7L72 201.8L71.8 200.8L71.6 199.8L71.4 198.9L71.4 198.8L71.1 197.8L70.9 196.8L70.9 195.8L71.3 194.8L71.4 194.7L72.3 193.8ZM131.4 195.1L132.4 195.1L133.1 195.8L133.1 196.8L132.4 197.5L131.4 197.5L130.7 196.8L130.7 195.8ZM75.4 249.6L76.4 249.8L76.4 249.8L77.4 250.4L77.7 250.8L77.9 251.8L77.4 252.5L77.1 252.8L76.8 253.8L77.4 254.5L77.6 254.8L77.6 255.8L77.4 256L76.5 256.8L76.4 256.9L75.4 257.1L75.1 256.8L74.4 256.3L73.6 255.8L73.5 254.8L74.4 254.2L74.8 253.8L74.4 252.8L74.4 252.8L73.4 252.5L73 252.8L72.4 253.3L71.4 253.2L71 252.8L70.4 252.2L70.1 251.8L70.3 250.8L70.4 250.7L71.4 250.3L72.4 250.1L73.4 250.4L74.4 250.2L75.1 249.8ZM131.4 249.8L132.4 249.7L133.2 249.8L133.4 249.9L134.4 250.2L135.4 250.7L135.6 250.8L135.4 251.2L135.2 251.8L134.4 252.1L133.4 252.2L132.4 252.3L131.4 252.3L130.4 252.2L129.5 251.8L129.4 251.4L129 250.8L129.4 250.6L130.4 250.1L131.3 249.8ZM129.4 255.3L130.4 255.2L131.4 255.3L132.4 255.4L133.4 255.7L133.8 255.8L133.4 255.8L132.4 255.9L131.4 255.9L130.4 255.9L129.4 255.9L128.9 255.8Z" fill="none" stroke="#333" stroke-width="0.35" stroke-opacity="0.7"/>
<path d="M76.4 192.5L76.5 192.8L76.8 193.8L77.1 194.8L77.2 195.8L77.2 196.8L77 197.8L76.7 198.8L76.4 199.8L75.4 199.3L75.2 198.8L75 197.8L74.9 196.8L74.9 195.8L75 194.8L75.2 193.8L75.4 193L75.7 192.8ZM131.4 195.7L132.4 195.7L132.5 195.8L132.4 196.8L132.4 196.8L131.4 196.8L131.4 196.8L131.3 195.8ZM72.4 196.6L72.4 196.8L72.4 197.3L72.3 196.8ZM71.4 250.7L72.4 250.6L73.4 250.7L74.4 250.4L75.4 250L76.4 250.1L77.4 250.8L77.4 250.8L77.6 251.8L77.4 252.1L76.8 252.8L76.4 253.7L76.1 253.8L76.4 253.9L77.2 254.8L77.1 255.8L76.4 256.4L75.4 256.5L74.4 256L74.1 255.8L74.1 254.8L74.4 254.5L75.3 253.8L74.8 252.8L74.4 252.5L73.4 252.1L72.4 252.8L72.4 252.8L72.1 252.8L71.4 252.5L70.6 251.8L71.1 250.8ZM130.4 250.7L131.4 250.6L132.4 250.5L133.4 250.6L134.4 250.7L134.5 250.8L134.4 251.3L133.9 251.8L133.4 251.9L132.4 251.9L131.4 251.9L130.7 251.8L130.4 251.4L130.2 250.8Z" fill="none" stroke="#333" stroke-width="0.35" stroke-opacity="0.7"/>
<path d="M75.4 194.6L76.4 194.1L76.7 194.8L76.8 195.8L76.7 196.8L76.6 197.8L76.4 198.3L75.6 197.8L75.4 197.6L75.2 196.8L75.2 195.8L75.4 194.8ZM74.4 250.7L75.4 250.4L76.4 250.4L77 250.8L77.3 251.8L76.5 252.8L76.4 253.1L75.4 253.3L75.1 252.8L74.4 252.1L73.6 251.8L74.1 250.8ZM75.4 254.7L76.4 254.8L76.4 254.8L76.4 255L75.4 255.5L75.1 254.8Z" fill="none" stroke="#333" stroke-width="0.35" stroke-opacity="0.7"/>
<path d="M75.4 250.7L76.4 250.8L76.4 250.8L76.5 251.8L76.4 252L75.4 252.2L74.7 251.8L75.2 250.8Z" fill="none" stroke="#333" stroke-width="0.35" stroke-opacity="0.7"/>
</g>
<rect x="32.4" y="172.8" width="123.6" height="121.0" fill="none" stroke="#555" stroke-width="0.6"/>
<rect x="160.0" y="174.2" width="8.4" height="7.9" fill="#8a0b22"/>
<rect x="160.0" y="181.9" width="8.4" height="12.2" fill="#d7252d"/>
<rect x="160.0" y="193.9" width="8.4" height="15.1" fill="#f6704f"/>
<rect x="160.0" y="208.8" width="8.4" height="12.4" fill="#fcbb91"/>
<rect x="160.0" y="221" width="8.4" height="12.6" fill="#fde0d2"/>
<rect x="160.0" y="233.4" width="8.4" height="12.8" fill="#e2eff5"/>
<rect x="160.0" y="246" width="8.4" height="12.5" fill="#a3d2e7"/>
<rect x="160.0" y="258.3" width="8.4" height="14.9" fill="#43a6d7"/>
<rect x="160.0" y="273" width="8.4" height="13.2" fill="#1681c4"/>
<rect x="160.0" y="286" width="8.4" height="6.9" fill="#0c4a8a"/>
<rect x="160.0" y="174.2" width="8.4" height="118.5" fill="none" stroke="#555" stroke-width="0.4"/>
<line x1="168.4" y1="174.2" x2="169.6" y2="174.2" stroke="#444" stroke-width="0.4"/>
<text x="170.4" y="175.3" font-size="3.1" fill="#111" stroke="#111" stroke-width="0.14">0.2840</text>
<line x1="168.4" y1="189" x2="169.6" y2="189" stroke="#444" stroke-width="0.4"/>
<text x="170.4" y="190.1" font-size="3.1" fill="#111" stroke="#111" stroke-width="0.14">0.2455</text>
<line x1="168.4" y1="203.8" x2="169.6" y2="203.8" stroke="#444" stroke-width="0.4"/>
<text x="170.4" y="204.9" font-size="3.1" fill="#111" stroke="#111" stroke-width="0.14">0.2070</text>
<line x1="168.4" y1="218.6" x2="169.6" y2="218.6" stroke="#444" stroke-width="0.4"/>
<text x="170.4" y="219.7" font-size="3.1" fill="#111" stroke="#111" stroke-width="0.14">0.1685</text>
<line x1="168.4" y1="233.4" x2="169.6" y2="233.4" stroke="#444" stroke-width="0.4"/>
<text x="170.4" y="234.5" font-size="3.1" fill="#111" stroke="#111" stroke-width="0.14">0.1300</text>
<line x1="168.4" y1="248.3" x2="169.6" y2="248.3" stroke="#444" stroke-width="0.4"/>
<text x="170.4" y="249.3" font-size="3.1" fill="#111" stroke="#111" stroke-width="0.14">0.09150</text>
<line x1="168.4" y1="263.1" x2="169.6" y2="263.1" stroke="#444" stroke-width="0.4"/>
<text x="170.4" y="264.2" font-size="3.1" fill="#111" stroke="#111" stroke-width="0.14">0.05300</text>
<line x1="168.4" y1="277.9" x2="169.6" y2="277.9" stroke="#444" stroke-width="0.4"/>
<text x="170.4" y="279" font-size="3.1" fill="#111" stroke="#111" stroke-width="0.14">0.01450</text>
<line x1="168.4" y1="292.7" x2="169.6" y2="292.7" stroke="#444" stroke-width="0.4"/>
<text x="170.4" y="293.8" font-size="3.1" fill="#111" stroke="#111" stroke-width="0.14">-0.02400</text>
<line x1="32.4" y1="293.8" x2="32.4" y2="295.1" stroke="#444" stroke-width="0.45"/>
<line x1="31.1" y1="293.8" x2="32.4" y2="293.8" stroke="#444" stroke-width="0.45"/>
<text x="32.4" y="301.1" font-size="4.2" text-anchor="middle" stroke="#111" stroke-width="0.2" fill="#111" >400</text>
<text x="30.4" y="295.2" font-size="4.2" text-anchor="end" stroke="#111" stroke-width="0.2" fill="#111" >400</text>
<line x1="46.1" y1="293.8" x2="46.1" y2="295.1" stroke="#444" stroke-width="0.45"/>
<line x1="31.1" y1="280.4" x2="32.4" y2="280.4" stroke="#444" stroke-width="0.45"/>
<text x="46.1" y="301.1" font-size="4.2" text-anchor="middle" stroke="#111" stroke-width="0.2" fill="#111" >800</text>
<text x="30.4" y="281.8" font-size="4.2" text-anchor="end" stroke="#111" stroke-width="0.2" fill="#111" >800</text>
<line x1="59.9" y1="293.8" x2="59.9" y2="295.1" stroke="#444" stroke-width="0.45"/>
<line x1="31.1" y1="266.9" x2="32.4" y2="266.9" stroke="#444" stroke-width="0.45"/>
<text x="59.9" y="301.1" font-size="4.2" text-anchor="middle" stroke="#111" stroke-width="0.2" fill="#111" >1200</text>
<text x="30.4" y="268.4" font-size="4.2" text-anchor="end" stroke="#111" stroke-width="0.2" fill="#111" >1200</text>
<line x1="73.6" y1="293.8" x2="73.6" y2="295.1" stroke="#444" stroke-width="0.45"/>
<line x1="31.1" y1="253.5" x2="32.4" y2="253.5" stroke="#444" stroke-width="0.45"/>
<text x="73.6" y="301.1" font-size="4.2" text-anchor="middle" stroke="#111" stroke-width="0.2" fill="#111" >1600</text>
<text x="30.4" y="254.9" font-size="4.2" text-anchor="end" stroke="#111" stroke-width="0.2" fill="#111" >1600</text>
<line x1="87.3" y1="293.8" x2="87.3" y2="295.1" stroke="#444" stroke-width="0.45"/>
<line x1="31.1" y1="240" x2="32.4" y2="240" stroke="#444" stroke-width="0.45"/>
<text x="87.3" y="301.1" font-size="4.2" text-anchor="middle" stroke="#111" stroke-width="0.2" fill="#111" >2000</text>
<text x="30.4" y="241.5" font-size="4.2" text-anchor="end" stroke="#111" stroke-width="0.2" fill="#111" >2000</text>
<line x1="101.1" y1="293.8" x2="101.1" y2="295.1" stroke="#444" stroke-width="0.45"/>
<line x1="31.1" y1="226.6" x2="32.4" y2="226.6" stroke="#444" stroke-width="0.45"/>
<text x="101.1" y="301.1" font-size="4.2" text-anchor="middle" stroke="#111" stroke-width="0.2" fill="#111" >2400</text>
<text x="30.4" y="228" font-size="4.2" text-anchor="end" stroke="#111" stroke-width="0.2" fill="#111" >2400</text>
<line x1="114.8" y1="293.8" x2="114.8" y2="295.1" stroke="#444" stroke-width="0.45"/>
<line x1="31.1" y1="213.1" x2="32.4" y2="213.1" stroke="#444" stroke-width="0.45"/>
<text x="114.8" y="301.1" font-size="4.2" text-anchor="middle" stroke="#111" stroke-width="0.2" fill="#111" >2800</text>
<text x="30.4" y="214.6" font-size="4.2" text-anchor="end" stroke="#111" stroke-width="0.2" fill="#111" >2800</text>
<line x1="128.5" y1="293.8" x2="128.5" y2="295.1" stroke="#444" stroke-width="0.45"/>
<line x1="31.1" y1="199.7" x2="32.4" y2="199.7" stroke="#444" stroke-width="0.45"/>
<text x="128.5" y="301.1" font-size="4.2" text-anchor="middle" stroke="#111" stroke-width="0.2" fill="#111" >3200</text>
<text x="30.4" y="201.1" font-size="4.2" text-anchor="end" stroke="#111" stroke-width="0.2" fill="#111" >3200</text>
<line x1="142.3" y1="293.8" x2="142.3" y2="295.1" stroke="#444" stroke-width="0.45"/>
<line x1="31.1" y1="186.2" x2="32.4" y2="186.2" stroke="#444" stroke-width="0.45"/>
<text x="142.3" y="301.1" font-size="4.2" text-anchor="middle" stroke="#111" stroke-width="0.2" fill="#111" >3600</text>
<text x="30.4" y="187.7" font-size="4.2" text-anchor="end" stroke="#111" stroke-width="0.2" fill="#111" >3600</text>
<line x1="156" y1="293.8" x2="156" y2="295.1" stroke="#444" stroke-width="0.45"/>
<line x1="31.1" y1="172.8" x2="32.4" y2="172.8" stroke="#444" stroke-width="0.45"/>
<text x="156" y="301.1" font-size="4.2" text-anchor="middle" stroke="#111" stroke-width="0.2" fill="#111" >4000</text>
<text x="30.4" y="174.2" font-size="4.2" text-anchor="end" stroke="#111" stroke-width="0.2" fill="#111" >4000</text>
<text x="94.2" y="309.3" font-size="5.3" text-anchor="middle" font-weight="bold" stroke="#111" stroke-width="0.12" fill="#111" >Wavenumbers (cm<tspan font-size="3.3" dy="-2">-1</tspan><tspan dy="2">)</tspan></text>
<text x="16.1" y="229.3" font-size="5.3" text-anchor="middle" font-weight="bold" stroke="#111" stroke-width="0.12" transform="rotate(-90 16.1 229.3)" fill="#111" >Wavenumbers (cm<tspan font-size="3.3" dy="-2">-1</tspan><tspan dy="2">)</tspan></text>
<text x="10" y="167.2" font-size="10.0" text-anchor="middle" font-weight="bold" stroke="#111" stroke-width="0.12" fill="#111" >(D)</text>
<path d="M32.7 183.5 L42.3 178.7 L49.5 184.3" fill="none" stroke="#1d3550" stroke-width="0.55" stroke-opacity="0.8"/>
<path d="M33 229.5 L40 226 L49.7 219.9 L53 226 L57 234.5 L57 244.9" fill="none" stroke="#1d3550" stroke-width="0.55" stroke-opacity="0.8"/>
<path d="M81.9 224 L85 234.5 L92 240 L100 244.9" fill="none" stroke="#1d3550" stroke-width="0.55" stroke-opacity="0.8"/>
<path d="M106.8 274.6 L98.9 285.1 L105.5 291.7" fill="none" stroke="#1d3550" stroke-width="0.55" stroke-opacity="0.8"/>
<path d="M144.8 274.6 L151.3 285.1 L144.8 291.7" fill="none" stroke="#1d3550" stroke-width="0.55" stroke-opacity="0.8"/>
<path d="M40 266 L44 270 L36 276 L40 282" fill="none" stroke="#1d3550" stroke-width="0.55" stroke-opacity="0.8"/>
<path d="M142 177 L150 182 L156 180" fill="none" stroke="#1d3550" stroke-width="0.55" stroke-opacity="0.8"/>
<defs><clipPath id="clipE"><rect x="215.3" y="172.5" width="124.9" height="121.5"/></clipPath></defs>
<g clip-path="url(#clipE)">
<rect x="215.3" y="172.5" width="124.9" height="121.5" fill="#1681c4"/>
<path d="M329.3 191.5L330.3 191.4L331.3 191.4L332.3 191.3L333.3 191.3L334.3 191.3L335.3 191.3L336.3 191.3L337.3 191.3L338.3 191.3L339.3 191.3L340.3 191.3L340.3 191.5L340.3 192.5L340.3 193.5L340.3 194.5L340.3 195.5L340.3 196.5L340.3 197.5L340.3 198.5L340.3 198.6L339.3 198.6L338.3 198.6L337.3 198.6L336.3 198.6L335.3 198.6L334.3 198.6L333.3 198.6L332.3 198.6L331.3 198.5L330.3 198.5L330.2 198.5L329.3 198.4L328.3 198.1L327.4 197.5L327.3 197.4L327 196.5L326.9 195.5L326.9 194.5L327 193.5L327.3 192.5L327.3 192.5L328.3 191.7L329.2 191.5ZM268.3 194.5L269.3 194.3L270.3 194.2L271.3 194.2L272.3 194.2L273.3 194.2L274.3 194.2L275.3 194.2L276.3 194.2L277.3 194.3L278.3 194.4L278.7 194.5L278.3 195L277.3 195.3L276.3 195.5L275.3 195.5L274.5 195.5L274.3 195.5L273.3 195.5L272.5 195.5L272.3 195.5L271.3 195.5L270.3 195.4L269.3 195.2L268.3 194.6L268.3 194.5ZM216.3 249.4L217.3 249.4L218.3 249.4L219.3 249.4L220.3 249.4L221.3 249.4L222.3 249.4L223.3 249.4L224.3 249.4L225.3 249.4L226.3 249.4L227.3 249.4L228.3 249.4L229.3 249.4L230.3 249.3L231.3 249.3L232.3 249.3L233.3 249.3L234.3 249.3L235.3 249.3L236.3 249.3L237.3 249.3L238.3 249.3L239.3 249.3L240.3 249.4L241.3 249.4L242.3 249.4L243.3 249.5L243.8 249.5L244.3 249.6L245.3 249.8L246.3 250L247.3 250.2L248.3 250.3L249.3 250.2L250.3 250.2L251.3 250.3L251.6 250.5L251.3 250.9L250.3 251.4L249.3 251.4L248.3 251.3L247.3 251.5L247 251.5L247.3 251.9L248.3 252.3L249.3 252.3L249.6 252.5L250.3 252.6L251.3 253.5L251.3 253.5L251.4 254.5L251.3 254.6L250.5 255.5L250.3 255.6L249.3 255.7L248.3 255.7L247.3 255.7L246.3 255.7L245.3 255.7L244.3 255.7L243.3 255.7L242.3 255.7L241.3 255.7L240.3 255.7L239.3 255.7L238.3 255.7L237.3 255.7L236.3 255.7L235.3 255.7L234.3 255.7L233.3 255.7L232.3 255.7L231.3 255.7L230.3 255.7L229.3 255.7L228.3 255.7L227.3 255.7L226.3 255.7L225.3 255.7L224.3 255.7L223.3 255.7L222.3 255.7L221.3 255.7L220.3 255.7L219.3 255.7L218.3 255.7L217.3 255.7L216.3 255.7L215.3 255.6L215.3 255.5L215.3 254.5L215.3 253.5L215.3 252.5L215.3 251.5L215.3 250.5L215.3 249.5L215.3 249.4ZM340.3 249.4L340.3 249.5L340.3 250.5L340.3 251.5L340.3 252.5L340.3 253.5L340.3 254.5L340.3 255.5L340.3 255.6L339.3 255.6L338.3 255.6L337.3 255.6L336.3 255.6L335.3 255.6L334.3 255.6L333.3 255.6L332.3 255.6L331.3 255.6L330.3 255.6L329.3 255.6L328.3 255.6L327.3 255.6L326.3 255.6L325.3 255.6L324.3 255.6L323.3 255.6L322.3 255.6L321.3 255.6L320.3 255.6L319.3 255.6L318.3 255.6L317.3 255.6L316.3 255.6L315.3 255.6L314.3 255.6L313.3 255.6L312.3 255.6L311.3 255.6L310.3 255.6L309.3 255.6L308.3 255.6L307.3 255.6L306.3 255.6L305.3 255.6L304.3 255.6L303.3 255.6L302.3 255.6L301.3 255.6L300.3 255.6L299.3 255.6L298.3 255.6L297.3 255.6L296.3 255.6L295.3 255.6L294.3 255.6L293.3 255.6L292.3 255.6L291.3 255.6L290.3 255.6L289.3 255.6L288.3 255.6L287.3 255.6L286.3 255.6L285.3 255.6L284.3 255.6L283.3 255.6L282.3 255.6L281.3 255.6L280.3 255.6L279.3 255.6L278.3 255.6L277.3 255.6L276.3 255.6L275.3 255.6L274.3 255.6L273.3 255.6L272.3 255.6L271.3 255.6L270.3 255.6L269.3 255.6L268.3 255.6L267.3 255.6L266.3 255.6L265.3 255.6L264.3 255.6L263.8 255.5L263.3 255.3L262.9 254.5L262.9 253.5L263.3 252.6L263.6 252.5L263.3 252.1L263.2 251.5L262.3 250.5L263.3 250L264.3 250L265.3 250L266.3 250L267.3 250L268.3 250L269.3 250L270.3 250L271.3 250L272.3 250L273.3 250L274.3 250L275.3 250L276.3 250L277.3 250L278.3 250L279.3 250L280.3 250L281.3 250L282.3 250L283.3 250L284.3 250L285.3 250L286.3 250L287.3 250L288.3 250L289.3 250L290.3 250L291.3 250L292.3 250L293.3 250L294.3 250L295.3 250L296.3 250L297.3 250L298.3 250L299.3 250L300.3 250L301.3 250L302.3 250L303.3 250L304.3 250L305.3 250L306.3 250L307.3 250L308.3 250L309.3 250L310.3 250L311.3 250L312.3 250L313.3 250.1L314.3 249.6L315.3 249.6L316.3 249.6L317.3 249.6L318.3 249.6L319.3 249.6L320.3 249.6L321.3 250.1L322.3 250L323.3 250L324.3 250L325.3 250L326.3 250L327.3 250L328.3 250L329.3 250L330.3 250L331.3 250L332.3 250L333.3 250L334.3 250L335.3 250L336.3 250L337.3 250L338.3 250L339.3 250L340.1 249.5Z" fill="#1681c4" stroke="#1681c4" stroke-width="0.25" fill-rule="evenodd"/>
<path d="M234.3 189.5L235 189.5L235.3 189.5L236.3 189.7L237.3 190L238 190.5L238.3 190.7L238.9 191.5L239.3 192.1L239.5 192.5L239.9 193.5L240.1 194.5L240.2 195.5L240.2 196.5L240.2 197.5L240.2 198.5L240.1 199.5L239.9 200.5L239.7 201.5L239.3 202.2L239.1 202.5L238.4 203.5L238.3 203.6L237.3 204.3L236.8 204.5L236.3 204.7L235.3 204.9L234.3 204.9L233.3 204.9L232.3 204.7L232 204.5L231.3 204.2L230.4 203.5L230.3 203.4L229.6 202.5L229.3 201.9L229.1 201.5L228.8 200.5L228.7 199.5L228.6 198.5L228.6 197.5L228.6 196.5L228.6 195.5L228.7 194.5L228.9 193.5L229.3 192.5L229.3 192.4L229.8 191.5L230.3 190.9L230.8 190.5L231.3 190.1L232.3 189.7L233.3 189.5L233.9 189.5ZM265.3 189.4L266.3 189.2L267.3 189.2L267.5 189.5L268.1 190.5L268.3 190.9L269.3 190.8L270.3 190.8L271.3 190.8L272.3 190.8L273.3 190.8L274.3 190.8L275.3 190.8L276.3 190.8L277.3 190.8L278.3 190.8L279.3 190.9L280.3 190.9L281.3 190.9L282.3 191L283.3 191L284.3 191L285.3 191L286.3 191L287.3 191L288.3 191L289.3 191L290.3 191L291.3 191L292.3 191L293.3 191L294.3 191L295.3 191L296.3 191L297.3 191.1L298.3 191.4L298.5 191.5L299 192.5L299.2 193.5L299.3 194.5L299.3 195.5L299.2 196.5L298.8 197.5L299.3 197.7L300.3 198.5L299.5 199.5L299.3 199.7L298.3 200L297.3 200.1L296.3 200.1L295.3 200.1L294.3 200.1L293.3 200.1L292.3 200.1L291.3 200.1L290.3 200.1L289.3 200.1L288.3 200.1L287.3 200.1L286.3 200.1L285.3 200.1L284.3 200.1L283.3 200.1L282.3 200.1L281.3 200.1L280.3 200.2L279.3 200.2L278.3 200.2L277.3 200.2L276.3 200.2L275.3 200.2L274.3 200.2L273.3 200.2L272.3 200.2L271.3 200.2L270.3 200.2L269.3 200.2L268.3 200.1L267.3 200.1L266.3 200.1L265.3 199.9L264.6 199.5L264.3 199.2L263.9 198.5L264.3 198.1L265.1 197.5L264.8 196.5L264.7 195.5L264.7 194.5L264.7 193.5L264.9 192.5L265.3 191.7L265.5 191.5L265.3 191.4L264.3 190.7L264.1 190.5L264.3 190.1L265.2 189.5ZM268.3 194.5L268.3 194.6L269.3 195.2L270.3 195.4L271.3 195.5L272.3 195.5L272.5 195.5L273.3 195.5L274.3 195.5L274.5 195.5L275.3 195.5L276.3 195.5L277.3 195.3L278.3 195L278.7 194.5L278.3 194.4L277.3 194.3L276.3 194.2L275.3 194.2L274.3 194.2L273.3 194.2L272.3 194.2L271.3 194.2L270.3 194.2L269.3 194.3L268.3 194.5ZM326.3 190.2L327.3 189.8L328.3 189.7L329.3 189.6L330.3 189.6L331.3 189.6L332.3 189.6L333.3 189.6L334.3 189.6L335.3 189.6L336.3 189.6L337.3 189.6L338.3 189.6L339.3 189.6L340.3 189.6L340.3 190.5L340.3 191.3L339.3 191.3L338.3 191.3L337.3 191.3L336.3 191.3L335.3 191.3L334.3 191.3L333.3 191.3L332.3 191.3L331.3 191.4L330.3 191.4L329.3 191.5L329.2 191.5L328.3 191.7L327.3 192.5L327.3 192.5L327 193.5L326.9 194.5L326.9 195.5L327 196.5L327.3 197.4L327.4 197.5L328.3 198.1L329.3 198.4L330.2 198.5L330.3 198.5L331.3 198.5L332.3 198.6L333.3 198.6L334.3 198.6L335.3 198.6L336.3 198.6L337.3 198.6L338.3 198.6L339.3 198.6L340.3 198.6L340.3 199.5L340.3 200.3L339.3 200.3L338.3 200.3L337.3 200.3L336.3 200.3L335.3 200.3L334.3 200.3L333.3 200.3L332.3 200.3L331.3 200.3L330.3 200.3L329.3 200.2L328.3 200.2L327.3 200.1L326.3 199.7L326 199.5L325.4 198.5L325.3 198.1L325.2 197.5L325.1 196.5L325.1 195.5L325.1 194.5L325.1 193.5L325.2 192.5L325.3 191.8L325.4 191.5L325.9 190.5ZM216.3 248.9L217.3 248.9L218.3 248.9L219.3 248.9L220.3 248.9L221.3 248.9L222.3 248.9L223.3 248.9L224.3 248.9L225.3 248.9L226.3 248.9L227.3 248.8L228.3 248.8L229.3 248.8L230.3 248.7L231.3 248.7L232.3 248.7L233.3 248.7L234.3 248.7L235.3 248.7L236.3 248.7L237.3 248.7L238.3 248.7L239.3 248.7L240.3 248.8L241.3 248.8L242.3 248.9L243.3 248.9L244.3 249L245.3 249.1L246.3 249.3L247.3 249.4L248.3 249.4L249.3 249.4L250.3 249.3L251.3 249.3L251.9 249.5L252.3 249.8L253 250.5L252.3 251.4L252.2 251.5L252.2 252.5L252.3 252.8L252.6 253.5L252.6 254.5L252.3 255.2L252.2 255.5L251.3 256.5L251.3 256.5L250.3 257.2L249.3 257.4L248.3 257.4L247.3 257.4L246.3 257.4L245.3 257.4L244.3 257.4L243.3 257.4L242.3 257.4L241.3 257.4L240.3 257.4L239.3 257.4L238.3 257.4L237.3 257.4L236.3 257.4L235.3 257.4L234.3 257.4L233.3 257.4L232.3 257.4L231.3 257.4L230.3 257.4L229.3 257.4L228.3 257.4L227.3 257.4L226.3 257.4L225.3 257.4L224.3 257.4L223.3 257.4L222.3 257.4L221.3 257.4L220.3 257.4L219.3 257.4L218.3 257.3L217.3 257.2L216.3 257L215.3 256.8L215.3 256.5L215.3 255.6L216.3 255.7L217.3 255.7L218.3 255.7L219.3 255.7L220.3 255.7L221.3 255.7L222.3 255.7L223.3 255.7L224.3 255.7L225.3 255.7L226.3 255.7L227.3 255.7L228.3 255.7L229.3 255.7L230.3 255.7L231.3 255.7L232.3 255.7L233.3 255.7L234.3 255.7L235.3 255.7L236.3 255.7L237.3 255.7L238.3 255.7L239.3 255.7L240.3 255.7L241.3 255.7L242.3 255.7L243.3 255.7L244.3 255.7L245.3 255.7L246.3 255.7L247.3 255.7L248.3 255.7L249.3 255.7L250.3 255.6L250.5 255.5L251.3 254.6L251.4 254.5L251.3 253.5L251.3 253.5L250.3 252.6L249.6 252.5L249.3 252.3L248.3 252.3L247.3 251.9L247 251.5L247.3 251.5L248.3 251.3L249.3 251.4L250.3 251.4L251.3 250.9L251.6 250.5L251.3 250.3L250.3 250.2L249.3 250.2L248.3 250.3L247.3 250.2L246.3 250L245.3 249.8L244.3 249.6L243.8 249.5L243.3 249.5L242.3 249.4L241.3 249.4L240.3 249.4L239.3 249.3L238.3 249.3L237.3 249.3L236.3 249.3L235.3 249.3L234.3 249.3L233.3 249.3L232.3 249.3L231.3 249.3L230.3 249.3L229.3 249.4L228.3 249.4L227.3 249.4L226.3 249.4L225.3 249.4L224.3 249.4L223.3 249.4L222.3 249.4L221.3 249.4L220.3 249.4L219.3 249.4L218.3 249.4L217.3 249.4L216.3 249.4L215.3 249.4L215.3 248.9ZM263.3 249.4L264.3 249.3L265.3 249.3L266.3 249.3L267.3 249.3L268.3 249.3L269.3 249.3L270.3 249.3L271.3 249.3L272.3 249.3L273.3 249.3L274.3 249.3L275.3 249.3L276.3 249.3L277.3 249.3L278.3 249.3L279.3 249.3L280.3 249.3L281.3 249.3L282.3 249.3L283.3 249.3L284.3 249.3L285.3 249.3L286.3 249.3L287.3 249.3L288.3 249.3L289.3 249.3L290.3 249.3L291.3 249.3L292.3 249.3L293.3 249.3L294.3 249.3L295.3 249.3L296.3 249.3L297.3 249.3L298.3 249.3L299.3 249.3L300.3 249.3L301.3 249.3L302.3 249.3L303.3 249.3L304.3 249.3L305.3 249.3L306.3 249.3L307.3 249.3L308.3 249.4L309.3 249.4L310.3 249.4L311.3 249.4L312.3 249.5L313.3 249.5L314.3 249L315.3 249L316.3 249L317.3 249L318.3 249L319.3 249L320.3 249L321.3 249.5L322.3 249.5L323.3 249.4L324.3 249.4L325.3 249.4L326.3 249.4L327.3 249.3L328.3 249.3L329.3 249.3L330.3 249.3L331.3 249.3L332.3 249.3L333.3 249.3L334.3 249.3L335.3 249.3L336.3 249.3L337.3 249.3L338.3 249.3L339.3 249.3L340.3 248.8L340.3 249.4L340.1 249.5L339.3 250L338.3 250L337.3 250L336.3 250L335.3 250L334.3 250L333.3 250L332.3 250L331.3 250L330.3 250L329.3 250L328.3 250L327.3 250L326.3 250L325.3 250L324.3 250L323.3 250L322.3 250L321.3 250.1L320.3 249.6L319.3 249.6L318.3 249.6L317.3 249.6L316.3 249.6L315.3 249.6L314.3 249.6L313.3 250.1L312.3 250L311.3 250L310.3 250L309.3 250L308.3 250L307.3 250L306.3 250L305.3 250L304.3 250L303.3 250L302.3 250L301.3 250L300.3 250L299.3 250L298.3 250L297.3 250L296.3 250L295.3 250L294.3 250L293.3 250L292.3 250L291.3 250L290.3 250L289.3 250L288.3 250L287.3 250L286.3 250L285.3 250L284.3 250L283.3 250L282.3 250L281.3 250L280.3 250L279.3 250L278.3 250L277.3 250L276.3 250L275.3 250L274.3 250L273.3 250L272.3 250L271.3 250L270.3 250L269.3 250L268.3 250L267.3 250L266.3 250L265.3 250L264.3 250L263.3 250L262.3 250.5L263.2 251.5L263.3 252.1L263.6 252.5L263.3 252.6L262.9 253.5L262.9 254.5L263.3 255.3L263.8 255.5L264.3 255.6L265.3 255.6L266.3 255.6L267.3 255.6L268.3 255.6L269.3 255.6L270.3 255.6L271.3 255.6L272.3 255.6L273.3 255.6L274.3 255.6L275.3 255.6L276.3 255.6L277.3 255.6L278.3 255.6L279.3 255.6L280.3 255.6L281.3 255.6L282.3 255.6L283.3 255.6L284.3 255.6L285.3 255.6L286.3 255.6L287.3 255.6L288.3 255.6L289.3 255.6L290.3 255.6L291.3 255.6L292.3 255.6L293.3 255.6L294.3 255.6L295.3 255.6L296.3 255.6L297.3 255.6L298.3 255.6L299.3 255.6L300.3 255.6L301.3 255.6L302.3 255.6L303.3 255.6L304.3 255.6L305.3 255.6L306.3 255.6L307.3 255.6L308.3 255.6L309.3 255.6L310.3 255.6L311.3 255.6L312.3 255.6L313.3 255.6L314.3 255.6L315.3 255.6L316.3 255.6L317.3 255.6L318.3 255.6L319.3 255.6L320.3 255.6L321.3 255.6L322.3 255.6L323.3 255.6L324.3 255.6L325.3 255.6L326.3 255.6L327.3 255.6L328.3 255.6L329.3 255.6L330.3 255.6L331.3 255.6L332.3 255.6L333.3 255.6L334.3 255.6L335.3 255.6L336.3 255.6L337.3 255.6L338.3 255.6L339.3 255.6L340.3 255.6L340.3 256.5L340.3 256.9L339.3 256.9L338.3 256.9L337.3 256.9L336.3 256.9L335.3 256.9L334.3 256.9L333.3 256.9L332.3 256.9L331.3 256.9L330.3 256.9L329.3 256.9L328.3 256.9L327.3 256.9L326.3 256.9L325.3 256.9L324.3 256.9L323.3 256.9L322.3 256.9L321.3 256.9L320.3 256.9L319.3 256.9L318.3 256.9L317.3 256.9L316.3 256.9L315.3 256.9L314.3 256.9L313.3 256.9L312.3 256.9L311.3 256.9L310.3 256.9L309.3 256.9L308.3 256.9L307.3 256.9L306.3 256.9L305.3 256.9L304.3 256.9L303.3 256.9L302.3 256.9L301.3 256.9L300.3 256.9L299.3 256.9L298.3 256.9L297.3 256.9L296.3 256.9L295.3 256.9L294.3 256.9L293.3 256.9L292.3 256.9L291.3 256.9L290.3 256.9L289.3 256.9L288.3 256.9L287.3 256.9L286.3 256.9L285.3 256.9L284.3 256.9L283.3 256.9L282.3 256.9L281.3 256.9L280.3 256.9L279.3 256.9L278.3 256.9L277.3 256.9L276.3 256.9L275.3 256.9L274.3 256.9L273.3 256.9L272.3 256.9L271.3 256.9L270.3 257L269.3 257L268.3 257L267.3 257.1L266.3 257.1L265.3 257.1L264.3 257.1L263.3 256.8L263 256.5L262.3 255.7L262.2 255.5L261.9 254.5L261.9 253.5L262.1 252.5L262.1 251.5L261.6 250.5L262.3 249.9L263.1 249.5ZM232.3 285.4L233.3 284.8L234.3 284.8L235.2 285.5L235.3 285.6L236.1 286.5L236.2 287.5L236.2 288.5L236.2 289.5L235.8 290.5L235.3 291.1L234.6 291.5L234.3 291.7L233.3 291.9L232.8 291.5L232.3 291.3L231.5 290.5L231.4 289.5L231.3 288.8L231.2 288.5L231.3 287.9L231.3 287.5L231.4 286.5L232.2 285.5Z" fill="#43a6d7" stroke="#43a6d7" stroke-width="0.25" fill-rule="evenodd"/>
<path d="M230.3 186.4L231.3 186.1L232.3 186L233.3 185.9L234.3 185.9L235.3 185.9L236.3 185.9L237.3 186L238.3 186.2L239.3 186.5L239.4 186.5L240.3 187L241 187.5L241.3 187.8L241.9 188.5L242.3 189.1L242.5 189.5L242.9 190.5L243.2 191.5L243.3 191.9L243.4 192.5L243.5 193.5L243.6 194.5L243.6 195.5L243.6 196.5L243.6 197.5L243.6 198.5L243.6 199.5L243.6 200.5L243.5 201.5L243.4 202.5L243.3 203.1L243.2 203.5L242.9 204.5L242.6 205.5L242.3 206L242.1 206.5L241.6 207.5L241.3 208.3L241.2 208.5L240.9 209.5L240.5 210.5L240.3 210.9L239.9 211.5L239.3 212.3L239 212.5L238.3 212.9L237.3 213.2L236.3 213.2L235.3 213.3L234.3 213.3L233.3 213.3L232.3 213.2L231.3 213L230.3 212.5L230.3 212.5L229.3 211.5L229.3 211.5L228.8 210.5L228.4 209.5L228.3 209.1L228.1 208.5L227.8 207.5L227.3 206.5L227.3 206.5L226.8 205.5L226.5 204.5L226.3 204L226.2 203.5L226 202.5L225.9 201.5L225.8 200.5L225.8 199.5L225.8 198.5L225.8 197.5L225.8 196.5L225.8 195.5L225.8 194.5L225.9 193.5L226 192.5L226.2 191.5L226.3 191L226.5 190.5L226.9 189.5L227.3 188.7L227.5 188.5L228.3 187.5L228.3 187.5L229.3 186.8L230 186.5ZM233.9 189.5L233.3 189.5L232.3 189.7L231.3 190.1L230.8 190.5L230.3 190.9L229.8 191.5L229.3 192.4L229.3 192.5L228.9 193.5L228.7 194.5L228.6 195.5L228.6 196.5L228.6 197.5L228.6 198.5L228.7 199.5L228.8 200.5L229.1 201.5L229.3 201.9L229.6 202.5L230.3 203.4L230.4 203.5L231.3 204.2L232 204.5L232.3 204.7L233.3 204.9L234.3 204.9L235.3 204.9L236.3 204.7L236.8 204.5L237.3 204.3L238.3 203.6L238.4 203.5L239.1 202.5L239.3 202.2L239.7 201.5L239.9 200.5L240.1 199.5L240.2 198.5L240.2 197.5L240.2 196.5L240.2 195.5L240.1 194.5L239.9 193.5L239.5 192.5L239.3 192.1L238.9 191.5L238.3 190.7L238 190.5L237.3 190L236.3 189.7L235.3 189.5L235 189.5L234.3 189.5ZM264.3 186.8L265.3 186.6L266.3 186.6L267.3 186.5L267.7 187.5L268.1 188.5L268.3 188.9L269.3 188.9L270.3 188.9L271.3 188.9L272.3 188.9L273.3 188.9L274.3 188.9L275.3 188.9L276.3 188.9L277.3 188.9L278.3 188.9L279.3 188.9L280.3 188.9L281.3 188.9L282.3 188.9L283.3 188.9L284.3 188.9L285.3 188.9L286.3 188.9L287.3 188.9L288.3 188.9L289.3 188.9L290.3 188.9L291.3 188.9L292.3 188.9L293.3 188.9L294.3 188.9L295.3 188.9L296.3 188.9L297.3 189L298.3 189.1L299.3 189.4L299.4 189.5L300.3 190.5L300.3 190.5L300.6 191.5L300.7 192.5L300.8 193.5L300.8 194.5L300.8 195.5L300.7 196.5L300.7 197.5L301.3 198.1L301.6 198.5L301.5 199.5L301.3 200.5L301.3 200.7L300.7 201.5L300.3 201.8L299.3 202.1L298.3 202.2L297.3 202.3L296.3 202.3L295.3 202.3L294.3 202.3L293.3 202.3L292.3 202.3L291.3 202.3L290.3 202.3L289.3 202.3L288.3 202.3L287.3 202.3L286.3 202.3L285.3 202.3L284.3 202.3L283.3 202.3L282.3 202.3L281.3 202.3L280.3 202.3L279.3 202.3L278.3 202.3L277.3 202.3L276.3 202.3L275.3 202.3L274.3 202.3L273.3 202.3L272.3 202.3L271.3 202.3L270.3 202.3L269.3 202.3L268.3 202.3L267.3 202.3L266.3 202.3L265.3 202.2L264.3 202L263.7 201.5L263.3 201L263.2 200.5L263 199.5L262.9 198.5L263.3 197.8L263.6 197.5L263.5 196.5L263.4 195.5L263.4 194.5L263.5 193.5L263.5 192.5L263.6 191.5L263.3 191.2L262.9 190.5L263 189.5L263.2 188.5L263.3 187.9L263.6 187.5ZM265.2 189.5L264.3 190.1L264.1 190.5L264.3 190.7L265.3 191.4L265.5 191.5L265.3 191.7L264.9 192.5L264.7 193.5L264.7 194.5L264.7 195.5L264.8 196.5L265.1 197.5L264.3 198.1L263.9 198.5L264.3 199.2L264.6 199.5L265.3 199.9L266.3 200.1L267.3 200.1L268.3 200.1L269.3 200.2L270.3 200.2L271.3 200.2L272.3 200.2L273.3 200.2L274.3 200.2L275.3 200.2L276.3 200.2L277.3 200.2L278.3 200.2L279.3 200.2L280.3 200.2L281.3 200.1L282.3 200.1L283.3 200.1L284.3 200.1L285.3 200.1L286.3 200.1L287.3 200.1L288.3 200.1L289.3 200.1L290.3 200.1L291.3 200.1L292.3 200.1L293.3 200.1L294.3 200.1L295.3 200.1L296.3 200.1L297.3 200.1L298.3 200L299.3 199.7L299.5 199.5L300.3 198.5L299.3 197.7L298.8 197.5L299.2 196.5L299.3 195.5L299.3 194.5L299.2 193.5L299 192.5L298.5 191.5L298.3 191.4L297.3 191.1L296.3 191L295.3 191L294.3 191L293.3 191L292.3 191L291.3 191L290.3 191L289.3 191L288.3 191L287.3 191L286.3 191L285.3 191L284.3 191L283.3 191L282.3 191L281.3 190.9L280.3 190.9L279.3 190.9L278.3 190.8L277.3 190.8L276.3 190.8L275.3 190.8L274.3 190.8L273.3 190.8L272.3 190.8L271.3 190.8L270.3 190.8L269.3 190.8L268.3 190.9L268.1 190.5L267.5 189.5L267.3 189.2L266.3 189.2L265.3 189.4ZM340.3 187.9L340.3 188.5L340.3 189.5L340.3 189.6L339.3 189.6L338.3 189.6L337.3 189.6L336.3 189.6L335.3 189.6L334.3 189.6L333.3 189.6L332.3 189.6L331.3 189.6L330.3 189.6L329.3 189.6L328.3 189.7L327.3 189.8L326.3 190.2L325.9 190.5L325.4 191.5L325.3 191.8L325.2 192.5L325.1 193.5L325.1 194.5L325.1 195.5L325.1 196.5L325.2 197.5L325.3 198.1L325.4 198.5L326 199.5L326.3 199.7L327.3 200.1L328.3 200.2L329.3 200.2L330.3 200.3L331.3 200.3L332.3 200.3L333.3 200.3L334.3 200.3L335.3 200.3L336.3 200.3L337.3 200.3L338.3 200.3L339.3 200.3L340.3 200.3L340.3 200.5L340.3 201.5L340.3 202L339.3 202L338.3 202L337.3 202L336.3 202L335.3 202L334.3 202L333.3 202L332.3 202L331.3 202L330.3 202L329.3 202L328.3 202L327.3 202L326.3 201.9L325.3 201.6L325.2 201.5L324.3 200.9L324 200.5L323.6 199.5L323.5 198.5L323.4 197.5L323.4 196.5L323.4 195.5L323.4 194.5L323.4 193.5L323.4 192.5L323.5 191.5L323.7 190.5L324.2 189.5L324.3 189.5L325.3 189.2L326.3 189L327.3 188.9L328.3 188.9L329.3 188.9L330.3 188.9L331.3 188.9L332.3 188.9L333.3 188.9L334.3 188.9L335.3 188.9L336.3 188.9L337.3 188.9L338.3 188.9L339.3 188.9L340 188.5ZM272.3 213.3L273.2 213.5L273.3 213.5L274.3 214.3L274.5 214.5L275.3 215.2L275.5 215.5L276.3 216.3L276.5 216.5L277.3 217.4L277.4 217.5L278.3 218.4L278.4 218.5L279.3 219.4L279.4 219.5L280.3 220.5L280.3 220.5L281.2 221.5L281.3 221.6L282.1 222.5L282.3 222.7L283 223.5L283.3 223.9L283.9 224.5L284.3 225.1L284.5 225.5L284.3 225.7L283.6 226.5L283.3 226.8L282.6 227.5L282.3 227.8L281.6 228.5L281.3 228.8L280.6 229.5L280.3 229.8L279.5 230.5L279.3 230.7L278.5 231.5L278.3 231.7L277.4 232.5L277.3 232.6L276.3 233.4L276.2 233.5L275.3 234.1L274.6 234.5L274.3 234.6L273.3 234.9L272.3 234.7L272 234.5L271.4 233.5L271.3 232.8L271.3 232.5L271.2 231.5L271.2 230.5L271.2 229.5L271.2 228.5L271.2 227.5L271.2 226.5L271.2 225.5L271.2 224.5L271.2 223.5L271.2 222.5L271.2 221.5L271.2 220.5L271.2 219.5L271.2 218.5L271.2 217.5L271.2 216.5L271.2 215.5L271.3 214.8L271.3 214.5L271.9 213.5ZM216.3 248.3L217.3 248.3L218.3 248.3L219.3 248.3L220.3 248.3L221.3 248.3L222.3 248.3L223.3 248.3L224.3 248.3L225.3 248.3L226.3 248.3L227.3 248.2L228.3 248.1L229.3 248L230.3 248L231.3 248L232.3 248L233.3 247.9L234.3 247.9L235.3 247.9L236.3 247.9L237.3 248L238.3 248L239.3 248L240.3 248.1L241.3 248.2L242.3 248.3L243.3 248.3L244.3 248.5L244.5 248.5L245.3 248.6L246.3 248.8L247.3 248.9L248.3 249L249.3 248.9L250.3 248.8L251.3 248.8L252.3 249.1L253.3 249.5L253.3 249.5L254.1 250.5L253.4 251.5L253.4 252.5L253.7 253.5L253.7 254.5L253.3 255.5L253.3 255.5L252.4 256.5L252.3 256.6L251.5 257.5L251.3 257.8L250.3 258.5L250.1 258.5L249.3 258.7L248.3 258.8L247.3 258.8L246.3 258.9L245.3 258.9L244.3 258.9L243.3 258.9L242.3 258.9L241.3 258.9L240.3 258.9L239.3 258.9L238.3 258.9L237.3 258.9L236.3 258.9L235.3 258.9L234.3 258.9L233.3 258.9L232.3 258.9L231.3 258.9L230.3 258.9L229.3 258.9L228.3 258.9L227.3 258.9L226.3 258.9L225.3 258.9L224.3 258.9L223.3 258.9L222.3 258.8L221.3 258.8L220.3 258.8L219.3 258.6L218.6 258.5L218.3 258.4L217.3 258.2L216.3 257.9L215.3 257.7L215.3 257.5L215.3 256.8L216.3 257L217.3 257.2L218.3 257.3L219.3 257.4L220.3 257.4L221.3 257.4L222.3 257.4L223.3 257.4L224.3 257.4L225.3 257.4L226.3 257.4L227.3 257.4L228.3 257.4L229.3 257.4L230.3 257.4L231.3 257.4L232.3 257.4L233.3 257.4L234.3 257.4L235.3 257.4L236.3 257.4L237.3 257.4L238.3 257.4L239.3 257.4L240.3 257.4L241.3 257.4L242.3 257.4L243.3 257.4L244.3 257.4L245.3 257.4L246.3 257.4L247.3 257.4L248.3 257.4L249.3 257.4L250.3 257.2L251.3 256.5L251.3 256.5L252.2 255.5L252.3 255.2L252.6 254.5L252.6 253.5L252.3 252.8L252.2 252.5L252.2 251.5L252.3 251.4L253 250.5L252.3 249.8L251.9 249.5L251.3 249.3L250.3 249.3L249.3 249.4L248.3 249.4L247.3 249.4L246.3 249.3L245.3 249.1L244.3 249L243.3 248.9L242.3 248.9L241.3 248.8L240.3 248.8L239.3 248.7L238.3 248.7L237.3 248.7L236.3 248.7L235.3 248.7L234.3 248.7L233.3 248.7L232.3 248.7L231.3 248.7L230.3 248.7L229.3 248.8L228.3 248.8L227.3 248.8L226.3 248.9L225.3 248.9L224.3 248.9L223.3 248.9L222.3 248.9L221.3 248.9L220.3 248.9L219.3 248.9L218.3 248.9L217.3 248.9L216.3 248.9L215.3 248.9L215.3 248.5L215.3 248.3ZM314.3 248.5L314.4 248.5L315.3 248.5L316.3 248.5L317.3 248.5L318.3 248.5L319.3 248.5L320.3 248.5L320.3 248.5L320.3 248.5L321.3 249L322.3 248.9L323.3 248.9L324.3 248.9L325.3 248.8L326.3 248.8L327.3 248.7L328.3 248.7L329.3 248.7L330.3 248.7L331.3 248.7L332.3 248.7L333.3 248.7L334.3 248.7L335.3 248.7L336.3 248.7L337.3 248.7L338.3 248.7L339.3 248.7L339.6 248.5L340.3 247.9L340.3 248.5L340.3 248.8L339.3 249.3L338.3 249.3L337.3 249.3L336.3 249.3L335.3 249.3L334.3 249.3L333.3 249.3L332.3 249.3L331.3 249.3L330.3 249.3L329.3 249.3L328.3 249.3L327.3 249.3L326.3 249.4L325.3 249.4L324.3 249.4L323.3 249.4L322.3 249.5L321.3 249.5L320.3 249L319.3 249L318.3 249L317.3 249L316.3 249L315.3 249L314.3 249L313.3 249.5L312.3 249.5L311.3 249.4L310.3 249.4L309.3 249.4L308.3 249.4L307.3 249.3L306.3 249.3L305.3 249.3L304.3 249.3L303.3 249.3L302.3 249.3L301.3 249.3L300.3 249.3L299.3 249.3L298.3 249.3L297.3 249.3L296.3 249.3L295.3 249.3L294.3 249.3L293.3 249.3L292.3 249.3L291.3 249.3L290.3 249.3L289.3 249.3L288.3 249.3L287.3 249.3L286.3 249.3L285.3 249.3L284.3 249.3L283.3 249.3L282.3 249.3L281.3 249.3L280.3 249.3L279.3 249.3L278.3 249.3L277.3 249.3L276.3 249.3L275.3 249.3L274.3 249.3L273.3 249.3L272.3 249.3L271.3 249.3L270.3 249.3L269.3 249.3L268.3 249.3L267.3 249.3L266.3 249.3L265.3 249.3L264.3 249.3L263.3 249.4L263.1 249.5L262.3 249.9L261.6 250.5L262.1 251.5L262.1 252.5L261.9 253.5L261.9 254.5L262.2 255.5L262.3 255.7L263 256.5L263.3 256.8L264.3 257.1L265.3 257.1L266.3 257.1L267.3 257.1L268.3 257L269.3 257L270.3 257L271.3 256.9L272.3 256.9L273.3 256.9L274.3 256.9L275.3 256.9L276.3 256.9L277.3 256.9L278.3 256.9L279.3 256.9L280.3 256.9L281.3 256.9L282.3 256.9L283.3 256.9L284.3 256.9L285.3 256.9L286.3 256.9L287.3 256.9L288.3 256.9L289.3 256.9L290.3 256.9L291.3 256.9L292.3 256.9L293.3 256.9L294.3 256.9L295.3 256.9L296.3 256.9L297.3 256.9L298.3 256.9L299.3 256.9L300.3 256.9L301.3 256.9L302.3 256.9L303.3 256.9L304.3 256.9L305.3 256.9L306.3 256.9L307.3 256.9L308.3 256.9L309.3 256.9L310.3 256.9L311.3 256.9L312.3 256.9L313.3 256.9L314.3 256.9L315.3 256.9L316.3 256.9L317.3 256.9L318.3 256.9L319.3 256.9L320.3 256.9L321.3 256.9L322.3 256.9L323.3 256.9L324.3 256.9L325.3 256.9L326.3 256.9L327.3 256.9L328.3 256.9L329.3 256.9L330.3 256.9L331.3 256.9L332.3 256.9L333.3 256.9L334.3 256.9L335.3 256.9L336.3 256.9L337.3 256.9L338.3 256.9L339.3 256.9L340.3 256.9L340.3 257.5L340.3 258.5L340.3 258.6L339.3 258.6L338.3 258.6L337.3 258.6L336.3 258.6L335.3 258.6L334.3 258.6L333.3 258.6L332.3 258.6L331.3 258.6L330.3 258.6L329.3 258.6L328.3 258.6L327.3 258.6L326.3 258.6L325.3 258.6L324.3 258.6L323.3 258.6L322.3 258.6L321.3 258.6L320.3 258.6L319.3 258.6L318.3 258.6L317.3 258.6L316.3 258.6L315.3 258.6L314.3 258.6L313.3 258.6L312.3 258.6L311.3 258.6L310.3 258.6L309.3 258.6L308.3 258.6L307.3 258.6L306.3 258.6L305.3 258.6L304.3 258.6L303.3 258.6L302.3 258.6L301.3 258.6L300.3 258.6L299.3 258.6L298.3 258.6L297.3 258.6L296.3 258.6L295.3 258.6L294.3 258.6L293.3 258.6L292.3 258.6L291.3 258.6L290.3 258.6L289.3 258.6L288.3 258.6L287.3 258.6L286.3 258.6L285.3 258.6L284.3 258.6L283.3 258.6L282.3 258.6L281.3 258.6L280.3 258.6L279.3 258.6L278.3 258.6L277.3 258.6L276.3 258.7L275.3 258.7L274.3 258.8L273.3 258.8L272.3 258.9L271.3 258.9L270.3 259.2L269.7 259.5L270.3 260.1L270.8 260.5L271.3 261.2L271.9 261.5L271.3 261.8L270.6 262.5L270.3 262.6L269.4 263.5L269.3 263.6L268.3 264.4L268.1 264.5L267.3 264.8L266.3 264.9L265.3 264.9L264.3 264.9L263.7 264.5L263.3 264.3L263.1 263.5L262.9 262.5L262.8 261.5L262.9 260.5L263.1 259.5L263 258.5L262.7 257.5L262.3 257L262 256.5L261.5 255.5L261.3 254.6L261.3 254.5L261.3 253.5L261.3 253.4L261.5 252.5L261.4 251.5L261.3 251.2L260.8 250.5L261.3 250.2L262 249.5L262.3 249.2L263.3 248.8L264.3 248.7L265.3 248.7L266.3 248.7L267.3 248.7L268.3 248.7L269.3 248.7L270.3 248.7L271.3 248.7L272.3 248.7L273.3 248.7L274.3 248.7L275.3 248.7L276.3 248.7L277.3 248.7L278.3 248.7L279.3 248.7L280.3 248.7L281.3 248.7L282.3 248.7L283.3 248.7L284.3 248.7L285.3 248.7L286.3 248.7L287.3 248.7L288.3 248.7L289.3 248.7L290.3 248.7L291.3 248.7L292.3 248.7L293.3 248.7L294.3 248.7L295.3 248.7L296.3 248.7L297.3 248.7L298.3 248.7L299.3 248.7L300.3 248.7L301.3 248.7L302.3 248.7L303.3 248.7L304.3 248.7L305.3 248.7L306.3 248.7L307.3 248.7L308.3 248.7L309.3 248.8L310.3 248.8L311.3 248.9L312.3 248.9L313.3 248.9L314.3 248.5ZM233.3 281.2L234.3 281.2L235.3 281.3L236.1 281.5L236.3 281.5L237.3 281.9L238.3 282.4L238.5 282.5L239.3 283L240.1 283.5L240.3 283.6L241.3 284.3L241.6 284.5L242.3 285L242.9 285.5L243.3 285.8L244.2 286.5L244.3 286.6L245.3 287.4L245.4 287.5L246.3 288.3L246.5 288.5L247.3 289.2L247.7 289.5L248.3 290.1L248.8 290.5L249.3 291L249.7 291.5L250.3 292.3L250.4 292.5L250.6 293.5L250.6 294.5L250.3 294.5L249.3 294.5L248.3 294.5L247.3 294.5L246.3 294.5L245.3 294.5L244.3 294.5L243.3 294.5L242.3 294.5L241.3 294.5L240.3 294.5L239.3 294.5L238.3 294.5L237.3 294.5L236.3 294.5L235.3 294.5L234.3 294.5L233.3 294.5L232.3 294.5L231.3 294.5L230.3 294.5L229.3 294.5L228.3 294.5L227.3 294.5L226.3 294.5L225.3 294.5L224.3 294.5L223.3 294.5L222.3 294.5L221.3 294.5L220.3 294.5L219.3 294.5L218.3 294.5L217.3 294.5L216.3 294.5L216 294.5L216.3 294.2L217 293.5L217.3 293.2L218.1 292.5L218.3 292.3L219.2 291.5L219.3 291.4L220.3 290.5L220.3 290.5L221.3 289.6L221.4 289.5L222.3 288.8L222.6 288.5L223.3 287.9L223.8 287.5L224.3 287.1L225 286.5L225.3 286.3L226.2 285.5L226.3 285.4L227.3 284.7L227.5 284.5L228.3 283.9L228.8 283.5L229.3 283.1L230.2 282.5L230.3 282.4L231.3 281.8L232.3 281.5L232.3 281.5ZM232.2 285.5L231.4 286.5L231.3 287.5L231.3 287.9L231.2 288.5L231.3 288.8L231.4 289.5L231.5 290.5L232.3 291.3L232.8 291.5L233.3 291.9L234.3 291.7L234.6 291.5L235.3 291.1L235.8 290.5L236.2 289.5L236.2 288.5L236.2 287.5L236.1 286.5L235.3 285.6L235.2 285.5L234.3 284.8L233.3 284.8L232.3 285.4Z" fill="#a3d2e7" stroke="#a3d2e7" stroke-width="0.25" fill-rule="evenodd"/>
<path d="M263.3 173.1L264.3 173L265.3 173L266.3 173L267.3 173L267.8 173.5L267.8 174.5L267.8 175.5L267.8 176.5L267.8 177.5L267.8 178.5L267.8 179.5L267.8 180.5L267.8 181.5L267.8 182.5L267.8 183.5L267.9 184.5L268.1 185.5L268.3 186.2L269.3 186.2L270.3 186.2L271.3 186.2L272.3 186.2L273.3 186.2L274.3 186.2L275.3 186.2L276.3 186.2L277.3 186.2L278.3 186.2L279.3 186.2L280.3 186.2L281.3 186.2L282.3 186.2L283.3 186.2L284.3 186.2L285.3 186.2L286.3 186.2L287.3 186.2L288.3 186.2L289.3 186.2L290.3 186.2L291.3 186.2L292.3 186.2L293.3 186.2L294.3 186.2L295.3 186.2L296.3 186.2L297.3 186.2L298.3 186.3L299.3 186.4L299.8 186.5L300.3 186.7L301.2 187.5L301.3 187.7L301.7 188.5L302 189.5L302.2 190.5L302.3 191.5L302.3 192.5L302.3 193.4L302.3 193.5L302.3 194.5L302.3 195.5L302.3 195.9L302.3 196.5L302.3 197.5L302.3 198.5L302.2 199.5L302.2 200.5L302.1 201.5L302 202.5L301.9 203.5L301.8 204.5L301.8 205.5L301.8 206.5L301.8 207.5L301.8 208.5L302.3 209L302.8 208.5L303.3 208L303.8 207.5L304.3 207L304.8 206.5L305.3 206L305.8 205.5L306.3 205L307.3 205L307.8 204.5L308.3 204L308.8 203.5L309.3 203L309.8 202.5L310.3 202L310.8 201.5L311.3 201L311.8 200.5L312.3 200L312.8 199.5L313.3 199L313.8 198.5L314.3 198L314.8 197.5L315.3 197L315.8 196.5L316.3 196L316.8 195.5L317.3 195L317.8 194.5L318.3 194L318.8 193.5L319.3 193L319.8 192.5L320.3 192L320.8 191.5L321.3 191L321.8 190.5L322.3 190L322.8 189.5L323.1 188.5L323.3 187.8L323.6 187.5L324.2 186.5L324.3 186L324.5 185.5L324.6 184.5L324.6 183.5L324.6 182.5L324.7 181.5L324.7 180.5L324.7 179.5L324.7 178.5L324.7 177.5L324.7 176.5L324.7 175.5L324.7 174.5L324.7 173.5L325.3 173.3L326.3 173.1L327.3 173L328.3 173L329.3 173L330.3 173L331.3 173L332.3 173L333.3 173L334.3 173L335.3 173L336.3 173L337.3 173L338.3 173L338.8 173.5L338.3 174L337.8 174.5L337.3 175L336.8 175.5L336.3 176L335.8 176.5L335.3 177L334.8 177.5L334.3 178L333.8 178.5L333.3 179L332.8 179.5L332.3 180L331.8 180.5L331.3 181L330.8 181.5L330.3 182L329.8 182.5L329.3 183L328.8 183.5L328.3 184L327.8 184.5L327.3 185L326.8 185.5L326.3 186L325.8 186.5L325.3 187L324.8 187.5L324.3 188L323.8 188.5L324.3 188.7L325 188.5L325.3 188.3L326.3 187.9L327.3 187.7L328.3 187.7L329.3 187.7L330.3 187.7L331.3 187.7L332.3 187.7L333.3 187.7L334.3 187.7L335.3 187.7L336.3 187.7L337.3 187.7L338.3 187.7L339.3 187.7L339.4 187.5L339.6 186.5L339.8 185.5L339.8 184.5L339.8 183.5L339.8 182.5L339.8 181.5L339.8 180.5L339.8 179.5L339.8 178.5L339.8 177.5L339.8 176.5L339.8 175.5L339.8 174.5L339.8 173.5L339.8 172.5L340.3 172.5L340.3 173.5L340.3 174.5L340.3 175.5L340.3 176.5L340.3 177.5L340.3 178.5L340.3 179.5L340.3 180.5L340.3 181.5L340.3 182.5L340.3 183.5L340.3 184.5L340.3 185.5L340.3 186.5L340.3 187.5L340.3 187.9L340 188.5L339.3 188.9L338.3 188.9L337.3 188.9L336.3 188.9L335.3 188.9L334.3 188.9L333.3 188.9L332.3 188.9L331.3 188.9L330.3 188.9L329.3 188.9L328.3 188.9L327.3 188.9L326.3 189L325.3 189.2L324.3 189.5L324.2 189.5L323.7 190.5L323.5 191.5L323.4 192.5L323.4 193.5L323.4 194.5L323.4 195.5L323.4 196.5L323.4 197.5L323.5 198.5L323.6 199.5L324 200.5L324.3 200.9L325.2 201.5L325.3 201.6L326.3 201.9L327.3 202L328.3 202L329.3 202L330.3 202L331.3 202L332.3 202L333.3 202L334.3 202L335.3 202L336.3 202L337.3 202L338.3 202L339.3 202L340.3 202L340.3 202.5L340.3 203.5L340.3 204.5L340.3 205.5L340.3 206.5L340.3 207.5L340.3 208.5L340.3 209.5L340.3 210.5L340.3 211.5L340.3 212.5L340.3 213.5L340.3 214.5L340.3 215.5L340.3 216.5L340.3 217.5L340.3 218.5L340.3 219.5L340.3 220.5L340.3 221.5L340.3 222.5L340.3 223.5L340.3 224.5L340.3 225.5L340.3 226.5L340.3 227.5L340.3 228.5L340.3 229.5L340.3 230.5L340.3 231.5L340.3 232.5L340.3 233.5L340.3 234.5L340.3 235.5L340.3 236.5L340.3 237.5L340.3 238.5L340.3 239.5L340.3 240.5L340.3 241.5L340.3 242.5L340.3 243.5L340.3 244.5L340.3 245.5L340.3 246.5L340.3 247.5L340.3 247.9L339.6 248.5L339.3 248.7L338.3 248.7L337.3 248.7L336.3 248.7L335.3 248.7L334.3 248.7L333.3 248.7L332.3 248.7L331.3 248.7L330.3 248.7L329.3 248.7L328.3 248.7L327.3 248.7L326.3 248.8L325.3 248.8L324.3 248.9L323.3 248.9L322.3 248.9L321.3 249L320.3 248.5L320.3 248.5L320.3 248.5L319.3 248.5L318.3 248.5L317.3 248.5L316.3 248.5L315.3 248.5L314.4 248.5L314.3 248.5L314.3 248.5L313.3 248.9L312.3 248.9L311.3 248.9L310.3 248.8L309.3 248.8L308.3 248.7L307.3 248.7L306.3 248.7L305.3 248.7L304.3 248.7L303.3 248.7L302.3 248.7L301.3 248.7L300.3 248.7L299.3 248.7L298.3 248.7L297.3 248.7L296.3 248.7L295.3 248.7L294.3 248.7L293.3 248.7L292.3 248.7L291.3 248.7L290.3 248.7L289.3 248.7L288.3 248.7L287.3 248.7L286.3 248.7L285.3 248.7L284.3 248.7L283.3 248.7L282.3 248.7L281.3 248.7L280.3 248.7L279.3 248.7L278.3 248.7L277.3 248.7L276.3 248.7L275.3 248.7L274.3 248.7L273.3 248.7L272.3 248.7L271.3 248.7L270.3 248.7L269.3 248.7L268.3 248.7L267.3 248.7L266.3 248.7L265.3 248.7L264.3 248.7L263.3 248.8L262.3 249.2L262 249.5L261.3 250.2L260.8 250.5L261.3 251.2L261.4 251.5L261.5 252.5L261.3 253.4L261.3 253.5L261.3 254.5L261.3 254.6L261.5 255.5L262 256.5L262.3 257L262.7 257.5L263 258.5L263.1 259.5L262.9 260.5L262.8 261.5L262.9 262.5L263.1 263.5L263.3 264.3L263.7 264.5L264.3 264.9L265.3 264.9L266.3 264.9L267.3 264.8L268.1 264.5L268.3 264.4L269.3 263.6L269.4 263.5L270.3 262.6L270.6 262.5L271.3 261.8L271.9 261.5L271.3 261.2L270.8 260.5L270.3 260.1L269.7 259.5L270.3 259.2L271.3 258.9L272.3 258.9L273.3 258.8L274.3 258.8L275.3 258.7L276.3 258.7L277.3 258.6L278.3 258.6L279.3 258.6L280.3 258.6L281.3 258.6L282.3 258.6L283.3 258.6L284.3 258.6L285.3 258.6L286.3 258.6L287.3 258.6L288.3 258.6L289.3 258.6L290.3 258.6L291.3 258.6L292.3 258.6L293.3 258.6L294.3 258.6L295.3 258.6L296.3 258.6L297.3 258.6L298.3 258.6L299.3 258.6L300.3 258.6L301.3 258.6L302.3 258.6L303.3 258.6L304.3 258.6L305.3 258.6L306.3 258.6L307.3 258.6L308.3 258.6L309.3 258.6L310.3 258.6L311.3 258.6L312.3 258.6L313.3 258.6L314.3 258.6L315.3 258.6L316.3 258.6L317.3 258.6L318.3 258.6L319.3 258.6L320.3 258.6L321.3 258.6L322.3 258.6L323.3 258.6L324.3 258.6L325.3 258.6L326.3 258.6L327.3 258.6L328.3 258.6L329.3 258.6L330.3 258.6L331.3 258.6L332.3 258.6L333.3 258.6L334.3 258.6L335.3 258.6L336.3 258.6L337.3 258.6L338.3 258.6L339.3 258.6L340.3 258.6L340.3 259.5L340.3 260.5L340.3 261.5L340.3 262.5L340.3 263.5L340.3 264.5L340.3 265.5L340.3 266.5L340.3 267.5L340.3 268.5L340.3 269.5L340.3 270.5L340.3 271.5L340.3 272.5L340.3 273.5L340.3 274.5L340.3 275.5L340.3 276.5L340.3 277.5L340.3 278.5L340.3 279.5L340.3 280.5L340.3 281.5L340.3 282.5L340.3 283.5L340.3 284.5L340.3 285.5L340.3 286.5L340.3 287.5L340.3 288.5L340.3 289.5L340.3 290.5L340.3 291.5L340.3 292.5L340.3 293.5L340.3 294.5L339.3 294.5L338.3 294.5L337.3 294.5L336.3 294.5L335.3 294.5L334.3 294.5L333.3 294.5L332.3 294.5L331.3 294.5L330.3 294.5L329.3 294.5L328.3 294.5L327.3 294.5L326.3 294.5L325.3 294.5L324.3 294.5L323.3 294.5L322.3 294.5L321.3 294.5L320.3 294.5L319.3 294.5L318.3 294.5L317.3 294.5L316.3 294.5L315.3 294.5L314.3 294.5L313.3 294.5L312.3 294.5L311.3 294.5L310.3 294.5L309.3 294.5L308.3 294.5L307.3 294.5L306.3 294.5L305.3 294.5L304.3 294.5L303.3 294.5L302.3 294.5L301.3 294.5L300.3 294.5L299.3 294.5L298.3 294.5L297.3 294.5L296.3 294.5L295.3 294.5L294.3 294.5L293.3 294.5L292.3 294.5L291.3 294.5L290.3 294.5L289.3 294.5L288.3 294.5L287.3 294.5L286.3 294.5L285.3 294.5L284.3 294.5L283.3 294.5L282.3 294.5L281.3 294.5L280.3 294.5L279.3 294.5L278.3 294.5L277.3 294.5L276.3 294.5L275.3 294.5L274.3 294.5L273.3 294.5L272.3 294.5L271.3 294.5L270.3 294.5L269.3 294.5L268.3 294.5L267.3 294.5L266.3 294.5L265.3 294.5L264.3 294.5L263.3 294.5L263.1 294.5L263.1 293.5L263.1 292.5L263.1 291.5L263.1 290.5L263.1 289.5L263.1 288.5L263.1 287.5L263.1 286.5L263.1 285.5L263.1 284.5L263.1 283.5L263.2 282.5L263.3 281.8L263.7 281.5L264.3 281.2L265.3 281.3L266.3 281.3L267.3 281.3L268.3 281.3L269.3 281.3L270.3 281.3L271.3 281.3L272.3 281.3L273.3 281.3L274.3 281.3L275.3 281.3L276.3 281.3L277.3 281.3L278.3 281.3L279.3 281.3L280.3 281.3L281.3 281.3L282.3 281.3L283.3 281.3L284.3 281.3L285.3 281.3L286.3 281.3L287.3 281.3L288.3 281.3L289.3 281.3L290.3 281.3L291.3 281.4L292.3 281.4L293.3 281.4L294.3 281.5L294.5 281.5L295.3 281.6L296.3 281.8L297.3 282.2L298.1 282.5L298.3 282.6L299.3 283.2L299.9 283.5L300.3 283.8L301.3 284.4L301.5 284.5L302.3 284.9L303.3 285.3L303.9 285.5L304.3 285.6L305.3 285.9L306.3 286.1L307.3 286.3L308.3 286.4L309.3 286.4L310.3 286.5L310.3 286.5L311.3 286.5L312.3 286.6L313.3 286.6L314.3 286.6L315.3 286.6L316.3 286.6L317.3 286.6L318.3 286.5L318.6 286.5L319.3 286.5L320.3 286.4L321.3 286.3L322.3 286.2L323.3 286L324.3 285.7L325 285.5L325.3 285.4L326.3 285L327.3 284.5L327.3 284.5L328.3 283.8L328.7 283.5L329.3 282.8L329.6 282.5L330.2 281.5L330.3 281.3L330.6 280.5L330.9 279.5L331.1 278.5L331.2 277.5L331.2 276.5L331.2 275.5L331.2 274.5L331.2 273.5L331.2 272.5L331.1 271.5L330.9 270.5L330.5 269.5L330.3 269L330.1 268.5L329.4 267.5L329.3 267.4L328.3 266.5L328.3 266.5L327.3 265.8L326.8 265.5L326.3 265.2L325.3 264.8L324.3 264.5L324.1 264.5L323.3 264.3L322.3 264.1L321.3 263.9L320.3 263.8L319.3 263.8L318.3 263.7L317.3 263.7L316.3 263.7L315.3 263.7L314.3 263.7L313.3 263.7L312.3 263.7L311.3 263.7L310.3 263.7L309.3 263.8L308.3 263.9L307.3 264L306.3 264.1L305.3 264.4L304.8 264.5L304.3 264.6L303.3 265L302.3 265.4L302.1 265.5L301.3 265.9L300.3 266.5L300.3 266.5L299.3 267.1L298.7 267.5L298.3 267.7L297.3 268.2L296.5 268.5L296.3 268.6L295.3 268.8L294.3 268.9L293.3 269L292.3 269L291.3 269L290.3 269L289.3 269L288.3 269L287.3 269L286.3 269L285.3 269L284.3 269L283.3 269L282.3 269L281.3 269L280.3 269L279.3 269L278.3 269L277.3 269L276.3 269L275.3 269L274.3 269L273.3 269L272.3 269L271.3 269L270.3 269L269.3 269L268.3 269.1L267.3 269.1L266.3 269.1L265.3 269.1L264.3 269.2L263.3 268.6L263.3 268.5L263.1 267.5L263 266.5L262.8 265.5L262.5 264.5L262.3 263.7L262.3 263.5L262.1 262.5L262.1 261.5L262.2 260.5L262.3 259.5L262.2 258.5L261.9 257.5L261.4 256.5L261.3 256.3L260.6 255.5L260.3 254.5L259.4 255.5L259.3 255.6L258.3 256L257.3 255.7L256.3 255.6L255.3 255.7L254.3 256.5L254.3 256.5L253.3 257.2L253 257.5L252.3 257.8L251.8 258.5L251.3 259.2L250.3 259.4L249.9 259.5L249.3 260L248.5 260.5L248.3 260.7L247.5 261.5L247.3 261.6L246.4 262.5L246.3 262.6L245.3 263.4L245.2 263.5L244.3 264.3L244 264.5L243.3 265.1L242.8 265.5L242.3 265.9L241.5 266.5L241.3 266.7L240.3 267.4L240.2 267.5L239.3 268.1L238.5 268.5L238.3 268.7L237.3 269.1L236.3 269.5L236.2 269.5L235.3 269.7L234.3 269.7L233.3 269.6L233 269.5L232.3 269.3L231.3 268.9L230.6 268.5L230.3 268.3L229.3 267.7L229 267.5L228.3 267L227.7 266.5L227.3 266.2L226.3 265.5L226.3 265.5L225.3 264.6L225.1 264.5L224.3 263.8L224 263.5L223.3 262.9L222.9 262.5L222.3 262L221.7 261.5L221.3 261.1L220.6 260.5L220.3 260.3L219.3 259.6L219.1 259.5L218.3 259.2L217.3 259L216.3 258.7L215.3 258.6L215.3 258.5L215.3 257.7L216.3 257.9L217.3 258.2L218.3 258.4L218.6 258.5L219.3 258.6L220.3 258.8L221.3 258.8L222.3 258.8L223.3 258.9L224.3 258.9L225.3 258.9L226.3 258.9L227.3 258.9L228.3 258.9L229.3 258.9L230.3 258.9L231.3 258.9L232.3 258.9L233.3 258.9L234.3 258.9L235.3 258.9L236.3 258.9L237.3 258.9L238.3 258.9L239.3 258.9L240.3 258.9L241.3 258.9L242.3 258.9L243.3 258.9L244.3 258.9L245.3 258.9L246.3 258.9L247.3 258.8L248.3 258.8L249.3 258.7L250.1 258.5L250.3 258.5L251.3 257.8L251.5 257.5L252.3 256.6L252.4 256.5L253.3 255.5L253.3 255.5L253.7 254.5L253.7 253.5L253.4 252.5L253.4 251.5L254.1 250.5L253.3 249.5L253.3 249.5L252.3 249.1L251.3 248.8L250.3 248.8L249.3 248.9L248.3 249L247.3 248.9L246.3 248.8L245.3 248.6L244.5 248.5L244.3 248.5L243.3 248.3L242.3 248.3L241.3 248.2L240.3 248.1L239.3 248L238.3 248L237.3 248L236.3 247.9L235.3 247.9L234.3 247.9L233.3 247.9L232.3 248L231.3 248L230.3 248L229.3 248L228.3 248.1L227.3 248.2L226.3 248.3L225.3 248.3L224.3 248.3L223.3 248.3L222.3 248.3L221.3 248.3L220.3 248.3L219.3 248.3L218.3 248.3L217.3 248.3L216.3 248.3L215.3 248.3L215.3 247.6L216.3 247.6L217.3 247.6L218.3 247.6L219.3 247.6L220.3 247.6L221.3 247.6L222.3 247.6L223.3 247.6L224.3 247.6L225.3 247.6L226.3 247.6L227.1 247.5L227.3 247.4L228.3 246.6L228.4 246.5L228.4 245.5L228.3 244.5L228.3 243.5L228.3 242.5L228.3 241.5L228.3 240.5L228.3 239.5L228.3 238.5L228.3 237.5L228.3 236.5L228.3 235.5L228.3 234.5L228.3 233.5L228.3 232.5L228.3 231.5L228.3 230.5L228.3 229.5L228.3 228.5L228.3 227.5L228.3 226.5L228.3 225.5L228.3 224.5L228.3 223.5L228.3 222.5L228.3 221.5L228.3 220.7L228.3 220.5L228.3 219.5L228.3 218.5L228.2 217.5L228.1 216.5L227.9 215.5L227.6 214.5L227.3 213.8L227.2 213.5L226.6 212.5L226.3 212.1L225.9 211.5L225.3 210.5L225.3 210.5L224.7 209.5L224.3 208.5L224.3 208.5L223.9 207.5L223.6 206.5L223.4 205.5L223.3 204.7L223.3 204.5L223.1 203.5L223 202.5L223 201.5L222.9 200.5L222.9 199.5L222.9 198.5L222.9 197.5L222.9 196.5L222.9 195.5L222.9 194.5L223 193.5L223 192.5L223.1 191.5L223.3 190.5L223.3 190.3L223.4 189.5L223.6 188.5L223.9 187.5L224.3 186.6L224.3 186.5L224.8 185.5L225.3 184.7L225.5 184.5L226.3 183.5L226.3 183.5L227.3 182.7L227.7 182.5L228.3 182.1L229.3 181.8L230.3 181.5L230.4 181.5L231.3 181.3L232.3 181.3L233.3 181.2L234.3 181.2L235.3 181.2L236.3 181.2L237.3 181.3L238.3 181.4L239 181.5L239.3 181.6L240.3 181.8L241.3 182.3L241.7 182.5L242.3 182.9L243 183.5L243.3 183.7L243.9 184.5L244.3 185L244.6 185.5L245.1 186.5L245.3 187.1L245.5 187.5L245.8 188.5L246 189.5L246.1 190.5L246.2 191.5L246.3 192.2L246.3 192.5L246.4 193.5L246.4 194.5L246.5 195.5L246.5 196.5L246.5 197.5L246.5 198.5L246.5 199.5L246.4 200.5L246.4 201.5L246.3 202.5L246.3 202.8L246.2 203.5L246.1 204.5L246 205.5L245.8 206.5L245.5 207.5L245.3 208L245.1 208.5L244.7 209.5L244.3 210.1L244.1 210.5L243.4 211.5L243.3 211.7L242.8 212.5L242.3 213.2L242.2 213.5L241.7 214.5L241.4 215.5L241.3 215.9L241.2 216.5L241.1 217.5L241 218.5L241 219.5L241 220.5L241 221.5L241 222.5L241 223.5L241 224.5L241 225.5L241 226.5L241 227.5L241 228.5L241 229.5L241 230.5L241 231.5L241 232.5L241 233.5L241 234.5L241 235.5L241 236.5L241 237.5L241 238.5L241 239.5L241 240.5L240.9 241.5L240.9 242.5L240.9 243.5L240.9 244.5L240.9 245.5L240.8 246.5L241.3 247L242 247.5L242.3 247.5L243.3 247.6L244.3 247.8L245.3 248L246.3 248.2L247.3 248.4L248.3 248.5L249.3 248.5L250.3 248.3L251.3 248.2L252.2 248.5L252.3 248.5L253.3 248.9L254.3 249.4L254.5 249.5L255.3 250.3L256.2 250.5L255.3 250.7L254.6 251.5L254.4 252.5L254.9 253.5L254.9 254.5L255.3 255.1L255.7 254.5L256.3 254L256.8 253.5L257.3 253.1L257.9 252.5L258.3 251.8L258.8 251.5L258.3 251.1L257.3 250.6L256.5 250.5L257.3 250.4L258.3 249.9L259.2 250.5L259.3 250.6L259.4 250.5L260.3 250.2L261.3 249.6L261.4 249.5L262.3 248.6L262.5 248.5L263.3 247.9L264.3 247.8L265.3 247.8L266.3 247.8L267.3 247.8L268.3 247.8L269.3 247.8L270.3 247.8L271.3 247.8L272.3 247.8L273.3 247.8L274.3 247.8L275.3 247.8L276.3 247.8L277.3 247.8L278.3 247.8L279.3 247.8L280.3 247.8L281.3 247.8L282.3 247.8L283.3 247.8L284.3 247.8L285.3 247.8L286.3 247.8L287.3 247.8L288.3 247.8L289.3 247.8L290.3 247.8L291.3 247.8L292.3 247.8L293.3 247.8L294.3 247.8L295.3 247.8L296.3 247.8L297.3 247.8L298.3 247.8L299.3 247.8L300.3 247.8L301.3 247.8L302.3 247.8L303.3 247.8L304.3 247.8L305.3 247.8L306.3 247.8L307.3 247.8L308.3 247.9L309.3 248L310.3 248.1L311.3 248.3L312.3 248.3L313.3 248.4L314.3 247.9L315.3 247.9L316.3 247.9L317.3 247.9L318.3 247.9L319.3 247.9L320.3 247.9L321.3 248.4L322.3 248.4L323.3 248.3L324.3 248.2L325.3 248.1L326.3 248L327.3 247.9L328.3 247.8L329.3 247.8L330.3 247.8L331.3 247.8L332.3 247.8L333.3 247.8L334.3 247.8L335.3 247.8L336.3 247.8L337.3 247.8L338.3 247.8L339.3 247.8L339.6 247.5L339.8 246.5L339.8 245.5L339.8 244.5L339.8 243.5L339.3 243L338.3 243L337.3 243L336.3 243L335.3 243L334.3 243L333.3 243L332.3 243L331.3 243L330.3 243L329.3 243L328.3 242.9L327.3 242.8L326.3 242.6L326.1 242.5L326.1 241.5L326.1 240.5L326.1 239.5L326.1 238.5L326.1 237.5L326.1 236.5L326.1 235.5L326.1 234.5L326.1 233.5L326.1 232.5L326.1 231.5L326.1 230.5L326.1 229.5L326.1 228.5L326.1 227.5L326.1 226.5L326.1 225.5L326.1 224.5L326.1 223.5L326.1 222.5L326.1 221.5L326.1 220.5L326.1 219.5L326.1 218.5L326.1 217.5L326.1 216.5L326.1 215.5L326.1 214.5L326.1 213.5L326 212.5L325.7 211.5L325.3 210.9L324.9 210.5L324.3 210.2L323.3 209.8L322.3 209.6L321.5 209.5L321.3 209.5L320.3 209.3L319.3 209.3L318.3 209.3L317.3 209.3L316.3 209.3L315.3 209.3L314.3 209.3L313.3 209.5L313.3 209.5L312.3 209.6L311.3 209.6L310.3 209.7L309.3 209.8L308.3 209.9L307.3 210L306.3 210L305.3 210L304.3 210L303.3 210L302.3 210L301.3 210L300.8 210.5L300.3 211L299.7 211.5L299.3 212L298.6 212.5L298.3 212.9L297.6 212.5L297.3 212.1L296.3 211.7L295.3 211.7L294.3 211.7L293.3 211.7L292.3 211.7L291.3 211.7L290.3 211.7L289.3 211.7L288.3 211.7L287.3 211.7L286.3 211.7L285.3 211.7L284.3 211.7L283.3 211.7L282.3 211.7L281.3 211.7L280.3 211.7L279.3 211.7L278.3 211.7L277.3 211.9L276.3 212.3L276.1 212.5L276 213.5L276.3 214L276.6 214.5L277.3 215.5L277.3 215.5L278.3 216.5L278.3 216.5L279.3 217.5L279.3 217.5L280.3 218.4L280.4 218.5L281.3 219.3L281.5 219.5L282.3 220.2L282.7 220.5L283.3 221L283.8 221.5L284.3 221.9L285 222.5L285.3 222.8L286.3 222.7L286.6 222.5L287.3 221.9L287.7 221.5L288.3 221L288.9 220.5L289.3 220.2L290.1 219.5L290.3 219.3L291.3 218.5L291.3 218.5L292.3 217.7L292.5 217.5L293.3 216.8L293.7 216.5L294.3 215.9L294.7 216.5L294.3 216.9L293.7 217.5L293.3 217.9L292.8 218.5L292.3 219L291.8 219.5L291.3 220L290.8 220.5L290.3 221L289.8 221.5L289.3 222L288.8 222.5L288.3 223L287.8 223.5L287.3 224L286.8 224.5L286.3 225L285.9 225.5L285.3 226L284.8 226.5L284.3 227L283.8 227.5L283.3 227.9L282.7 228.5L282.3 228.9L281.7 229.5L281.3 229.9L280.7 230.5L280.3 230.9L279.7 231.5L279.3 231.9L278.7 232.5L278.3 232.9L277.7 233.5L277.3 233.9L276.7 234.5L276.3 234.9L275.7 235.5L275.3 235.9L274.7 236.5L274.3 237L273.8 237.5L273.3 238L272.8 238.5L272.3 239L271.8 239.5L271.3 240L270.3 240L269.8 240.5L269.3 241L268.8 241.5L268.3 242L267.8 242.5L267.3 243L266.8 243.5L266.3 244L265.8 244.5L265.3 245L264.8 245.5L264.3 246L263.7 246.5L263.3 247L262.8 246.5L262.9 245.5L262.9 244.5L262.9 243.5L262.9 242.5L262.9 241.5L262.9 240.5L262.9 239.5L262.9 238.5L262.9 237.5L262.9 236.5L262.9 235.5L262.9 234.5L262.9 233.5L262.9 232.5L262.9 231.5L262.9 230.5L262.9 229.5L262.9 228.5L262.9 227.5L262.9 226.5L262.9 225.5L262.9 224.5L262.9 223.5L262.9 222.5L262.9 221.5L262.9 220.5L262.9 219.5L262.9 218.5L262.9 217.5L262.9 216.5L262.9 215.5L262.9 214.5L262.9 213.5L262.9 212.5L262.9 211.5L262.9 210.5L262.9 209.5L262.9 208.5L262.9 207.5L262.9 206.5L262.8 205.5L262.8 204.5L262.7 203.5L262.5 202.5L262.4 201.5L262.3 201L262.3 200.5L262.2 199.5L262.2 198.5L262.3 198.2L262.7 197.5L262.7 196.5L262.7 195.5L262.7 194.5L262.7 193.5L262.7 192.5L262.7 191.5L262.3 190.8L262.2 190.5L262.2 189.5L262.3 188.5L262.3 187.9L262.3 187.5L262.5 186.5L262.7 185.5L262.8 184.5L262.8 183.5L262.8 182.5L262.9 181.5L262.9 180.5L262.9 179.5L262.9 178.5L262.9 177.5L262.9 176.5L262.9 175.5L262.9 174.5L262.9 173.5ZM230 186.5L229.3 186.8L228.3 187.5L228.3 187.5L227.5 188.5L227.3 188.7L226.9 189.5L226.5 190.5L226.3 191L226.2 191.5L226 192.5L225.9 193.5L225.8 194.5L225.8 195.5L225.8 196.5L225.8 197.5L225.8 198.5L225.8 199.5L225.8 200.5L225.9 201.5L226 202.5L226.2 203.5L226.3 204L226.5 204.5L226.8 205.5L227.3 206.5L227.3 206.5L227.8 207.5L228.1 208.5L228.3 209.1L228.4 209.5L228.8 210.5L229.3 211.5L229.3 211.5L230.3 212.5L230.3 212.5L231.3 213L232.3 213.2L233.3 213.3L234.3 213.3L235.3 213.3L236.3 213.2L237.3 213.2L238.3 212.9L239 212.5L239.3 212.3L239.9 211.5L240.3 210.9L240.5 210.5L240.9 209.5L241.2 208.5L241.3 208.3L241.6 207.5L242.1 206.5L242.3 206L242.6 205.5L242.9 204.5L243.2 203.5L243.3 203.1L243.4 202.5L243.5 201.5L243.6 200.5L243.6 199.5L243.6 198.5L243.6 197.5L243.6 196.5L243.6 195.5L243.6 194.5L243.5 193.5L243.4 192.5L243.3 191.9L243.2 191.5L242.9 190.5L242.5 189.5L242.3 189.1L241.9 188.5L241.3 187.8L241 187.5L240.3 187L239.4 186.5L239.3 186.5L238.3 186.2L237.3 186L236.3 185.9L235.3 185.9L234.3 185.9L233.3 185.9L232.3 186L231.3 186.1L230.3 186.4ZM263.6 187.5L263.3 187.9L263.2 188.5L263 189.5L262.9 190.5L263.3 191.2L263.6 191.5L263.5 192.5L263.5 193.5L263.4 194.5L263.4 195.5L263.5 196.5L263.6 197.5L263.3 197.8L262.9 198.5L263 199.5L263.2 200.5L263.3 201L263.7 201.5L264.3 202L265.3 202.2L266.3 202.3L267.3 202.3L268.3 202.3L269.3 202.3L270.3 202.3L271.3 202.3L272.3 202.3L273.3 202.3L274.3 202.3L275.3 202.3L276.3 202.3L277.3 202.3L278.3 202.3L279.3 202.3L280.3 202.3L281.3 202.3L282.3 202.3L283.3 202.3L284.3 202.3L285.3 202.3L286.3 202.3L287.3 202.3L288.3 202.3L289.3 202.3L290.3 202.3L291.3 202.3L292.3 202.3L293.3 202.3L294.3 202.3L295.3 202.3L296.3 202.3L297.3 202.3L298.3 202.2L299.3 202.1L300.3 201.8L300.7 201.5L301.3 200.7L301.3 200.5L301.5 199.5L301.6 198.5L301.3 198.1L300.7 197.5L300.7 196.5L300.8 195.5L300.8 194.5L300.8 193.5L300.7 192.5L300.6 191.5L300.3 190.5L300.3 190.5L299.4 189.5L299.3 189.4L298.3 189.1L297.3 189L296.3 188.9L295.3 188.9L294.3 188.9L293.3 188.9L292.3 188.9L291.3 188.9L290.3 188.9L289.3 188.9L288.3 188.9L287.3 188.9L286.3 188.9L285.3 188.9L284.3 188.9L283.3 188.9L282.3 188.9L281.3 188.9L280.3 188.9L279.3 188.9L278.3 188.9L277.3 188.9L276.3 188.9L275.3 188.9L274.3 188.9L273.3 188.9L272.3 188.9L271.3 188.9L270.3 188.9L269.3 188.9L268.3 188.9L268.1 188.5L267.7 187.5L267.3 186.5L266.3 186.6L265.3 186.6L264.3 186.8ZM271.9 213.5L271.3 214.5L271.3 214.8L271.2 215.5L271.2 216.5L271.2 217.5L271.2 218.5L271.2 219.5L271.2 220.5L271.2 221.5L271.2 222.5L271.2 223.5L271.2 224.5L271.2 225.5L271.2 226.5L271.2 227.5L271.2 228.5L271.2 229.5L271.2 230.5L271.2 231.5L271.3 232.5L271.3 232.8L271.4 233.5L272 234.5L272.3 234.7L273.3 234.9L274.3 234.6L274.6 234.5L275.3 234.1L276.2 233.5L276.3 233.4L277.3 232.6L277.4 232.5L278.3 231.7L278.5 231.5L279.3 230.7L279.5 230.5L280.3 229.8L280.6 229.5L281.3 228.8L281.6 228.5L282.3 227.8L282.6 227.5L283.3 226.8L283.6 226.5L284.3 225.7L284.5 225.5L284.3 225.1L283.9 224.5L283.3 223.9L283 223.5L282.3 222.7L282.1 222.5L281.3 221.6L281.2 221.5L280.3 220.5L280.3 220.5L279.4 219.5L279.3 219.4L278.4 218.5L278.3 218.4L277.4 217.5L277.3 217.4L276.5 216.5L276.3 216.3L275.5 215.5L275.3 215.2L274.5 214.5L274.3 214.3L273.3 213.5L273.2 213.5L272.3 213.3ZM259.8 251.5L259.6 252.5L260.3 253.5L260.6 252.5L260.5 251.5L260.3 251.2ZM297.3 212.8L297.6 213.5L297.3 213.8L296.9 213.5ZM296.3 214.1L296.6 214.5L296.3 214.8L295.9 214.5ZM298.3 214.4L299.3 214L299.7 214.5L299.9 215.5L299.9 216.5L299.9 217.5L299.9 218.5L299.9 219.5L299.9 220.5L299.9 221.5L299.9 222.5L299.9 223.5L299.9 224.5L299.9 225.5L299.9 226.5L299.9 227.5L299.9 228.5L299.9 229.5L299.9 230.5L299.9 231.5L299.9 232.5L299.8 233.5L299.4 234.5L299.3 234.7L298.3 234.9L297.3 234.6L297.2 234.5L296.3 233.8L295.9 233.5L295.3 233L294.8 232.5L294.3 232L293.8 231.5L293.3 231L292.8 230.5L292.3 230L291.8 229.5L291.3 228.9L290.9 228.5L290.3 227.9L290 227.5L289.3 226.8L289 226.5L288.3 225.7L288.1 225.5L288.3 225.3L289 224.5L289.3 224.1L289.8 223.5L290.3 223L290.7 222.5L291.3 221.9L291.6 221.5L292.3 220.8L292.5 220.5L293.3 219.6L293.4 219.5L294.3 218.5L294.3 218.5L295.2 217.5L295.3 217.4L296.1 216.5L296.3 216.3L297.1 215.5L297.3 215.3L298.2 214.5ZM295.3 215L295.7 215.5L295.3 215.8L294.8 215.5ZM250.3 260L250.5 260.5L250.3 261L249.9 260.5ZM249.3 261.1L249.9 261.5L249.3 262.1L248.9 262.5L248.3 263.2L248 263.5L247.3 264.2L247 264.5L246.3 265.3L246.1 265.5L245.3 266.4L245.2 266.5L244.4 267.5L244.3 267.6L243.6 268.5L243.3 268.8L242.8 269.5L242.3 270.2L242.1 270.5L241.4 271.5L241.3 271.8L240.9 272.5L240.5 273.5L240.3 274.5L240.3 274.5L240.3 275.5L240.3 275.8L240.4 276.5L240.7 277.5L241.2 278.5L241.3 278.7L241.8 279.5L242.3 280.3L242.4 280.5L243.2 281.5L243.3 281.7L244 282.5L244.3 282.9L244.8 283.5L245.3 284L245.7 284.5L246.3 285.2L246.6 285.5L247.3 286.3L247.5 286.5L248.3 287.3L248.5 287.5L249.3 288.4L249.4 288.5L250.2 289.5L250.3 289.6L250.8 290.5L251.2 291.5L251.3 291.7L251.5 292.5L251.7 293.5L251.8 294.5L251.3 294.5L250.6 294.5L250.6 293.5L250.4 292.5L250.3 292.3L249.7 291.5L249.3 291L248.8 290.5L248.3 290.1L247.7 289.5L247.3 289.2L246.5 288.5L246.3 288.3L245.4 287.5L245.3 287.4L244.3 286.6L244.2 286.5L243.3 285.8L242.9 285.5L242.3 285L241.6 284.5L241.3 284.3L240.3 283.6L240.1 283.5L239.3 283L238.5 282.5L238.3 282.4L237.3 281.9L236.3 281.5L236.1 281.5L235.3 281.3L234.3 281.2L233.3 281.2L232.3 281.5L232.3 281.5L231.3 281.8L230.3 282.4L230.2 282.5L229.3 283.1L228.8 283.5L228.3 283.9L227.5 284.5L227.3 284.7L226.3 285.4L226.2 285.5L225.3 286.3L225 286.5L224.3 287.1L223.8 287.5L223.3 287.9L222.6 288.5L222.3 288.8L221.4 289.5L221.3 289.6L220.3 290.5L220.3 290.5L219.3 291.4L219.2 291.5L218.3 292.3L218.1 292.5L217.3 293.2L217 293.5L216.3 294.2L216 294.5L215.3 294.5L215.3 294L215.8 293.5L216.3 293L216.8 292.5L217.3 292L217.8 291.5L218.3 291L218.8 290.5L219.3 290L219.8 289.5L220.3 289L220.8 288.5L221.3 288L221.9 287.5L222.3 287.1L222.9 286.5L223.3 286.1L223.9 285.5L224.3 285.1L224.9 284.5L225.3 284.1L225.9 283.5L226.3 283.1L226.9 282.5L227.3 282.1L227.9 281.5L228.3 281.1L228.9 280.5L229.3 280.1L229.9 279.5L230.3 279L230.9 278.5L231.3 278L231.8 277.5L232.3 277L232.8 276.5L233.3 276L234.3 276L234.8 275.5L235.3 275L235.8 274.5L236.3 274L236.8 273.5L237.3 273L237.9 272.5L238.3 272L238.9 271.5L239.3 271.1L239.9 270.5L240.3 270.1L240.9 269.5L241.3 269.1L241.9 268.5L242.3 268.1L242.9 267.5L243.3 267.1L243.9 266.5L244.3 266.1L244.9 265.5L245.3 265.1L245.9 264.5L246.3 264.1L246.9 263.5L247.3 263.1L247.9 262.5L248.3 262.1L248.9 261.5Z" fill="#e2eff5" stroke="#e2eff5" stroke-width="0.25" fill-rule="evenodd"/>
<path d="M216.3 172.5L217.3 172.5L218.3 172.5L219.3 172.5L220.3 172.5L221.3 172.5L222.3 172.5L223.3 172.5L224.3 172.5L225.3 172.5L226.3 172.5L227.3 172.5L228.3 172.5L229.3 172.5L230.3 172.5L231.3 172.5L232.3 172.5L233.3 172.5L234.3 172.5L235.3 172.5L236.3 172.5L237.3 172.5L238.3 172.5L239.3 172.5L240.3 172.5L241.3 172.5L242.3 172.5L243.3 172.5L244.3 172.5L245.3 172.5L246.3 172.5L247.3 172.5L248.3 172.5L249.3 172.5L250.3 172.5L251.3 172.5L251.8 172.5L251.8 173.5L251.8 174.5L251.8 175.5L251.8 176.5L251.8 177.5L251.8 178.5L251.8 179.5L251.8 180.5L251.8 181.5L251.8 182.5L251.8 183.5L251.8 184.5L251.8 185.5L251.8 186.5L251.8 187.5L251.8 188.5L251.8 189.5L251.8 190.5L251.8 191.5L251.8 192.5L251.8 193.5L251.8 194.5L251.8 195.5L251.8 196.5L251.8 197.5L251.8 198.5L251.8 199.5L251.8 200.5L251.8 201.5L251.8 202.5L251.8 203.5L251.8 204.5L251.8 205.5L251.8 206.5L251.8 207.5L251.8 208.5L251.8 209.5L251.8 210.5L251.8 211.5L251.8 212.5L251.8 213.5L251.8 214.5L251.8 215.5L251.8 216.5L251.8 217.5L251.8 218.5L251.8 219.5L251.8 220.5L251.8 221.5L251.8 222.5L251.8 223.5L251.8 224.5L251.8 225.5L251.8 226.5L251.8 227.5L251.8 228.5L251.8 229.5L251.8 230.5L251.7 231.5L251.7 232.5L251.7 233.5L251.7 234.5L251.6 235.5L251.6 236.5L251.5 237.5L251.5 238.5L251.5 239.5L251.3 240.5L251.3 240.6L250.3 240.7L250 240.5L249.3 239.5L249.3 239.5L248.3 239.4L248.3 239.5L247.6 240.5L247.3 240.7L246.5 241.5L246.3 241.7L245.7 242.5L245.3 243.5L245.3 243.8L245.2 244.5L245.2 245.5L245.3 246.5L245.3 246.5L246.2 247.5L246.3 247.5L247.3 247.7L248.3 247.8L249.3 247.8L250.3 247.6L251.3 247.5L252.3 247.8L253.3 248.2L253.8 248.5L254.3 248.8L255.3 249.2L256.3 249.3L257.3 249.2L258.3 249L259.3 249.3L260 249.5L260.3 249.6L260.4 249.5L261.2 248.5L261.3 248.2L261.8 247.5L261.9 246.5L261.9 245.5L261.9 244.5L261.9 243.5L261.9 242.5L261.9 241.5L261.9 240.5L261.9 239.5L261.9 238.5L261.9 237.5L261.9 236.5L261.9 235.5L261.9 234.5L261.9 233.5L261.9 232.5L261.9 231.5L261.9 230.5L261.9 229.5L261.9 228.5L261.9 227.5L261.9 226.5L261.9 225.5L261.9 224.5L261.9 223.5L261.9 222.5L261.9 221.5L261.9 220.5L261.9 219.5L261.9 218.5L261.9 217.5L261.9 216.5L261.9 215.5L261.9 214.5L261.9 213.5L261.9 212.5L261.9 211.5L261.9 210.5L261.9 209.5L261.9 208.5L261.9 207.5L261.9 206.5L261.9 205.5L261.9 204.5L261.9 203.5L261.8 202.5L261.7 201.5L261.7 200.5L261.7 199.5L261.6 198.5L262.1 197.5L262.1 196.5L262.1 195.5L262.1 194.5L262.1 193.5L262.1 192.5L262.1 191.5L261.6 190.5L261.7 189.5L261.7 188.5L261.7 187.5L261.8 186.5L261.8 185.5L261.9 184.5L261.9 183.5L261.9 182.5L261.9 181.5L261.9 180.5L261.9 179.5L261.9 178.5L261.9 177.5L261.9 176.5L261.9 175.5L261.9 174.5L261.9 173.5L262.3 172.8L262.7 172.5L263.3 172.5L264.3 172.5L265.3 172.5L266.3 172.5L267.3 172.5L268.3 172.5L269.3 172.5L270.3 172.5L271.3 172.5L272.3 172.5L273.3 172.5L274.3 172.5L275.3 172.5L276.3 172.5L277.3 172.5L278.3 172.5L279.3 172.5L280.3 172.5L281.3 172.5L282.3 172.5L283.3 172.5L284.3 172.5L285.3 172.5L286.3 172.5L287.3 172.5L288.3 172.5L289.3 172.5L290.3 172.5L291.3 172.5L292.3 172.5L293.3 172.5L294.3 172.5L295.3 172.5L296.3 172.5L297.3 172.5L298.3 172.5L299.3 172.5L300.3 172.5L301.3 172.5L302.3 172.5L303.3 172.5L304.3 172.5L305.3 172.5L306.3 172.5L307.3 172.5L308.3 172.5L309.3 172.5L309.8 172.5L309.8 173.5L309.8 174.5L309.8 175.5L309.8 176.5L309.8 177.5L309.8 178.5L309.8 179.5L309.8 180.5L309.8 181.5L309.9 182.5L309.9 183.5L309.9 184.5L309.9 185.5L310.1 186.5L310.3 186.9L310.6 187.5L311.3 188.2L312.1 188.5L312.3 188.6L313.3 188.8L314.3 188.8L315.3 188.9L316.3 188.9L317.3 188.9L318.3 188.9L319.3 188.9L320.3 188.8L321.3 188.6L321.7 188.5L322.3 188.3L322.6 187.5L322.9 186.5L323 185.5L323.1 184.5L323.1 183.5L323.1 182.5L323.1 181.5L323.1 180.5L323.1 179.5L323.1 178.5L323.1 177.5L323.1 176.5L323.1 175.5L323.1 174.5L323.1 173.5L323.3 173.1L324.3 172.5L324.4 172.5L325.3 172.5L326.3 172.5L327.3 172.5L328.3 172.5L329.3 172.5L330.3 172.5L331.3 172.5L332.3 172.5L333.3 172.5L334.3 172.5L335.3 172.5L336.3 172.5L337.3 172.5L338.3 172.5L339.3 172.5L339.8 172.5L339.8 173.5L339.8 174.5L339.8 175.5L339.8 176.5L339.8 177.5L339.8 178.5L339.8 179.5L339.8 180.5L339.8 181.5L339.8 182.5L339.8 183.5L339.8 184.5L339.8 185.5L339.6 186.5L339.4 187.5L339.3 187.7L338.3 187.7L337.3 187.7L336.3 187.7L335.3 187.7L334.3 187.7L333.3 187.7L332.3 187.7L331.3 187.7L330.3 187.7L329.3 187.7L328.3 187.7L327.3 187.7L326.3 187.9L325.3 188.3L325 188.5L324.3 188.7L323.8 188.5L324.3 188L324.8 187.5L325.3 187L325.8 186.5L326.3 186L326.8 185.5L327.3 185L327.8 184.5L328.3 184L328.8 183.5L329.3 183L329.8 182.5L330.3 182L330.8 181.5L331.3 181L331.8 180.5L332.3 180L332.8 179.5L333.3 179L333.8 178.5L334.3 178L334.8 177.5L335.3 177L335.8 176.5L336.3 176L336.8 175.5L337.3 175L337.8 174.5L338.3 174L338.8 173.5L338.3 173L337.3 173L336.3 173L335.3 173L334.3 173L333.3 173L332.3 173L331.3 173L330.3 173L329.3 173L328.3 173L327.3 173L326.3 173.1L325.3 173.3L324.7 173.5L324.7 174.5L324.7 175.5L324.7 176.5L324.7 177.5L324.7 178.5L324.7 179.5L324.7 180.5L324.7 181.5L324.6 182.5L324.6 183.5L324.6 184.5L324.5 185.5L324.3 186L324.2 186.5L323.6 187.5L323.3 187.8L323.1 188.5L322.8 189.5L322.3 190L321.8 190.5L321.3 191L320.8 191.5L320.3 192L319.8 192.5L319.3 193L318.8 193.5L318.3 194L317.8 194.5L317.3 195L316.8 195.5L316.3 196L315.8 196.5L315.3 197L314.8 197.5L314.3 198L313.8 198.5L313.3 199L312.8 199.5L312.3 200L311.8 200.5L311.3 201L310.8 201.5L310.3 202L309.8 202.5L309.3 203L308.8 203.5L308.3 204L307.8 204.5L307.3 205L306.3 205L305.8 205.5L305.3 206L304.8 206.5L304.3 207L303.8 207.5L303.3 208L302.8 208.5L302.3 209L301.8 208.5L301.8 207.5L301.8 206.5L301.8 205.5L301.8 204.5L301.9 203.5L302 202.5L302.1 201.5L302.2 200.5L302.2 199.5L302.3 198.5L302.3 197.5L302.3 196.5L302.3 195.9L302.3 195.5L302.3 194.5L302.3 193.5L302.3 193.4L302.3 192.5L302.3 191.5L302.2 190.5L302 189.5L301.7 188.5L301.3 187.7L301.2 187.5L300.3 186.7L299.8 186.5L299.3 186.4L298.3 186.3L297.3 186.2L296.3 186.2L295.3 186.2L294.3 186.2L293.3 186.2L292.3 186.2L291.3 186.2L290.3 186.2L289.3 186.2L288.3 186.2L287.3 186.2L286.3 186.2L285.3 186.2L284.3 186.2L283.3 186.2L282.3 186.2L281.3 186.2L280.3 186.2L279.3 186.2L278.3 186.2L277.3 186.2L276.3 186.2L275.3 186.2L274.3 186.2L273.3 186.2L272.3 186.2L271.3 186.2L270.3 186.2L269.3 186.2L268.3 186.2L268.1 185.5L267.9 184.5L267.8 183.5L267.8 182.5L267.8 181.5L267.8 180.5L267.8 179.5L267.8 178.5L267.8 177.5L267.8 176.5L267.8 175.5L267.8 174.5L267.8 173.5L267.3 173L266.3 173L265.3 173L264.3 173L263.3 173.1L262.9 173.5L262.9 174.5L262.9 175.5L262.9 176.5L262.9 177.5L262.9 178.5L262.9 179.5L262.9 180.5L262.9 181.5L262.8 182.5L262.8 183.5L262.8 184.5L262.7 185.5L262.5 186.5L262.3 187.5L262.3 187.9L262.3 188.5L262.2 189.5L262.2 190.5L262.3 190.8L262.7 191.5L262.7 192.5L262.7 193.5L262.7 194.5L262.7 195.5L262.7 196.5L262.7 197.5L262.3 198.2L262.2 198.5L262.2 199.5L262.3 200.5L262.3 201L262.4 201.5L262.5 202.5L262.7 203.5L262.8 204.5L262.8 205.5L262.9 206.5L262.9 207.5L262.9 208.5L262.9 209.5L262.9 210.5L262.9 211.5L262.9 212.5L262.9 213.5L262.9 214.5L262.9 215.5L262.9 216.5L262.9 217.5L262.9 218.5L262.9 219.5L262.9 220.5L262.9 221.5L262.9 222.5L262.9 223.5L262.9 224.5L262.9 225.5L262.9 226.5L262.9 227.5L262.9 228.5L262.9 229.5L262.9 230.5L262.9 231.5L262.9 232.5L262.9 233.5L262.9 234.5L262.9 235.5L262.9 236.5L262.9 237.5L262.9 238.5L262.9 239.5L262.9 240.5L262.9 241.5L262.9 242.5L262.9 243.5L262.9 244.5L262.9 245.5L262.8 246.5L263.3 247L263.7 246.5L264.3 246L264.8 245.5L265.3 245L265.8 244.5L266.3 244L266.8 243.5L267.3 243L267.8 242.5L268.3 242L268.8 241.5L269.3 241L269.8 240.5L270.3 240L271.3 240L271.8 239.5L272.3 239L272.8 238.5L273.3 238L273.8 237.5L274.3 237L274.7 236.5L275.3 235.9L275.7 235.5L276.3 234.9L276.7 234.5L277.3 233.9L277.7 233.5L278.3 232.9L278.7 232.5L279.3 231.9L279.7 231.5L280.3 230.9L280.7 230.5L281.3 229.9L281.7 229.5L282.3 228.9L282.7 228.5L283.3 227.9L283.8 227.5L284.3 227L284.8 226.5L285.3 226L285.9 225.5L286.3 225L286.8 224.5L287.3 224L287.8 223.5L288.3 223L288.8 222.5L289.3 222L289.8 221.5L290.3 221L290.8 220.5L291.3 220L291.8 219.5L292.3 219L292.8 218.5L293.3 217.9L293.7 217.5L294.3 216.9L294.7 216.5L294.3 215.9L293.7 216.5L293.3 216.8L292.5 217.5L292.3 217.7L291.3 218.5L291.3 218.5L290.3 219.3L290.1 219.5L289.3 220.2L288.9 220.5L288.3 221L287.7 221.5L287.3 221.9L286.6 222.5L286.3 222.7L285.3 222.8L285 222.5L284.3 221.9L283.8 221.5L283.3 221L282.7 220.5L282.3 220.2L281.5 219.5L281.3 219.3L280.4 218.5L280.3 218.4L279.3 217.5L279.3 217.5L278.3 216.5L278.3 216.5L277.3 215.5L277.3 215.5L276.6 214.5L276.3 214L276 213.5L276.1 212.5L276.3 212.3L277.3 211.9L278.3 211.7L279.3 211.7L280.3 211.7L281.3 211.7L282.3 211.7L283.3 211.7L284.3 211.7L285.3 211.7L286.3 211.7L287.3 211.7L288.3 211.7L289.3 211.7L290.3 211.7L291.3 211.7L292.3 211.7L293.3 211.7L294.3 211.7L295.3 211.7L296.3 211.7L297.3 212.1L297.6 212.5L298.3 212.9L298.6 212.5L299.3 212L299.7 211.5L300.3 211L300.8 210.5L301.3 210L302.3 210L303.3 210L304.3 210L305.3 210L306.3 210L307.3 210L308.3 209.9L309.3 209.8L310.3 209.7L311.3 209.6L312.3 209.6L313.3 209.5L313.3 209.5L314.3 209.3L315.3 209.3L316.3 209.3L317.3 209.3L318.3 209.3L319.3 209.3L320.3 209.3L321.3 209.5L321.5 209.5L322.3 209.6L323.3 209.8L324.3 210.2L324.9 210.5L325.3 210.9L325.7 211.5L326 212.5L326.1 213.5L326.1 214.5L326.1 215.5L326.1 216.5L326.1 217.5L326.1 218.5L326.1 219.5L326.1 220.5L326.1 221.5L326.1 222.5L326.1 223.5L326.1 224.5L326.1 225.5L326.1 226.5L326.1 227.5L326.1 228.5L326.1 229.5L326.1 230.5L326.1 231.5L326.1 232.5L326.1 233.5L326.1 234.5L326.1 235.5L326.1 236.5L326.1 237.5L326.1 238.5L326.1 239.5L326.1 240.5L326.1 241.5L326.1 242.5L326.3 242.6L327.3 242.8L328.3 242.9L329.3 243L330.3 243L331.3 243L332.3 243L333.3 243L334.3 243L335.3 243L336.3 243L337.3 243L338.3 243L339.3 243L339.8 243.5L339.8 244.5L339.8 245.5L339.8 246.5L339.6 247.5L339.3 247.8L338.3 247.8L337.3 247.8L336.3 247.8L335.3 247.8L334.3 247.8L333.3 247.8L332.3 247.8L331.3 247.8L330.3 247.8L329.3 247.8L328.3 247.8L327.3 247.9L326.3 248L325.3 248.1L324.3 248.2L323.3 248.3L322.3 248.4L321.3 248.4L320.3 247.9L319.3 247.9L318.3 247.9L317.3 247.9L316.3 247.9L315.3 247.9L314.3 247.9L313.3 248.4L312.3 248.3L311.3 248.3L310.3 248.1L309.3 248L308.3 247.9L307.3 247.8L306.3 247.8L305.3 247.8L304.3 247.8L303.3 247.8L302.3 247.8L301.3 247.8L300.3 247.8L299.3 247.8L298.3 247.8L297.3 247.8L296.3 247.8L295.3 247.8L294.3 247.8L293.3 247.8L292.3 247.8L291.3 247.8L290.3 247.8L289.3 247.8L288.3 247.8L287.3 247.8L286.3 247.8L285.3 247.8L284.3 247.8L283.3 247.8L282.3 247.8L281.3 247.8L280.3 247.8L279.3 247.8L278.3 247.8L277.3 247.8L276.3 247.8L275.3 247.8L274.3 247.8L273.3 247.8L272.3 247.8L271.3 247.8L270.3 247.8L269.3 247.8L268.3 247.8L267.3 247.8L266.3 247.8L265.3 247.8L264.3 247.8L263.3 247.9L262.5 248.5L262.3 248.6L261.4 249.5L261.3 249.6L260.3 250.2L259.4 250.5L259.3 250.6L259.2 250.5L258.3 249.9L257.3 250.4L256.5 250.5L257.3 250.6L258.3 251.1L258.8 251.5L258.3 251.8L257.9 252.5L257.3 253.1L256.8 253.5L256.3 254L255.7 254.5L255.3 255.1L254.9 254.5L254.9 253.5L254.4 252.5L254.6 251.5L255.3 250.7L256.2 250.5L255.3 250.3L254.5 249.5L254.3 249.4L253.3 248.9L252.3 248.5L252.2 248.5L251.3 248.2L250.3 248.3L249.3 248.5L248.3 248.5L247.3 248.4L246.3 248.2L245.3 248L244.3 247.8L243.3 247.6L242.3 247.5L242 247.5L241.3 247L240.8 246.5L240.9 245.5L240.9 244.5L240.9 243.5L240.9 242.5L240.9 241.5L241 240.5L241 239.5L241 238.5L241 237.5L241 236.5L241 235.5L241 234.5L241 233.5L241 232.5L241 231.5L241 230.5L241 229.5L241 228.5L241 227.5L241 226.5L241 225.5L241 224.5L241 223.5L241 222.5L241 221.5L241 220.5L241 219.5L241 218.5L241.1 217.5L241.2 216.5L241.3 215.9L241.4 215.5L241.7 214.5L242.2 213.5L242.3 213.2L242.8 212.5L243.3 211.7L243.4 211.5L244.1 210.5L244.3 210.1L244.7 209.5L245.1 208.5L245.3 208L245.5 207.5L245.8 206.5L246 205.5L246.1 204.5L246.2 203.5L246.3 202.8L246.3 202.5L246.4 201.5L246.4 200.5L246.5 199.5L246.5 198.5L246.5 197.5L246.5 196.5L246.5 195.5L246.4 194.5L246.4 193.5L246.3 192.5L246.3 192.2L246.2 191.5L246.1 190.5L246 189.5L245.8 188.5L245.5 187.5L245.3 187.1L245.1 186.5L244.6 185.5L244.3 185L243.9 184.5L243.3 183.7L243 183.5L242.3 182.9L241.7 182.5L241.3 182.3L240.3 181.8L239.3 181.6L239 181.5L238.3 181.4L237.3 181.3L236.3 181.2L235.3 181.2L234.3 181.2L233.3 181.2L232.3 181.3L231.3 181.3L230.4 181.5L230.3 181.5L229.3 181.8L228.3 182.1L227.7 182.5L227.3 182.7L226.3 183.5L226.3 183.5L225.5 184.5L225.3 184.7L224.8 185.5L224.3 186.5L224.3 186.6L223.9 187.5L223.6 188.5L223.4 189.5L223.3 190.3L223.3 190.5L223.1 191.5L223 192.5L223 193.5L222.9 194.5L222.9 195.5L222.9 196.5L222.9 197.5L222.9 198.5L222.9 199.5L222.9 200.5L223 201.5L223 202.5L223.1 203.5L223.3 204.5L223.3 204.7L223.4 205.5L223.6 206.5L223.9 207.5L224.3 208.5L224.3 208.5L224.7 209.5L225.3 210.5L225.3 210.5L225.9 211.5L226.3 212.1L226.6 212.5L227.2 213.5L227.3 213.8L227.6 214.5L227.9 215.5L228.1 216.5L228.2 217.5L228.3 218.5L228.3 219.5L228.3 220.5L228.3 220.7L228.3 221.5L228.3 222.5L228.3 223.5L228.3 224.5L228.3 225.5L228.3 226.5L228.3 227.5L228.3 228.5L228.3 229.5L228.3 230.5L228.3 231.5L228.3 232.5L228.3 233.5L228.3 234.5L228.3 235.5L228.3 236.5L228.3 237.5L228.3 238.5L228.3 239.5L228.3 240.5L228.3 241.5L228.3 242.5L228.3 243.5L228.3 244.5L228.4 245.5L228.4 246.5L228.3 246.6L227.3 247.4L227.1 247.5L226.3 247.6L225.3 247.6L224.3 247.6L223.3 247.6L222.3 247.6L221.3 247.6L220.3 247.6L219.3 247.6L218.3 247.6L217.3 247.6L216.3 247.6L215.3 247.6L215.3 247.5L215.3 246.5L215.3 245.5L215.3 244.5L215.3 243.5L215.3 242.5L215.3 241.5L215.3 240.5L215.3 239.5L215.3 238.5L215.3 237.5L215.3 236.5L215.3 235.5L215.3 234.5L215.3 233.5L215.3 232.5L215.3 231.5L215.3 230.5L215.3 229.5L215.3 228.5L215.3 227.5L215.3 226.5L215.3 225.5L215.3 224.5L215.3 223.5L215.3 222.5L215.3 221.5L215.3 220.5L215.3 219.5L215.3 218.5L215.3 217.5L215.3 216.5L215.3 215.5L215.3 214.5L215.3 213.5L215.3 212.5L215.3 211.5L215.3 210.5L215.3 209.5L215.3 208.5L215.3 207.5L215.3 206.5L215.3 205.5L215.3 204.5L215.3 203.5L215.3 202.5L215.3 201.5L215.3 200.5L215.3 199.5L215.3 198.5L215.3 197.5L215.3 196.5L215.3 195.5L215.3 194.5L215.3 193.5L215.3 192.5L215.3 191.5L215.3 190.5L215.3 189.5L215.3 188.5L215.3 187.5L215.3 186.5L215.3 185.5L215.3 184.5L215.3 183.5L215.3 182.5L215.3 181.5L215.3 180.5L215.3 179.5L215.3 178.5L215.3 177.5L215.3 176.5L215.3 175.5L215.3 174.5L215.3 173.5L215.3 172.5ZM310.9 210.5L310.3 211.1L310 211.5L309.7 212.5L309.6 213.5L309.6 214.5L309.5 215.5L309.5 216.5L309.5 217.5L309.5 218.5L309.5 219.5L309.5 220.5L309.5 221.5L309.5 222.5L309.5 223.5L309.5 224.5L309.5 225.5L309.5 226.5L309.5 227.5L309.5 228.5L309.5 229.5L309.5 230.5L309.5 231.5L309.5 232.5L309.5 233.5L309.5 234.5L309.5 235.5L309.5 236.5L309.5 237.5L309.5 238.5L309.5 239.5L309.5 240.5L309.5 241.5L309.5 242.5L309.5 243.5L309.6 244.5L309.7 245.5L309.9 246.5L310.3 246.8L311.3 247.4L311.4 247.5L312.3 247.6L313.3 247.7L313.8 247.5L314.3 247.1L315.3 247.2L316.3 247.2L317.3 247.2L318.3 247.2L319.3 247.2L320.3 247.1L320.8 247.5L321.3 247.8L322.3 247.7L323.3 247.5L323.7 247.5L324.3 247.2L325.3 246.6L325.4 246.5L325.7 245.5L325.8 244.5L325.8 243.5L325.3 243.3L324.3 242.9L323.4 242.5L323.4 241.5L323.4 240.5L323.4 239.5L323.4 238.5L323.4 237.5L323.4 236.5L323.4 235.5L323.4 234.5L323.4 233.5L323.4 232.5L323.4 231.5L323.4 230.5L323.4 229.5L323.4 228.5L323.4 227.5L323.4 226.5L323.4 225.5L323.4 224.5L323.4 223.5L323.4 222.5L323.4 221.5L323.4 220.5L323.4 219.5L323.4 218.5L323.4 217.5L323.4 216.5L323.3 215.5L323.3 214.5L323.3 214.4L323.2 213.5L323 212.5L322.3 211.7L322.1 211.5L321.3 211.1L320.3 210.9L319.3 210.8L318.3 210.8L317.3 210.8L316.3 210.8L315.3 210.8L314.3 210.9L313.9 210.5L313.3 210.2L312.3 210.3L311.3 210.4ZM296.9 213.5L297.3 213.8L297.6 213.5L297.3 212.8ZM295.9 214.5L296.3 214.8L296.6 214.5L296.3 214.1ZM298.2 214.5L297.3 215.3L297.1 215.5L296.3 216.3L296.1 216.5L295.3 217.4L295.2 217.5L294.3 218.5L294.3 218.5L293.4 219.5L293.3 219.6L292.5 220.5L292.3 220.8L291.6 221.5L291.3 221.9L290.7 222.5L290.3 223L289.8 223.5L289.3 224.1L289 224.5L288.3 225.3L288.1 225.5L288.3 225.7L289 226.5L289.3 226.8L290 227.5L290.3 227.9L290.9 228.5L291.3 228.9L291.8 229.5L292.3 230L292.8 230.5L293.3 231L293.8 231.5L294.3 232L294.8 232.5L295.3 233L295.9 233.5L296.3 233.8L297.2 234.5L297.3 234.6L298.3 234.9L299.3 234.7L299.4 234.5L299.8 233.5L299.9 232.5L299.9 231.5L299.9 230.5L299.9 229.5L299.9 228.5L299.9 227.5L299.9 226.5L299.9 225.5L299.9 224.5L299.9 223.5L299.9 222.5L299.9 221.5L299.9 220.5L299.9 219.5L299.9 218.5L299.9 217.5L299.9 216.5L299.9 215.5L299.7 214.5L299.3 214L298.3 214.4ZM294.8 215.5L295.3 215.8L295.7 215.5L295.3 215ZM284.8 227.5L284.3 228L283.7 228.5L283.3 228.9L282.7 229.5L282.3 229.9L281.6 230.5L281.3 230.8L280.6 231.5L280.3 231.8L279.6 232.5L279.3 232.8L278.7 233.5L278.3 233.9L277.8 234.5L277.3 235.1L277 235.5L276.3 236.5L276.3 236.7L276.1 237.5L276.2 238.5L276.3 238.7L277.3 239.4L278 239.5L278.3 239.5L279.3 239.6L280.3 239.6L281.3 239.6L282.3 239.6L283.3 239.6L284.3 239.6L285.3 239.6L286.3 239.6L287.3 239.6L288.3 239.6L289.3 239.6L290.3 239.6L291.3 239.6L292.3 239.6L293.3 239.6L294.3 239.6L295.3 239.6L296.3 239.6L296.9 239.5L297.3 239.4L298.3 238.6L298.3 238.5L298.3 238.5L297.9 237.5L297.3 236.6L297.2 236.5L296.3 235.7L296.1 235.5L295.3 234.8L295 234.5L294.3 233.9L293.8 233.5L293.3 233L292.7 232.5L292.3 232.1L291.6 231.5L291.3 231.2L290.5 230.5L290.3 230.3L289.4 229.5L289.3 229.4L288.3 228.6L288.2 228.5L287.3 227.8L287 227.5L286.3 227L285.3 227.1ZM260.3 251.2L260.5 251.5L260.6 252.5L260.3 253.5L259.6 252.5L259.8 251.5ZM260.3 254.5L260.6 255.5L261.3 256.3L261.4 256.5L261.9 257.5L262.2 258.5L262.3 259.5L262.2 260.5L262.1 261.5L262.1 262.5L262.3 263.5L262.3 263.7L262.5 264.5L262.8 265.5L263 266.5L263.1 267.5L263.3 268.5L263.3 268.6L264.3 269.2L265.3 269.1L266.3 269.1L267.3 269.1L268.3 269.1L269.3 269L270.3 269L271.3 269L272.3 269L273.3 269L274.3 269L275.3 269L276.3 269L277.3 269L278.3 269L279.3 269L280.3 269L281.3 269L282.3 269L283.3 269L284.3 269L285.3 269L286.3 269L287.3 269L288.3 269L289.3 269L290.3 269L291.3 269L292.3 269L293.3 269L294.3 268.9L295.3 268.8L296.3 268.6L296.5 268.5L297.3 268.2L298.3 267.7L298.7 267.5L299.3 267.1L300.3 266.5L300.3 266.5L301.3 265.9L302.1 265.5L302.3 265.4L303.3 265L304.3 264.6L304.8 264.5L305.3 264.4L306.3 264.1L307.3 264L308.3 263.9L309.3 263.8L310.3 263.7L311.3 263.7L312.3 263.7L313.3 263.7L314.3 263.7L315.3 263.7L316.3 263.7L317.3 263.7L318.3 263.7L319.3 263.8L320.3 263.8L321.3 263.9L322.3 264.1L323.3 264.3L324.1 264.5L324.3 264.5L325.3 264.8L326.3 265.2L326.8 265.5L327.3 265.8L328.3 266.5L328.3 266.5L329.3 267.4L329.4 267.5L330.1 268.5L330.3 269L330.5 269.5L330.9 270.5L331.1 271.5L331.2 272.5L331.2 273.5L331.2 274.5L331.2 275.5L331.2 276.5L331.2 277.5L331.1 278.5L330.9 279.5L330.6 280.5L330.3 281.3L330.2 281.5L329.6 282.5L329.3 282.8L328.7 283.5L328.3 283.8L327.3 284.5L327.3 284.5L326.3 285L325.3 285.4L325 285.5L324.3 285.7L323.3 286L322.3 286.2L321.3 286.3L320.3 286.4L319.3 286.5L318.6 286.5L318.3 286.5L317.3 286.6L316.3 286.6L315.3 286.6L314.3 286.6L313.3 286.6L312.3 286.6L311.3 286.5L310.3 286.5L310.3 286.5L309.3 286.4L308.3 286.4L307.3 286.3L306.3 286.1L305.3 285.9L304.3 285.6L303.9 285.5L303.3 285.3L302.3 284.9L301.5 284.5L301.3 284.4L300.3 283.8L299.9 283.5L299.3 283.2L298.3 282.6L298.1 282.5L297.3 282.2L296.3 281.8L295.3 281.6L294.5 281.5L294.3 281.5L293.3 281.4L292.3 281.4L291.3 281.4L290.3 281.3L289.3 281.3L288.3 281.3L287.3 281.3L286.3 281.3L285.3 281.3L284.3 281.3L283.3 281.3L282.3 281.3L281.3 281.3L280.3 281.3L279.3 281.3L278.3 281.3L277.3 281.3L276.3 281.3L275.3 281.3L274.3 281.3L273.3 281.3L272.3 281.3L271.3 281.3L270.3 281.3L269.3 281.3L268.3 281.3L267.3 281.3L266.3 281.3L265.3 281.3L264.3 281.2L263.7 281.5L263.3 281.8L263.2 282.5L263.1 283.5L263.1 284.5L263.1 285.5L263.1 286.5L263.1 287.5L263.1 288.5L263.1 289.5L263.1 290.5L263.1 291.5L263.1 292.5L263.1 293.5L263.1 294.5L262.3 294.5L262.2 294.5L262.2 293.5L262.2 292.5L262.2 291.5L262.2 290.5L262.2 289.5L262.2 288.5L262.2 287.5L262.2 286.5L262.2 285.5L262.2 284.5L262.3 283.5L262.3 282.5L262.3 282.1L262.4 281.5L262.5 280.5L262.6 279.5L262.6 278.5L262.6 277.5L262.6 276.5L262.6 275.5L262.6 274.5L262.6 273.5L262.6 272.5L262.6 271.5L262.5 270.5L262.4 269.5L262.3 268.5L262.3 268.4L262.2 267.5L262.2 266.5L262.1 265.5L261.9 264.5L261.8 263.5L261.7 262.5L261.6 261.5L261.7 260.5L261.8 259.5L261.6 258.5L261.3 257.5L261.3 257.5L260.5 256.5L260.3 256.3L259.8 256.5L259.3 256.7L258.3 257.1L257.3 256.8L256.3 256.7L255.3 256.8L254.3 257.5L254.3 257.5L253.3 258.4L253.2 258.5L252.3 259.2L252.1 259.5L251.7 260.5L251.6 261.5L251.6 262.5L251.5 263.5L251.5 264.5L251.5 265.5L251.5 266.5L251.5 267.5L251.5 268.5L251.5 269.5L251.5 270.5L251.5 271.5L251.5 272.5L251.5 273.5L251.5 274.5L251.5 275.5L251.5 276.5L251.5 277.5L251.5 278.5L251.5 279.5L251.5 280.5L251.5 281.5L251.5 282.5L251.5 283.5L251.5 284.5L251.5 285.5L251.5 286.5L251.5 287.5L251.6 288.5L251.6 289.5L251.8 290.5L252 291.5L252.2 292.5L252.3 293L252.5 293.5L252.6 294.5L252.3 294.5L251.8 294.5L251.7 293.5L251.5 292.5L251.3 291.7L251.2 291.5L250.8 290.5L250.3 289.6L250.2 289.5L249.4 288.5L249.3 288.4L248.5 287.5L248.3 287.3L247.5 286.5L247.3 286.3L246.6 285.5L246.3 285.2L245.7 284.5L245.3 284L244.8 283.5L244.3 282.9L244 282.5L243.3 281.7L243.2 281.5L242.4 280.5L242.3 280.3L241.8 279.5L241.3 278.7L241.2 278.5L240.7 277.5L240.4 276.5L240.3 275.8L240.3 275.5L240.3 274.5L240.3 274.5L240.5 273.5L240.9 272.5L241.3 271.8L241.4 271.5L242.1 270.5L242.3 270.2L242.8 269.5L243.3 268.8L243.6 268.5L244.3 267.6L244.4 267.5L245.2 266.5L245.3 266.4L246.1 265.5L246.3 265.3L247 264.5L247.3 264.2L248 263.5L248.3 263.2L248.9 262.5L249.3 262.1L249.9 261.5L249.3 261.1L248.9 261.5L248.3 262.1L247.9 262.5L247.3 263.1L246.9 263.5L246.3 264.1L245.9 264.5L245.3 265.1L244.9 265.5L244.3 266.1L243.9 266.5L243.3 267.1L242.9 267.5L242.3 268.1L241.9 268.5L241.3 269.1L240.9 269.5L240.3 270.1L239.9 270.5L239.3 271.1L238.9 271.5L238.3 272L237.9 272.5L237.3 273L236.8 273.5L236.3 274L235.8 274.5L235.3 275L234.8 275.5L234.3 276L233.3 276L232.8 276.5L232.3 277L231.8 277.5L231.3 278L230.9 278.5L230.3 279L229.9 279.5L229.3 280.1L228.9 280.5L228.3 281.1L227.9 281.5L227.3 282.1L226.9 282.5L226.3 283.1L225.9 283.5L225.3 284.1L224.9 284.5L224.3 285.1L223.9 285.5L223.3 286.1L222.9 286.5L222.3 287.1L221.9 287.5L221.3 288L220.8 288.5L220.3 289L219.8 289.5L219.3 290L218.8 290.5L218.3 291L217.8 291.5L217.3 292L216.8 292.5L216.3 293L215.8 293.5L215.3 294L215.3 293.5L215.3 292.8L215.6 292.5L216.3 291.8L216.6 291.5L217.3 290.8L217.6 290.5L218.3 289.7L218.5 289.5L219.3 288.7L219.5 288.5L220.3 287.6L220.4 287.5L221.3 286.5L221.3 286.5L222.2 285.5L222.3 285.4L223.1 284.5L223.3 284.2L223.9 283.5L224.3 283L224.7 282.5L225.3 281.8L225.6 281.5L226.3 280.6L226.4 280.5L227.2 279.5L227.3 279.2L227.8 278.5L228.2 277.5L228.3 276.8L228.4 276.5L228.5 275.5L228.4 274.5L228.3 274.3L228.1 273.5L227.7 272.5L227.3 271.8L227.1 271.5L226.5 270.5L226.3 270.2L225.8 269.5L225.3 268.8L225.1 268.5L224.4 267.5L224.3 267.4L223.5 266.5L223.3 266.3L222.6 265.5L222.3 265.1L221.8 264.5L221.3 264L220.8 263.5L220.3 262.9L219.9 262.5L219.3 261.8L219 261.5L218.3 260.9L217.9 260.5L217.3 260.2L216.3 259.7L215.5 259.5L215.3 259.5L215.3 258.6L216.3 258.7L217.3 259L218.3 259.2L219.1 259.5L219.3 259.6L220.3 260.3L220.6 260.5L221.3 261.1L221.7 261.5L222.3 262L222.9 262.5L223.3 262.9L224 263.5L224.3 263.8L225.1 264.5L225.3 264.6L226.3 265.5L226.3 265.5L227.3 266.2L227.7 266.5L228.3 267L229 267.5L229.3 267.7L230.3 268.3L230.6 268.5L231.3 268.9L232.3 269.3L233 269.5L233.3 269.6L234.3 269.7L235.3 269.7L236.2 269.5L236.3 269.5L237.3 269.1L238.3 268.7L238.5 268.5L239.3 268.1L240.2 267.5L240.3 267.4L241.3 266.7L241.5 266.5L242.3 265.9L242.8 265.5L243.3 265.1L244 264.5L244.3 264.3L245.2 263.5L245.3 263.4L246.3 262.6L246.4 262.5L247.3 261.6L247.5 261.5L248.3 260.7L248.5 260.5L249.3 260L249.9 259.5L250.3 259.4L251.3 259.2L251.8 258.5L252.3 257.8L253 257.5L253.3 257.2L254.3 256.5L254.3 256.5L255.3 255.7L256.3 255.6L257.3 255.7L258.3 256L259.3 255.6L259.4 255.5ZM249.9 260.5L250.3 261L250.5 260.5L250.3 260ZM311 266.5L310.3 266.6L309.3 266.7L308.3 266.9L307.3 267.1L306.3 267.5L306.2 267.5L305.3 267.9L304.3 268.4L304 268.5L303.3 268.7L302.3 269.1L301.3 269.4L301.1 269.5L300.3 269.9L299.4 270.5L299.3 270.6L298.7 271.5L298.4 272.5L298.3 273.5L298.3 273.8L298.3 274.5L298.3 275.5L298.3 276.5L298.3 276.6L298.4 277.5L298.6 278.5L299.1 279.5L299.3 279.7L300.3 280.5L300.4 280.5L301.3 280.9L302.3 281.3L303 281.5L303.3 281.6L304.3 281.9L305.3 282.3L305.6 282.5L306.3 282.8L307.3 283.1L308.3 283.4L308.7 283.5L309.3 283.6L310.3 283.7L311.3 283.8L312.3 283.8L313.3 283.8L314.3 283.8L315.3 283.8L316.3 283.8L317.3 283.8L318.3 283.8L319.3 283.7L320.3 283.5L320.3 283.5L321.3 283.2L322.3 282.9L323.2 282.5L323.3 282.5L324.3 281.8L324.6 281.5L325.3 280.6L325.4 280.5L325.9 279.5L326.2 278.5L326.3 277.7L326.3 277.5L326.4 276.5L326.4 275.5L326.4 274.5L326.4 273.5L326.3 272.6L326.3 272.5L326.1 271.5L325.8 270.5L325.3 269.6L325.2 269.5L324.3 268.5L324.3 268.5L323.3 267.8L322.7 267.5L322.3 267.3L321.3 267L320.3 266.8L319.3 266.6L318.3 266.5L318 266.5L317.3 266.5L316.3 266.4L315.3 266.4L314.3 266.4L313.3 266.4L312.3 266.4L311.3 266.5Z" fill="#fde0d2" stroke="#fde0d2" stroke-width="0.25" fill-rule="evenodd"/>
<path d="M252.3 172.5L253.3 172.5L253.5 172.5L253.5 173.5L253.5 174.5L253.5 175.5L253.5 176.5L253.5 177.5L253.5 178.5L253.5 179.5L253.5 180.5L253.5 181.5L253.5 182.5L253.5 183.5L253.5 184.5L253.5 185.5L253.5 186.5L253.5 187.5L253.5 188.5L253.5 189.5L253.5 190.5L253.5 191.5L253.5 192.5L253.5 193.5L253.5 194.5L253.5 195.5L253.5 196.5L253.5 197.5L253.5 198.5L253.5 199.5L253.5 200.5L253.5 201.5L253.5 202.5L253.5 203.5L253.5 204.5L253.5 205.5L253.5 206.5L253.5 207.5L253.5 208.5L253.5 209.5L253.5 210.5L253.5 211.5L253.5 212.5L253.5 213.5L253.5 214.5L253.5 215.5L253.5 216.5L253.5 217.5L253.5 218.5L253.5 219.5L253.5 220.5L253.5 221.5L253.5 222.5L253.5 223.5L253.5 224.5L253.5 225.5L253.5 226.5L253.5 227.5L253.5 228.5L253.5 229.5L253.5 230.5L253.5 231.5L253.5 232.5L253.5 233.5L253.5 234.5L253.5 235.5L253.5 236.5L253.4 237.5L253.4 238.5L253.4 239.5L253.4 240.5L253.4 241.5L253.4 242.5L253.3 243.5L253.3 244.5L253.3 245.5L253.4 246.5L253.7 247.5L254.3 248L255.1 248.5L255.3 248.6L256.3 248.7L257.3 248.6L257.8 248.5L258.3 248.3L258.7 248.5L259.3 248.7L260.3 248.9L260.6 248.5L261.1 247.5L261.2 246.5L261.2 245.5L261.2 244.5L261.2 243.5L261.2 242.5L261.2 241.5L261.2 240.5L261.2 239.5L261.2 238.5L261.2 237.5L261.2 236.5L261.2 235.5L261.2 234.5L261.2 233.5L261.2 232.5L261.2 231.5L261.2 230.5L261.2 229.5L261.2 228.5L261.2 227.5L261.2 226.5L261.2 225.5L261.2 224.5L261.2 223.5L261.2 222.5L261.2 221.5L261.2 220.5L261.2 219.5L261.2 218.5L261.2 217.5L261.2 216.5L261.2 215.5L261.2 214.5L261.2 213.5L261.2 212.5L261.2 211.5L261.2 210.5L261.2 209.5L261.2 208.5L261.2 207.5L261.2 206.5L261.2 205.5L261.2 204.5L261.2 203.5L261.2 202.5L261.2 201.5L261.2 200.5L261.1 199.5L261.1 198.5L261.3 198.1L261.6 197.5L261.6 196.5L261.6 195.5L261.6 194.5L261.6 193.5L261.6 192.5L261.6 191.5L261.3 190.9L261.1 190.5L261.1 189.5L261.2 188.5L261.2 187.5L261.2 186.5L261.2 185.5L261.2 184.5L261.2 183.5L261.2 182.5L261.2 181.5L261.2 180.5L261.2 179.5L261.2 178.5L261.2 177.5L261.2 176.5L261.2 175.5L261.2 174.5L261.2 173.5L261.3 173.4L261.8 172.5L262.3 172.5L262.7 172.5L262.3 172.8L261.9 173.5L261.9 174.5L261.9 175.5L261.9 176.5L261.9 177.5L261.9 178.5L261.9 179.5L261.9 180.5L261.9 181.5L261.9 182.5L261.9 183.5L261.9 184.5L261.8 185.5L261.8 186.5L261.7 187.5L261.7 188.5L261.7 189.5L261.6 190.5L262.1 191.5L262.1 192.5L262.1 193.5L262.1 194.5L262.1 195.5L262.1 196.5L262.1 197.5L261.6 198.5L261.7 199.5L261.7 200.5L261.7 201.5L261.8 202.5L261.9 203.5L261.9 204.5L261.9 205.5L261.9 206.5L261.9 207.5L261.9 208.5L261.9 209.5L261.9 210.5L261.9 211.5L261.9 212.5L261.9 213.5L261.9 214.5L261.9 215.5L261.9 216.5L261.9 217.5L261.9 218.5L261.9 219.5L261.9 220.5L261.9 221.5L261.9 222.5L261.9 223.5L261.9 224.5L261.9 225.5L261.9 226.5L261.9 227.5L261.9 228.5L261.9 229.5L261.9 230.5L261.9 231.5L261.9 232.5L261.9 233.5L261.9 234.5L261.9 235.5L261.9 236.5L261.9 237.5L261.9 238.5L261.9 239.5L261.9 240.5L261.9 241.5L261.9 242.5L261.9 243.5L261.9 244.5L261.9 245.5L261.9 246.5L261.8 247.5L261.3 248.2L261.2 248.5L260.4 249.5L260.3 249.6L260 249.5L259.3 249.3L258.3 249L257.3 249.2L256.3 249.3L255.3 249.2L254.3 248.8L253.8 248.5L253.3 248.2L252.3 247.8L251.3 247.5L250.3 247.6L249.3 247.8L248.3 247.8L247.3 247.7L246.3 247.5L246.2 247.5L245.3 246.5L245.3 246.5L245.2 245.5L245.2 244.5L245.3 243.8L245.3 243.5L245.7 242.5L246.3 241.7L246.5 241.5L247.3 240.7L247.6 240.5L248.3 239.5L248.3 239.4L249.3 239.5L249.3 239.5L250 240.5L250.3 240.7L251.3 240.6L251.3 240.5L251.5 239.5L251.5 238.5L251.5 237.5L251.6 236.5L251.6 235.5L251.7 234.5L251.7 233.5L251.7 232.5L251.7 231.5L251.8 230.5L251.8 229.5L251.8 228.5L251.8 227.5L251.8 226.5L251.8 225.5L251.8 224.5L251.8 223.5L251.8 222.5L251.8 221.5L251.8 220.5L251.8 219.5L251.8 218.5L251.8 217.5L251.8 216.5L251.8 215.5L251.8 214.5L251.8 213.5L251.8 212.5L251.8 211.5L251.8 210.5L251.8 209.5L251.8 208.5L251.8 207.5L251.8 206.5L251.8 205.5L251.8 204.5L251.8 203.5L251.8 202.5L251.8 201.5L251.8 200.5L251.8 199.5L251.8 198.5L251.8 197.5L251.8 196.5L251.8 195.5L251.8 194.5L251.8 193.5L251.8 192.5L251.8 191.5L251.8 190.5L251.8 189.5L251.8 188.5L251.8 187.5L251.8 186.5L251.8 185.5L251.8 184.5L251.8 183.5L251.8 182.5L251.8 181.5L251.8 180.5L251.8 179.5L251.8 178.5L251.8 177.5L251.8 176.5L251.8 175.5L251.8 174.5L251.8 173.5L251.8 172.5ZM310.3 172.5L311.3 172.5L311.7 172.5L311.7 173.5L311.7 174.5L311.7 175.5L311.7 176.5L311.7 177.5L311.7 178.5L311.7 179.5L311.7 180.5L311.7 181.5L311.7 182.5L311.7 183.5L311.8 184.5L312 185.5L312.3 186.1L312.7 186.5L313.3 186.8L314.3 187.1L315.3 187.1L316.3 187.2L317.3 187.2L318.3 187.2L319.3 187.1L320.3 187L321.3 186.7L321.6 186.5L322.3 185.5L322.3 185.5L322.4 184.5L322.4 183.5L322.4 182.5L322.4 181.5L322.4 180.5L322.4 179.5L322.4 178.5L322.4 177.5L322.4 176.5L322.4 175.5L322.4 174.5L322.4 173.5L322.6 172.5L323.3 172.5L324.3 172.5L324.4 172.5L324.3 172.5L323.3 173.1L323.1 173.5L323.1 174.5L323.1 175.5L323.1 176.5L323.1 177.5L323.1 178.5L323.1 179.5L323.1 180.5L323.1 181.5L323.1 182.5L323.1 183.5L323.1 184.5L323 185.5L322.9 186.5L322.6 187.5L322.3 188.3L321.7 188.5L321.3 188.6L320.3 188.8L319.3 188.9L318.3 188.9L317.3 188.9L316.3 188.9L315.3 188.9L314.3 188.8L313.3 188.8L312.3 188.6L312.1 188.5L311.3 188.2L310.6 187.5L310.3 186.9L310.1 186.5L309.9 185.5L309.9 184.5L309.9 183.5L309.9 182.5L309.8 181.5L309.8 180.5L309.8 179.5L309.8 178.5L309.8 177.5L309.8 176.5L309.8 175.5L309.8 174.5L309.8 173.5L309.8 172.5ZM311.3 210.4L312.3 210.3L313.3 210.2L313.9 210.5L314.3 210.9L315.3 210.8L316.3 210.8L317.3 210.8L318.3 210.8L319.3 210.8L320.3 210.9L321.3 211.1L322.1 211.5L322.3 211.7L323 212.5L323.2 213.5L323.3 214.4L323.3 214.5L323.3 215.5L323.4 216.5L323.4 217.5L323.4 218.5L323.4 219.5L323.4 220.5L323.4 221.5L323.4 222.5L323.4 223.5L323.4 224.5L323.4 225.5L323.4 226.5L323.4 227.5L323.4 228.5L323.4 229.5L323.4 230.5L323.4 231.5L323.4 232.5L323.4 233.5L323.4 234.5L323.4 235.5L323.4 236.5L323.4 237.5L323.4 238.5L323.4 239.5L323.4 240.5L323.4 241.5L323.4 242.5L324.3 242.9L325.3 243.3L325.8 243.5L325.8 244.5L325.7 245.5L325.4 246.5L325.3 246.6L324.3 247.2L323.7 247.5L323.3 247.5L322.3 247.7L321.3 247.8L320.8 247.5L320.3 247.1L319.3 247.2L318.3 247.2L317.3 247.2L316.3 247.2L315.3 247.2L314.3 247.1L313.8 247.5L313.3 247.7L312.3 247.6L311.4 247.5L311.3 247.4L310.3 246.8L309.9 246.5L309.7 245.5L309.6 244.5L309.5 243.5L309.5 242.5L309.5 241.5L309.5 240.5L309.5 239.5L309.5 238.5L309.5 237.5L309.5 236.5L309.5 235.5L309.5 234.5L309.5 233.5L309.5 232.5L309.5 231.5L309.5 230.5L309.5 229.5L309.5 228.5L309.5 227.5L309.5 226.5L309.5 225.5L309.5 224.5L309.5 223.5L309.5 222.5L309.5 221.5L309.5 220.5L309.5 219.5L309.5 218.5L309.5 217.5L309.5 216.5L309.5 215.5L309.6 214.5L309.6 213.5L309.7 212.5L310 211.5L310.3 211.1L310.9 210.5ZM312.9 211.5L312.3 212.1L312 212.5L311.7 213.5L311.6 214.5L311.6 215.5L311.6 216.5L311.6 217.5L311.6 218.5L311.6 219.5L311.6 220.5L311.6 221.5L311.6 222.5L311.6 223.5L311.6 224.5L311.6 225.5L311.6 226.5L311.6 227.5L311.6 228.5L311.6 229.5L311.6 230.5L311.6 231.5L311.6 232.5L311.6 233.5L311.6 234.5L311.6 235.5L311.6 236.5L311.6 237.5L311.6 238.5L311.6 239.5L311.6 240.5L311.6 241.5L311.6 242.5L311.6 243.5L311.7 244.5L312 245.5L312.3 246L312.8 246.5L313.3 246.7L313.6 246.5L314.3 245.9L315.3 246.1L316.3 246.2L317.3 246.3L318.3 246.2L319.3 246.1L320.3 245.8L321 246.5L321.3 246.7L321.9 246.5L322.3 246.2L322.8 245.5L323.1 244.5L323.1 243.5L322.3 243L321.7 242.5L321.7 241.5L321.7 240.5L321.7 239.5L321.7 238.5L321.7 237.5L321.7 236.5L321.7 235.5L321.7 234.5L321.7 233.5L321.7 232.5L321.7 231.5L321.7 230.5L321.7 229.5L321.7 228.5L321.7 227.5L321.7 226.5L321.7 225.5L321.7 224.5L321.7 223.5L321.7 222.5L321.7 221.5L321.7 220.5L321.7 219.5L321.7 218.5L321.7 217.5L321.7 216.5L321.6 215.5L321.6 214.5L321.4 213.5L321.3 213.4L320.6 212.5L320.3 212.3L319.3 212.1L318.3 212L317.3 212L316.3 212L315.3 212L314.3 212.3L313.5 211.5L313.3 211.3ZM285.3 227.1L286.3 227L287 227.5L287.3 227.8L288.2 228.5L288.3 228.6L289.3 229.4L289.4 229.5L290.3 230.3L290.5 230.5L291.3 231.2L291.6 231.5L292.3 232.1L292.7 232.5L293.3 233L293.8 233.5L294.3 233.9L295 234.5L295.3 234.8L296.1 235.5L296.3 235.7L297.2 236.5L297.3 236.6L297.9 237.5L298.3 238.5L298.3 238.5L298.3 238.6L297.3 239.4L296.9 239.5L296.3 239.6L295.3 239.6L294.3 239.6L293.3 239.6L292.3 239.6L291.3 239.6L290.3 239.6L289.3 239.6L288.3 239.6L287.3 239.6L286.3 239.6L285.3 239.6L284.3 239.6L283.3 239.6L282.3 239.6L281.3 239.6L280.3 239.6L279.3 239.6L278.3 239.5L278 239.5L277.3 239.4L276.3 238.7L276.2 238.5L276.1 237.5L276.3 236.7L276.3 236.5L277 235.5L277.3 235.1L277.8 234.5L278.3 233.9L278.7 233.5L279.3 232.8L279.6 232.5L280.3 231.8L280.6 231.5L281.3 230.8L281.6 230.5L282.3 229.9L282.7 229.5L283.3 228.9L283.7 228.5L284.3 228L284.8 227.5ZM260.3 256.3L260.5 256.5L261.3 257.5L261.3 257.5L261.6 258.5L261.8 259.5L261.7 260.5L261.6 261.5L261.7 262.5L261.8 263.5L261.9 264.5L262.1 265.5L262.2 266.5L262.2 267.5L262.3 268.4L262.3 268.5L262.4 269.5L262.5 270.5L262.6 271.5L262.6 272.5L262.6 273.5L262.6 274.5L262.6 275.5L262.6 276.5L262.6 277.5L262.6 278.5L262.6 279.5L262.5 280.5L262.4 281.5L262.3 282.1L262.3 282.5L262.3 283.5L262.2 284.5L262.2 285.5L262.2 286.5L262.2 287.5L262.2 288.5L262.2 289.5L262.2 290.5L262.2 291.5L262.2 292.5L262.2 293.5L262.2 294.5L261.7 294.5L261.7 293.5L261.7 292.5L261.7 291.5L261.7 290.5L261.7 289.5L261.7 288.5L261.7 287.5L261.7 286.5L261.7 285.5L261.7 284.5L261.7 283.5L261.7 282.5L261.8 281.5L261.8 280.5L261.8 279.5L261.9 278.5L261.9 277.5L261.9 276.5L261.9 275.5L261.9 274.5L261.9 273.5L261.9 272.5L261.9 271.5L261.8 270.5L261.8 269.5L261.7 268.5L261.7 267.5L261.6 266.5L261.5 265.5L261.4 264.5L261.3 263.7L261.3 263.5L261.1 262.5L261.1 261.5L261.1 260.5L261.2 259.5L261 258.5L260.4 257.5L260.3 257.3L259.9 257.5L259.3 257.8L258.3 258.2L257.3 257.8L256.3 257.7L255.3 257.9L254.4 258.5L254.3 258.6L253.4 259.5L253.3 259.8L253 260.5L253 261.5L252.9 262.5L252.9 263.5L252.9 264.5L252.9 265.5L252.9 266.5L252.9 267.5L252.9 268.5L252.9 269.5L252.9 270.5L252.9 271.5L252.9 272.5L252.9 273.5L252.9 274.5L252.9 275.5L252.9 276.5L252.9 277.5L252.9 278.5L252.9 279.5L252.9 280.5L252.9 281.5L252.9 282.5L252.9 283.5L252.9 284.5L252.9 285.5L252.9 286.5L252.9 287.5L252.9 288.5L252.9 289.5L253 290.5L253.1 291.5L253.3 292.5L253.3 292.7L253.5 293.5L253.7 294.5L253.3 294.5L252.6 294.5L252.5 293.5L252.3 293L252.2 292.5L252 291.5L251.8 290.5L251.6 289.5L251.6 288.5L251.5 287.5L251.5 286.5L251.5 285.5L251.5 284.5L251.5 283.5L251.5 282.5L251.5 281.5L251.5 280.5L251.5 279.5L251.5 278.5L251.5 277.5L251.5 276.5L251.5 275.5L251.5 274.5L251.5 273.5L251.5 272.5L251.5 271.5L251.5 270.5L251.5 269.5L251.5 268.5L251.5 267.5L251.5 266.5L251.5 265.5L251.5 264.5L251.5 263.5L251.6 262.5L251.6 261.5L251.7 260.5L252.1 259.5L252.3 259.2L253.2 258.5L253.3 258.4L254.3 257.5L254.3 257.5L255.3 256.8L256.3 256.7L257.3 256.8L258.3 257.1L259.3 256.7L259.8 256.5ZM215.5 259.5L216.3 259.7L217.3 260.2L217.9 260.5L218.3 260.9L219 261.5L219.3 261.8L219.9 262.5L220.3 262.9L220.8 263.5L221.3 264L221.8 264.5L222.3 265.1L222.6 265.5L223.3 266.3L223.5 266.5L224.3 267.4L224.4 267.5L225.1 268.5L225.3 268.8L225.8 269.5L226.3 270.2L226.5 270.5L227.1 271.5L227.3 271.8L227.7 272.5L228.1 273.5L228.3 274.3L228.4 274.5L228.5 275.5L228.4 276.5L228.3 276.8L228.2 277.5L227.8 278.5L227.3 279.2L227.2 279.5L226.4 280.5L226.3 280.6L225.6 281.5L225.3 281.8L224.7 282.5L224.3 283L223.9 283.5L223.3 284.2L223.1 284.5L222.3 285.4L222.2 285.5L221.3 286.5L221.3 286.5L220.4 287.5L220.3 287.6L219.5 288.5L219.3 288.7L218.5 289.5L218.3 289.7L217.6 290.5L217.3 290.8L216.6 291.5L216.3 291.8L215.6 292.5L215.3 292.8L215.3 292.5L215.3 291.5L215.3 290.5L215.3 289.5L215.3 288.5L215.3 287.5L215.3 286.5L215.3 285.5L215.3 284.5L215.3 283.5L215.3 282.5L215.3 281.5L215.3 280.5L215.3 279.5L215.3 278.5L215.3 277.5L215.3 276.5L215.3 275.5L215.3 274.5L215.3 273.5L215.3 272.5L215.3 271.5L215.3 270.5L215.3 269.5L215.3 268.5L215.3 267.5L215.3 266.5L215.3 265.5L215.3 264.5L215.3 263.5L215.3 262.5L215.3 261.5L215.3 260.5L215.3 259.5L215.3 259.5ZM218.5 274.5L218.3 274.6L217.5 275.5L217.5 276.5L218.3 277.5L218.3 277.5L219.3 278.4L220.3 278.4L221.3 278.5L222.3 278.4L223.3 278.3L224.1 277.5L224.3 277.3L224.9 276.5L224.8 275.5L224.3 274.9L223.9 274.5L223.3 273.9L222.3 273.6L221.3 273.6L220.3 273.6L219.3 273.7ZM311.3 266.5L312.3 266.4L313.3 266.4L314.3 266.4L315.3 266.4L316.3 266.4L317.3 266.5L318 266.5L318.3 266.5L319.3 266.6L320.3 266.8L321.3 267L322.3 267.3L322.7 267.5L323.3 267.8L324.3 268.5L324.3 268.5L325.2 269.5L325.3 269.6L325.8 270.5L326.1 271.5L326.3 272.5L326.3 272.6L326.4 273.5L326.4 274.5L326.4 275.5L326.4 276.5L326.3 277.5L326.3 277.7L326.2 278.5L325.9 279.5L325.4 280.5L325.3 280.6L324.6 281.5L324.3 281.8L323.3 282.5L323.2 282.5L322.3 282.9L321.3 283.2L320.3 283.5L320.3 283.5L319.3 283.7L318.3 283.8L317.3 283.8L316.3 283.8L315.3 283.8L314.3 283.8L313.3 283.8L312.3 283.8L311.3 283.8L310.3 283.7L309.3 283.6L308.7 283.5L308.3 283.4L307.3 283.1L306.3 282.8L305.6 282.5L305.3 282.3L304.3 281.9L303.3 281.6L303 281.5L302.3 281.3L301.3 280.9L300.4 280.5L300.3 280.5L299.3 279.7L299.1 279.5L298.6 278.5L298.4 277.5L298.3 276.6L298.3 276.5L298.3 275.5L298.3 274.5L298.3 273.8L298.3 273.5L298.4 272.5L298.7 271.5L299.3 270.6L299.4 270.5L300.3 269.9L301.1 269.5L301.3 269.4L302.3 269.1L303.3 268.7L304 268.5L304.3 268.4L305.3 267.9L306.2 267.5L306.3 267.5L307.3 267.1L308.3 266.9L309.3 266.7L310.3 266.6L311 266.5ZM311.3 269.5L310.3 269.7L309.3 270.1L308.7 270.5L308.3 270.8L307.5 271.5L307.3 271.8L306.8 272.5L306.5 273.5L306.5 274.5L306.6 275.5L306.9 276.5L307.1 277.5L307.3 277.8L307.7 278.5L308.3 279.3L308.6 279.5L309.3 280L310.3 280.5L310.3 280.5L311.3 280.8L312.3 281L313.3 281.1L314.3 281.1L315.3 281.1L316.3 281.1L317.3 281L318.3 280.9L319.3 280.6L319.4 280.5L320.3 280.1L321.2 279.5L321.3 279.4L322 278.5L322.3 278L322.5 277.5L322.7 276.5L322.8 275.5L322.9 274.5L322.8 273.5L322.4 272.5L322.3 272.3L321.8 271.5L321.3 271.1L320.5 270.5L320.3 270.4L319.3 269.8L318.3 269.6L317.8 269.5L317.3 269.3L316.3 269.1L315.3 269L314.3 269L313.3 269L312.3 269.2L311.3 269.5Z" fill="#fcbb91" stroke="#fcbb91" stroke-width="0.25" fill-rule="evenodd"/>
<path d="M254.3 172.5L254.9 172.5L254.9 173.5L254.9 174.5L254.9 175.5L254.9 176.5L254.9 177.5L254.9 178.5L254.9 179.5L254.9 180.5L254.9 181.5L254.9 182.5L254.9 183.5L254.9 184.5L254.9 185.5L254.9 186.5L254.9 187.5L254.9 188.5L254.9 189.5L254.9 190.5L254.9 191.5L254.9 192.5L254.9 193.5L254.9 194.5L254.9 195.5L254.9 196.5L254.9 197.5L254.9 198.5L254.9 199.5L254.9 200.5L254.9 201.5L254.9 202.5L254.9 203.5L254.9 204.5L254.9 205.5L254.9 206.5L254.9 207.5L254.9 208.5L254.9 209.5L254.9 210.5L254.9 211.5L254.9 212.5L254.9 213.5L254.9 214.5L254.9 215.5L254.9 216.5L254.9 217.5L254.9 218.5L254.9 219.5L254.9 220.5L254.9 221.5L254.9 222.5L254.9 223.5L254.9 224.5L254.9 225.5L254.9 226.5L254.9 227.5L254.9 228.5L254.9 229.5L254.9 230.5L254.9 231.5L254.9 232.5L254.9 233.5L254.9 234.5L254.9 235.5L254.9 236.5L254.9 237.5L254.9 238.5L254.9 239.5L254.9 240.5L254.9 241.5L254.8 242.5L254.8 243.5L254.8 244.5L254.8 245.5L254.9 246.5L255.2 247.5L255.3 247.6L256.3 247.7L257.3 247.6L257.7 247.5L258.2 246.5L258.3 245.5L258.3 244.5L258.3 243.5L258.3 242.5L258.3 241.5L258.3 240.5L258.3 239.5L258.3 238.5L258.3 237.5L258.3 236.5L258.3 235.5L258.3 234.5L258.3 233.5L258.3 232.5L258.3 231.5L258.3 230.5L258.3 229.5L258.3 228.5L258.3 227.5L258.3 226.5L258.3 225.5L258.3 224.5L258.3 223.5L258.3 222.5L258.3 221.5L258.3 220.5L258.3 219.5L258.3 218.5L258.3 217.5L258.3 216.5L258.3 215.5L258.3 214.5L258.3 213.5L258.3 212.5L258.3 211.5L258.3 210.5L258.3 209.5L258.3 208.5L258.3 207.5L258.3 206.5L258.3 205.5L258.3 204.5L258.3 203.5L258.3 202.5L258.3 201.5L258.3 200.5L258.3 199.5L258.3 198.5L258.3 197.5L258.2 196.5L258.2 195.5L258.2 194.5L258.2 193.5L258.3 192.5L258.3 191.5L258.3 190.5L258.3 189.5L258.3 188.5L258.3 187.5L258.3 186.5L258.3 185.5L258.3 184.5L258.3 183.5L258.3 182.5L258.3 181.5L258.3 180.5L258.3 179.5L258.3 178.5L258.3 177.5L258.3 176.5L258.3 175.5L258.3 174.5L258.3 173.5L258.3 172.5L258.3 172.5L258.3 172.5L258.3 173.5L258.3 174.5L258.3 175.5L258.3 176.5L258.3 177.5L258.3 178.5L258.3 179.5L258.3 180.5L258.3 181.5L258.3 182.5L258.3 183.5L258.3 184.5L258.3 185.5L258.3 186.5L258.3 187.5L258.3 188.5L258.3 189.5L258.3 190.5L258.3 191.5L258.3 192.5L258.3 193.5L258.3 194.5L258.3 195.5L258.3 196.5L258.3 197.5L258.3 198.5L258.3 199.5L258.3 200.5L258.3 201.5L258.3 202.5L258.3 203.5L258.3 204.5L258.3 205.5L258.3 206.5L258.3 207.5L258.3 208.5L258.3 209.5L258.3 210.5L258.3 211.5L258.3 212.5L258.3 213.5L258.3 214.5L258.3 215.5L258.3 216.5L258.3 217.5L258.3 218.5L258.3 219.5L258.3 220.5L258.3 221.5L258.3 222.5L258.3 223.5L258.3 224.5L258.3 225.5L258.3 226.5L258.3 227.5L258.3 228.5L258.3 229.5L258.3 230.5L258.3 231.5L258.3 232.5L258.3 233.5L258.3 234.5L258.3 235.5L258.3 236.5L258.3 237.5L258.3 238.5L258.3 239.5L258.3 240.5L258.3 241.5L258.3 242.5L258.3 243.5L258.3 244.5L258.3 245.5L258.4 246.5L258.8 247.5L259.3 247.7L260.3 248.2L260.6 247.5L260.7 246.5L260.7 245.5L260.7 244.5L260.7 243.5L260.7 242.5L260.7 241.5L260.7 240.5L260.7 239.5L260.7 238.5L260.7 237.5L260.7 236.5L260.7 235.5L260.7 234.5L260.7 233.5L260.7 232.5L260.7 231.5L260.7 230.5L260.7 229.5L260.7 228.5L260.7 227.5L260.7 226.5L260.7 225.5L260.7 224.5L260.7 223.5L260.7 222.5L260.7 221.5L260.7 220.5L260.7 219.5L260.7 218.5L260.7 217.5L260.7 216.5L260.7 215.5L260.7 214.5L260.7 213.5L260.7 212.5L260.7 211.5L260.7 210.5L260.7 209.5L260.7 208.5L260.7 207.5L260.7 206.5L260.7 205.5L260.7 204.5L260.7 203.5L260.7 202.5L260.7 201.5L260.7 200.5L260.7 199.5L260.6 198.5L260.9 197.5L260.9 196.5L260.9 195.5L260.9 194.5L260.9 193.5L260.9 192.5L260.9 191.5L260.6 190.5L260.7 189.5L260.7 188.5L260.7 187.5L260.7 186.5L260.7 185.5L260.7 184.5L260.7 183.5L260.7 182.5L260.7 181.5L260.7 180.5L260.7 179.5L260.7 178.5L260.7 177.5L260.7 176.5L260.7 175.5L260.7 174.5L260.7 173.5L261.1 172.5L261.3 172.5L261.8 172.5L261.3 173.4L261.2 173.5L261.2 174.5L261.2 175.5L261.2 176.5L261.2 177.5L261.2 178.5L261.2 179.5L261.2 180.5L261.2 181.5L261.2 182.5L261.2 183.5L261.2 184.5L261.2 185.5L261.2 186.5L261.2 187.5L261.2 188.5L261.1 189.5L261.1 190.5L261.3 190.9L261.6 191.5L261.6 192.5L261.6 193.5L261.6 194.5L261.6 195.5L261.6 196.5L261.6 197.5L261.3 198.1L261.1 198.5L261.1 199.5L261.2 200.5L261.2 201.5L261.2 202.5L261.2 203.5L261.2 204.5L261.2 205.5L261.2 206.5L261.2 207.5L261.2 208.5L261.2 209.5L261.2 210.5L261.2 211.5L261.2 212.5L261.2 213.5L261.2 214.5L261.2 215.5L261.2 216.5L261.2 217.5L261.2 218.5L261.2 219.5L261.2 220.5L261.2 221.5L261.2 222.5L261.2 223.5L261.2 224.5L261.2 225.5L261.2 226.5L261.2 227.5L261.2 228.5L261.2 229.5L261.2 230.5L261.2 231.5L261.2 232.5L261.2 233.5L261.2 234.5L261.2 235.5L261.2 236.5L261.2 237.5L261.2 238.5L261.2 239.5L261.2 240.5L261.2 241.5L261.2 242.5L261.2 243.5L261.2 244.5L261.2 245.5L261.2 246.5L261.1 247.5L260.6 248.5L260.3 248.9L259.3 248.7L258.7 248.5L258.3 248.3L257.8 248.5L257.3 248.6L256.3 248.7L255.3 248.6L255.1 248.5L254.3 248L253.7 247.5L253.4 246.5L253.3 245.5L253.3 244.5L253.3 243.5L253.4 242.5L253.4 241.5L253.4 240.5L253.4 239.5L253.4 238.5L253.4 237.5L253.5 236.5L253.5 235.5L253.5 234.5L253.5 233.5L253.5 232.5L253.5 231.5L253.5 230.5L253.5 229.5L253.5 228.5L253.5 227.5L253.5 226.5L253.5 225.5L253.5 224.5L253.5 223.5L253.5 222.5L253.5 221.5L253.5 220.5L253.5 219.5L253.5 218.5L253.5 217.5L253.5 216.5L253.5 215.5L253.5 214.5L253.5 213.5L253.5 212.5L253.5 211.5L253.5 210.5L253.5 209.5L253.5 208.5L253.5 207.5L253.5 206.5L253.5 205.5L253.5 204.5L253.5 203.5L253.5 202.5L253.5 201.5L253.5 200.5L253.5 199.5L253.5 198.5L253.5 197.5L253.5 196.5L253.5 195.5L253.5 194.5L253.5 193.5L253.5 192.5L253.5 191.5L253.5 190.5L253.5 189.5L253.5 188.5L253.5 187.5L253.5 186.5L253.5 185.5L253.5 184.5L253.5 183.5L253.5 182.5L253.5 181.5L253.5 180.5L253.5 179.5L253.5 178.5L253.5 177.5L253.5 176.5L253.5 175.5L253.5 174.5L253.5 173.5L253.5 172.5ZM312.3 172.5L313.3 172.5L313.4 172.5L313.4 173.5L313.4 174.5L313.4 175.5L313.4 176.5L313.4 177.5L313.4 178.5L313.4 179.5L313.4 180.5L313.4 181.5L313.5 182.5L313.7 183.5L314 184.5L314.3 184.8L315.3 185.3L316.3 185.4L317.3 185.4L318.3 185.4L319.3 185.2L320.2 184.5L320.3 184.4L320.6 183.5L320.7 182.5L320.8 181.5L320.8 180.5L320.8 179.5L320.8 178.5L320.8 177.5L320.8 176.5L320.8 175.5L320.8 174.5L320.8 173.5L320.8 172.5L321.3 172.5L322.3 172.5L322.6 172.5L322.4 173.5L322.4 174.5L322.4 175.5L322.4 176.5L322.4 177.5L322.4 178.5L322.4 179.5L322.4 180.5L322.4 181.5L322.4 182.5L322.4 183.5L322.4 184.5L322.3 185.5L322.3 185.5L321.6 186.5L321.3 186.7L320.3 187L319.3 187.1L318.3 187.2L317.3 187.2L316.3 187.2L315.3 187.1L314.3 187.1L313.3 186.8L312.7 186.5L312.3 186.1L312 185.5L311.8 184.5L311.7 183.5L311.7 182.5L311.7 181.5L311.7 180.5L311.7 179.5L311.7 178.5L311.7 177.5L311.7 176.5L311.7 175.5L311.7 174.5L311.7 173.5L311.7 172.5ZM313.3 211.3L313.5 211.5L314.3 212.3L315.3 212L316.3 212L317.3 212L318.3 212L319.3 212.1L320.3 212.3L320.6 212.5L321.3 213.4L321.4 213.5L321.6 214.5L321.6 215.5L321.7 216.5L321.7 217.5L321.7 218.5L321.7 219.5L321.7 220.5L321.7 221.5L321.7 222.5L321.7 223.5L321.7 224.5L321.7 225.5L321.7 226.5L321.7 227.5L321.7 228.5L321.7 229.5L321.7 230.5L321.7 231.5L321.7 232.5L321.7 233.5L321.7 234.5L321.7 235.5L321.7 236.5L321.7 237.5L321.7 238.5L321.7 239.5L321.7 240.5L321.7 241.5L321.7 242.5L322.3 243L323.1 243.5L323.1 244.5L322.8 245.5L322.3 246.2L321.9 246.5L321.3 246.7L321 246.5L320.3 245.8L319.3 246.1L318.3 246.2L317.3 246.3L316.3 246.2L315.3 246.1L314.3 245.9L313.6 246.5L313.3 246.7L312.8 246.5L312.3 246L312 245.5L311.7 244.5L311.6 243.5L311.6 242.5L311.6 241.5L311.6 240.5L311.6 239.5L311.6 238.5L311.6 237.5L311.6 236.5L311.6 235.5L311.6 234.5L311.6 233.5L311.6 232.5L311.6 231.5L311.6 230.5L311.6 229.5L311.6 228.5L311.6 227.5L311.6 226.5L311.6 225.5L311.6 224.5L311.6 223.5L311.6 222.5L311.6 221.5L311.6 220.5L311.6 219.5L311.6 218.5L311.6 217.5L311.6 216.5L311.6 215.5L311.6 214.5L311.7 213.5L312 212.5L312.3 212.1L312.9 211.5ZM313.3 213.5L313.1 214.5L313 215.5L313 216.5L313 217.5L313 218.5L313 219.5L313 220.5L313 221.5L313 222.5L313 223.5L313 224.5L313 225.5L313 226.5L312.9 227.5L312.9 228.5L312.9 229.5L312.9 230.5L312.9 231.5L312.9 232.5L312.9 233.5L312.9 234.5L312.9 235.5L312.9 236.5L312.9 237.5L312.9 238.5L312.9 239.5L312.9 240.5L312.9 241.5L312.9 242.5L313 243.5L313.2 244.5L313.3 244.7L313.5 244.5L314.3 243.5L315 244.5L315.3 244.7L316.3 245L317.3 245.1L318.3 245L319.3 244.6L319.5 244.5L320 243.5L320.2 242.5L320.3 241.5L320.3 240.5L320.3 239.5L320.3 238.5L320.3 237.5L320.3 236.5L320.3 235.5L320.3 234.5L320.3 233.5L320.3 232.5L320.3 231.5L320.2 230.5L320.1 229.5L320 228.5L319.9 227.5L319.9 226.5L319.9 225.5L319.9 224.5L319.9 223.5L319.9 222.5L319.9 221.5L319.9 220.5L319.9 219.5L319.9 218.5L319.9 217.5L319.9 216.5L319.8 215.5L319.5 214.5L319.3 214.2L318.3 213.6L317.3 213.5L316.3 213.6L315.3 213.9L314.7 214.5L314.4 215.5L314.3 216.5L314.3 216.7L314.3 216.5L314.2 215.5L313.9 214.5L313.3 213.5L313.3 213.5ZM320.8 243.5L321.3 244.4L321.5 243.5L321.3 243.3ZM260.3 257.3L260.4 257.5L261 258.5L261.2 259.5L261.1 260.5L261.1 261.5L261.1 262.5L261.3 263.5L261.3 263.7L261.4 264.5L261.5 265.5L261.6 266.5L261.7 267.5L261.7 268.5L261.8 269.5L261.8 270.5L261.9 271.5L261.9 272.5L261.9 273.5L261.9 274.5L261.9 275.5L261.9 276.5L261.9 277.5L261.9 278.5L261.8 279.5L261.8 280.5L261.8 281.5L261.7 282.5L261.7 283.5L261.7 284.5L261.7 285.5L261.7 286.5L261.7 287.5L261.7 288.5L261.7 289.5L261.7 290.5L261.7 291.5L261.7 292.5L261.7 293.5L261.7 294.5L261.3 294.5L261.1 294.5L261.1 293.5L261.1 292.5L261.1 291.5L261.1 290.5L261.1 289.5L261.1 288.5L261.1 287.5L261.1 286.5L261.1 285.5L261.1 284.5L261.1 283.5L261.1 282.5L261.1 281.5L261.2 280.5L261.2 279.5L261.2 278.5L261.2 277.5L261.2 276.5L261.2 275.5L261.2 274.5L261.2 273.5L261.2 272.5L261.2 271.5L261.2 270.5L261.1 269.5L261.1 268.5L261 267.5L261 266.5L260.8 265.5L260.7 264.5L260.5 263.5L260.4 262.5L260.4 261.5L260.4 260.5L260.5 259.5L260.3 258.9L259.3 259.3L259 259.5L258.8 260.5L258.8 261.5L258.8 262.5L258.6 263.5L258.5 264.5L258.4 265.5L258.3 266.5L258.3 267.5L258.3 268.5L258.3 267.5L258.3 266.5L258.2 265.5L258.1 264.5L258.1 263.5L258 262.5L258 261.5L258 260.5L257.7 259.5L257.3 259.2L256.3 259L255.3 259.2L255 259.5L254.7 260.5L254.7 261.5L254.7 262.5L254.7 263.5L254.7 264.5L254.7 265.5L254.7 266.5L254.7 267.5L254.7 268.5L254.7 269.5L254.7 270.5L254.7 271.5L254.7 272.5L254.7 273.5L254.7 274.5L254.7 275.5L254.7 276.5L254.7 277.5L254.7 278.5L254.7 279.5L254.7 280.5L254.7 281.5L254.7 282.5L254.7 283.5L254.7 284.5L254.7 285.5L254.7 286.5L254.7 287.5L254.7 288.5L254.7 289.5L254.7 290.5L254.7 291.5L254.7 292.5L254.8 293.5L254.9 294.5L254.3 294.5L253.7 294.5L253.5 293.5L253.3 292.7L253.3 292.5L253.1 291.5L253 290.5L252.9 289.5L252.9 288.5L252.9 287.5L252.9 286.5L252.9 285.5L252.9 284.5L252.9 283.5L252.9 282.5L252.9 281.5L252.9 280.5L252.9 279.5L252.9 278.5L252.9 277.5L252.9 276.5L252.9 275.5L252.9 274.5L252.9 273.5L252.9 272.5L252.9 271.5L252.9 270.5L252.9 269.5L252.9 268.5L252.9 267.5L252.9 266.5L252.9 265.5L252.9 264.5L252.9 263.5L252.9 262.5L253 261.5L253 260.5L253.3 259.8L253.4 259.5L254.3 258.6L254.4 258.5L255.3 257.9L256.3 257.7L257.3 257.8L258.3 258.2L259.3 257.8L259.9 257.5ZM311.3 269.5L312.3 269.2L313.3 269L314.3 269L315.3 269L316.3 269.1L317.3 269.3L317.8 269.5L318.3 269.6L319.3 269.8L320.3 270.4L320.5 270.5L321.3 271.1L321.8 271.5L322.3 272.3L322.4 272.5L322.8 273.5L322.9 274.5L322.8 275.5L322.7 276.5L322.5 277.5L322.3 278L322 278.5L321.3 279.4L321.2 279.5L320.3 280.1L319.4 280.5L319.3 280.6L318.3 280.9L317.3 281L316.3 281.1L315.3 281.1L314.3 281.1L313.3 281.1L312.3 281L311.3 280.8L310.3 280.5L310.3 280.5L309.3 280L308.6 279.5L308.3 279.3L307.7 278.5L307.3 277.8L307.1 277.5L306.9 276.5L306.6 275.5L306.5 274.5L306.5 273.5L306.8 272.5L307.3 271.8L307.5 271.5L308.3 270.8L308.7 270.5L309.3 270.1L310.3 269.7L311.3 269.5ZM311.1 270.5L310.3 270.9L309.3 271.4L309.2 271.5L308.3 272.5L308.3 272.5L308 273.5L308 274.5L308.3 275.2L308.5 275.5L309.3 276.3L309.6 276.5L310.3 276.9L311.3 277.2L312.3 277.4L312.7 277.5L313.3 277.6L314.3 277.7L315.3 277.6L316.1 277.5L316.3 277.5L317.3 277.2L318.3 277L319.2 276.5L319.3 276.4L320.3 275.7L320.5 275.5L321 274.5L321.1 273.5L320.8 272.5L320.3 271.9L319.9 271.5L319.3 271.1L318.3 270.6L318 270.5L317.3 270.3L316.3 270.2L315.3 270.2L314.3 270.1L313.3 270.2L312.3 270.3L311.3 270.4ZM219.3 273.7L220.3 273.6L221.3 273.6L222.3 273.6L223.3 273.9L223.9 274.5L224.3 274.9L224.8 275.5L224.9 276.5L224.3 277.3L224.1 277.5L223.3 278.3L222.3 278.4L221.3 278.5L220.3 278.4L219.3 278.4L218.3 277.5L218.3 277.5L217.5 276.5L217.5 275.5L218.3 274.6L218.5 274.5ZM258.3 282.9L258.3 283.5L258.3 284.5L258.3 285.5L258.3 286.5L258.3 287.5L258.3 288.5L258.3 289.5L258.3 290.5L258.3 291.5L258.3 292.5L258.3 293.5L258.3 294.5L258.3 294.5L258.3 294.5L258.3 293.5L258.3 292.5L258.3 291.5L258.3 290.5L258.3 289.5L258.3 288.5L258.3 287.5L258.3 286.5L258.3 285.5L258.3 284.5L258.3 283.5Z" fill="#f6704f" stroke="#f6704f" stroke-width="0.25" fill-rule="evenodd"/>
<path d="M255.3 172.5L256.3 172.5L257.3 172.5L258.3 172.5L258.3 173.5L258.3 174.5L258.3 175.5L258.3 176.5L258.3 177.5L258.3 178.5L258.3 179.5L258.3 180.5L258.3 181.5L258.3 182.5L258.3 183.5L258.3 184.5L258.3 185.5L258.3 186.5L258.3 187.5L258.3 188.5L258.3 189.5L258.3 190.5L258.3 191.5L258.3 192.5L258.2 193.5L258.2 194.5L258.2 195.5L258.2 196.5L258.3 197.5L258.3 198.5L258.3 199.5L258.3 200.5L258.3 201.5L258.3 202.5L258.3 203.5L258.3 204.5L258.3 205.5L258.3 206.5L258.3 207.5L258.3 208.5L258.3 209.5L258.3 210.5L258.3 211.5L258.3 212.5L258.3 213.5L258.3 214.5L258.3 215.5L258.3 216.5L258.3 217.5L258.3 218.5L258.3 219.5L258.3 220.5L258.3 221.5L258.3 222.5L258.3 223.5L258.3 224.5L258.3 225.5L258.3 226.5L258.3 227.5L258.3 228.5L258.3 229.5L258.3 230.5L258.3 231.5L258.3 232.5L258.3 233.5L258.3 234.5L258.3 235.5L258.3 236.5L258.3 237.5L258.3 238.5L258.3 239.5L258.3 240.5L258.3 241.5L258.3 242.5L258.3 243.5L258.3 244.5L258.3 245.5L258.2 246.5L257.7 247.5L257.3 247.6L256.3 247.7L255.3 247.6L255.2 247.5L254.9 246.5L254.8 245.5L254.8 244.5L254.8 243.5L254.8 242.5L254.9 241.5L254.9 240.5L254.9 239.5L254.9 238.5L254.9 237.5L254.9 236.5L254.9 235.5L254.9 234.5L254.9 233.5L254.9 232.5L254.9 231.5L254.9 230.5L254.9 229.5L254.9 228.5L254.9 227.5L254.9 226.5L254.9 225.5L254.9 224.5L254.9 223.5L254.9 222.5L254.9 221.5L254.9 220.5L254.9 219.5L254.9 218.5L254.9 217.5L254.9 216.5L254.9 215.5L254.9 214.5L254.9 213.5L254.9 212.5L254.9 211.5L254.9 210.5L254.9 209.5L254.9 208.5L254.9 207.5L254.9 206.5L254.9 205.5L254.9 204.5L254.9 203.5L254.9 202.5L254.9 201.5L254.9 200.5L254.9 199.5L254.9 198.5L254.9 197.5L254.9 196.5L254.9 195.5L254.9 194.5L254.9 193.5L254.9 192.5L254.9 191.5L254.9 190.5L254.9 189.5L254.9 188.5L254.9 187.5L254.9 186.5L254.9 185.5L254.9 184.5L254.9 183.5L254.9 182.5L254.9 181.5L254.9 180.5L254.9 179.5L254.9 178.5L254.9 177.5L254.9 176.5L254.9 175.5L254.9 174.5L254.9 173.5L254.9 172.5ZM259.3 172.5L260.3 172.5L261.1 172.5L260.7 173.5L260.7 174.5L260.7 175.5L260.7 176.5L260.7 177.5L260.7 178.5L260.7 179.5L260.7 180.5L260.7 181.5L260.7 182.5L260.7 183.5L260.7 184.5L260.7 185.5L260.7 186.5L260.7 187.5L260.7 188.5L260.7 189.5L260.6 190.5L260.9 191.5L260.9 192.5L260.9 193.5L260.9 194.5L260.9 195.5L260.9 196.5L260.9 197.5L260.6 198.5L260.7 199.5L260.7 200.5L260.7 201.5L260.7 202.5L260.7 203.5L260.7 204.5L260.7 205.5L260.7 206.5L260.7 207.5L260.7 208.5L260.7 209.5L260.7 210.5L260.7 211.5L260.7 212.5L260.7 213.5L260.7 214.5L260.7 215.5L260.7 216.5L260.7 217.5L260.7 218.5L260.7 219.5L260.7 220.5L260.7 221.5L260.7 222.5L260.7 223.5L260.7 224.5L260.7 225.5L260.7 226.5L260.7 227.5L260.7 228.5L260.7 229.5L260.7 230.5L260.7 231.5L260.7 232.5L260.7 233.5L260.7 234.5L260.7 235.5L260.7 236.5L260.7 237.5L260.7 238.5L260.7 239.5L260.7 240.5L260.7 241.5L260.7 242.5L260.7 243.5L260.7 244.5L260.7 245.5L260.7 246.5L260.6 247.5L260.3 248.2L259.3 247.7L258.8 247.5L258.4 246.5L258.3 245.5L258.3 244.5L258.3 243.5L258.3 242.5L258.3 241.5L258.3 240.5L258.3 239.5L258.3 238.5L258.3 237.5L258.3 236.5L258.3 235.5L258.3 234.5L258.3 233.5L258.3 232.5L258.3 231.5L258.3 230.5L258.3 229.5L258.3 228.5L258.3 227.5L258.3 226.5L258.3 225.5L258.3 224.5L258.3 223.5L258.3 222.5L258.3 221.5L258.3 220.5L258.3 219.5L258.3 218.5L258.3 217.5L258.3 216.5L258.3 215.5L258.3 214.5L258.3 213.5L258.3 212.5L258.3 211.5L258.3 210.5L258.3 209.5L258.3 208.5L258.3 207.5L258.3 206.5L258.3 205.5L258.3 204.5L258.3 203.5L258.3 202.5L258.3 201.5L258.3 200.5L258.3 199.5L258.3 198.5L258.3 197.5L258.3 196.5L258.3 195.5L258.3 194.5L258.3 193.5L258.3 192.5L258.3 191.5L258.3 190.5L258.3 189.5L258.3 188.5L258.3 187.5L258.3 186.5L258.3 185.5L258.3 184.5L258.3 183.5L258.3 182.5L258.3 181.5L258.3 180.5L258.3 179.5L258.3 178.5L258.3 177.5L258.3 176.5L258.3 175.5L258.3 174.5L258.3 173.5L258.3 172.5ZM314.3 172.5L315.3 172.5L316.3 172.5L317.3 172.5L318.3 172.5L319.3 172.5L320.3 172.5L320.8 172.5L320.8 173.5L320.8 174.5L320.8 175.5L320.8 176.5L320.8 177.5L320.8 178.5L320.8 179.5L320.8 180.5L320.8 181.5L320.7 182.5L320.6 183.5L320.3 184.4L320.2 184.5L319.3 185.2L318.3 185.4L317.3 185.4L316.3 185.4L315.3 185.3L314.3 184.8L314 184.5L313.7 183.5L313.5 182.5L313.4 181.5L313.4 180.5L313.4 179.5L313.4 178.5L313.4 177.5L313.4 176.5L313.4 175.5L313.4 174.5L313.4 173.5L313.4 172.5ZM313.3 213.5L313.3 213.5L313.9 214.5L314.2 215.5L314.3 216.5L314.3 216.7L314.3 216.5L314.4 215.5L314.7 214.5L315.3 213.9L316.3 213.6L317.3 213.5L318.3 213.6L319.3 214.2L319.5 214.5L319.8 215.5L319.9 216.5L319.9 217.5L319.9 218.5L319.9 219.5L319.9 220.5L319.9 221.5L319.9 222.5L319.9 223.5L319.9 224.5L319.9 225.5L319.9 226.5L319.9 227.5L320 228.5L320.1 229.5L320.2 230.5L320.3 231.5L320.3 232.5L320.3 233.5L320.3 234.5L320.3 235.5L320.3 236.5L320.3 237.5L320.3 238.5L320.3 239.5L320.3 240.5L320.3 241.5L320.2 242.5L320 243.5L319.5 244.5L319.3 244.6L318.3 245L317.3 245.1L316.3 245L315.3 244.7L315 244.5L314.3 243.5L313.5 244.5L313.3 244.7L313.2 244.5L313 243.5L312.9 242.5L312.9 241.5L312.9 240.5L312.9 239.5L312.9 238.5L312.9 237.5L312.9 236.5L312.9 235.5L312.9 234.5L312.9 233.5L312.9 232.5L312.9 231.5L312.9 230.5L312.9 229.5L312.9 228.5L312.9 227.5L313 226.5L313 225.5L313 224.5L313 223.5L313 222.5L313 221.5L313 220.5L313 219.5L313 218.5L313 217.5L313 216.5L313 215.5L313.1 214.5L313.3 213.5ZM321.3 243.3L321.5 243.5L321.3 244.4L320.8 243.5ZM255.3 259.2L256.3 259L257.3 259.2L257.7 259.5L258 260.5L258 261.5L258 262.5L258.1 263.5L258.1 264.5L258.2 265.5L258.3 266.5L258.3 267.5L258.3 268.5L258.3 267.5L258.3 266.5L258.4 265.5L258.5 264.5L258.6 263.5L258.8 262.5L258.8 261.5L258.8 260.5L259 259.5L259.3 259.3L260.3 258.9L260.5 259.5L260.4 260.5L260.4 261.5L260.4 262.5L260.5 263.5L260.7 264.5L260.8 265.5L261 266.5L261 267.5L261.1 268.5L261.1 269.5L261.2 270.5L261.2 271.5L261.2 272.5L261.2 273.5L261.2 274.5L261.2 275.5L261.2 276.5L261.2 277.5L261.2 278.5L261.2 279.5L261.2 280.5L261.1 281.5L261.1 282.5L261.1 283.5L261.1 284.5L261.1 285.5L261.1 286.5L261.1 287.5L261.1 288.5L261.1 289.5L261.1 290.5L261.1 291.5L261.1 292.5L261.1 293.5L261.1 294.5L260.3 294.5L259.3 294.5L258.3 294.5L258.3 293.5L258.3 292.5L258.3 291.5L258.3 290.5L258.3 289.5L258.3 288.5L258.3 287.5L258.3 286.5L258.3 285.5L258.3 284.5L258.3 283.5L258.3 282.9L258.3 283.5L258.3 284.5L258.3 285.5L258.3 286.5L258.3 287.5L258.3 288.5L258.3 289.5L258.3 290.5L258.3 291.5L258.3 292.5L258.3 293.5L258.3 294.5L257.3 294.5L256.3 294.5L255.3 294.5L254.9 294.5L254.8 293.5L254.7 292.5L254.7 291.5L254.7 290.5L254.7 289.5L254.7 288.5L254.7 287.5L254.7 286.5L254.7 285.5L254.7 284.5L254.7 283.5L254.7 282.5L254.7 281.5L254.7 280.5L254.7 279.5L254.7 278.5L254.7 277.5L254.7 276.5L254.7 275.5L254.7 274.5L254.7 273.5L254.7 272.5L254.7 271.5L254.7 270.5L254.7 269.5L254.7 268.5L254.7 267.5L254.7 266.5L254.7 265.5L254.7 264.5L254.7 263.5L254.7 262.5L254.7 261.5L254.7 260.5L255 259.5ZM311.3 270.4L312.3 270.3L313.3 270.2L314.3 270.1L315.3 270.2L316.3 270.2L317.3 270.3L318 270.5L318.3 270.6L319.3 271.1L319.9 271.5L320.3 271.9L320.8 272.5L321.1 273.5L321 274.5L320.5 275.5L320.3 275.7L319.3 276.4L319.2 276.5L318.3 277L317.3 277.2L316.3 277.5L316.1 277.5L315.3 277.6L314.3 277.7L313.3 277.6L312.7 277.5L312.3 277.4L311.3 277.2L310.3 276.9L309.6 276.5L309.3 276.3L308.5 275.5L308.3 275.2L308 274.5L308 273.5L308.3 272.5L308.3 272.5L309.2 271.5L309.3 271.4L310.3 270.9L311.1 270.5Z" fill="#d7252d" stroke="#d7252d" stroke-width="0.25" fill-rule="evenodd"/>
<path d="M340.3 191.3L339.3 191.3L338.3 191.3L337.3 191.3L336.3 191.3L335.3 191.3L334.3 191.3L333.3 191.3L332.3 191.3L331.3 191.4L330.3 191.4L329.3 191.5L329.2 191.5L328.3 191.7L327.3 192.5L327.3 192.5L327 193.5L326.9 194.5L326.9 195.5L327 196.5L327.3 197.4L327.4 197.5L328.3 198.1L329.3 198.4L330.2 198.5L330.3 198.5L331.3 198.5L332.3 198.6L333.3 198.6L334.3 198.6L335.3 198.6L336.3 198.6L337.3 198.6L338.3 198.6L339.3 198.6L340.3 198.6M340.3 249.4L340.1 249.5L339.3 250L338.3 250L337.3 250L336.3 250L335.3 250L334.3 250L333.3 250L332.3 250L331.3 250L330.3 250L329.3 250L328.3 250L327.3 250L326.3 250L325.3 250L324.3 250L323.3 250L322.3 250L321.3 250.1L320.3 249.6L319.3 249.6L318.3 249.6L317.3 249.6L316.3 249.6L315.3 249.6L314.3 249.6L313.3 250.1L312.3 250L311.3 250L310.3 250L309.3 250L308.3 250L307.3 250L306.3 250L305.3 250L304.3 250L303.3 250L302.3 250L301.3 250L300.3 250L299.3 250L298.3 250L297.3 250L296.3 250L295.3 250L294.3 250L293.3 250L292.3 250L291.3 250L290.3 250L289.3 250L288.3 250L287.3 250L286.3 250L285.3 250L284.3 250L283.3 250L282.3 250L281.3 250L280.3 250L279.3 250L278.3 250L277.3 250L276.3 250L275.3 250L274.3 250L273.3 250L272.3 250L271.3 250L270.3 250L269.3 250L268.3 250L267.3 250L266.3 250L265.3 250L264.3 250L263.3 250L262.3 250.5L263.2 251.5L263.3 252.1L263.6 252.5L263.3 252.6L262.9 253.5L262.9 254.5L263.3 255.3L263.8 255.5L264.3 255.6L265.3 255.6L266.3 255.6L267.3 255.6L268.3 255.6L269.3 255.6L270.3 255.6L271.3 255.6L272.3 255.6L273.3 255.6L274.3 255.6L275.3 255.6L276.3 255.6L277.3 255.6L278.3 255.6L279.3 255.6L280.3 255.6L281.3 255.6L282.3 255.6L283.3 255.6L284.3 255.6L285.3 255.6L286.3 255.6L287.3 255.6L288.3 255.6L289.3 255.6L290.3 255.6L291.3 255.6L292.3 255.6L293.3 255.6L294.3 255.6L295.3 255.6L296.3 255.6L297.3 255.6L298.3 255.6L299.3 255.6L300.3 255.6L301.3 255.6L302.3 255.6L303.3 255.6L304.3 255.6L305.3 255.6L306.3 255.6L307.3 255.6L308.3 255.6L309.3 255.6L310.3 255.6L311.3 255.6L312.3 255.6L313.3 255.6L314.3 255.6L315.3 255.6L316.3 255.6L317.3 255.6L318.3 255.6L319.3 255.6L320.3 255.6L321.3 255.6L322.3 255.6L323.3 255.6L324.3 255.6L325.3 255.6L326.3 255.6L327.3 255.6L328.3 255.6L329.3 255.6L330.3 255.6L331.3 255.6L332.3 255.6L333.3 255.6L334.3 255.6L335.3 255.6L336.3 255.6L337.3 255.6L338.3 255.6L339.3 255.6L340.3 255.6M215.3 255.6L216.3 255.7L217.3 255.7L218.3 255.7L219.3 255.7L220.3 255.7L221.3 255.7L222.3 255.7L223.3 255.7L224.3 255.7L225.3 255.7L226.3 255.7L227.3 255.7L228.3 255.7L229.3 255.7L230.3 255.7L231.3 255.7L232.3 255.7L233.3 255.7L234.3 255.7L235.3 255.7L236.3 255.7L237.3 255.7L238.3 255.7L239.3 255.7L240.3 255.7L241.3 255.7L242.3 255.7L243.3 255.7L244.3 255.7L245.3 255.7L246.3 255.7L247.3 255.7L248.3 255.7L249.3 255.7L250.3 255.6L250.5 255.5L251.3 254.6L251.4 254.5L251.3 253.5L251.3 253.5L250.3 252.6L249.6 252.5L249.3 252.3L248.3 252.3L247.3 251.9L247 251.5L247.3 251.5L248.3 251.3L249.3 251.4L250.3 251.4L251.3 250.9L251.6 250.5L251.3 250.3L250.3 250.2L249.3 250.2L248.3 250.3L247.3 250.2L246.3 250L245.3 249.8L244.3 249.6L243.8 249.5L243.3 249.5L242.3 249.4L241.3 249.4L240.3 249.4L239.3 249.3L238.3 249.3L237.3 249.3L236.3 249.3L235.3 249.3L234.3 249.3L233.3 249.3L232.3 249.3L231.3 249.3L230.3 249.3L229.3 249.4L228.3 249.4L227.3 249.4L226.3 249.4L225.3 249.4L224.3 249.4L223.3 249.4L222.3 249.4L221.3 249.4L220.3 249.4L219.3 249.4L218.3 249.4L217.3 249.4L216.3 249.4L215.3 249.4M268.3 194.5L268.3 194.5L268.3 194.6L269.3 195.2L270.3 195.4L271.3 195.5L272.3 195.5L272.5 195.5L273.3 195.5L274.3 195.5L274.5 195.5L275.3 195.5L276.3 195.5L277.3 195.3L278.3 195L278.7 194.5L278.3 194.4L277.3 194.3L276.3 194.2L275.3 194.2L274.3 194.2L273.3 194.2L272.3 194.2L271.3 194.2L270.3 194.2L269.3 194.3Z" fill="none" stroke="#333" stroke-width="0.35" stroke-opacity="0.7"/>
<path d="M340.3 189.6L339.3 189.6L338.3 189.6L337.3 189.6L336.3 189.6L335.3 189.6L334.3 189.6L333.3 189.6L332.3 189.6L331.3 189.6L330.3 189.6L329.3 189.6L328.3 189.7L327.3 189.8L326.3 190.2L325.9 190.5L325.4 191.5L325.3 191.8L325.2 192.5L325.1 193.5L325.1 194.5L325.1 195.5L325.1 196.5L325.2 197.5L325.3 198.1L325.4 198.5L326 199.5L326.3 199.7L327.3 200.1L328.3 200.2L329.3 200.2L330.3 200.3L331.3 200.3L332.3 200.3L333.3 200.3L334.3 200.3L335.3 200.3L336.3 200.3L337.3 200.3L338.3 200.3L339.3 200.3L340.3 200.3M340.3 248.8L339.3 249.3L338.3 249.3L337.3 249.3L336.3 249.3L335.3 249.3L334.3 249.3L333.3 249.3L332.3 249.3L331.3 249.3L330.3 249.3L329.3 249.3L328.3 249.3L327.3 249.3L326.3 249.4L325.3 249.4L324.3 249.4L323.3 249.4L322.3 249.5L321.3 249.5L320.3 249L319.3 249L318.3 249L317.3 249L316.3 249L315.3 249L314.3 249L313.3 249.5L312.3 249.5L311.3 249.4L310.3 249.4L309.3 249.4L308.3 249.4L307.3 249.3L306.3 249.3L305.3 249.3L304.3 249.3L303.3 249.3L302.3 249.3L301.3 249.3L300.3 249.3L299.3 249.3L298.3 249.3L297.3 249.3L296.3 249.3L295.3 249.3L294.3 249.3L293.3 249.3L292.3 249.3L291.3 249.3L290.3 249.3L289.3 249.3L288.3 249.3L287.3 249.3L286.3 249.3L285.3 249.3L284.3 249.3L283.3 249.3L282.3 249.3L281.3 249.3L280.3 249.3L279.3 249.3L278.3 249.3L277.3 249.3L276.3 249.3L275.3 249.3L274.3 249.3L273.3 249.3L272.3 249.3L271.3 249.3L270.3 249.3L269.3 249.3L268.3 249.3L267.3 249.3L266.3 249.3L265.3 249.3L264.3 249.3L263.3 249.4L263.1 249.5L262.3 249.9L261.6 250.5L262.1 251.5L262.1 252.5L261.9 253.5L261.9 254.5L262.2 255.5L262.3 255.7L263 256.5L263.3 256.8L264.3 257.1L265.3 257.1L266.3 257.1L267.3 257.1L268.3 257L269.3 257L270.3 257L271.3 256.9L272.3 256.9L273.3 256.9L274.3 256.9L275.3 256.9L276.3 256.9L277.3 256.9L278.3 256.9L279.3 256.9L280.3 256.9L281.3 256.9L282.3 256.9L283.3 256.9L284.3 256.9L285.3 256.9L286.3 256.9L287.3 256.9L288.3 256.9L289.3 256.9L290.3 256.9L291.3 256.9L292.3 256.9L293.3 256.9L294.3 256.9L295.3 256.9L296.3 256.9L297.3 256.9L298.3 256.9L299.3 256.9L300.3 256.9L301.3 256.9L302.3 256.9L303.3 256.9L304.3 256.9L305.3 256.9L306.3 256.9L307.3 256.9L308.3 256.9L309.3 256.9L310.3 256.9L311.3 256.9L312.3 256.9L313.3 256.9L314.3 256.9L315.3 256.9L316.3 256.9L317.3 256.9L318.3 256.9L319.3 256.9L320.3 256.9L321.3 256.9L322.3 256.9L323.3 256.9L324.3 256.9L325.3 256.9L326.3 256.9L327.3 256.9L328.3 256.9L329.3 256.9L330.3 256.9L331.3 256.9L332.3 256.9L333.3 256.9L334.3 256.9L335.3 256.9L336.3 256.9L337.3 256.9L338.3 256.9L339.3 256.9L340.3 256.9M215.3 256.8L216.3 257L217.3 257.2L218.3 257.3L219.3 257.4L220.3 257.4L221.3 257.4L222.3 257.4L223.3 257.4L224.3 257.4L225.3 257.4L226.3 257.4L227.3 257.4L228.3 257.4L229.3 257.4L230.3 257.4L231.3 257.4L232.3 257.4L233.3 257.4L234.3 257.4L235.3 257.4L236.3 257.4L237.3 257.4L238.3 257.4L239.3 257.4L240.3 257.4L241.3 257.4L242.3 257.4L243.3 257.4L244.3 257.4L245.3 257.4L246.3 257.4L247.3 257.4L248.3 257.4L249.3 257.4L250.3 257.2L251.3 256.5L251.3 256.5L252.2 255.5L252.3 255.2L252.6 254.5L252.6 253.5L252.3 252.8L252.2 252.5L252.2 251.5L252.3 251.4L253 250.5L252.3 249.8L251.9 249.5L251.3 249.3L250.3 249.3L249.3 249.4L248.3 249.4L247.3 249.4L246.3 249.3L245.3 249.1L244.3 249L243.3 248.9L242.3 248.9L241.3 248.8L240.3 248.8L239.3 248.7L238.3 248.7L237.3 248.7L236.3 248.7L235.3 248.7L234.3 248.7L233.3 248.7L232.3 248.7L231.3 248.7L230.3 248.7L229.3 248.8L228.3 248.8L227.3 248.8L226.3 248.9L225.3 248.9L224.3 248.9L223.3 248.9L222.3 248.9L221.3 248.9L220.3 248.9L219.3 248.9L218.3 248.9L217.3 248.9L216.3 248.9L215.3 248.9M234.3 189.5L233.9 189.5L233.3 189.5L232.3 189.7L231.3 190.1L230.8 190.5L230.3 190.9L229.8 191.5L229.3 192.4L229.3 192.5L228.9 193.5L228.7 194.5L228.6 195.5L228.6 196.5L228.6 197.5L228.6 198.5L228.7 199.5L228.8 200.5L229.1 201.5L229.3 201.9L229.6 202.5L230.3 203.4L230.4 203.5L231.3 204.2L232 204.5L232.3 204.7L233.3 204.9L234.3 204.9L235.3 204.9L236.3 204.7L236.8 204.5L237.3 204.3L238.3 203.6L238.4 203.5L239.1 202.5L239.3 202.2L239.7 201.5L239.9 200.5L240.1 199.5L240.2 198.5L240.2 197.5L240.2 196.5L240.2 195.5L240.1 194.5L239.9 193.5L239.5 192.5L239.3 192.1L238.9 191.5L238.3 190.7L238 190.5L237.3 190L236.3 189.7L235.3 189.5L235 189.5ZM265.3 189.4L265.2 189.5L264.3 190.1L264.1 190.5L264.3 190.7L265.3 191.4L265.5 191.5L265.3 191.7L264.9 192.5L264.7 193.5L264.7 194.5L264.7 195.5L264.8 196.5L265.1 197.5L264.3 198.1L263.9 198.5L264.3 199.2L264.6 199.5L265.3 199.9L266.3 200.1L267.3 200.1L268.3 200.1L269.3 200.2L270.3 200.2L271.3 200.2L272.3 200.2L273.3 200.2L274.3 200.2L275.3 200.2L276.3 200.2L277.3 200.2L278.3 200.2L279.3 200.2L280.3 200.2L281.3 200.1L282.3 200.1L283.3 200.1L284.3 200.1L285.3 200.1L286.3 200.1L287.3 200.1L288.3 200.1L289.3 200.1L290.3 200.1L291.3 200.1L292.3 200.1L293.3 200.1L294.3 200.1L295.3 200.1L296.3 200.1L297.3 200.1L298.3 200L299.3 199.7L299.5 199.5L300.3 198.5L299.3 197.7L298.8 197.5L299.2 196.5L299.3 195.5L299.3 194.5L299.2 193.5L299 192.5L298.5 191.5L298.3 191.4L297.3 191.1L296.3 191L295.3 191L294.3 191L293.3 191L292.3 191L291.3 191L290.3 191L289.3 191L288.3 191L287.3 191L286.3 191L285.3 191L284.3 191L283.3 191L282.3 191L281.3 190.9L280.3 190.9L279.3 190.9L278.3 190.8L277.3 190.8L276.3 190.8L275.3 190.8L274.3 190.8L273.3 190.8L272.3 190.8L271.3 190.8L270.3 190.8L269.3 190.8L268.3 190.9L268.1 190.5L267.5 189.5L267.3 189.2L266.3 189.2ZM232.3 285.4L232.2 285.5L231.4 286.5L231.3 287.5L231.3 287.9L231.2 288.5L231.3 288.8L231.4 289.5L231.5 290.5L232.3 291.3L232.8 291.5L233.3 291.9L234.3 291.7L234.6 291.5L235.3 291.1L235.8 290.5L236.2 289.5L236.2 288.5L236.2 287.5L236.1 286.5L235.3 285.6L235.2 285.5L234.3 284.8L233.3 284.8L232.3 285.4" fill="none" stroke="#333" stroke-width="0.35" stroke-opacity="0.7"/>
<path d="M340.3 187.9L340 188.5L339.3 188.9L338.3 188.9L337.3 188.9L336.3 188.9L335.3 188.9L334.3 188.9L333.3 188.9L332.3 188.9L331.3 188.9L330.3 188.9L329.3 188.9L328.3 188.9L327.3 188.9L326.3 189L325.3 189.2L324.3 189.5L324.2 189.5L323.7 190.5L323.5 191.5L323.4 192.5L323.4 193.5L323.4 194.5L323.4 195.5L323.4 196.5L323.4 197.5L323.5 198.5L323.6 199.5L324 200.5L324.3 200.9L325.2 201.5L325.3 201.6L326.3 201.9L327.3 202L328.3 202L329.3 202L330.3 202L331.3 202L332.3 202L333.3 202L334.3 202L335.3 202L336.3 202L337.3 202L338.3 202L339.3 202L340.3 202M340.3 247.9L339.6 248.5L339.3 248.7L338.3 248.7L337.3 248.7L336.3 248.7L335.3 248.7L334.3 248.7L333.3 248.7L332.3 248.7L331.3 248.7L330.3 248.7L329.3 248.7L328.3 248.7L327.3 248.7L326.3 248.8L325.3 248.8L324.3 248.9L323.3 248.9L322.3 248.9L321.3 249L320.3 248.5L320.3 248.5L320.3 248.5L319.3 248.5L318.3 248.5L317.3 248.5L316.3 248.5L315.3 248.5L314.4 248.5L314.3 248.5L314.3 248.5L313.3 248.9L312.3 248.9L311.3 248.9L310.3 248.8L309.3 248.8L308.3 248.7L307.3 248.7L306.3 248.7L305.3 248.7L304.3 248.7L303.3 248.7L302.3 248.7L301.3 248.7L300.3 248.7L299.3 248.7L298.3 248.7L297.3 248.7L296.3 248.7L295.3 248.7L294.3 248.7L293.3 248.7L292.3 248.7L291.3 248.7L290.3 248.7L289.3 248.7L288.3 248.7L287.3 248.7L286.3 248.7L285.3 248.7L284.3 248.7L283.3 248.7L282.3 248.7L281.3 248.7L280.3 248.7L279.3 248.7L278.3 248.7L277.3 248.7L276.3 248.7L275.3 248.7L274.3 248.7L273.3 248.7L272.3 248.7L271.3 248.7L270.3 248.7L269.3 248.7L268.3 248.7L267.3 248.7L266.3 248.7L265.3 248.7L264.3 248.7L263.3 248.8L262.3 249.2L262 249.5L261.3 250.2L260.8 250.5L261.3 251.2L261.4 251.5L261.5 252.5L261.3 253.4L261.3 253.5L261.3 254.5L261.3 254.6L261.5 255.5L262 256.5L262.3 257L262.7 257.5L263 258.5L263.1 259.5L262.9 260.5L262.8 261.5L262.9 262.5L263.1 263.5L263.3 264.3L263.7 264.5L264.3 264.9L265.3 264.9L266.3 264.9L267.3 264.8L268.1 264.5L268.3 264.4L269.3 263.6L269.4 263.5L270.3 262.6L270.6 262.5L271.3 261.8L271.9 261.5L271.3 261.2L270.8 260.5L270.3 260.1L269.7 259.5L270.3 259.2L271.3 258.9L272.3 258.9L273.3 258.8L274.3 258.8L275.3 258.7L276.3 258.7L277.3 258.6L278.3 258.6L279.3 258.6L280.3 258.6L281.3 258.6L282.3 258.6L283.3 258.6L284.3 258.6L285.3 258.6L286.3 258.6L287.3 258.6L288.3 258.6L289.3 258.6L290.3 258.6L291.3 258.6L292.3 258.6L293.3 258.6L294.3 258.6L295.3 258.6L296.3 258.6L297.3 258.6L298.3 258.6L299.3 258.6L300.3 258.6L301.3 258.6L302.3 258.6L303.3 258.6L304.3 258.6L305.3 258.6L306.3 258.6L307.3 258.6L308.3 258.6L309.3 258.6L310.3 258.6L311.3 258.6L312.3 258.6L313.3 258.6L314.3 258.6L315.3 258.6L316.3 258.6L317.3 258.6L318.3 258.6L319.3 258.6L320.3 258.6L321.3 258.6L322.3 258.6L323.3 258.6L324.3 258.6L325.3 258.6L326.3 258.6L327.3 258.6L328.3 258.6L329.3 258.6L330.3 258.6L331.3 258.6L332.3 258.6L333.3 258.6L334.3 258.6L335.3 258.6L336.3 258.6L337.3 258.6L338.3 258.6L339.3 258.6L340.3 258.6M215.3 257.7L216.3 257.9L217.3 258.2L218.3 258.4L218.6 258.5L219.3 258.6L220.3 258.8L221.3 258.8L222.3 258.8L223.3 258.9L224.3 258.9L225.3 258.9L226.3 258.9L227.3 258.9L228.3 258.9L229.3 258.9L230.3 258.9L231.3 258.9L232.3 258.9L233.3 258.9L234.3 258.9L235.3 258.9L236.3 258.9L237.3 258.9L238.3 258.9L239.3 258.9L240.3 258.9L241.3 258.9L242.3 258.9L243.3 258.9L244.3 258.9L245.3 258.9L246.3 258.9L247.3 258.8L248.3 258.8L249.3 258.7L250.1 258.5L250.3 258.5L251.3 257.8L251.5 257.5L252.3 256.6L252.4 256.5L253.3 255.5L253.3 255.5L253.7 254.5L253.7 253.5L253.4 252.5L253.4 251.5L254.1 250.5L253.3 249.5L253.3 249.5L252.3 249.1L251.3 248.8L250.3 248.8L249.3 248.9L248.3 249L247.3 248.9L246.3 248.8L245.3 248.6L244.5 248.5L244.3 248.5L243.3 248.3L242.3 248.3L241.3 248.2L240.3 248.1L239.3 248L238.3 248L237.3 248L236.3 247.9L235.3 247.9L234.3 247.9L233.3 247.9L232.3 248L231.3 248L230.3 248L229.3 248L228.3 248.1L227.3 248.2L226.3 248.3L225.3 248.3L224.3 248.3L223.3 248.3L222.3 248.3L221.3 248.3L220.3 248.3L219.3 248.3L218.3 248.3L217.3 248.3L216.3 248.3L215.3 248.3M250.6 294.5L250.6 293.5L250.4 292.5L250.3 292.3L249.7 291.5L249.3 291L248.8 290.5L248.3 290.1L247.7 289.5L247.3 289.2L246.5 288.5L246.3 288.3L245.4 287.5L245.3 287.4L244.3 286.6L244.2 286.5L243.3 285.8L242.9 285.5L242.3 285L241.6 284.5L241.3 284.3L240.3 283.6L240.1 283.5L239.3 283L238.5 282.5L238.3 282.4L237.3 281.9L236.3 281.5L236.1 281.5L235.3 281.3L234.3 281.2L233.3 281.2L232.3 281.5L232.3 281.5L231.3 281.8L230.3 282.4L230.2 282.5L229.3 283.1L228.8 283.5L228.3 283.9L227.5 284.5L227.3 284.7L226.3 285.4L226.2 285.5L225.3 286.3L225 286.5L224.3 287.1L223.8 287.5L223.3 287.9L222.6 288.5L222.3 288.8L221.4 289.5L221.3 289.6L220.3 290.5L220.3 290.5L219.3 291.4L219.2 291.5L218.3 292.3L218.1 292.5L217.3 293.2L217 293.5L216.3 294.2L216 294.5M230.3 186.4L230 186.5L229.3 186.8L228.3 187.5L228.3 187.5L227.5 188.5L227.3 188.7L226.9 189.5L226.5 190.5L226.3 191L226.2 191.5L226 192.5L225.9 193.5L225.8 194.5L225.8 195.5L225.8 196.5L225.8 197.5L225.8 198.5L225.8 199.5L225.8 200.5L225.9 201.5L226 202.5L226.2 203.5L226.3 204L226.5 204.5L226.8 205.5L227.3 206.5L227.3 206.5L227.8 207.5L228.1 208.5L228.3 209.1L228.4 209.5L228.8 210.5L229.3 211.5L229.3 211.5L230.3 212.5L230.3 212.5L231.3 213L232.3 213.2L233.3 213.3L234.3 213.3L235.3 213.3L236.3 213.2L237.3 213.2L238.3 212.9L239 212.5L239.3 212.3L239.9 211.5L240.3 210.9L240.5 210.5L240.9 209.5L241.2 208.5L241.3 208.3L241.6 207.5L242.1 206.5L242.3 206L242.6 205.5L242.9 204.5L243.2 203.5L243.3 203.1L243.4 202.5L243.5 201.5L243.6 200.5L243.6 199.5L243.6 198.5L243.6 197.5L243.6 196.5L243.6 195.5L243.6 194.5L243.5 193.5L243.4 192.5L243.3 191.9L243.2 191.5L242.9 190.5L242.5 189.5L242.3 189.1L241.9 188.5L241.3 187.8L241 187.5L240.3 187L239.4 186.5L239.3 186.5L238.3 186.2L237.3 186L236.3 185.9L235.3 185.9L234.3 185.9L233.3 185.9L232.3 186L231.3 186.1ZM264.3 186.8L263.6 187.5L263.3 187.9L263.2 188.5L263 189.5L262.9 190.5L263.3 191.2L263.6 191.5L263.5 192.5L263.5 193.5L263.4 194.5L263.4 195.5L263.5 196.5L263.6 197.5L263.3 197.8L262.9 198.5L263 199.5L263.2 200.5L263.3 201L263.7 201.5L264.3 202L265.3 202.2L266.3 202.3L267.3 202.3L268.3 202.3L269.3 202.3L270.3 202.3L271.3 202.3L272.3 202.3L273.3 202.3L274.3 202.3L275.3 202.3L276.3 202.3L277.3 202.3L278.3 202.3L279.3 202.3L280.3 202.3L281.3 202.3L282.3 202.3L283.3 202.3L284.3 202.3L285.3 202.3L286.3 202.3L287.3 202.3L288.3 202.3L289.3 202.3L290.3 202.3L291.3 202.3L292.3 202.3L293.3 202.3L294.3 202.3L295.3 202.3L296.3 202.3L297.3 202.3L298.3 202.2L299.3 202.1L300.3 201.8L300.7 201.5L301.3 200.7L301.3 200.5L301.5 199.5L301.6 198.5L301.3 198.1L300.7 197.5L300.7 196.5L300.8 195.5L300.8 194.5L300.8 193.5L300.7 192.5L300.6 191.5L300.3 190.5L300.3 190.5L299.4 189.5L299.3 189.4L298.3 189.1L297.3 189L296.3 188.9L295.3 188.9L294.3 188.9L293.3 188.9L292.3 188.9L291.3 188.9L290.3 188.9L289.3 188.9L288.3 188.9L287.3 188.9L286.3 188.9L285.3 188.9L284.3 188.9L283.3 188.9L282.3 188.9L281.3 188.9L280.3 188.9L279.3 188.9L278.3 188.9L277.3 188.9L276.3 188.9L275.3 188.9L274.3 188.9L273.3 188.9L272.3 188.9L271.3 188.9L270.3 188.9L269.3 188.9L268.3 188.9L268.1 188.5L267.7 187.5L267.3 186.5L266.3 186.6L265.3 186.6ZM272.3 213.3L271.9 213.5L271.3 214.5L271.3 214.8L271.2 215.5L271.2 216.5L271.2 217.5L271.2 218.5L271.2 219.5L271.2 220.5L271.2 221.5L271.2 222.5L271.2 223.5L271.2 224.5L271.2 225.5L271.2 226.5L271.2 227.5L271.2 228.5L271.2 229.5L271.2 230.5L271.2 231.5L271.3 232.5L271.3 232.8L271.4 233.5L272 234.5L272.3 234.7L273.3 234.9L274.3 234.6L274.6 234.5L275.3 234.1L276.2 233.5L276.3 233.4L277.3 232.6L277.4 232.5L278.3 231.7L278.5 231.5L279.3 230.7L279.5 230.5L280.3 229.8L280.6 229.5L281.3 228.8L281.6 228.5L282.3 227.8L282.6 227.5L283.3 226.8L283.6 226.5L284.3 225.7L284.5 225.5L284.3 225.1L283.9 224.5L283.3 223.9L283 223.5L282.3 222.7L282.1 222.5L281.3 221.6L281.2 221.5L280.3 220.5L280.3 220.5L279.4 219.5L279.3 219.4L278.4 218.5L278.3 218.4L277.4 217.5L277.3 217.4L276.5 216.5L276.3 216.3L275.5 215.5L275.3 215.2L274.5 214.5L274.3 214.3L273.3 213.5L273.2 213.5L272.3 213.3" fill="none" stroke="#333" stroke-width="0.35" stroke-opacity="0.7"/>
<path d="M339.8 172.5L339.8 173.5L339.8 174.5L339.8 175.5L339.8 176.5L339.8 177.5L339.8 178.5L339.8 179.5L339.8 180.5L339.8 181.5L339.8 182.5L339.8 183.5L339.8 184.5L339.8 185.5L339.6 186.5L339.4 187.5L339.3 187.7L338.3 187.7L337.3 187.7L336.3 187.7L335.3 187.7L334.3 187.7L333.3 187.7L332.3 187.7L331.3 187.7L330.3 187.7L329.3 187.7L328.3 187.7L327.3 187.7L326.3 187.9L325.3 188.3L325 188.5L324.3 188.7L323.8 188.5L324.3 188L324.8 187.5L325.3 187L325.8 186.5L326.3 186L326.8 185.5L327.3 185L327.8 184.5L328.3 184L328.8 183.5L329.3 183L329.8 182.5L330.3 182L330.8 181.5L331.3 181L331.8 180.5L332.3 180L332.8 179.5L333.3 179L333.8 178.5L334.3 178L334.8 177.5L335.3 177L335.8 176.5L336.3 176L336.8 175.5L337.3 175L337.8 174.5L338.3 174L338.8 173.5L338.3 173L337.3 173L336.3 173L335.3 173L334.3 173L333.3 173L332.3 173L331.3 173L330.3 173L329.3 173L328.3 173L327.3 173L326.3 173.1L325.3 173.3L324.7 173.5L324.7 174.5L324.7 175.5L324.7 176.5L324.7 177.5L324.7 178.5L324.7 179.5L324.7 180.5L324.7 181.5L324.6 182.5L324.6 183.5L324.6 184.5L324.5 185.5L324.3 186L324.2 186.5L323.6 187.5L323.3 187.8L323.1 188.5L322.8 189.5L322.3 190L321.8 190.5L321.3 191L320.8 191.5L320.3 192L319.8 192.5L319.3 193L318.8 193.5L318.3 194L317.8 194.5L317.3 195L316.8 195.5L316.3 196L315.8 196.5L315.3 197L314.8 197.5L314.3 198L313.8 198.5L313.3 199L312.8 199.5L312.3 200L311.8 200.5L311.3 201L310.8 201.5L310.3 202L309.8 202.5L309.3 203L308.8 203.5L308.3 204L307.8 204.5L307.3 205L306.3 205L305.8 205.5L305.3 206L304.8 206.5L304.3 207L303.8 207.5L303.3 208L302.8 208.5L302.3 209L301.8 208.5L301.8 207.5L301.8 206.5L301.8 205.5L301.8 204.5L301.9 203.5L302 202.5L302.1 201.5L302.2 200.5L302.2 199.5L302.3 198.5L302.3 197.5L302.3 196.5L302.3 195.9L302.3 195.5L302.3 194.5L302.3 193.5L302.3 193.4L302.3 192.5L302.3 191.5L302.2 190.5L302 189.5L301.7 188.5L301.3 187.7L301.2 187.5L300.3 186.7L299.8 186.5L299.3 186.4L298.3 186.3L297.3 186.2L296.3 186.2L295.3 186.2L294.3 186.2L293.3 186.2L292.3 186.2L291.3 186.2L290.3 186.2L289.3 186.2L288.3 186.2L287.3 186.2L286.3 186.2L285.3 186.2L284.3 186.2L283.3 186.2L282.3 186.2L281.3 186.2L280.3 186.2L279.3 186.2L278.3 186.2L277.3 186.2L276.3 186.2L275.3 186.2L274.3 186.2L273.3 186.2L272.3 186.2L271.3 186.2L270.3 186.2L269.3 186.2L268.3 186.2L268.1 185.5L267.9 184.5L267.8 183.5L267.8 182.5L267.8 181.5L267.8 180.5L267.8 179.5L267.8 178.5L267.8 177.5L267.8 176.5L267.8 175.5L267.8 174.5L267.8 173.5L267.3 173L266.3 173L265.3 173L264.3 173L263.3 173.1L262.9 173.5L262.9 174.5L262.9 175.5L262.9 176.5L262.9 177.5L262.9 178.5L262.9 179.5L262.9 180.5L262.9 181.5L262.8 182.5L262.8 183.5L262.8 184.5L262.7 185.5L262.5 186.5L262.3 187.5L262.3 187.9L262.3 188.5L262.2 189.5L262.2 190.5L262.3 190.8L262.7 191.5L262.7 192.5L262.7 193.5L262.7 194.5L262.7 195.5L262.7 196.5L262.7 197.5L262.3 198.2L262.2 198.5L262.2 199.5L262.3 200.5L262.3 201L262.4 201.5L262.5 202.5L262.7 203.5L262.8 204.5L262.8 205.5L262.9 206.5L262.9 207.5L262.9 208.5L262.9 209.5L262.9 210.5L262.9 211.5L262.9 212.5L262.9 213.5L262.9 214.5L262.9 215.5L262.9 216.5L262.9 217.5L262.9 218.5L262.9 219.5L262.9 220.5L262.9 221.5L262.9 222.5L262.9 223.5L262.9 224.5L262.9 225.5L262.9 226.5L262.9 227.5L262.9 228.5L262.9 229.5L262.9 230.5L262.9 231.5L262.9 232.5L262.9 233.5L262.9 234.5L262.9 235.5L262.9 236.5L262.9 237.5L262.9 238.5L262.9 239.5L262.9 240.5L262.9 241.5L262.9 242.5L262.9 243.5L262.9 244.5L262.9 245.5L262.8 246.5L263.3 247L263.7 246.5L264.3 246L264.8 245.5L265.3 245L265.8 244.5L266.3 244L266.8 243.5L267.3 243L267.8 242.5L268.3 242L268.8 241.5L269.3 241L269.8 240.5L270.3 240L271.3 240L271.8 239.5L272.3 239L272.8 238.5L273.3 238L273.8 237.5L274.3 237L274.7 236.5L275.3 235.9L275.7 235.5L276.3 234.9L276.7 234.5L277.3 233.9L277.7 233.5L278.3 232.9L278.7 232.5L279.3 231.9L279.7 231.5L280.3 230.9L280.7 230.5L281.3 229.9L281.7 229.5L282.3 228.9L282.7 228.5L283.3 227.9L283.8 227.5L284.3 227L284.8 226.5L285.3 226L285.9 225.5L286.3 225L286.8 224.5L287.3 224L287.8 223.5L288.3 223L288.8 222.5L289.3 222L289.8 221.5L290.3 221L290.8 220.5L291.3 220L291.8 219.5L292.3 219L292.8 218.5L293.3 217.9L293.7 217.5L294.3 216.9L294.7 216.5L294.3 215.9L293.7 216.5L293.3 216.8L292.5 217.5L292.3 217.7L291.3 218.5L291.3 218.5L290.3 219.3L290.1 219.5L289.3 220.2L288.9 220.5L288.3 221L287.7 221.5L287.3 221.9L286.6 222.5L286.3 222.7L285.3 222.8L285 222.5L284.3 221.9L283.8 221.5L283.3 221L282.7 220.5L282.3 220.2L281.5 219.5L281.3 219.3L280.4 218.5L280.3 218.4L279.3 217.5L279.3 217.5L278.3 216.5L278.3 216.5L277.3 215.5L277.3 215.5L276.6 214.5L276.3 214L276 213.5L276.1 212.5L276.3 212.3L277.3 211.9L278.3 211.7L279.3 211.7L280.3 211.7L281.3 211.7L282.3 211.7L283.3 211.7L284.3 211.7L285.3 211.7L286.3 211.7L287.3 211.7L288.3 211.7L289.3 211.7L290.3 211.7L291.3 211.7L292.3 211.7L293.3 211.7L294.3 211.7L295.3 211.7L296.3 211.7L297.3 212.1L297.6 212.5L298.3 212.9L298.6 212.5L299.3 212L299.7 211.5L300.3 211L300.8 210.5L301.3 210L302.3 210L303.3 210L304.3 210L305.3 210L306.3 210L307.3 210L308.3 209.9L309.3 209.8L310.3 209.7L311.3 209.6L312.3 209.6L313.3 209.5L313.3 209.5L314.3 209.3L315.3 209.3L316.3 209.3L317.3 209.3L318.3 209.3L319.3 209.3L320.3 209.3L321.3 209.5L321.5 209.5L322.3 209.6L323.3 209.8L324.3 210.2L324.9 210.5L325.3 210.9L325.7 211.5L326 212.5L326.1 213.5L326.1 214.5L326.1 215.5L326.1 216.5L326.1 217.5L326.1 218.5L326.1 219.5L326.1 220.5L326.1 221.5L326.1 222.5L326.1 223.5L326.1 224.5L326.1 225.5L326.1 226.5L326.1 227.5L326.1 228.5L326.1 229.5L326.1 230.5L326.1 231.5L326.1 232.5L326.1 233.5L326.1 234.5L326.1 235.5L326.1 236.5L326.1 237.5L326.1 238.5L326.1 239.5L326.1 240.5L326.1 241.5L326.1 242.5L326.3 242.6L327.3 242.8L328.3 242.9L329.3 243L330.3 243L331.3 243L332.3 243L333.3 243L334.3 243L335.3 243L336.3 243L337.3 243L338.3 243L339.3 243L339.8 243.5L339.8 244.5L339.8 245.5L339.8 246.5L339.6 247.5L339.3 247.8L338.3 247.8L337.3 247.8L336.3 247.8L335.3 247.8L334.3 247.8L333.3 247.8L332.3 247.8L331.3 247.8L330.3 247.8L329.3 247.8L328.3 247.8L327.3 247.9L326.3 248L325.3 248.1L324.3 248.2L323.3 248.3L322.3 248.4L321.3 248.4L320.3 247.9L319.3 247.9L318.3 247.9L317.3 247.9L316.3 247.9L315.3 247.9L314.3 247.9L313.3 248.4L312.3 248.3L311.3 248.3L310.3 248.1L309.3 248L308.3 247.9L307.3 247.8L306.3 247.8L305.3 247.8L304.3 247.8L303.3 247.8L302.3 247.8L301.3 247.8L300.3 247.8L299.3 247.8L298.3 247.8L297.3 247.8L296.3 247.8L295.3 247.8L294.3 247.8L293.3 247.8L292.3 247.8L291.3 247.8L290.3 247.8L289.3 247.8L288.3 247.8L287.3 247.8L286.3 247.8L285.3 247.8L284.3 247.8L283.3 247.8L282.3 247.8L281.3 247.8L280.3 247.8L279.3 247.8L278.3 247.8L277.3 247.8L276.3 247.8L275.3 247.8L274.3 247.8L273.3 247.8L272.3 247.8L271.3 247.8L270.3 247.8L269.3 247.8L268.3 247.8L267.3 247.8L266.3 247.8L265.3 247.8L264.3 247.8L263.3 247.9L262.5 248.5L262.3 248.6L261.4 249.5L261.3 249.6L260.3 250.2L259.4 250.5L259.3 250.6L259.2 250.5L258.3 249.9L257.3 250.4L256.5 250.5L257.3 250.6L258.3 251.1L258.8 251.5L258.3 251.8L257.9 252.5L257.3 253.1L256.8 253.5L256.3 254L255.7 254.5L255.3 255.1L254.9 254.5L254.9 253.5L254.4 252.5L254.6 251.5L255.3 250.7L256.2 250.5L255.3 250.3L254.5 249.5L254.3 249.4L253.3 248.9L252.3 248.5L252.2 248.5L251.3 248.2L250.3 248.3L249.3 248.5L248.3 248.5L247.3 248.4L246.3 248.2L245.3 248L244.3 247.8L243.3 247.6L242.3 247.5L242 247.5L241.3 247L240.8 246.5L240.9 245.5L240.9 244.5L240.9 243.5L240.9 242.5L240.9 241.5L241 240.5L241 239.5L241 238.5L241 237.5L241 236.5L241 235.5L241 234.5L241 233.5L241 232.5L241 231.5L241 230.5L241 229.5L241 228.5L241 227.5L241 226.5L241 225.5L241 224.5L241 223.5L241 222.5L241 221.5L241 220.5L241 219.5L241 218.5L241.1 217.5L241.2 216.5L241.3 215.9L241.4 215.5L241.7 214.5L242.2 213.5L242.3 213.2L242.8 212.5L243.3 211.7L243.4 211.5L244.1 210.5L244.3 210.1L244.7 209.5L245.1 208.5L245.3 208L245.5 207.5L245.8 206.5L246 205.5L246.1 204.5L246.2 203.5L246.3 202.8L246.3 202.5L246.4 201.5L246.4 200.5L246.5 199.5L246.5 198.5L246.5 197.5L246.5 196.5L246.5 195.5L246.4 194.5L246.4 193.5L246.3 192.5L246.3 192.2L246.2 191.5L246.1 190.5L246 189.5L245.8 188.5L245.5 187.5L245.3 187.1L245.1 186.5L244.6 185.5L244.3 185L243.9 184.5L243.3 183.7L243 183.5L242.3 182.9L241.7 182.5L241.3 182.3L240.3 181.8L239.3 181.6L239 181.5L238.3 181.4L237.3 181.3L236.3 181.2L235.3 181.2L234.3 181.2L233.3 181.2L232.3 181.3L231.3 181.3L230.4 181.5L230.3 181.5L229.3 181.8L228.3 182.1L227.7 182.5L227.3 182.7L226.3 183.5L226.3 183.5L225.5 184.5L225.3 184.7L224.8 185.5L224.3 186.5L224.3 186.6L223.9 187.5L223.6 188.5L223.4 189.5L223.3 190.3L223.3 190.5L223.1 191.5L223 192.5L223 193.5L222.9 194.5L222.9 195.5L222.9 196.5L222.9 197.5L222.9 198.5L222.9 199.5L222.9 200.5L223 201.5L223 202.5L223.1 203.5L223.3 204.5L223.3 204.7L223.4 205.5L223.6 206.5L223.9 207.5L224.3 208.5L224.3 208.5L224.7 209.5L225.3 210.5L225.3 210.5L225.9 211.5L226.3 212.1L226.6 212.5L227.2 213.5L227.3 213.8L227.6 214.5L227.9 215.5L228.1 216.5L228.2 217.5L228.3 218.5L228.3 219.5L228.3 220.5L228.3 220.7L228.3 221.5L228.3 222.5L228.3 223.5L228.3 224.5L228.3 225.5L228.3 226.5L228.3 227.5L228.3 228.5L228.3 229.5L228.3 230.5L228.3 231.5L228.3 232.5L228.3 233.5L228.3 234.5L228.3 235.5L228.3 236.5L228.3 237.5L228.3 238.5L228.3 239.5L228.3 240.5L228.3 241.5L228.3 242.5L228.3 243.5L228.3 244.5L228.4 245.5L228.4 246.5L228.3 246.6L227.3 247.4L227.1 247.5L226.3 247.6L225.3 247.6L224.3 247.6L223.3 247.6L222.3 247.6L221.3 247.6L220.3 247.6L219.3 247.6L218.3 247.6L217.3 247.6L216.3 247.6L215.3 247.6M215.3 258.6L216.3 258.7L217.3 259L218.3 259.2L219.1 259.5L219.3 259.6L220.3 260.3L220.6 260.5L221.3 261.1L221.7 261.5L222.3 262L222.9 262.5L223.3 262.9L224 263.5L224.3 263.8L225.1 264.5L225.3 264.6L226.3 265.5L226.3 265.5L227.3 266.2L227.7 266.5L228.3 267L229 267.5L229.3 267.7L230.3 268.3L230.6 268.5L231.3 268.9L232.3 269.3L233 269.5L233.3 269.6L234.3 269.7L235.3 269.7L236.2 269.5L236.3 269.5L237.3 269.1L238.3 268.7L238.5 268.5L239.3 268.1L240.2 267.5L240.3 267.4L241.3 266.7L241.5 266.5L242.3 265.9L242.8 265.5L243.3 265.1L244 264.5L244.3 264.3L245.2 263.5L245.3 263.4L246.3 262.6L246.4 262.5L247.3 261.6L247.5 261.5L248.3 260.7L248.5 260.5L249.3 260L249.9 259.5L250.3 259.4L251.3 259.2L251.8 258.5L252.3 257.8L253 257.5L253.3 257.2L254.3 256.5L254.3 256.5L255.3 255.7L256.3 255.6L257.3 255.7L258.3 256L259.3 255.6L259.4 255.5L260.3 254.5L260.6 255.5L261.3 256.3L261.4 256.5L261.9 257.5L262.2 258.5L262.3 259.5L262.2 260.5L262.1 261.5L262.1 262.5L262.3 263.5L262.3 263.7L262.5 264.5L262.8 265.5L263 266.5L263.1 267.5L263.3 268.5L263.3 268.6L264.3 269.2L265.3 269.1L266.3 269.1L267.3 269.1L268.3 269.1L269.3 269L270.3 269L271.3 269L272.3 269L273.3 269L274.3 269L275.3 269L276.3 269L277.3 269L278.3 269L279.3 269L280.3 269L281.3 269L282.3 269L283.3 269L284.3 269L285.3 269L286.3 269L287.3 269L288.3 269L289.3 269L290.3 269L291.3 269L292.3 269L293.3 269L294.3 268.9L295.3 268.8L296.3 268.6L296.5 268.5L297.3 268.2L298.3 267.7L298.7 267.5L299.3 267.1L300.3 266.5L300.3 266.5L301.3 265.9L302.1 265.5L302.3 265.4L303.3 265L304.3 264.6L304.8 264.5L305.3 264.4L306.3 264.1L307.3 264L308.3 263.9L309.3 263.8L310.3 263.7L311.3 263.7L312.3 263.7L313.3 263.7L314.3 263.7L315.3 263.7L316.3 263.7L317.3 263.7L318.3 263.7L319.3 263.8L320.3 263.8L321.3 263.9L322.3 264.1L323.3 264.3L324.1 264.5L324.3 264.5L325.3 264.8L326.3 265.2L326.8 265.5L327.3 265.8L328.3 266.5L328.3 266.5L329.3 267.4L329.4 267.5L330.1 268.5L330.3 269L330.5 269.5L330.9 270.5L331.1 271.5L331.2 272.5L331.2 273.5L331.2 274.5L331.2 275.5L331.2 276.5L331.2 277.5L331.1 278.5L330.9 279.5L330.6 280.5L330.3 281.3L330.2 281.5L329.6 282.5L329.3 282.8L328.7 283.5L328.3 283.8L327.3 284.5L327.3 284.5L326.3 285L325.3 285.4L325 285.5L324.3 285.7L323.3 286L322.3 286.2L321.3 286.3L320.3 286.4L319.3 286.5L318.6 286.5L318.3 286.5L317.3 286.6L316.3 286.6L315.3 286.6L314.3 286.6L313.3 286.6L312.3 286.6L311.3 286.5L310.3 286.5L310.3 286.5L309.3 286.4L308.3 286.4L307.3 286.3L306.3 286.1L305.3 285.9L304.3 285.6L303.9 285.5L303.3 285.3L302.3 284.9L301.5 284.5L301.3 284.4L300.3 283.8L299.9 283.5L299.3 283.2L298.3 282.6L298.1 282.5L297.3 282.2L296.3 281.8L295.3 281.6L294.5 281.5L294.3 281.5L293.3 281.4L292.3 281.4L291.3 281.4L290.3 281.3L289.3 281.3L288.3 281.3L287.3 281.3L286.3 281.3L285.3 281.3L284.3 281.3L283.3 281.3L282.3 281.3L281.3 281.3L280.3 281.3L279.3 281.3L278.3 281.3L277.3 281.3L276.3 281.3L275.3 281.3L274.3 281.3L273.3 281.3L272.3 281.3L271.3 281.3L270.3 281.3L269.3 281.3L268.3 281.3L267.3 281.3L266.3 281.3L265.3 281.3L264.3 281.2L263.7 281.5L263.3 281.8L263.2 282.5L263.1 283.5L263.1 284.5L263.1 285.5L263.1 286.5L263.1 287.5L263.1 288.5L263.1 289.5L263.1 290.5L263.1 291.5L263.1 292.5L263.1 293.5L263.1 294.5M251.8 294.5L251.7 293.5L251.5 292.5L251.3 291.7L251.2 291.5L250.8 290.5L250.3 289.6L250.2 289.5L249.4 288.5L249.3 288.4L248.5 287.5L248.3 287.3L247.5 286.5L247.3 286.3L246.6 285.5L246.3 285.2L245.7 284.5L245.3 284L244.8 283.5L244.3 282.9L244 282.5L243.3 281.7L243.2 281.5L242.4 280.5L242.3 280.3L241.8 279.5L241.3 278.7L241.2 278.5L240.7 277.5L240.4 276.5L240.3 275.8L240.3 275.5L240.3 274.5L240.3 274.5L240.5 273.5L240.9 272.5L241.3 271.8L241.4 271.5L242.1 270.5L242.3 270.2L242.8 269.5L243.3 268.8L243.6 268.5L244.3 267.6L244.4 267.5L245.2 266.5L245.3 266.4L246.1 265.5L246.3 265.3L247 264.5L247.3 264.2L248 263.5L248.3 263.2L248.9 262.5L249.3 262.1L249.9 261.5L249.3 261.1L248.9 261.5L248.3 262.1L247.9 262.5L247.3 263.1L246.9 263.5L246.3 264.1L245.9 264.5L245.3 265.1L244.9 265.5L244.3 266.1L243.9 266.5L243.3 267.1L242.9 267.5L242.3 268.1L241.9 268.5L241.3 269.1L240.9 269.5L240.3 270.1L239.9 270.5L239.3 271.1L238.9 271.5L238.3 272L237.9 272.5L237.3 273L236.8 273.5L236.3 274L235.8 274.5L235.3 275L234.8 275.5L234.3 276L233.3 276L232.8 276.5L232.3 277L231.8 277.5L231.3 278L230.9 278.5L230.3 279L229.9 279.5L229.3 280.1L228.9 280.5L228.3 281.1L227.9 281.5L227.3 282.1L226.9 282.5L226.3 283.1L225.9 283.5L225.3 284.1L224.9 284.5L224.3 285.1L223.9 285.5L223.3 286.1L222.9 286.5L222.3 287.1L221.9 287.5L221.3 288L220.8 288.5L220.3 289L219.8 289.5L219.3 290L218.8 290.5L218.3 291L217.8 291.5L217.3 292L216.8 292.5L216.3 293L215.8 293.5L215.3 294M297.3 212.8L296.9 213.5L297.3 213.8L297.6 213.5ZM296.3 214.1L295.9 214.5L296.3 214.8L296.6 214.5ZM298.3 214.4L298.2 214.5L297.3 215.3L297.1 215.5L296.3 216.3L296.1 216.5L295.3 217.4L295.2 217.5L294.3 218.5L294.3 218.5L293.4 219.5L293.3 219.6L292.5 220.5L292.3 220.8L291.6 221.5L291.3 221.9L290.7 222.5L290.3 223L289.8 223.5L289.3 224.1L289 224.5L288.3 225.3L288.1 225.5L288.3 225.7L289 226.5L289.3 226.8L290 227.5L290.3 227.9L290.9 228.5L291.3 228.9L291.8 229.5L292.3 230L292.8 230.5L293.3 231L293.8 231.5L294.3 232L294.8 232.5L295.3 233L295.9 233.5L296.3 233.8L297.2 234.5L297.3 234.6L298.3 234.9L299.3 234.7L299.4 234.5L299.8 233.5L299.9 232.5L299.9 231.5L299.9 230.5L299.9 229.5L299.9 228.5L299.9 227.5L299.9 226.5L299.9 225.5L299.9 224.5L299.9 223.5L299.9 222.5L299.9 221.5L299.9 220.5L299.9 219.5L299.9 218.5L299.9 217.5L299.9 216.5L299.9 215.5L299.7 214.5L299.3 214L298.3 214.4M295.3 215L294.8 215.5L295.3 215.8L295.7 215.5ZM260.3 251.2L260.5 251.5L260.6 252.5L260.3 253.5L259.6 252.5L259.8 251.5ZM250.3 260L249.9 260.5L250.3 261L250.5 260.5Z" fill="none" stroke="#333" stroke-width="0.35" stroke-opacity="0.7"/>
<path d="M262.7 172.5L262.3 172.8L261.9 173.5L261.9 174.5L261.9 175.5L261.9 176.5L261.9 177.5L261.9 178.5L261.9 179.5L261.9 180.5L261.9 181.5L261.9 182.5L261.9 183.5L261.9 184.5L261.8 185.5L261.8 186.5L261.7 187.5L261.7 188.5L261.7 189.5L261.6 190.5L262.1 191.5L262.1 192.5L262.1 193.5L262.1 194.5L262.1 195.5L262.1 196.5L262.1 197.5L261.6 198.5L261.7 199.5L261.7 200.5L261.7 201.5L261.8 202.5L261.9 203.5L261.9 204.5L261.9 205.5L261.9 206.5L261.9 207.5L261.9 208.5L261.9 209.5L261.9 210.5L261.9 211.5L261.9 212.5L261.9 213.5L261.9 214.5L261.9 215.5L261.9 216.5L261.9 217.5L261.9 218.5L261.9 219.5L261.9 220.5L261.9 221.5L261.9 222.5L261.9 223.5L261.9 224.5L261.9 225.5L261.9 226.5L261.9 227.5L261.9 228.5L261.9 229.5L261.9 230.5L261.9 231.5L261.9 232.5L261.9 233.5L261.9 234.5L261.9 235.5L261.9 236.5L261.9 237.5L261.9 238.5L261.9 239.5L261.9 240.5L261.9 241.5L261.9 242.5L261.9 243.5L261.9 244.5L261.9 245.5L261.9 246.5L261.8 247.5L261.3 248.2L261.2 248.5L260.4 249.5L260.3 249.6L260 249.5L259.3 249.3L258.3 249L257.3 249.2L256.3 249.3L255.3 249.2L254.3 248.8L253.8 248.5L253.3 248.2L252.3 247.8L251.3 247.5L250.3 247.6L249.3 247.8L248.3 247.8L247.3 247.7L246.3 247.5L246.2 247.5L245.3 246.5L245.3 246.5L245.2 245.5L245.2 244.5L245.3 243.8L245.3 243.5L245.7 242.5L246.3 241.7L246.5 241.5L247.3 240.7L247.6 240.5L248.3 239.5L248.3 239.4L249.3 239.5L249.3 239.5L250 240.5L250.3 240.7L251.3 240.6L251.3 240.5L251.5 239.5L251.5 238.5L251.5 237.5L251.6 236.5L251.6 235.5L251.7 234.5L251.7 233.5L251.7 232.5L251.7 231.5L251.8 230.5L251.8 229.5L251.8 228.5L251.8 227.5L251.8 226.5L251.8 225.5L251.8 224.5L251.8 223.5L251.8 222.5L251.8 221.5L251.8 220.5L251.8 219.5L251.8 218.5L251.8 217.5L251.8 216.5L251.8 215.5L251.8 214.5L251.8 213.5L251.8 212.5L251.8 211.5L251.8 210.5L251.8 209.5L251.8 208.5L251.8 207.5L251.8 206.5L251.8 205.5L251.8 204.5L251.8 203.5L251.8 202.5L251.8 201.5L251.8 200.5L251.8 199.5L251.8 198.5L251.8 197.5L251.8 196.5L251.8 195.5L251.8 194.5L251.8 193.5L251.8 192.5L251.8 191.5L251.8 190.5L251.8 189.5L251.8 188.5L251.8 187.5L251.8 186.5L251.8 185.5L251.8 184.5L251.8 183.5L251.8 182.5L251.8 181.5L251.8 180.5L251.8 179.5L251.8 178.5L251.8 177.5L251.8 176.5L251.8 175.5L251.8 174.5L251.8 173.5L251.8 172.5M324.4 172.5L324.3 172.5L323.3 173.1L323.1 173.5L323.1 174.5L323.1 175.5L323.1 176.5L323.1 177.5L323.1 178.5L323.1 179.5L323.1 180.5L323.1 181.5L323.1 182.5L323.1 183.5L323.1 184.5L323 185.5L322.9 186.5L322.6 187.5L322.3 188.3L321.7 188.5L321.3 188.6L320.3 188.8L319.3 188.9L318.3 188.9L317.3 188.9L316.3 188.9L315.3 188.9L314.3 188.8L313.3 188.8L312.3 188.6L312.1 188.5L311.3 188.2L310.6 187.5L310.3 186.9L310.1 186.5L309.9 185.5L309.9 184.5L309.9 183.5L309.9 182.5L309.8 181.5L309.8 180.5L309.8 179.5L309.8 178.5L309.8 177.5L309.8 176.5L309.8 175.5L309.8 174.5L309.8 173.5L309.8 172.5M215.3 259.5L215.5 259.5L216.3 259.7L217.3 260.2L217.9 260.5L218.3 260.9L219 261.5L219.3 261.8L219.9 262.5L220.3 262.9L220.8 263.5L221.3 264L221.8 264.5L222.3 265.1L222.6 265.5L223.3 266.3L223.5 266.5L224.3 267.4L224.4 267.5L225.1 268.5L225.3 268.8L225.8 269.5L226.3 270.2L226.5 270.5L227.1 271.5L227.3 271.8L227.7 272.5L228.1 273.5L228.3 274.3L228.4 274.5L228.5 275.5L228.4 276.5L228.3 276.8L228.2 277.5L227.8 278.5L227.3 279.2L227.2 279.5L226.4 280.5L226.3 280.6L225.6 281.5L225.3 281.8L224.7 282.5L224.3 283L223.9 283.5L223.3 284.2L223.1 284.5L222.3 285.4L222.2 285.5L221.3 286.5L221.3 286.5L220.4 287.5L220.3 287.6L219.5 288.5L219.3 288.7L218.5 289.5L218.3 289.7L217.6 290.5L217.3 290.8L216.6 291.5L216.3 291.8L215.6 292.5L215.3 292.8M252.6 294.5L252.5 293.5L252.3 293L252.2 292.5L252 291.5L251.8 290.5L251.6 289.5L251.6 288.5L251.5 287.5L251.5 286.5L251.5 285.5L251.5 284.5L251.5 283.5L251.5 282.5L251.5 281.5L251.5 280.5L251.5 279.5L251.5 278.5L251.5 277.5L251.5 276.5L251.5 275.5L251.5 274.5L251.5 273.5L251.5 272.5L251.5 271.5L251.5 270.5L251.5 269.5L251.5 268.5L251.5 267.5L251.5 266.5L251.5 265.5L251.5 264.5L251.5 263.5L251.6 262.5L251.6 261.5L251.7 260.5L252.1 259.5L252.3 259.2L253.2 258.5L253.3 258.4L254.3 257.5L254.3 257.5L255.3 256.8L256.3 256.7L257.3 256.8L258.3 257.1L259.3 256.7L259.8 256.5L260.3 256.3L260.5 256.5L261.3 257.5L261.3 257.5L261.6 258.5L261.8 259.5L261.7 260.5L261.6 261.5L261.7 262.5L261.8 263.5L261.9 264.5L262.1 265.5L262.2 266.5L262.2 267.5L262.3 268.4L262.3 268.5L262.4 269.5L262.5 270.5L262.6 271.5L262.6 272.5L262.6 273.5L262.6 274.5L262.6 275.5L262.6 276.5L262.6 277.5L262.6 278.5L262.6 279.5L262.5 280.5L262.4 281.5L262.3 282.1L262.3 282.5L262.3 283.5L262.2 284.5L262.2 285.5L262.2 286.5L262.2 287.5L262.2 288.5L262.2 289.5L262.2 290.5L262.2 291.5L262.2 292.5L262.2 293.5L262.2 294.5M311.3 210.4L312.3 210.3L313.3 210.2L313.9 210.5L314.3 210.9L315.3 210.8L316.3 210.8L317.3 210.8L318.3 210.8L319.3 210.8L320.3 210.9L321.3 211.1L322.1 211.5L322.3 211.7L323 212.5L323.2 213.5L323.3 214.4L323.3 214.5L323.3 215.5L323.4 216.5L323.4 217.5L323.4 218.5L323.4 219.5L323.4 220.5L323.4 221.5L323.4 222.5L323.4 223.5L323.4 224.5L323.4 225.5L323.4 226.5L323.4 227.5L323.4 228.5L323.4 229.5L323.4 230.5L323.4 231.5L323.4 232.5L323.4 233.5L323.4 234.5L323.4 235.5L323.4 236.5L323.4 237.5L323.4 238.5L323.4 239.5L323.4 240.5L323.4 241.5L323.4 242.5L324.3 242.9L325.3 243.3L325.8 243.5L325.8 244.5L325.7 245.5L325.4 246.5L325.3 246.6L324.3 247.2L323.7 247.5L323.3 247.5L322.3 247.7L321.3 247.8L320.8 247.5L320.3 247.1L319.3 247.2L318.3 247.2L317.3 247.2L316.3 247.2L315.3 247.2L314.3 247.1L313.8 247.5L313.3 247.7L312.3 247.6L311.4 247.5L311.3 247.4L310.3 246.8L309.9 246.5L309.7 245.5L309.6 244.5L309.5 243.5L309.5 242.5L309.5 241.5L309.5 240.5L309.5 239.5L309.5 238.5L309.5 237.5L309.5 236.5L309.5 235.5L309.5 234.5L309.5 233.5L309.5 232.5L309.5 231.5L309.5 230.5L309.5 229.5L309.5 228.5L309.5 227.5L309.5 226.5L309.5 225.5L309.5 224.5L309.5 223.5L309.5 222.5L309.5 221.5L309.5 220.5L309.5 219.5L309.5 218.5L309.5 217.5L309.5 216.5L309.5 215.5L309.6 214.5L309.6 213.5L309.7 212.5L310 211.5L310.3 211.1L310.9 210.5ZM285.3 227.1L286.3 227L287 227.5L287.3 227.8L288.2 228.5L288.3 228.6L289.3 229.4L289.4 229.5L290.3 230.3L290.5 230.5L291.3 231.2L291.6 231.5L292.3 232.1L292.7 232.5L293.3 233L293.8 233.5L294.3 233.9L295 234.5L295.3 234.8L296.1 235.5L296.3 235.7L297.2 236.5L297.3 236.6L297.9 237.5L298.3 238.5L298.3 238.5L298.3 238.6L297.3 239.4L296.9 239.5L296.3 239.6L295.3 239.6L294.3 239.6L293.3 239.6L292.3 239.6L291.3 239.6L290.3 239.6L289.3 239.6L288.3 239.6L287.3 239.6L286.3 239.6L285.3 239.6L284.3 239.6L283.3 239.6L282.3 239.6L281.3 239.6L280.3 239.6L279.3 239.6L278.3 239.5L278 239.5L277.3 239.4L276.3 238.7L276.2 238.5L276.1 237.5L276.3 236.7L276.3 236.5L277 235.5L277.3 235.1L277.8 234.5L278.3 233.9L278.7 233.5L279.3 232.8L279.6 232.5L280.3 231.8L280.6 231.5L281.3 230.8L281.6 230.5L282.3 229.9L282.7 229.5L283.3 228.9L283.7 228.5L284.3 228L284.8 227.5ZM311.3 266.5L312.3 266.4L313.3 266.4L314.3 266.4L315.3 266.4L316.3 266.4L317.3 266.5L318 266.5L318.3 266.5L319.3 266.6L320.3 266.8L321.3 267L322.3 267.3L322.7 267.5L323.3 267.8L324.3 268.5L324.3 268.5L325.2 269.5L325.3 269.6L325.8 270.5L326.1 271.5L326.3 272.5L326.3 272.6L326.4 273.5L326.4 274.5L326.4 275.5L326.4 276.5L326.3 277.5L326.3 277.7L326.2 278.5L325.9 279.5L325.4 280.5L325.3 280.6L324.6 281.5L324.3 281.8L323.3 282.5L323.2 282.5L322.3 282.9L321.3 283.2L320.3 283.5L320.3 283.5L319.3 283.7L318.3 283.8L317.3 283.8L316.3 283.8L315.3 283.8L314.3 283.8L313.3 283.8L312.3 283.8L311.3 283.8L310.3 283.7L309.3 283.6L308.7 283.5L308.3 283.4L307.3 283.1L306.3 282.8L305.6 282.5L305.3 282.3L304.3 281.9L303.3 281.6L303 281.5L302.3 281.3L301.3 280.9L300.4 280.5L300.3 280.5L299.3 279.7L299.1 279.5L298.6 278.5L298.4 277.5L298.3 276.6L298.3 276.5L298.3 275.5L298.3 274.5L298.3 273.8L298.3 273.5L298.4 272.5L298.7 271.5L299.3 270.6L299.4 270.5L300.3 269.9L301.1 269.5L301.3 269.4L302.3 269.1L303.3 268.7L304 268.5L304.3 268.4L305.3 267.9L306.2 267.5L306.3 267.5L307.3 267.1L308.3 266.9L309.3 266.7L310.3 266.6L311 266.5Z" fill="none" stroke="#333" stroke-width="0.35" stroke-opacity="0.7"/>
<path d="M261.8 172.5L261.3 173.4L261.2 173.5L261.2 174.5L261.2 175.5L261.2 176.5L261.2 177.5L261.2 178.5L261.2 179.5L261.2 180.5L261.2 181.5L261.2 182.5L261.2 183.5L261.2 184.5L261.2 185.5L261.2 186.5L261.2 187.5L261.2 188.5L261.1 189.5L261.1 190.5L261.3 190.9L261.6 191.5L261.6 192.5L261.6 193.5L261.6 194.5L261.6 195.5L261.6 196.5L261.6 197.5L261.3 198.1L261.1 198.5L261.1 199.5L261.2 200.5L261.2 201.5L261.2 202.5L261.2 203.5L261.2 204.5L261.2 205.5L261.2 206.5L261.2 207.5L261.2 208.5L261.2 209.5L261.2 210.5L261.2 211.5L261.2 212.5L261.2 213.5L261.2 214.5L261.2 215.5L261.2 216.5L261.2 217.5L261.2 218.5L261.2 219.5L261.2 220.5L261.2 221.5L261.2 222.5L261.2 223.5L261.2 224.5L261.2 225.5L261.2 226.5L261.2 227.5L261.2 228.5L261.2 229.5L261.2 230.5L261.2 231.5L261.2 232.5L261.2 233.5L261.2 234.5L261.2 235.5L261.2 236.5L261.2 237.5L261.2 238.5L261.2 239.5L261.2 240.5L261.2 241.5L261.2 242.5L261.2 243.5L261.2 244.5L261.2 245.5L261.2 246.5L261.1 247.5L260.6 248.5L260.3 248.9L259.3 248.7L258.7 248.5L258.3 248.3L257.8 248.5L257.3 248.6L256.3 248.7L255.3 248.6L255.1 248.5L254.3 248L253.7 247.5L253.4 246.5L253.3 245.5L253.3 244.5L253.3 243.5L253.4 242.5L253.4 241.5L253.4 240.5L253.4 239.5L253.4 238.5L253.4 237.5L253.5 236.5L253.5 235.5L253.5 234.5L253.5 233.5L253.5 232.5L253.5 231.5L253.5 230.5L253.5 229.5L253.5 228.5L253.5 227.5L253.5 226.5L253.5 225.5L253.5 224.5L253.5 223.5L253.5 222.5L253.5 221.5L253.5 220.5L253.5 219.5L253.5 218.5L253.5 217.5L253.5 216.5L253.5 215.5L253.5 214.5L253.5 213.5L253.5 212.5L253.5 211.5L253.5 210.5L253.5 209.5L253.5 208.5L253.5 207.5L253.5 206.5L253.5 205.5L253.5 204.5L253.5 203.5L253.5 202.5L253.5 201.5L253.5 200.5L253.5 199.5L253.5 198.5L253.5 197.5L253.5 196.5L253.5 195.5L253.5 194.5L253.5 193.5L253.5 192.5L253.5 191.5L253.5 190.5L253.5 189.5L253.5 188.5L253.5 187.5L253.5 186.5L253.5 185.5L253.5 184.5L253.5 183.5L253.5 182.5L253.5 181.5L253.5 180.5L253.5 179.5L253.5 178.5L253.5 177.5L253.5 176.5L253.5 175.5L253.5 174.5L253.5 173.5L253.5 172.5M322.6 172.5L322.4 173.5L322.4 174.5L322.4 175.5L322.4 176.5L322.4 177.5L322.4 178.5L322.4 179.5L322.4 180.5L322.4 181.5L322.4 182.5L322.4 183.5L322.4 184.5L322.3 185.5L322.3 185.5L321.6 186.5L321.3 186.7L320.3 187L319.3 187.1L318.3 187.2L317.3 187.2L316.3 187.2L315.3 187.1L314.3 187.1L313.3 186.8L312.7 186.5L312.3 186.1L312 185.5L311.8 184.5L311.7 183.5L311.7 182.5L311.7 181.5L311.7 180.5L311.7 179.5L311.7 178.5L311.7 177.5L311.7 176.5L311.7 175.5L311.7 174.5L311.7 173.5L311.7 172.5M253.7 294.5L253.5 293.5L253.3 292.7L253.3 292.5L253.1 291.5L253 290.5L252.9 289.5L252.9 288.5L252.9 287.5L252.9 286.5L252.9 285.5L252.9 284.5L252.9 283.5L252.9 282.5L252.9 281.5L252.9 280.5L252.9 279.5L252.9 278.5L252.9 277.5L252.9 276.5L252.9 275.5L252.9 274.5L252.9 273.5L252.9 272.5L252.9 271.5L252.9 270.5L252.9 269.5L252.9 268.5L252.9 267.5L252.9 266.5L252.9 265.5L252.9 264.5L252.9 263.5L252.9 262.5L253 261.5L253 260.5L253.3 259.8L253.4 259.5L254.3 258.6L254.4 258.5L255.3 257.9L256.3 257.7L257.3 257.8L258.3 258.2L259.3 257.8L259.9 257.5L260.3 257.3L260.4 257.5L261 258.5L261.2 259.5L261.1 260.5L261.1 261.5L261.1 262.5L261.3 263.5L261.3 263.7L261.4 264.5L261.5 265.5L261.6 266.5L261.7 267.5L261.7 268.5L261.8 269.5L261.8 270.5L261.9 271.5L261.9 272.5L261.9 273.5L261.9 274.5L261.9 275.5L261.9 276.5L261.9 277.5L261.9 278.5L261.8 279.5L261.8 280.5L261.8 281.5L261.7 282.5L261.7 283.5L261.7 284.5L261.7 285.5L261.7 286.5L261.7 287.5L261.7 288.5L261.7 289.5L261.7 290.5L261.7 291.5L261.7 292.5L261.7 293.5L261.7 294.5M313.3 211.3L313.5 211.5L314.3 212.3L315.3 212L316.3 212L317.3 212L318.3 212L319.3 212.1L320.3 212.3L320.6 212.5L321.3 213.4L321.4 213.5L321.6 214.5L321.6 215.5L321.7 216.5L321.7 217.5L321.7 218.5L321.7 219.5L321.7 220.5L321.7 221.5L321.7 222.5L321.7 223.5L321.7 224.5L321.7 225.5L321.7 226.5L321.7 227.5L321.7 228.5L321.7 229.5L321.7 230.5L321.7 231.5L321.7 232.5L321.7 233.5L321.7 234.5L321.7 235.5L321.7 236.5L321.7 237.5L321.7 238.5L321.7 239.5L321.7 240.5L321.7 241.5L321.7 242.5L322.3 243L323.1 243.5L323.1 244.5L322.8 245.5L322.3 246.2L321.9 246.5L321.3 246.7L321 246.5L320.3 245.8L319.3 246.1L318.3 246.2L317.3 246.3L316.3 246.2L315.3 246.1L314.3 245.9L313.6 246.5L313.3 246.7L312.8 246.5L312.3 246L312 245.5L311.7 244.5L311.6 243.5L311.6 242.5L311.6 241.5L311.6 240.5L311.6 239.5L311.6 238.5L311.6 237.5L311.6 236.5L311.6 235.5L311.6 234.5L311.6 233.5L311.6 232.5L311.6 231.5L311.6 230.5L311.6 229.5L311.6 228.5L311.6 227.5L311.6 226.5L311.6 225.5L311.6 224.5L311.6 223.5L311.6 222.5L311.6 221.5L311.6 220.5L311.6 219.5L311.6 218.5L311.6 217.5L311.6 216.5L311.6 215.5L311.6 214.5L311.7 213.5L312 212.5L312.3 212.1L312.9 211.5ZM311.3 269.5L312.3 269.2L313.3 269L314.3 269L315.3 269L316.3 269.1L317.3 269.3L317.8 269.5L318.3 269.6L319.3 269.8L320.3 270.4L320.5 270.5L321.3 271.1L321.8 271.5L322.3 272.3L322.4 272.5L322.8 273.5L322.9 274.5L322.8 275.5L322.7 276.5L322.5 277.5L322.3 278L322 278.5L321.3 279.4L321.2 279.5L320.3 280.1L319.4 280.5L319.3 280.6L318.3 280.9L317.3 281L316.3 281.1L315.3 281.1L314.3 281.1L313.3 281.1L312.3 281L311.3 280.8L310.3 280.5L310.3 280.5L309.3 280L308.6 279.5L308.3 279.3L307.7 278.5L307.3 277.8L307.1 277.5L306.9 276.5L306.6 275.5L306.5 274.5L306.5 273.5L306.8 272.5L307.3 271.8L307.5 271.5L308.3 270.8L308.7 270.5L309.3 270.1L310.3 269.7L311.3 269.5ZM219.3 273.7L220.3 273.6L221.3 273.6L222.3 273.6L223.3 273.9L223.9 274.5L224.3 274.9L224.8 275.5L224.9 276.5L224.3 277.3L224.1 277.5L223.3 278.3L222.3 278.4L221.3 278.5L220.3 278.4L219.3 278.4L218.3 277.5L218.3 277.5L217.5 276.5L217.5 275.5L218.3 274.6L218.5 274.5Z" fill="none" stroke="#333" stroke-width="0.35" stroke-opacity="0.7"/>
<path d="M258.3 172.5L258.3 173.5L258.3 174.5L258.3 175.5L258.3 176.5L258.3 177.5L258.3 178.5L258.3 179.5L258.3 180.5L258.3 181.5L258.3 182.5L258.3 183.5L258.3 184.5L258.3 185.5L258.3 186.5L258.3 187.5L258.3 188.5L258.3 189.5L258.3 190.5L258.3 191.5L258.3 192.5L258.2 193.5L258.2 194.5L258.2 195.5L258.2 196.5L258.3 197.5L258.3 198.5L258.3 199.5L258.3 200.5L258.3 201.5L258.3 202.5L258.3 203.5L258.3 204.5L258.3 205.5L258.3 206.5L258.3 207.5L258.3 208.5L258.3 209.5L258.3 210.5L258.3 211.5L258.3 212.5L258.3 213.5L258.3 214.5L258.3 215.5L258.3 216.5L258.3 217.5L258.3 218.5L258.3 219.5L258.3 220.5L258.3 221.5L258.3 222.5L258.3 223.5L258.3 224.5L258.3 225.5L258.3 226.5L258.3 227.5L258.3 228.5L258.3 229.5L258.3 230.5L258.3 231.5L258.3 232.5L258.3 233.5L258.3 234.5L258.3 235.5L258.3 236.5L258.3 237.5L258.3 238.5L258.3 239.5L258.3 240.5L258.3 241.5L258.3 242.5L258.3 243.5L258.3 244.5L258.3 245.5L258.2 246.5L257.7 247.5L257.3 247.6L256.3 247.7L255.3 247.6L255.2 247.5L254.9 246.5L254.8 245.5L254.8 244.5L254.8 243.5L254.8 242.5L254.9 241.5L254.9 240.5L254.9 239.5L254.9 238.5L254.9 237.5L254.9 236.5L254.9 235.5L254.9 234.5L254.9 233.5L254.9 232.5L254.9 231.5L254.9 230.5L254.9 229.5L254.9 228.5L254.9 227.5L254.9 226.5L254.9 225.5L254.9 224.5L254.9 223.5L254.9 222.5L254.9 221.5L254.9 220.5L254.9 219.5L254.9 218.5L254.9 217.5L254.9 216.5L254.9 215.5L254.9 214.5L254.9 213.5L254.9 212.5L254.9 211.5L254.9 210.5L254.9 209.5L254.9 208.5L254.9 207.5L254.9 206.5L254.9 205.5L254.9 204.5L254.9 203.5L254.9 202.5L254.9 201.5L254.9 200.5L254.9 199.5L254.9 198.5L254.9 197.5L254.9 196.5L254.9 195.5L254.9 194.5L254.9 193.5L254.9 192.5L254.9 191.5L254.9 190.5L254.9 189.5L254.9 188.5L254.9 187.5L254.9 186.5L254.9 185.5L254.9 184.5L254.9 183.5L254.9 182.5L254.9 181.5L254.9 180.5L254.9 179.5L254.9 178.5L254.9 177.5L254.9 176.5L254.9 175.5L254.9 174.5L254.9 173.5L254.9 172.5M261.1 172.5L260.7 173.5L260.7 174.5L260.7 175.5L260.7 176.5L260.7 177.5L260.7 178.5L260.7 179.5L260.7 180.5L260.7 181.5L260.7 182.5L260.7 183.5L260.7 184.5L260.7 185.5L260.7 186.5L260.7 187.5L260.7 188.5L260.7 189.5L260.6 190.5L260.9 191.5L260.9 192.5L260.9 193.5L260.9 194.5L260.9 195.5L260.9 196.5L260.9 197.5L260.6 198.5L260.7 199.5L260.7 200.5L260.7 201.5L260.7 202.5L260.7 203.5L260.7 204.5L260.7 205.5L260.7 206.5L260.7 207.5L260.7 208.5L260.7 209.5L260.7 210.5L260.7 211.5L260.7 212.5L260.7 213.5L260.7 214.5L260.7 215.5L260.7 216.5L260.7 217.5L260.7 218.5L260.7 219.5L260.7 220.5L260.7 221.5L260.7 222.5L260.7 223.5L260.7 224.5L260.7 225.5L260.7 226.5L260.7 227.5L260.7 228.5L260.7 229.5L260.7 230.5L260.7 231.5L260.7 232.5L260.7 233.5L260.7 234.5L260.7 235.5L260.7 236.5L260.7 237.5L260.7 238.5L260.7 239.5L260.7 240.5L260.7 241.5L260.7 242.5L260.7 243.5L260.7 244.5L260.7 245.5L260.7 246.5L260.6 247.5L260.3 248.2L259.3 247.7L258.8 247.5L258.4 246.5L258.3 245.5L258.3 244.5L258.3 243.5L258.3 242.5L258.3 241.5L258.3 240.5L258.3 239.5L258.3 238.5L258.3 237.5L258.3 236.5L258.3 235.5L258.3 234.5L258.3 233.5L258.3 232.5L258.3 231.5L258.3 230.5L258.3 229.5L258.3 228.5L258.3 227.5L258.3 226.5L258.3 225.5L258.3 224.5L258.3 223.5L258.3 222.5L258.3 221.5L258.3 220.5L258.3 219.5L258.3 218.5L258.3 217.5L258.3 216.5L258.3 215.5L258.3 214.5L258.3 213.5L258.3 212.5L258.3 211.5L258.3 210.5L258.3 209.5L258.3 208.5L258.3 207.5L258.3 206.5L258.3 205.5L258.3 204.5L258.3 203.5L258.3 202.5L258.3 201.5L258.3 200.5L258.3 199.5L258.3 198.5L258.3 197.5L258.3 196.5L258.3 195.5L258.3 194.5L258.3 193.5L258.3 192.5L258.3 191.5L258.3 190.5L258.3 189.5L258.3 188.5L258.3 187.5L258.3 186.5L258.3 185.5L258.3 184.5L258.3 183.5L258.3 182.5L258.3 181.5L258.3 180.5L258.3 179.5L258.3 178.5L258.3 177.5L258.3 176.5L258.3 175.5L258.3 174.5L258.3 173.5L258.3 172.5M320.8 172.5L320.8 173.5L320.8 174.5L320.8 175.5L320.8 176.5L320.8 177.5L320.8 178.5L320.8 179.5L320.8 180.5L320.8 181.5L320.7 182.5L320.6 183.5L320.3 184.4L320.2 184.5L319.3 185.2L318.3 185.4L317.3 185.4L316.3 185.4L315.3 185.3L314.3 184.8L314 184.5L313.7 183.5L313.5 182.5L313.4 181.5L313.4 180.5L313.4 179.5L313.4 178.5L313.4 177.5L313.4 176.5L313.4 175.5L313.4 174.5L313.4 173.5L313.4 172.5M254.9 294.5L254.8 293.5L254.7 292.5L254.7 291.5L254.7 290.5L254.7 289.5L254.7 288.5L254.7 287.5L254.7 286.5L254.7 285.5L254.7 284.5L254.7 283.5L254.7 282.5L254.7 281.5L254.7 280.5L254.7 279.5L254.7 278.5L254.7 277.5L254.7 276.5L254.7 275.5L254.7 274.5L254.7 273.5L254.7 272.5L254.7 271.5L254.7 270.5L254.7 269.5L254.7 268.5L254.7 267.5L254.7 266.5L254.7 265.5L254.7 264.5L254.7 263.5L254.7 262.5L254.7 261.5L254.7 260.5L255 259.5L255.3 259.2L256.3 259L257.3 259.2L257.7 259.5L258 260.5L258 261.5L258 262.5L258.1 263.5L258.1 264.5L258.2 265.5L258.3 266.5L258.3 267.5L258.3 268.5L258.3 267.5L258.3 266.5L258.4 265.5L258.5 264.5L258.6 263.5L258.8 262.5L258.8 261.5L258.8 260.5L259 259.5L259.3 259.3L260.3 258.9L260.5 259.5L260.4 260.5L260.4 261.5L260.4 262.5L260.5 263.5L260.7 264.5L260.8 265.5L261 266.5L261 267.5L261.1 268.5L261.1 269.5L261.2 270.5L261.2 271.5L261.2 272.5L261.2 273.5L261.2 274.5L261.2 275.5L261.2 276.5L261.2 277.5L261.2 278.5L261.2 279.5L261.2 280.5L261.1 281.5L261.1 282.5L261.1 283.5L261.1 284.5L261.1 285.5L261.1 286.5L261.1 287.5L261.1 288.5L261.1 289.5L261.1 290.5L261.1 291.5L261.1 292.5L261.1 293.5L261.1 294.5M258.3 294.5L258.3 293.5L258.3 292.5L258.3 291.5L258.3 290.5L258.3 289.5L258.3 288.5L258.3 287.5L258.3 286.5L258.3 285.5L258.3 284.5L258.3 283.5L258.3 282.9L258.3 283.5L258.3 284.5L258.3 285.5L258.3 286.5L258.3 287.5L258.3 288.5L258.3 289.5L258.3 290.5L258.3 291.5L258.3 292.5L258.3 293.5L258.3 294.5M313.3 213.5L313.3 213.5L313.9 214.5L314.2 215.5L314.3 216.5L314.3 216.7L314.3 216.5L314.4 215.5L314.7 214.5L315.3 213.9L316.3 213.6L317.3 213.5L318.3 213.6L319.3 214.2L319.5 214.5L319.8 215.5L319.9 216.5L319.9 217.5L319.9 218.5L319.9 219.5L319.9 220.5L319.9 221.5L319.9 222.5L319.9 223.5L319.9 224.5L319.9 225.5L319.9 226.5L319.9 227.5L320 228.5L320.1 229.5L320.2 230.5L320.3 231.5L320.3 232.5L320.3 233.5L320.3 234.5L320.3 235.5L320.3 236.5L320.3 237.5L320.3 238.5L320.3 239.5L320.3 240.5L320.3 241.5L320.2 242.5L320 243.5L319.5 244.5L319.3 244.6L318.3 245L317.3 245.1L316.3 245L315.3 244.7L315 244.5L314.3 243.5L313.5 244.5L313.3 244.7L313.2 244.5L313 243.5L312.9 242.5L312.9 241.5L312.9 240.5L312.9 239.5L312.9 238.5L312.9 237.5L312.9 236.5L312.9 235.5L312.9 234.5L312.9 233.5L312.9 232.5L312.9 231.5L312.9 230.5L312.9 229.5L312.9 228.5L312.9 227.5L313 226.5L313 225.5L313 224.5L313 223.5L313 222.5L313 221.5L313 220.5L313 219.5L313 218.5L313 217.5L313 216.5L313 215.5L313.1 214.5L313.3 213.5ZM321.3 243.3L321.5 243.5L321.3 244.4L320.8 243.5ZM311.3 270.4L312.3 270.3L313.3 270.2L314.3 270.1L315.3 270.2L316.3 270.2L317.3 270.3L318 270.5L318.3 270.6L319.3 271.1L319.9 271.5L320.3 271.9L320.8 272.5L321.1 273.5L321 274.5L320.5 275.5L320.3 275.7L319.3 276.4L319.2 276.5L318.3 277L317.3 277.2L316.3 277.5L316.1 277.5L315.3 277.6L314.3 277.7L313.3 277.6L312.7 277.5L312.3 277.4L311.3 277.2L310.3 276.9L309.6 276.5L309.3 276.3L308.5 275.5L308.3 275.2L308 274.5L308 273.5L308.3 272.5L308.3 272.5L309.2 271.5L309.3 271.4L310.3 270.9L311.1 270.5Z" fill="none" stroke="#333" stroke-width="0.35" stroke-opacity="0.7"/>
</g>
<rect x="215.3" y="172.5" width="124.9" height="121.5" fill="none" stroke="#555" stroke-width="0.6"/>
<rect x="345.0" y="173.4" width="8.6" height="8.1" fill="#8a0b22"/>
<rect x="345.0" y="181.3" width="8.6" height="11.3" fill="#d7252d"/>
<rect x="345.0" y="192.4" width="8.6" height="12.5" fill="#f6704f"/>
<rect x="345.0" y="204.7" width="8.6" height="16.3" fill="#fcbb91"/>
<rect x="345.0" y="220.8" width="8.6" height="9.5" fill="#fde0d2"/>
<rect x="345.0" y="230.1" width="8.6" height="15.5" fill="#e2eff5"/>
<rect x="345.0" y="245.4" width="8.6" height="13" fill="#a3d2e7"/>
<rect x="345.0" y="258.2" width="8.6" height="14.3" fill="#43a6d7"/>
<rect x="345.0" y="272.3" width="8.6" height="12.9" fill="#1681c4"/>
<rect x="345.0" y="285" width="8.6" height="7.9" fill="#0c4a8a"/>
<rect x="345.0" y="173.4" width="8.6" height="119.29999999999998" fill="none" stroke="#555" stroke-width="0.4"/>
<line x1="353.6" y1="173.4" x2="354.8" y2="173.4" stroke="#444" stroke-width="0.4"/>
<text x="355.6" y="174.3" font-size="2.5" fill="#111" stroke="#111" stroke-width="0.14">0.01175</text>
<line x1="353.6" y1="188.3" x2="354.8" y2="188.3" stroke="#444" stroke-width="0.4"/>
<text x="355.6" y="189.2" font-size="2.5" fill="#111" stroke="#111" stroke-width="0.14">0.008775</text>
<line x1="353.6" y1="203.2" x2="354.8" y2="203.2" stroke="#444" stroke-width="0.4"/>
<text x="355.6" y="204.1" font-size="2.5" fill="#111" stroke="#111" stroke-width="0.14">0.005850</text>
<line x1="353.6" y1="218.1" x2="354.8" y2="218.1" stroke="#444" stroke-width="0.4"/>
<text x="355.6" y="219" font-size="2.5" fill="#111" stroke="#111" stroke-width="0.14">0.002925</text>
<line x1="353.6" y1="233.1" x2="354.8" y2="233.1" stroke="#444" stroke-width="0.4"/>
<text x="355.6" y="233.9" font-size="2.5" fill="#111" stroke="#111" stroke-width="0.14">0.000</text>
<line x1="353.6" y1="248" x2="354.8" y2="248" stroke="#444" stroke-width="0.4"/>
<text x="355.6" y="248.8" font-size="2.5" fill="#111" stroke="#111" stroke-width="0.14">-0.002925</text>
<line x1="353.6" y1="262.9" x2="354.8" y2="262.9" stroke="#444" stroke-width="0.4"/>
<text x="355.6" y="263.8" font-size="2.5" fill="#111" stroke="#111" stroke-width="0.14">-0.005850</text>
<line x1="353.6" y1="277.8" x2="354.8" y2="277.8" stroke="#444" stroke-width="0.4"/>
<text x="355.6" y="278.7" font-size="2.5" fill="#111" stroke="#111" stroke-width="0.14">-0.008775</text>
<line x1="353.6" y1="292.7" x2="354.8" y2="292.7" stroke="#444" stroke-width="0.4"/>
<text x="355.6" y="293.6" font-size="2.5" fill="#111" stroke="#111" stroke-width="0.14">-0.01170</text>
<line x1="215.3" y1="294" x2="215.3" y2="295.3" stroke="#444" stroke-width="0.45"/>
<line x1="214" y1="294" x2="215.3" y2="294" stroke="#444" stroke-width="0.45"/>
<text x="215.3" y="301.3" font-size="4.2" text-anchor="middle" stroke="#111" stroke-width="0.2" fill="#111" >400</text>
<text x="213.3" y="295.4" font-size="4.2" text-anchor="end" stroke="#111" stroke-width="0.2" fill="#111" >400</text>
<line x1="229.2" y1="294" x2="229.2" y2="295.3" stroke="#444" stroke-width="0.45"/>
<line x1="214" y1="280.5" x2="215.3" y2="280.5" stroke="#444" stroke-width="0.45"/>
<text x="229.2" y="301.3" font-size="4.2" text-anchor="middle" stroke="#111" stroke-width="0.2" fill="#111" >800</text>
<text x="213.3" y="281.9" font-size="4.2" text-anchor="end" stroke="#111" stroke-width="0.2" fill="#111" >800</text>
<line x1="243.1" y1="294" x2="243.1" y2="295.3" stroke="#444" stroke-width="0.45"/>
<line x1="214" y1="267" x2="215.3" y2="267" stroke="#444" stroke-width="0.45"/>
<text x="243.1" y="301.3" font-size="4.2" text-anchor="middle" stroke="#111" stroke-width="0.2" fill="#111" >1200</text>
<text x="213.3" y="268.4" font-size="4.2" text-anchor="end" stroke="#111" stroke-width="0.2" fill="#111" >1200</text>
<line x1="256.9" y1="294" x2="256.9" y2="295.3" stroke="#444" stroke-width="0.45"/>
<line x1="214" y1="253.5" x2="215.3" y2="253.5" stroke="#444" stroke-width="0.45"/>
<text x="256.9" y="301.3" font-size="4.2" text-anchor="middle" stroke="#111" stroke-width="0.2" fill="#111" >1600</text>
<text x="213.3" y="254.9" font-size="4.2" text-anchor="end" stroke="#111" stroke-width="0.2" fill="#111" >1600</text>
<line x1="270.8" y1="294" x2="270.8" y2="295.3" stroke="#444" stroke-width="0.45"/>
<line x1="214" y1="240" x2="215.3" y2="240" stroke="#444" stroke-width="0.45"/>
<text x="270.8" y="301.3" font-size="4.2" text-anchor="middle" stroke="#111" stroke-width="0.2" fill="#111" >2000</text>
<text x="213.3" y="241.4" font-size="4.2" text-anchor="end" stroke="#111" stroke-width="0.2" fill="#111" >2000</text>
<line x1="284.7" y1="294" x2="284.7" y2="295.3" stroke="#444" stroke-width="0.45"/>
<line x1="214" y1="226.5" x2="215.3" y2="226.5" stroke="#444" stroke-width="0.45"/>
<text x="284.7" y="301.3" font-size="4.2" text-anchor="middle" stroke="#111" stroke-width="0.2" fill="#111" >2400</text>
<text x="213.3" y="227.9" font-size="4.2" text-anchor="end" stroke="#111" stroke-width="0.2" fill="#111" >2400</text>
<line x1="298.6" y1="294" x2="298.6" y2="295.3" stroke="#444" stroke-width="0.45"/>
<line x1="214" y1="213" x2="215.3" y2="213" stroke="#444" stroke-width="0.45"/>
<text x="298.6" y="301.3" font-size="4.2" text-anchor="middle" stroke="#111" stroke-width="0.2" fill="#111" >2800</text>
<text x="213.3" y="214.4" font-size="4.2" text-anchor="end" stroke="#111" stroke-width="0.2" fill="#111" >2800</text>
<line x1="312.4" y1="294" x2="312.4" y2="295.3" stroke="#444" stroke-width="0.45"/>
<line x1="214" y1="199.5" x2="215.3" y2="199.5" stroke="#444" stroke-width="0.45"/>
<text x="312.4" y="301.3" font-size="4.2" text-anchor="middle" stroke="#111" stroke-width="0.2" fill="#111" >3200</text>
<text x="213.3" y="200.9" font-size="4.2" text-anchor="end" stroke="#111" stroke-width="0.2" fill="#111" >3200</text>
<line x1="326.3" y1="294" x2="326.3" y2="295.3" stroke="#444" stroke-width="0.45"/>
<line x1="214" y1="186" x2="215.3" y2="186" stroke="#444" stroke-width="0.45"/>
<text x="326.3" y="301.3" font-size="4.2" text-anchor="middle" stroke="#111" stroke-width="0.2" fill="#111" >3600</text>
<text x="213.3" y="187.4" font-size="4.2" text-anchor="end" stroke="#111" stroke-width="0.2" fill="#111" >3600</text>
<line x1="340.2" y1="294" x2="340.2" y2="295.3" stroke="#444" stroke-width="0.45"/>
<line x1="214" y1="172.5" x2="215.3" y2="172.5" stroke="#444" stroke-width="0.45"/>
<text x="340.2" y="301.3" font-size="4.2" text-anchor="middle" stroke="#111" stroke-width="0.2" fill="#111" >4000</text>
<text x="213.3" y="173.9" font-size="4.2" text-anchor="end" stroke="#111" stroke-width="0.2" fill="#111" >4000</text>
<text x="277.8" y="309.3" font-size="5.3" text-anchor="middle" font-weight="bold" stroke="#111" stroke-width="0.12" fill="#111" >Wavenumbers (cm<tspan font-size="3.3" dy="-2">-1</tspan><tspan dy="2">)</tspan></text>
<text x="199" y="229.2" font-size="5.3" text-anchor="middle" font-weight="bold" stroke="#111" stroke-width="0.12" transform="rotate(-90 199 229.2)" fill="#111" >Wavenumbers (cm<tspan font-size="3.3" dy="-2">-1</tspan><tspan dy="2">)</tspan></text>
<defs><filter id="gb" x="-30%" y="-30%" width="160%" height="160%"><feGaussianBlur stdDeviation="0.6"/></filter></defs>
<g clip-path="url(#clipE)" filter="url(#gb)" fill="#8c8c8c" fill-opacity="0.5" stroke="#8c8c8c" stroke-opacity="0.6">
<rect x="215.3" y="185" width="5.4" height="36" stroke="none"/>
<rect x="215.3" y="232" width="5.5" height="17" stroke="none"/>
<rect x="215.3" y="258" width="5.5" height="36" stroke="none"/>
<rect x="229.0" y="172.5" width="1.6" height="9" stroke="none"/>
<rect x="233.6" y="172.5" width="1.6" height="9" stroke="none"/>
<rect x="263" y="276.8" width="77" height="3.6" stroke="none"/>
<rect x="296" y="287.0" width="35" height="5.0" stroke="none"/>
<rect x="275" y="232.5" width="27" height="6.5" stroke="none"/>
<rect x="322.7" y="232.5" width="17.3" height="6.5" stroke="none"/>
<rect x="275.5" y="211.0" width="23" height="2.2" stroke="none"/>
<rect x="275.5" y="229.5" width="24" height="2.2" stroke="none"/>
<rect x="275.3" y="211" width="2.6" height="20" stroke="none"/>
<line x1="229.5" y1="213" x2="229.5" y2="245" stroke-width="1.0"/>
<line x1="235.5" y1="213" x2="235.5" y2="245" stroke-width="1.2"/>
<line x1="240.5" y1="213" x2="240.5" y2="240" stroke-width="0.9"/>
<line x1="244.6" y1="173" x2="244.6" y2="188" stroke-width="0.9"/>
<line x1="248.8" y1="176" x2="248.8" y2="232" stroke-width="0.7"/>
<line x1="233" y1="232" x2="233" y2="249" stroke-width="1.5"/>
<line x1="238" y1="232" x2="238" y2="249" stroke-width="1.0"/>
<line x1="279" y1="214" x2="286.6" y2="225.6" stroke-width="1.3"/>
<line x1="298" y1="212.8" x2="286.6" y2="225.6" stroke-width="1.3"/>
<line x1="286.6" y1="225.6" x2="286.6" y2="240" stroke-width="1.2"/>
<line x1="225" y1="266" x2="244" y2="286" stroke-width="1.2"/>
<line x1="244" y1="266" x2="225" y2="286" stroke-width="1.2"/>
<line x1="263" y1="272.8" x2="285" y2="272.8" stroke-width="0.7"/>
<line x1="300" y1="271" x2="340" y2="271" stroke-width="0.7"/>
<line x1="263" y1="284" x2="340" y2="284" stroke-width="0.6"/>
</g>
<line x1="215.3" y1="294" x2="340.2" y2="172.5" stroke="#555" stroke-width="0.4" clip-path="url(#clipE)"/>
<text x="193.2" y="167.2" font-size="10.0" text-anchor="middle" font-weight="bold" stroke="#111" stroke-width="0.12" fill="#111" >(E)</text>
<rect x="403.0" y="170.3" width="137.0" height="127.0" fill="none" stroke="#444" stroke-width="0.8"/>
<rect x="404.8" y="281" width="15.6" height="16.3" fill="#c2826f"/>
<rect x="404.8" y="267" width="15.6" height="14.1" fill="#e7d9c6"/>
<rect x="404.8" y="202.1" width="15.6" height="65" fill="#72c4bd"/>
<rect x="404.8" y="182.2" width="15.6" height="20" fill="#94a9c2"/>
<text x="412.6" y="304.1" font-size="4.6" text-anchor="middle" stroke="#111" stroke-width="0.2" fill="#111" >WPI</text>
<line x1="412.6" y1="297.3" x2="412.6" y2="296.1" stroke="#444" stroke-width="0.5"/>
<rect x="424.4" y="277" width="15.6" height="20.3" fill="#c2826f"/>
<rect x="424.4" y="253.7" width="15.6" height="23.3" fill="#e7d9c6"/>
<rect x="424.4" y="233.1" width="15.6" height="20.7" fill="#72c4bd"/>
<rect x="424.4" y="182.2" width="15.6" height="51" fill="#94a9c2"/>
<text x="432.2" y="304.1" font-size="4.6" text-anchor="middle" stroke="#111" stroke-width="0.2" fill="#111" >1:50</text>
<line x1="432.2" y1="297.3" x2="432.2" y2="296.1" stroke="#444" stroke-width="0.5"/>
<rect x="444" y="273.2" width="15.6" height="24.1" fill="#c2826f"/>
<rect x="444" y="250" width="15.6" height="23.2" fill="#e7d9c6"/>
<rect x="444" y="219.9" width="15.6" height="30.2" fill="#72c4bd"/>
<rect x="444" y="182.2" width="15.6" height="37.8" fill="#94a9c2"/>
<text x="451.8" y="304.1" font-size="4.6" text-anchor="middle" stroke="#111" stroke-width="0.2" fill="#111" >1:50U</text>
<line x1="451.8" y1="297.3" x2="451.8" y2="296.1" stroke="#444" stroke-width="0.5"/>
<rect x="463.6" y="276.8" width="15.6" height="20.5" fill="#c2826f"/>
<rect x="463.6" y="257.8" width="15.6" height="19.2" fill="#e7d9c6"/>
<rect x="463.6" y="211.2" width="15.6" height="46.7" fill="#72c4bd"/>
<rect x="463.6" y="182.2" width="15.6" height="29.1" fill="#94a9c2"/>
<text x="471.4" y="304.1" font-size="4.6" text-anchor="middle" stroke="#111" stroke-width="0.2" fill="#111" >1:25</text>
<line x1="471.4" y1="297.3" x2="471.4" y2="296.1" stroke="#444" stroke-width="0.5"/>
<rect x="483.2" y="276" width="15.6" height="21.3" fill="#c2826f"/>
<rect x="483.2" y="250" width="15.6" height="26.1" fill="#e7d9c6"/>
<rect x="483.2" y="233.3" width="15.6" height="16.9" fill="#72c4bd"/>
<rect x="483.2" y="182.2" width="15.6" height="51.2" fill="#94a9c2"/>
<text x="491" y="304.1" font-size="4.6" text-anchor="middle" stroke="#111" stroke-width="0.2" fill="#111" >1:25U</text>
<line x1="491" y1="297.3" x2="491" y2="296.1" stroke="#444" stroke-width="0.5"/>
<rect x="502.8" y="276.5" width="15.6" height="20.8" fill="#c2826f"/>
<rect x="502.8" y="252.1" width="15.6" height="24.5" fill="#e7d9c6"/>
<rect x="502.8" y="234.4" width="15.6" height="17.8" fill="#72c4bd"/>
<rect x="502.8" y="182.2" width="15.6" height="52.3" fill="#94a9c2"/>
<text x="510.6" y="304.1" font-size="4.6" text-anchor="middle" stroke="#111" stroke-width="0.2" fill="#111" >1:12.5</text>
<line x1="510.6" y1="297.3" x2="510.6" y2="296.1" stroke="#444" stroke-width="0.5"/>
<rect x="522.4" y="276.5" width="15.6" height="20.8" fill="#c2826f"/>
<rect x="522.4" y="251.9" width="15.6" height="24.7" fill="#e7d9c6"/>
<rect x="522.4" y="232.7" width="15.6" height="19.3" fill="#72c4bd"/>
<rect x="522.4" y="182.2" width="15.6" height="50.6" fill="#94a9c2"/>
<text x="530.2" y="304.1" font-size="4.6" text-anchor="middle" stroke="#111" stroke-width="0.2" fill="#111" >1:12.5U</text>
<line x1="530.2" y1="297.3" x2="530.2" y2="296.1" stroke="#444" stroke-width="0.5"/>
<line x1="403.0" y1="297.2" x2="404.3" y2="297.2" stroke="#444" stroke-width="0.5"/>
<text x="401.3" y="298.7" font-size="4.4" text-anchor="end" stroke="#111" stroke-width="0.2" fill="#111" >0</text>
<line x1="403.0" y1="274.2" x2="404.3" y2="274.2" stroke="#444" stroke-width="0.5"/>
<text x="401.3" y="275.7" font-size="4.4" text-anchor="end" stroke="#111" stroke-width="0.2" fill="#111" >20</text>
<line x1="403.0" y1="251.2" x2="404.3" y2="251.2" stroke="#444" stroke-width="0.5"/>
<text x="401.3" y="252.7" font-size="4.4" text-anchor="end" stroke="#111" stroke-width="0.2" fill="#111" >40</text>
<line x1="403.0" y1="228.2" x2="404.3" y2="228.2" stroke="#444" stroke-width="0.5"/>
<text x="401.3" y="229.7" font-size="4.4" text-anchor="end" stroke="#111" stroke-width="0.2" fill="#111" >60</text>
<line x1="403.0" y1="205.2" x2="404.3" y2="205.2" stroke="#444" stroke-width="0.5"/>
<text x="401.3" y="206.7" font-size="4.4" text-anchor="end" stroke="#111" stroke-width="0.2" fill="#111" >80</text>
<line x1="403.0" y1="182.2" x2="404.3" y2="182.2" stroke="#444" stroke-width="0.5"/>
<text x="401.3" y="183.7" font-size="4.4" text-anchor="end" stroke="#111" stroke-width="0.2" fill="#111" >100</text>
<text x="390.4" y="235.5" font-size="5.6" text-anchor="middle" font-weight="bold" stroke="#111" stroke-width="0.12" transform="rotate(-90 390.4 235.5)" fill="#111" >Secondary-structure contents (%)</text>
<text x="368.7" y="168.5" font-size="10.0" text-anchor="middle" font-weight="bold" stroke="#111" stroke-width="0.12" fill="#111" >(F)</text>
<rect x="419.8" y="174.4" width="7.2" height="3.0" fill="#c2826f"/>
<text x="428.4" y="177.3" font-size="3.3" fill="#111" stroke="#111" stroke-width="0.1">random coil</text>
<rect x="452.5" y="174.4" width="7.2" height="3.0" fill="#e7d9c6"/>
<text x="461.1" y="177.3" font-size="3.3" fill="#111" stroke="#111" stroke-width="0.1">α-helix</text>
<rect x="477.0" y="174.4" width="7.2" height="3.0" fill="#72c4bd"/>
<text x="485.6" y="177.3" font-size="3.3" fill="#111" stroke="#111" stroke-width="0.1">β-sheet</text>
<rect x="502.8" y="174.4" width="7.2" height="3.0" fill="#94a9c2"/>
<text x="511.4" y="177.3" font-size="3.3" fill="#111" stroke="#111" stroke-width="0.1">β-turn</text>
</svg></body></html>
